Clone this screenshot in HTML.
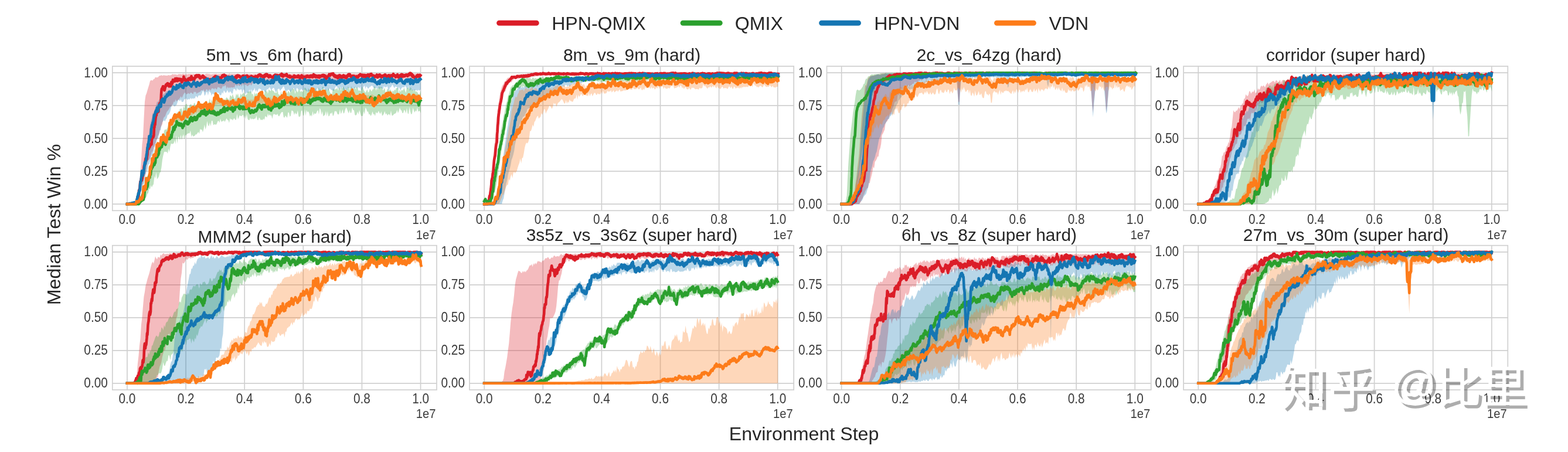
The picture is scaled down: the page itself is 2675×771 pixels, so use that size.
<!DOCTYPE html>
<html lang="en"><head><meta charset="utf-8"><title>Median Test Win % vs Environment Step</title>
<style>html,body{margin:0;padding:0;background:#fff;}body{width:2675px;height:771px;overflow:hidden;}svg{display:block;}text{font-family:"Liberation Sans","Noto Sans CJK SC",sans-serif;fill:#262626;}.tk text{font-size:20.8px;fill:#3a3a3a;}.tt{font-size:29.9px;}.lb{font-size:32.15px;}.lg{font-size:32.1px;}.ln{fill:none;stroke-linejoin:round;stroke-linecap:square;stroke-width:4.6;vector-effect:non-scaling-stroke;}.bd{stroke:none;fill-opacity:0.3;}</style></head><body>
<svg width="2675" height="771" viewBox="0 0 2675 771">
<rect width="2675" height="771" fill="#fff"/>
<g>
<path d="M216.95 113.00V359.30M317.07 113.00V359.30M417.19 113.00V359.30M517.31 113.00V359.30M617.43 113.00V359.30M717.55 113.00V359.30M191.80 348.10H745.00M191.80 292.13H745.00M191.80 236.15H745.00M191.80 180.17H745.00M191.80 124.20H745.00" stroke="#d0d0d0" stroke-width="1.7" fill="none"/>
<path class="bd" fill="#db1d28" transform="translate(216.95 348.10) scale(1.5 -0.1)" d="M1 2 l1 2 1 3 1 2 1 2 1 2 1 3 1 2 1 1 1 3 1 69 1 73 1 66 1 143 1 160 1 213 1 271 1 130 1 303 1 290 1 110 1 35 1 54 1 49 1 47 1 61 1 17 1-3 1-3 1 24 1 2 1 32 1-6 1 3 1 0 1 18 1 10 1 1 1 10 1-12 1 8 1 2 1-6 1 1 1-2 1 2 1 7 1-6 1 2 1 3 1 12 1 6 1-9 1 6 1-4 1 0 1-9 1 15 1 0 1 2 1-4 1-4 1 11 1 2 1-9 1-7 1 6 1-1 1 3 1 6 1-3 1 3 1-4 1-2 1 3 1 2 1-11 1 6 1 3 1 2 1-2 1 1 1-7 1 5 1-4 1 4 1-3 1-6 1 9 1 2 1 6 1-10 1 8 1-11 1 0 1-1 1 3 1 0 1 5 1 2 1 2 1-3 1-9 1 10 1-8 1 9 1 0 1-6 1 4 1 2 1 1 1-6 1-2 1-1 1 1 1 9 1 1 1-14 1 14 1-11 1 3 1 3 1-3 1 1 1 4 1-3 1 1 1-6 1-4 1 4 1 0 1 4 1 2 1 0 1-4 1 7 1-2 1-7 1 5 1-1 1-1 1-11 1 12 1 0 1 3 1-2 1-4 1 2 1 1 1 1 1 1 1 2 1 1 1-3 1-4 1 5 1 1 1 0 1-2 1 4 1-3 1-4 1 0 1-3 1 1 1-3 1 5 1 2 1 3 1 1 1-5 1-1 1 5 1 0 1-1 1 1 1 0 1 0 1 1 1-4 1 5 1-1 1-4 1 5 1-2 1-8 1 4 1 4 1-1 1 1 1-4 1-2 1 2 1 0 1-1 1 7 1-10 1 11 1 1 1-7 1 8 1-7 1 1 1 1 1-1 1 1 1-4 1 3 1-1 1 3 1-7 1 8 1 0 1 0 1-4 1 2 1-1 1-3 1 4 1-3 1 6 1-6 1 6 1-3 1-3 1 8 1-2 1-8 1 6 1 2 1-2 1 1 1-1 1 1 1-4 1 1 1 4 1-2 1-8 1 7 1 3 1-3 1 1 1-5 1 2 1 3 1-3 1-1 1-1 1 7 1 1 1-5 1 4 1-4 1-2 1 5 1-1 1 4 1-4 1-1 1 1 1 2 1-11 1 10 1 0 1 0 1-3 1 1 1 3 1-2 1-5 1 9 1-5 1 4 1 2 1-3 1 0 1 2 1-2 1 1 1 2 1-5 1 4 1-1 1-1 1 0 1 1 1-2 1 4 1-7 1 2 1-2 1 3 1 0 1 3 1-7 1 5 1-2 1 6 1-4 1-2 1 3 1 1 1-5 1 1 1-1 1 0 1 6 1-2 1-3 1 0 1 2 1 0 1-4 1 1 1 1 1-1 1 1 1-1 1 4 1 2 1-1 1 0 1-2 1-1 1-2 1 4 1 0 1 0 1-1 1 0 1 2 1 1 1-4 0-92 -1 10 -1-24 -1-5 -1 17 -1-6 -1-6 -1 0 -1 2 -1 8 -1-2 -1 19 -1-44 -1 13 -1 19 -1-15 -1-14 -1 7 -1 27 -1-1 -1-29 -1-2 -1 29 -1-14 -1 0 -1-20 -1 18 -1-20 -1 12 -1 2 -1-15 -1 33 -1-9 -1 8 -1-17 -1 6 -1-8 -1 3 -1 0 -1-10 -1-8 -1 32 -1-6 -1-10 -1-12 -1 0 -1 24 -1 16 -1-19 -1 10 -1-3 -1-20 -1 11 -1-22 -1 8 -1 24 -1-33 -1 18 -1 12 -1-7 -1-15 -1 1 -1 18 -1-5 -1-2 -1-18 -1-6 -1 10 -1 12 -1 20 -1-43 -1 25 -1-13 -1 27 -1-5 -1-1 -1 14 -1-43 -1 14 -1 11 -1-18 -1 27 -1 1 -1-24 -1 12 -1-18 -1-2 -1-5 -1 36 -1-17 -1-21 -1 11 -1 2 -1 19 -1-8 -1-10 -1-2 -1-14 -1-7 -1 15 -1 16 -1-20 -1 32 -1-17 -1 2 -1-15 -1-11 -1 12 -1 8 -1-4 -1-12 -1-6 -1 11 -1 9 -1 9 -1-31 -1 7 -1 8 -1-10 -1 5 -1-2 -1 38 -1 7 -1-23 -1-26 -1 34 -1 9 -1-13 -1-8 -1 27 -1-28 -1 1 -1-20 -1 9 -1-4 -1 3 -1 28 -1-7 -1-22 -1 22 -1 1 -1-5 -1-19 -1 33 -1-30 -1-20 -1 37 -1-33 -1-1 -1-6 -1 15 -1-3 -1 32 -1-29 -1-13 -1 24 -1-9 -1 29 -1-1 -1-46 -1 47 -1-30 -1-13 -1 34 -1-14 -1 3 -1-7 -1-12 -1 2 -1 5 -1-10 -1 10 -1-28 -1 21 -1 10 -1-39 -1-2 -1 41 -1-16 -1-30 -1 20 -1-16 -1 55 -1-21 -1-16 -1 1 -1-3 -1 34 -1 2 -1-30 -1-2 -1 1 -1-26 -1-25 -1 34 -1-18 -1-11 -1-12 -1 8 -1 21 -1-15 -1 33 -1-45 -1 48 -1-63 -1 47 -1-34 -1 7 -1 23 -1-37 -1 24 -1 8 -1-52 -1 12 -1-7 -1-3 -1 12 -1-23 -1 22 -1-23 -1 31 -1-44 -1 65 -1-3 -1-22 -1 19 -1-34 -1-20 -1 6 -1 17 -1 3 -1 5 -1-42 -1 5 -1 23 -1-26 -1 17 -1-1 -1 1 -1-40 -1 19 -1 3 -1-37 -1 37 -1 6 -1-42 -1-6 -1 45 -1-23 -1 6 -1-3 -1-27 -1 2 -1-16 -1 0 -1-22 -1 43 -1-14 -1 15 -1-46 -1 13 -1 13 -1 2 -1-29 -1 18 -1-6 -1-9 -1-4 -1 31 -1-9 -1-22 -1-39 -1-22 -1 30 -1-29 -1-23 -1-8 -1-19 -1-9 -1 32 -1-49 -1 14 -1-50 -1-10 -1-30 -1 2 -1-29 -1-27 -1-18 -1-18 -1-40 -1-39 -1-4 -1-37 -1-90 -1-27 -1-27 -1-72 -1-49 -1-20 -1-62 -1-15 -1-59 -1-52 -1-2 -1-77 -1-6 -1-49 -1-56 -1-31 -1-4 -1-46 -1-60 -1-122 -1-33 -1-28 -1-110 -1-25 -1-86 -1-21 -1-51 -1-93 -1-58 -1-19 -1 0 -1 0 -1 0 -1 0 -1 0 -1 0 -1 0 -1 0 -1 0 -1 0z"/>
<path class="bd" fill="#2ba02e" transform="translate(216.95 348.10) scale(1.5 -0.1)" d="M10 0 l1 20 1 21 1 10 1 15 1 32 1 9 1 44 1 34 1 56 1 59 1 41 1 27 1 53 1 58 1 67 1 84 1 35 1 51 1 85 1 12 1 116 1 13 1-14 1 107 1-46 1 38 1 3 1 62 1 69 1-30 1 13 1 101 1 31 1-8 1 8 1 33 1 59 1-19 1-16 1-9 1 31 1 84 1-38 1 92 1-29 1 75 1 40 1-57 1 52 1 51 1-2 1 14 1-85 1 125 1-46 1 62 1 7 1 13 1-98 1 29 1 44 1 12 1 1 1-72 1 34 1 60 1 2 1-74 1 42 1-9 1-34 1 60 1-4 1-16 1-19 1-1 1 55 1-4 1-13 1 60 1-33 1-25 1 36 1 58 1-100 1 84 1-50 1 4 1 4 1 73 1-36 1 47 1-6 1 3 1 10 1-89 1 56 1-48 1 23 1 25 1-58 1 52 1 22 1-12 1-15 1-28 1 93 1-12 1-21 1 57 1-52 1-37 1 19 1 75 1-36 1 38 1-65 1 2 1 62 1-32 1 27 1 4 1 21 1-76 1 36 1-4 1 52 1 2 1 2 1 2 1 2 1-56 1 17 1-61 1 90 1-52 1 33 1-19 1-33 1 44 1 16 1-35 1 24 1-46 1-8 1 37 1 73 1-37 1 24 1-56 1 79 1-16 1-15 1 23 1-10 1-8 1-9 1-33 1 18 1-14 1 68 1-94 1 4 1-32 1 91 1-63 1 16 1 40 1-26 1-44 1 87 1-59 1 44 1-5 1-39 1 92 1-69 1 74 1-17 1 6 1-95 1 86 1-33 1-23 1 54 1-1 1-48 1 25 1-21 1 8 1 30 1 42 1-14 1-19 1-57 1 77 1-26 1-27 1 18 1 27 1-13 1-17 1-19 1 57 1-30 1-20 1 13 1 53 1-46 1 17 1-53 1 89 1 0 1-50 1-19 1 25 1-2 1-14 1 39 1-49 1-35 1-12 1-13 1 104 1-20 1-6 1 10 1 1 1 30 1-59 1 59 1-5 1-50 1 36 1 12 1 26 1-34 1-52 1 72 1-79 1 92 1-20 1-42 1 41 1 20 1-50 1-52 1 78 1 23 1-57 1 40 1 5 1-58 1-1 1 3 1-12 1 59 1 11 1-49 1-26 1-23 1 30 1 30 1-56 1 10 1 54 1-20 1-28 1 36 1 0 1 55 1-9 1-71 1 57 1-41 1 55 1 2 1-15 1 17 1-24 1-45 1 23 1 25 1-109 1 45 1 50 1-25 1-10 1 17 1-7 1-50 1 46 1-26 1 39 1-15 1 41 1 0 1-1 1-95 1 75 1-50 1 39 1-11 1 11 1 39 1-52 1-41 1 92 1-15 1 31 1-59 1 52 1-13 1-44 1 21 1-40 1 46 1-48 1 5 1-11 1-24 1-25 1 28 1 49 0-390 -1 38 -1 3 -1-16 -1 76 -1-73 -1 21 -1-38 -1 37 -1 49 -1-103 -1-14 -1 53 -1 74 -1-123 -1 17 -1 90 -1-94 -1 46 -1 17 -1-56 -1-1 -1 43 -1 14 -1 35 -1-55 -1-37 -1 55 -1-45 -1-19 -1-3 -1-15 -1-16 -1 1 -1 87 -1-90 -1 29 -1-6 -1-21 -1 39 -1-21 -1 58 -1-41 -1-27 -1-11 -1 74 -1-45 -1 21 -1 34 -1-28 -1-16 -1 28 -1-73 -1 36 -1-7 -1 52 -1-56 -1-26 -1 35 -1-8 -1 54 -1-8 -1 51 -1 21 -1-114 -1 53 -1-78 -1-4 -1 2 -1 55 -1 47 -1-77 -1 52 -1-56 -1-14 -1 11 -1 78 -1 4 -1 45 -1-88 -1-11 -1 56 -1-60 -1 33 -1 45 -1 26 -1-38 -1-56 -1-12 -1 72 -1-49 -1-32 -1 83 -1-82 -1-10 -1 14 -1 44 -1 0 -1 2 -1-65 -1-22 -1 69 -1-29 -1 15 -1-51 -1-8 -1 91 -1-87 -1 89 -1-68 -1-10 -1-14 -1 89 -1-64 -1 93 -1 22 -1-107 -1 74 -1-19 -1-35 -1-14 -1 17 -1-40 -1 75 -1-95 -1 32 -1-31 -1 55 -1 36 -1-20 -1 42 -1-102 -1 117 -1-109 -1 0 -1 86 -1-6 -1-90 -1-16 -1 10 -1 102 -1-56 -1-12 -1 34 -1-46 -1 57 -1 19 -1 1 -1-88 -1-15 -1 66 -1 9 -1-96 -1 21 -1 18 -1-35 -1 3 -1 92 -1 0 -1-15 -1-26 -1-31 -1 3 -1 39 -1-19 -1 5 -1-1 -1 17 -1-22 -1-66 -1 60 -1-4 -1 20 -1-29 -1 44 -1-68 -1 13 -1 12 -1-67 -1 23 -1-26 -1 8 -1-8 -1 26 -1 21 -1-50 -1 9 -1 70 -1-48 -1-5 -1-5 -1-5 -1 16 -1-19 -1 31 -1-41 -1 1 -1 19 -1 84 -1-85 -1 64 -1-51 -1 57 -1-6 -1-17 -1 2 -1 17 -1-41 -1-29 -1 94 -1-101 -1-6 -1 32 -1-13 -1-28 -1 25 -1-10 -1 26 -1-82 -1 48 -1 3 -1 29 -1-34 -1-29 -1 31 -1-21 -1 6 -1-15 -1 56 -1-71 -1 34 -1-7 -1-43 -1-20 -1 9 -1-2 -1-12 -1 78 -1-4 -1-93 -1 67 -1-69 -1 22 -1 69 -1-94 -1-52 -1 85 -1-75 -1-55 -1 49 -1-7 -1 16 -1-84 -1 31 -1-16 -1-27 -1 5 -1-26 -1-6 -1-10 -1 38 -1-44 -1 113 -1-54 -1 9 -1-12 -1-5 -1-27 -1 13 -1-81 -1 94 -1-40 -1-61 -1 93 -1-95 -1 48 -1 8 -1-114 -1 140 -1-151 -1 72 -1-58 -1-8 -1-4 -1 12 -1-54 -1-97 -1 64 -1-89 -1 33 -1-5 -1 8 -1-11 -1-53 -1-76 -1-131 -1-80 -1-14 -1-63 -1-24 -1-21 -1 123 -1-109 -1 41 -1-139 -1-21 -1-34 -1 40 -1-71 -1 14 -1-79 -1-12 -1-50 -1-20 -1-31 -1-22 -1-10 -1-3 -1-19 -1-8 -1-8 -1-5 -1 0 -1 0 -1 0z"/>
<path class="bd" fill="#1576b3" transform="translate(216.95 348.10) scale(1.5 -0.1)" d="M0 1 l1 3 1 5 1 4 1 5 1 4 1 5 1 5 1 3 1 5 1 1 1 70 1 84 1 75 1 65 1 81 1 62 1 90 1 89 1 50 1 74 1 85 1 116 1 79 1 77 1 86 1 122 1 65 1 58 1 88 1-12 1 57 1 35 1 50 1 58 1-2 1 29 1 24 1-18 1 35 1 31 1 31 1 1 1 18 1 21 1 8 1 1 1 14 1 13 1-24 1 45 1 15 1 6 1 5 1 13 1 1 1 11 1 9 1 10 1 8 1 0 1 13 1 2 1-19 1 35 1-6 1-1 1 4 1-5 1 7 1 6 1-10 1 11 1-21 1 22 1 4 1-13 1 2 1 12 1 0 1 1 1-6 1-7 1 10 1 1 1 7 1-4 1 11 1-2 1-3 1 12 1 5 1 1 1-6 1 7 1 4 1-5 1 8 1 0 1-2 1 2 1 0 1 22 1 22 1-43 1-13 1 6 1-9 1 13 1-10 1 16 1-13 1 16 1 2 1 6 1-8 1 1 1 33 1-38 1 43 1-44 1 2 1 0 1-6 1-3 1-5 1 15 1-2 1-26 1 9 1 18 1 0 1 7 1-9 1 16 1-20 1-8 1 7 1 11 1-2 1-11 1 30 1-21 1 6 1-10 1 3 1 4 1 0 1-1 1-24 1 18 1 9 1 0 1 0 1-6 1 6 1-4 1-11 1-10 1 21 1 0 1 3 1 5 1-20 1 10 1 14 1-4 1-15 1 8 1 50 1-45 1 16 1-12 1-5 1 7 1-11 1-2 1 7 1-2 1-9 1 13 1-1 1-3 1-6 1-9 1-5 1 16 1 4 1 1 1-4 1-3 1-10 1 11 1-8 1 6 1-7 1 13 1-3 1 5 1-12 1 0 1 11 1 0 1 7 1-18 1 0 1 0 1 10 1-3 1-2 1-10 1 11 1-13 1 19 1 0 1-11 1 4 1-23 1 9 1 23 1-24 1 16 1-2 1-1 1 6 1-16 1 16 1-18 1 22 1-4 1 8 1-11 1 6 1 0 1-4 1 3 1 4 1-12 1 9 1-11 1-9 1-5 1 18 1-15 1 11 1-3 1 1 1 11 1 2 1-1 1-8 1 11 1-12 1 8 1-6 1 7 1-4 1 1 1 1 1 1 1-8 1-16 1 26 1-14 1 4 1 0 1 5 1-11 1 12 1 1 1 0 1-8 1 8 1 8 1-22 1 1 1 13 1-6 1 4 1 1 1 2 1-10 1 12 1-21 1-16 1 28 1-21 1 12 1 13 1 7 1-19 1 1 1 6 1 8 1 5 1-12 1 7 1 6 1-3 1-6 1 5 1-3 1 0 1-6 1 5 1-2 1-3 1-13 1 18 1-2 1-6 1 11 1-2 1-18 1-18 1 26 1 14 1-4 1-2 1 1 1 0 1 1 1-22 1 0 1 8 1 15 1-13 1 15 1-11 1 12 1-3 1 5 1-11 1 6 1-2 0-180 -1-9 -1-7 -1 15 -1-23 -1 17 -1-5 -1 3 -1-14 -1 19 -1-19 -1 30 -1-22 -1-1 -1 81 -1-64 -1 23 -1 27 -1 11 -1-30 -1 10 -1-4 -1-16 -1-33 -1 24 -1 37 -1-64 -1 60 -1 3 -1 4 -1-27 -1 19 -1 39 -1-13 -1-35 -1 6 -1-46 -1-13 -1 74 -1-13 -1 0 -1-5 -1 23 -1-56 -1 15 -1 3 -1 14 -1-34 -1 31 -1-29 -1 32 -1-17 -1 6 -1 1 -1 8 -1 28 -1 4 -1-14 -1-7 -1-20 -1-14 -1 24 -1 21 -1-47 -1 60 -1-22 -1-16 -1-39 -1-11 -1 68 -1-33 -1 26 -1-5 -1-26 -1 27 -1-11 -1 3 -1-43 -1 24 -1 1 -1 28 -1-30 -1 23 -1-14 -1-54 -1 51 -1-9 -1-41 -1 13 -1 70 -1-33 -1-23 -1 58 -1-59 -1 37 -1 7 -1 18 -1-7 -1-44 -1-27 -1 3 -1 13 -1 0 -1 18 -1 8 -1-36 -1 6 -1 21 -1-37 -1 11 -1 45 -1-13 -1-5 -1-20 -1-12 -1 9 -1 1 -1 28 -1 6 -1-39 -1-26 -1 33 -1-16 -1 24 -1 25 -1-5 -1-43 -1-1 -1-18 -1 11 -1 0 -1 19 -1 12 -1-3 -1-3 -1-3 -1 24 -1-29 -1 18 -1-7 -1 18 -1 16 -1-40 -1-25 -1 51 -1 8 -1-22 -1-27 -1-21 -1 22 -1 13 -1 13 -1-30 -1 14 -1-33 -1 67 -1 38 -1-19 -1-26 -1-11 -1-29 -1 42 -1-4 -1-7 -1-36 -1-16 -1 36 -1 39 -1-1 -1-15 -1-26 -1 27 -1 31 -1-22 -1-18 -1 3 -1-37 -1-20 -1 25 -1 18 -1-12 -1-2 -1 30 -1 1 -1 10 -1-23 -1-45 -1 46 -1-40 -1 75 -1-51 -1 10 -1-46 -1 67 -1-87 -1 79 -1-56 -1-5 -1 9 -1-33 -1 24 -1 52 -1 6 -1-68 -1 68 -1 3 -1-20 -1 21 -1-14 -1 36 -1-57 -1 30 -1 10 -1-4 -1-74 -1-2 -1 27 -1 16 -1-32 -1 17 -1 35 -1-35 -1-18 -1 24 -1 22 -1-62 -1 34 -1-52 -1-7 -1 14 -1 31 -1 2 -1-1 -1-36 -1 42 -1-37 -1 9 -1 9 -1-40 -1 54 -1 11 -1 20 -1-80 -1 63 -1-3 -1-47 -1-18 -1 75 -1 12 -1-44 -1-31 -1-8 -1 6 -1-7 -1-39 -1 25 -1 9 -1-49 -1 16 -1-21 -1 21 -1-25 -1 30 -1-35 -1 15 -1-15 -1 2 -1 22 -1-19 -1 2 -1-40 -1-6 -1 1 -1 46 -1-35 -1 23 -1-6 -1-46 -1-40 -1-4 -1-21 -1 21 -1 10 -1-5 -1-34 -1-70 -1-34 -1-24 -1-1 -1-59 -1-17 -1-39 -1 23 -1-14 -1-18 -1-51 -1-92 -1 7 -1-84 -1-59 -1 4 -1-96 -1 11 -1-71 -1-68 -1-77 -1 7 -1-36 -1-69 -1-46 -1-3 -1-95 -1-23 -1-54 -1-85 -1-79 -1-11 -1-88 -1-13 -1-68 -1-70 -1-34 -1-43 -1-13 -1 0 -1 0 -1 0 -1 0 -1 0 -1 0 -1 0 -1 0 -1 0 -1 0 -1 0z"/>
<path class="bd" fill="#fd7c1a" transform="translate(216.95 348.10) scale(1.5 -0.1)" d="M9 0 l1 9 1 36 1 2 1 16 1 34 1 20 1 8 1 40 1 50 1 67 1 40 1 24 1 76 1 33 1 61 1 39 1 64 1 43 1 55 1 40 1 69 1 41 1 37 1 59 1 22 1 52 1-4 1 12 1 17 1 38 1-3 1 87 1-50 1 6 1 6 1 26 1 70 1 58 1 110 1 25 1 10 1-9 1 27 1 4 1 58 1-15 1 3 1 1 1-16 1 12 1 6 1-12 1 25 1 6 1 6 1 33 1-10 1-1 1 11 1 7 1 3 1 29 1-19 1 0 1 9 1 55 1-45 1 9 1 25 1 20 1 2 1 43 1-18 1-40 1 3 1 7 1 5 1-1 1 25 1-2 1 4 1-5 1 11 1 0 1 10 1-1 1 1 1 9 1 6 1 86 1 9 1 57 1-51 1 25 1-85 1 22 1-10 1-7 1-13 1 0 1-3 1 2 1-8 1 4 1 3 1-9 1 13 1 12 1-9 1 8 1-4 1 9 1 3 1-8 1-4 1 5 1-22 1 15 1 13 1 0 1-11 1 3 1 43 1-26 1-5 1-1 1-16 1 26 1-10 1-6 1-1 1 14 1-19 1 19 1-9 1-15 1 34 1 7 1 14 1-17 1 78 1 5 1 19 1-22 1-37 1-16 1-17 1 1 1-17 1-8 1 27 1-16 1 3 1 26 1-39 1 10 1 21 1-1 1-30 1 19 1 4 1-8 1 15 1-1 1 7 1 4 1 22 1-8 1-5 1 33 1-47 1-10 1-11 1 25 1-8 1 8 1 2 1-6 1 11 1-18 1 21 1-19 1 5 1 13 1-26 1 26 1 5 1-18 1 4 1-11 1-5 1 15 1-15 1-2 1 12 1 12 1 34 1-32 1 30 1 71 1 33 1-17 1-17 1-97 1 50 1-18 1 19 1-25 1 43 1-34 1 17 1 5 1 22 1 9 1-2 1-42 1-41 1 2 1-8 1 6 1 9 1-7 1 9 1-21 1 10 1-11 1 14 1-13 1 36 1-51 1 23 1-8 1 1 1 6 1 6 1 0 1 61 1-35 1 53 1-64 1 9 1-15 1 14 1-24 1 57 1 7 1 42 1-53 1-47 1 5 1-3 1 2 1-5 1-9 1 16 1 4 1 4 1-3 1-15 1 13 1 7 1-3 1-3 1-12 1 20 1-14 1-20 1 22 1 11 1 2 1-16 1-4 1-12 1 1 1 12 1 2 1-3 1 9 1-1 1-12 1 16 1-6 1-4 1 3 1 22 1 12 1-27 1 35 1-29 1 10 1 3 1-15 1-24 1 25 1-13 1 7 1 9 1 1 1-8 1 8 1-11 1-25 1 22 1-3 1 5 1 1 1-17 1 7 1 7 1 4 1 13 1-12 1 2 1 3 1-4 1 4 1 8 1-2 1 0 1 0 1-1 1 2 1-6 1-6 1 21 0-89 -1-1 -1-1 -1 10 -1-10 -1-12 -1 8 -1-3 -1 0 -1-4 -1 11 -1-40 -1 35 -1 10 -1 1 -1-12 -1 1 -1 3 -1-4 -1 15 -1-11 -1 4 -1-1 -1-10 -1 12 -1 18 -1-25 -1 7 -1 6 -1-13 -1 9 -1 25 -1-29 -1 18 -1-13 -1 29 -1-44 -1 26 -1-26 -1 14 -1-18 -1 2 -1-4 -1 15 -1-10 -1-1 -1-8 -1-12 -1 20 -1-7 -1-11 -1-48 -1 8 -1 12 -1-46 -1 18 -1 67 -1-19 -1 16 -1-34 -1-1 -1 35 -1-35 -1 30 -1 6 -1 28 -1-23 -1 13 -1-18 -1 16 -1 2 -1-13 -1-2 -1-5 -1 25 -1-39 -1 24 -1-9 -1 26 -1-32 -1-13 -1 16 -1-11 -1 5 -1 41 -1-34 -1 9 -1-15 -1-9 -1 9 -1 13 -1-16 -1 18 -1-8 -1-7 -1-4 -1 33 -1-32 -1 20 -1-12 -1-13 -1 16 -1 27 -1-35 -1-5 -1 2 -1 9 -1-15 -1 0 -1 2 -1 11 -1-11 -1-8 -1-3 -1 28 -1-14 -1-6 -1 42 -1-26 -1 19 -1-5 -1-12 -1 14 -1-35 -1 32 -1-22 -1-13 -1 24 -1-35 -1 19 -1 6 -1-15 -1-13 -1 14 -1 5 -1-4 -1 8 -1-2 -1-6 -1-47 -1 47 -1 13 -1-2 -1 5 -1-13 -1 2 -1-2 -1 9 -1-11 -1 0 -1-3 -1 21 -1-19 -1-13 -1 22 -1 1 -1-26 -1 32 -1-15 -1 11 -1 10 -1-21 -1 5 -1-16 -1 13 -1-14 -1 1 -1-6 -1 13 -1-49 -1 13 -1-35 -1 57 -1-4 -1 11 -1-35 -1 22 -1 0 -1-3 -1 20 -1-32 -1 4 -1 10 -1-3 -1-6 -1-4 -1 8 -1-3 -1 9 -1-50 -1 35 -1-38 -1 3 -1 7 -1 14 -1-21 -1 27 -1-32 -1 3 -1 30 -1-4 -1-4 -1 4 -1 2 -1-5 -1 7 -1 0 -1-3 -1-3 -1-4 -1-1 -1 0 -1 3 -1 4 -1 11 -1-7 -1-17 -1-3 -1 13 -1-13 -1 3 -1 1 -1-8 -1 15 -1 0 -1-17 -1 3 -1 9 -1-1 -1 15 -1 3 -1-4 -1-4 -1-4 -1 1 -1-22 -1-11 -1-35 -1 18 -1-7 -1-13 -1 17 -1-11 -1-16 -1-1 -1 22 -1-4 -1-22 -1-12 -1 2 -1-25 -1-6 -1-1 -1-7 -1 23 -1-35 -1 5 -1 1 -1-30 -1 14 -1-29 -1 10 -1 5 -1-9 -1-13 -1-16 -1-6 -1 11 -1-12 -1 3 -1-28 -1-9 -1-7 -1-3 -1-15 -1-3 -1 14 -1-8 -1-45 -1 11 -1 8 -1 6 -1-44 -1-11 -1-9 -1-37 -1-52 -1-86 -1-28 -1-87 -1-19 -1-17 -1 2 -1-41 -1-22 -1 16 -1-41 -1-3 -1-21 -1 3 -1-22 -1-49 -1-29 -1-41 -1-43 -1-73 -1-5 -1-86 -1-32 -1-69 -1-53 -1-28 -1-52 -1-50 -1-33 -1-18 -1-65 -1-54 -1-25 -1-19 -1-19 -1-18 -1-18 -1-6 -1 0 -1 0z"/>
<path class="ln" stroke="#db1d28" transform="translate(216.95 348.10) scale(0.5 -0.1)" d="M0 0 l1 0 1 1 1 0 1 0 1-1 1 1 1 1 1 1 1 0 1 1 1-1 1 1 1 1 1-1 1 1 1 1 1 0 1 1 1 1 1 0 1 1 1 2 1-2 1 2 1-3 1 1 1-2 1 2 1 2 1-2 1 6 1 23 1 26 1 21 1 1 1-6 1 7 1 28 1 16 1 101 1-12 1 39 1 4 1 83 1 40 1 3 1 9 1 35 1 3 1-32 1 22 1 17 1 68 1-27 1 74 1 5 1 54 1 40 1-1 1 11 1 49 1 25 1 37 1-6 1-29 1 38 1-17 1 54 1 28 1 79 1 68 1 20 1-38 1-33 1 30 1-4 1 7 1 20 1 25 1-18 1 23 1-11 1 4 1 73 1 23 1 8 1 7 1 26 1-14 1 10 1 26 1 129 1 1 1 68 1-24 1 62 1 50 1 33 1 14 1 6 1 74 1-11 1 14 1-27 1 4 1 15 1-9 1 71 1 8 1 55 1 13 1-3 1-6 1-7 1 28 1 125 1 78 1 28 1 7 1-15 1 33 1 17 1-21 1 20 1-50 1 16 1-33 1 7 1 26 1 22 1 11 1 29 1-20 1 5 1 27 1-23 1 32 1 4 1-8 1 3 1-22 1-12 1-15 1 41 1-5 1-22 1 2 1 1 1-15 1 22 1 54 1-48 1 19 1 3 1 15 1 47 1-14 1-14 1 10 1 14 1-13 1-4 1-4 1 45 1-23 1 21 1-35 1 11 1 30 1-46 1 5 1-1 1 35 1-31 1 18 1-15 1 26 1 0 1-1 1-11 1-4 1 14 1-27 1 2 1 21 1-52 1 18 1 7 1-9 1 25 1 7 1-4 1 54 1-29 1-10 1-13 1-3 1 12 1-32 1 22 1-41 1 5 1 8 1 3 1 0 1 15 1-29 1 56 1-12 1 2 1 10 1 7 1-12 1 10 1-9 1-18 1 1 1 9 1 54 1-27 1-14 1-16 1 23 1-13 1 16 1-26 1 4 1-19 1 24 1 4 1 11 1 5 1 35 1 6 1-1 1 3 1-27 1 15 1 0 1 11 1-5 1-2 1 10 1-21 1-10 1 30 1-20 1-30 1-2 1 0 1 14 1-1 1 1 1 1 1 17 1 3 1-5 1 16 1-25 1 19 1-31 1 15 1-4 1-18 1 6 1-20 1 22 1-2 1-31 1 7 1-15 1-1 1 17 1-6 1-12 1-8 1 9 1 16 1-31 1 27 1-3 1 5 1 3 1-13 1-1 1-33 1 26 1-16 1 20 1-7 1 29 1-25 1 19 1 16 1 14 1-23 1 23 1 4 1 12 1-10 1 17 1-23 1 9 1 2 1 7 1-31 1-4 1 18 1-11 1-19 1 32 1-7 1-19 1 25 1 0 1-4 1-41 1 36 1-16 1 16 1 6 1 7 1-8 1 29 1 8 1-5 1 11 1-5 1-10 1 15 1 5 1-34 1 11 1-25 1 5 1 28 1-24 1-36 1 29 1-1 1 14 1-8 1-10 1-14 1-8 1 41 1-28 1 7 1-13 1 0 1 4 1-2 1 12 1-24 1 23 1 0 1-7 1 2 1 4 1 2 1 1 1 5 1-5 1 5 1-3 1 3 1-19 1 24 1-2 1-13 1 12 1 23 1-33 1 24 1 17 1 3 1-8 1-2 1 6 1-14 1 13 1-10 1 6 1-5 1-14 1 3 1-13 1 10 1-14 1 13 1-1 1-7 1 24 1 2 1-10 1 15 1-29 1 15 1-18 1-4 1 15 1 15 1-26 1 13 1 9 1-5 1 13 1-2 1 6 1-13 1 6 1-11 1-9 1-13 1 6 1-9 1 10 1 16 1 0 1-27 1 17 1-14 1 12 1 23 1-9 1-41 1 26 1-9 1 20 1-13 1 3 1 5 1-1 1 0 1 1 1 8 1-1 1 8 1-10 1 6 1-12 1-13 1 18 1-14 1 12 1 9 1 19 1 5 1-13 1 7 1-3 1 18 1-22 1 3 1 14 1-18 1-10 1 17 1-9 1-5 1-3 1 3 1-13 1 7 1 2 1 10 1-23 1 3 1 36 1-28 1 13 1 17 1 5 1 5 1 0 1-8 1-20 1 23 1-7 1-20 1-5 1 10 1-23 1 9 1 13 1-8 1 18 1-4 1-5 1-19 1 1 1 2 1-1 1-1 1-7 1 3 1-2 1-11 1 5 1 21 1 12 1 3 1-3 1 11 1-4 1 6 1-4 1 1 1-17 1 15 1 2 1-14 1-15 1 24 1-25 1 6 1 6 1 10 1-2 1 9 1 2 1-3 1-3 1 10 1-6 1 11 1 11 1-38 1 29 1-20 1 6 1-24 1 29 1-1 1-7 1 5 1-5 1 0 1-5 1 0 1 17 1-3 1 6 1 6 1-7 1-21 1-11 1 3 1 4 1-12 1-4 1 3 1-4 1 5 1 16 1-28 1 3 1-1 1 4 1-2 1 8 1-7 1 2 1 2 1-1 1-14 1 15 1-2 1-6 1 30 1-28 1-2 1 13 1-3 1 7 1-12 1 7 1-2 1 4 1 2 1-14 1 20 1-3 1 11 1-8 1-14 1 10 1-7 1-30 1 13 1-8 1 8 1 3 1 2 1 34 1-29 1 9 1-10 1 16 1-15 1-21 1 21 1-12 1 13 1 6 1 2 1-37 1 21 1 0 1 7 1 5 1 13 1-15 1 8 1 11 1 1 1-15 1-5 1-2 1 1 1 8 1-4 1-6 1 21 1-2 1-7 1 14 1-23 1 9 1 14 1-10 1-14 1-2 1 27 1 8 1 11 1-19 1-19 1 13 1 6 1 3 1-6 1-6 1-19 1 22 1 2 1-3 1-10 1 3 1-1 1-16 1 23 1 5 1-14 1-4 1-14 1 31 1 0 1-11 1 5 1 0 1-5 1 2 1 10 1 7 1-12 1 3 1 14 1-23 1 15 1 7 1 0 1-23 1-12 1-6 1-9 1 35 1-31 1-18 1 10 1 13 1 7 1-8 1 13 1 6 1-1 1 16 1 0 1 21 1-11 1 9 1-21 1 12 1 6 1 5 1 7 1-9 1-3 1 4 1 12 1-7 1 1 1 9 1-29 1-9 1 10 1-24 1 25 1-11 1-10 1-13 1 11 1-12 1 16 1 2 1-17 1-3 1-14 1 19 1-15 1 0 1 38 1 0 1-19 1 25 1-9 1 1 1-13 1-11 1-5 1-7 1 27 1-19 1 6 1 0 1-7 1 31 1 4 1-19 1-10 1-4 1 24 1-19 1-8 1 10 1-18 1-3 1 8 1-1 1 31 1-2 1 5 1-5 1 22 1-9 1-10 1 27 1-5 1 1 1 1 1-26 1 3 1-14 1 9 1-24 1 23 1-16 1 18 1 1 1 2 1-1 1-3 1-17 1 19 1-4 1-14 1 5 1-6 1-6 1 12 1-9 1 6 1 9 1-17 1-2 1-1 1 11 1-5 1 10 1 18 1-9 1 18 1-10 1 7 1 15 1-13 1 9 1-1 1-17 1-1 1-8 1 11 1 5 1 4 1-17 1-14 1 3 1 16 1-7 1 18 1 0 1-2 1-33 1 11 1 2 1 2 1-10 1 27 1-5 1-5 1 1 1 19 1-7 1 0 1-30 1 14 1 11 1-6 1 12 1 15 1-2 1-13 1 18 1-22 1-3 1-11 1 13 1-3 1-5 1-22 1 24 1-10 1-5 1 7 1-17 1 18 1-10 1 6 1 3 1-8 1 6 1 25 1-22 1-24 1 29 1-24 1 33 1-9 1 3 1 11 1-3 1 5 1-18 1-12 1 4 1-6 1-6 1-3 1 23 1-2 1-3 1-9 1 8 1 8 1 1 1-9 1 17 1-2 1 1 1 10 1-3 1-9 1-13 1 0 1-13 1 11 1-14 1 16 1 5 1-19 1 21 1 8 1-9 1 8 1-28 1 4 1-10 1 13 1 7 1 11 1-18 1 8 1 12 1-15 1-5 1 21 1-5 1 29 1-12 1-4 1-6 1-2 1 0 1-17 1 4 1-20 1 19 1 9 1-18 1 9 1 7 1 21 1-26 1-13 1 6 1-20 1 29 1-11 1 12 1-17 1 26 1-20 1 26 1-29 1-8 1 47 1-23 1-5 1 4 1 19 1-33 1 17 1-15 1 8 1 12 1-6 1-10 1 11 1 11 1 0 1-10 1 15 1-6 1-2 1-10 1 9 1-15 1 12 1 1 1 19 1-13 1-3 1 2 1 29 1 3 1-6 1-2 1 6 1-25 1 2 1-18 1 24 1-32 1-12 1 27 1-10 1-10 1-2 1-16 1-5 1 0 1-4 1-2 1 22 1-23 1 19 1-2 1 25 1 0 1-12 1 25 1-27 1 21 1-4 1-15 1-6 1 20 1 11 1-4 1-11 1 7"/>
<path class="ln" stroke="#2ba02e" transform="translate(216.95 348.10) scale(0.5 -0.1)" d="M0 0 l1 0 1 0 1 0 1 0 1 0 1 0 1 0 1 0 1 0 1 0 1 0 1 0 1 0 1 0 1 0 1 0 1 0 1 0 1 0 1 0 1 0 1 0 1 0 1 0 1 0 1 0 1 0 1 0 1 0 1 0 1 0 1 0 1 0 1 0 1 1 1 2 1 10 1-13 1 0 1 0 1 6 1 11 1 4 1 21 1 0 1 0 1 1 1 6 1 9 1-1 1 80 1 5 1 23 1-73 1-20 1 5 1 57 1-16 1 62 1 45 1 36 1-18 1 61 1-15 1-5 1-29 1 45 1-15 1 12 1 23 1 69 1-3 1 60 1 24 1-17 1 5 1-7 1 55 1-3 1-2 1 46 1 60 1 1 1-8 1 48 1-21 1 2 1 40 1 64 1-16 1-39 1-12 1 2 1 27 1 0 1 11 1 62 1 34 1 16 1 18 1-32 1-6 1 12 1 21 1 16 1-13 1 22 1 4 1 99 1-15 1-20 1 28 1 28 1-21 1 42 1 24 1-35 1-16 1 62 1-28 1 36 1-9 1-3 1 46 1 1 1 22 1 2 1-17 1-26 1-29 1-18 1 65 1 1 1 20 1 13 1 0 1 25 1 7 1-13 1 9 1-29 1 19 1-21 1 24 1-13 1-7 1 26 1-9 1 31 1 18 1-45 1 33 1 32 1 37 1 2 1-9 1 47 1 35 1-28 1-13 1-5 1 23 1 37 1 11 1-23 1 35 1-6 1 22 1 48 1-7 1-26 1-9 1 1 1 3 1 5 1-30 1-7 1 36 1-14 1-12 1 6 1-3 1-18 1 33 1-4 1-17 1-15 1 3 1-38 1 40 1-12 1 8 1-5 1 42 1-6 1 29 1-8 1-5 1 36 1-8 1-21 1 14 1-12 1 16 1-43 1 28 1-31 1 13 1-7 1 26 1 18 1-13 1-2 1 61 1-35 1 36 1-36 1 62 1-22 1-36 1 25 1-14 1-22 1 15 1 41 1-8 1 6 1-8 1-7 1 32 1-10 1-41 1 42 1-27 1-15 1 23 1-18 1 26 1-3 1 41 1-12 1 23 1-8 1-5 1 13 1 19 1-32 1 20 1-14 1 18 1 30 1-19 1 44 1-41 1 28 1-14 1 33 1-7 1-42 1 39 1 10 1-14 1 0 1 34 1-76 1 14 1-15 1 16 1-31 1 33 1 28 1-32 1 8 1-14 1 7 1 22 1 10 1 58 1-59 1-1 1 1 1-8 1 11 1-20 1-4 1 14 1-1 1-16 1 27 1-4 1 26 1-55 1 14 1-2 1 6 1 21 1-37 1-12 1 35 1-20 1-24 1 29 1-5 1-14 1-19 1 16 1 21 1-4 1 14 1-14 1 9 1-32 1 22 1 16 1-5 1-1 1-12 1 36 1 14 1 1 1-41 1 25 1 15 1-13 1 3 1 25 1-40 1 57 1-13 1-29 1 62 1-40 1-36 1 33 1-3 1 5 1 5 1-6 1 21 1-6 1 11 1-35 1 21 1 4 1 19 1 9 1-26 1 10 1 4 1-3 1-3 1-1 1-15 1 6 1 0 1-11 1 36 1-7 1 2 1-23 1-43 1 37 1-12 1 38 1 3 1-18 1-19 1 29 1 3 1 42 1-4 1-16 1 7 1 23 1 28 1-57 1 21 1-6 1 26 1 4 1-35 1-40 1 0 1 22 1-33 1 33 1 12 1-17 1 3 1-9 1 17 1-10 1 7 1-26 1-12 1 45 1-25 1 11 1-7 1 1 1-23 1 29 1-7 1 15 1-22 1-11 1 23 1-9 1-2 1 14 1-4 1-19 1 22 1 13 1-30 1-25 1-25 1-4 1-9 1-4 1-14 1 12 1 19 1-1 1 17 1-23 1 21 1-19 1-12 1-4 1 14 1-12 1 11 1-1 1 5 1 26 1-9 1-3 1 0 1-9 1 11 1 2 1 28 1-10 1 31 1 7 1-3 1 36 1-19 1 7 1 25 1-26 1 5 1-7 1-31 1 26 1 9 1-30 1-31 1 50 1-23 1 45 1-12 1 16 1-10 1-6 1-18 1 33 1-16 1-20 1 26 1-6 1-11 1 15 1 27 1-27 1-6 1-14 1 14 1 10 1 5 1-60 1-8 1 12 1-7 1 7 1 2 1 10 1-33 1 13 1-25 1 42 1-13 1 11 1 7 1-8 1 56 1-18 1 69 1-37 1-45 1 42 1 7 1 4 1-23 1 36 1-60 1 3 1 5 1 27 1-14 1-10 1-4 1 42 1-14 1-31 1 29 1 11 1-72 1 14 1 17 1 12 1-32 1 30 1-20 1 27 1-18 1 83 1-67 1 8 1 14 1 34 1-9 1-1 1-40 1 21 1 55 1-61 1 23 1 19 1 36 1-35 1 37 1-1 1-26 1 9 1 25 1-48 1 18 1 11 1-11 1 29 1-34 1-1 1-3 1-11 1 25 1-49 1-4 1 18 1 9 1 10 1 5 1-36 1-4 1-6 1-3 1 10 1-1 1 7 1-5 1-9 1-9 1 20 1 10 1 13 1-16 1 12 1-7 1 0 1-1 1 41 1-59 1 14 1 9 1-2 1 5 1 27 1-33 1 2 1 4 1 3 1-19 1 23 1-31 1-20 1 32 1 18 1 5 1-13 1 1 1 39 1-35 1 50 1-63 1 27 1-7 1 34 1-5 1-19 1 3 1-12 1 14 1-6 1 8 1-20 1-14 1 25 1 36 1-20 1-21 1-17 1 1 1 38 1-61 1 19 1 7 1 20 1-13 1 35 1-27 1 0 1 34 1-14 1 24 1-7 1-20 1 2 1 17 1 10 1-27 1 11 1-9 1 11 1 34 1-32 1 14 1 2 1-9 1-3 1-2 1-1 1 22 1-12 1-8 1 4 1 2 1 9 1-15 1 5 1-31 1 30 1-25 1 6 1-25 1 14 1 13 1-32 1 23 1-14 1 33 1 18 1-26 1 2 1 28 1-31 1 4 1-5 1-7 1-17 1-1 1 31 1 7 1-40 1 27 1-21 1 30 1-13 1-31 1 31 1-19 1-27 1 18 1-22 1-12 1 30 1-1 1-5 1 16 1-10 1 37 1-18 1 11 1 19 1 15 1 4 1-23 1 26 1 0 1 20 1-25 1-33 1 15 1-22 1 32 1-4 1 3 1-14 1 16 1-22 1 6 1-20 1 16 1-7 1 9 1-34 1 28 1-23 1 53 1 0 1-16 1 5 1-11 1-20 1-11 1 16 1-19 1-2 1 7 1 31 1 21 1 3 1-37 1 1 1 24 1 7 1-28 1-14 1-19 1 37 1 30 1-17 1-30 1 40 1 2 1 6 1-2 1-12 1-22 1-3 1 5 1 35 1-40 1 24 1-26 1 26 1-14 1 6 1-39 1-3 1 15 1 1 1 54 1-38 1 14 1-35 1 17 1 6 1-2 1-16 1 13 1-40 1 26 1-12 1-7 1 3 1-6 1 40 1-32 1 16 1-16 1 28 1-19 1-24 1 9 1-19 1 27 1 17 1-11 1-15 1 47 1-59 1 50 1-20 1 26 1 4 1 27 1-34 1 17 1 13 1 18 1-45 1-38 1 32 1-29 1 35 1-22 1-4 1 22 1-20 1-26 1 13 1 12 1 4 1 4 1-12 1 8 1 28 1-51 1 69 1 12 1-27 1-10 1-15 1 33 1-27 1 1 1-7 1-23 1 29 1 12 1-15 1-18 1 23 1-11 1 45 1-34 1 19 1-32 1 9 1 4 1 0 1 21 1-42 1 7 1 16 1 42 1 1 1 26 1-37 1-4 1-2 1 3 1-8 1-19 1 24 1-20 1-7 1-4 1 11 1 9 1-21 1 12 1-7 1-4 1 42 1-5 1-7 1-26 1 23 1-23 1-24 1-10 1 16 1-9 1-28 1 33 1 19 1-11 1-3 1-13 1 21 1 9 1 10 1 4 1-6 1 5 1-20 1 8 1 8 1-14 1-12 1 8 1 14 1 1 1-7 1-31 1 6 1 17 1-45 1 14 1 24 1-11 1-4 1 15 1-20 1-10 1 60 1-14 1-23 1 0 1 13 1-21 1-4 1 25 1-13 1 14 1-6 1 2 1 26 1-29 1 5 1 26 1-23 1-9 1 13 1 13 1-30 1 14 1 8 1-27 1 17 1-4 1 45 1-32 1 31 1-11 1 10 1-22 1 3 1-32 1 33 1-9 1-11 1-31 1 20 1 17 1 17 1-24 1 46 1 16 1 4 1-8 1-9 1 0 1-20 1 10 1-19 1-72 1 28 1 48 1-35 1 1 1 3 1 3 1 10 1 51 1-76 1 11 1 9 1 0 1 4 1 12 1-41 1 15 1-7 1 9 1 20 1-32 1 16 1-34 1 18 1-27 1-18 1-23 1 36 1 13 1 3 1 19 1 19 1-7"/>
<path class="ln" stroke="#1576b3" transform="translate(216.95 348.10) scale(0.5 -0.1)" d="M0 1 l1-1 1 0 1 3 1 3 1-4 1 0 1 4 1 3 1 4 1-1 1-1 1 0 1 1 1 2 1 3 1-1 1 2 1 4 1-1 1-1 1-2 1 6 1 0 1 5 1-3 1-6 1-6 1 12 1 5 1-20 1 16 1 23 1 33 1 1 1 44 1-13 1 42 1 27 1 9 1-18 1 59 1-15 1 12 1 87 1 44 1 28 1-3 1 56 1 58 1 64 1-52 1-28 1 1 1 65 1 20 1-45 1 67 1 5 1 68 1 44 1-27 1 6 1 40 1 1 1 58 1 55 1 27 1 42 1 53 1 11 1 48 1-44 1 69 1 34 1 74 1-63 1 47 1 22 1-14 1-3 1 47 1 84 1 22 1 27 1 26 1 6 1 25 1 16 1 9 1 33 1 38 1 40 1-2 1-10 1 33 1 20 1 19 1-15 1 34 1 10 1 13 1 23 1-59 1 21 1-25 1 48 1 19 1 35 1-37 1 15 1-8 1 45 1-32 1 51 1-55 1 61 1 41 1 9 1 13 1-37 1 19 1 31 1-13 1-16 1-3 1-34 1 21 1 9 1 27 1 41 1-16 1 16 1 9 1-10 1 11 1 29 1-25 1 25 1-15 1-1 1 13 1 38 1-12 1 22 1-13 1 6 1-39 1 32 1-19 1 31 1-13 1-3 1 16 1 9 1 24 1 21 1 24 1 11 1-16 1-9 1-3 1 6 1-3 1 7 1-26 1 14 1 4 1-15 1 68 1-45 1-5 1 25 1-1 1 13 1-30 1 23 1 1 1 21 1 10 1 5 1-18 1-4 1-15 1 4 1-2 1 10 1-11 1 1 1-24 1 10 1-8 1-7 1 36 1 0 1 36 1-11 1 23 1-21 1 1 1-20 1 21 1-26 1 42 1-12 1 3 1-11 1 29 1 0 1-3 1-2 1-1 1-11 1-19 1 5 1-13 1 5 1 4 1-16 1-16 1 34 1 0 1 2 1 15 1-15 1 26 1 4 1 20 1-31 1-7 1 7 1-1 1-21 1 5 1 17 1-31 1-25 1 34 1 27 1 10 1 5 1-42 1 12 1 10 1-25 1 21 1-34 1 18 1-3 1 16 1 3 1-18 1 36 1-2 1 7 1-20 1 7 1 13 1-3 1 12 1-1 1 5 1 6 1 15 1-20 1 11 1-27 1 8 1 9 1 6 1 11 1 24 1-24 1-32 1 32 1 27 1-19 1-7 1-40 1 10 1-36 1 36 1-9 1 11 1-5 1 11 1 21 1 13 1-35 1-11 1 17 1-1 1 48 1-29 1-26 1 11 1 4 1 1 1-4 1 34 1-17 1-5 1-9 1 23 1 16 1-6 1 14 1 18 1-41 1 45 1-28 1-10 1-12 1-19 1-27 1 18 1 18 1-29 1 31 1-19 1 4 1-23 1 19 1 16 1-14 1 7 1-9 1-24 1 37 1-34 1 38 1-7 1 16 1-19 1 40 1-21 1 14 1-5 1 20 1-13 1-3 1 16 1-7 1 27 1-54 1 19 1-10 1 7 1 4 1 18 1-9 1 24 1-8 1-20 1-16 1 16 1 1 1 32 1 5 1-26 1-43 1 52 1-37 1 7 1-19 1-23 1 36 1-29 1 13 1-11 1 8 1 4 1-40 1 26 1 2 1-26 1 18 1-6 1-5 1 7 1 19 1 3 1-16 1 19 1-32 1-4 1 5 1-14 1 31 1-6 1 1 1 39 1-7 1 4 1-12 1 36 1-70 1 56 1 1 1-35 1 19 1 5 1 17 1 22 1-73 1 11 1 16 1-5 1-31 1 12 1-13 1 4 1 29 1-5 1 9 1-23 1 36 1-23 1-10 1 22 1-31 1 25 1-6 1 41 1-31 1 5 1-7 1 10 1 9 1-1 1-9 1 8 1-25 1-4 1-32 1 23 1 32 1-30 1 17 1 17 1-20 1-13 1-20 1 14 1 33 1-31 1-5 1-27 1 32 1-25 1 8 1 34 1-32 1 45 1 7 1-23 1 22 1-9 1-6 1 7 1-16 1-14 1 20 1-17 1-31 1 58 1 2 1-21 1-31 1-14 1-19 1 26 1 9 1 1 1 2 1 5 1-12 1 15 1 13 1-39 1 5 1 19 1-6 1-11 1 3 1 7 1 3 1 1 1-7 1-15 1 10 1 14 1 1 1 29 1-32 1-14 1 15 1 16 1-37 1 23 1-9 1 15 1 30 1 2 1-2 1 16 1 26 1 19 1-52 1 9 1-20 1 8 1 30 1-4 1-26 1 5 1 9 1 35 1-35 1-25 1-33 1 46 1-52 1-3 1-12 1 13 1-21 1 35 1 9 1-13 1 38 1-33 1-31 1 17 1 16 1-2 1 7 1-40 1 29 1-16 1 19 1-17 1-6 1 56 1 5 1-24 1 12 1-2 1-3 1-3 1-15 1 4 1-14 1 5 1 2 1-16 1-24 1 20 1 10 1-4 1 15 1 4 1 18 1-11 1 24 1-12 1-17 1 23 1-30 1 0 1-12 1-18 1 8 1 11 1 14 1-9 1 11 1-17 1 4 1-3 1 26 1-24 1 11 1-17 1-10 1 29 1 5 1-12 1 26 1-7 1-27 1 26 1-3 1-23 1-4 1-19 1 23 1-29 1 6 1 0 1 30 1-14 1 20 1-13 1 36 1-11 1 24 1-46 1-10 1 16 1-6 1-13 1 15 1 19 1-9 1-15 1 21 1 10 1-48 1 46 1-21 1-10 1 15 1 18 1-4 1-32 1 26 1-53 1-3 1-1 1 11 1-9 1 4 1 15 1 14 1-1 1 3 1 23 1-29 1 25 1-29 1 3 1 0 1 8 1 8 1-23 1 46 1-36 1 11 1-1 1 17 1-44 1 31 1 0 1-6 1 12 1-26 1 20 1-19 1 13 1 5 1-5 1-8 1 42 1-52 1 23 1 11 1 6 1-1 1 13 1 5 1-20 1 15 1-44 1 20 1-13 1 3 1-53 1 35 1 1 1 28 1-18 1 12 1-14 1 23 1-5 1 3 1 4 1-16 1 2 1 56 1-66 1 19 1-3 1-19 1 29 1-8 1 11 1-31 1 29 1 12 1-27 1-10 1 10 1-10 1 7 1-16 1 23 1-3 1 6 1-12 1 3 1-3 1-23 1 17 1-30 1 18 1 22 1-26 1 4 1-1 1 39 1-39 1 31 1-28 1 35 1 18 1-10 1-10 1-12 1 21 1 3 1-9 1 16 1-26 1 9 1 3 1 1 1-8 1-2 1 16 1-37 1 14 1-8 1-29 1 40 1-32 1 10 1 7 1-12 1 40 1-18 1 14 1-15 1-10 1 50 1-23 1-5 1 31 1-21 1 17 1-3 1-14 1 7 1-6 1 24 1-3 1 3 1-25 1 15 1 18 1-13 1 33 1-27 1-10 1 2 1 18 1-13 1-6 1-9 1-30 1 27 1-37 1-6 1 46 1-19 1-22 1 18 1-5 1 17 1 13 1-26 1 22 1 1 1 4 1 1 1-40 1 12 1 26 1-7 1 27 1-37 1 24 1-19 1 13 1 5 1-15 1-26 1 16 1 0 1 28 1-29 1 1 1-9 1 32 1-2 1 11 1-2 1 9 1 4 1-28 1 30 1-35 1 10 1 1 1-18 1 23 1-2 1-5 1-1 1-4 1-9 1-4 1 35 1-10 1-12 1-15 1 11 1 43 1-45 1 27 1-43 1 21 1-2 1 5 1 5 1-40 1-5 1 6 1-4 1-4 1-11 1-2 1-14 1 29 1-3 1 0 1 18 1-23 1 25 1-7 1-34 1 11 1 51 1-10 1 11 1 9 1-23 1-5 1-14 1 16 1-13 1 4 1-9 1 6 1 22 1-23 1 61 1-8 1-2 1-35 1 7 1 33 1-47 1-8 1-16 1 25 1 5 1 27 1-10 1 3 1 22 1-11 1-16 1-33 1 17 1 2 1 3 1 8 1 5 1-5 1 11 1 21 1-18 1-39 1 31 1 2 1 5 1-29 1 22 1 0 1-8 1 2 1-12 1-11 1-4 1 12 1-9 1 5 1-10 1-17 1 22 1-11 1 15 1 4 1 4 1 12 1-11 1-3 1 6 1 0 1 3 1 26 1-14 1 8 1 7 1-15 1-16 1-13 1 5 1-17 1-12 1-2 1-2 1 9 1-4 1 15 1-26 1 41 1 14 1-7 1 6 1 1 1 13 1-10 1-19 1-6 1 23 1 15 1-30 1 2 1 3 1 18 1-16 1-10 1-6 1-35 1 79 1-10 1-36 1 17 1-26 1 6 1-11 1 41 1-62 1 1 1 35 1 0 1-7 1 4 1 18 1 9 1-7 1-2 1 31 1-46 1 19 1-25 1 19 1-4 1 10 1-11 1-10 1 30 1 12 1-21 1 18 1 1 1-4 1 17 1-7"/>
<path class="ln" stroke="#fd7c1a" transform="translate(216.95 348.10) scale(0.5 -0.1)" d="M0 0 l1 0 1 0 1 0 1 0 1 0 1 0 1 0 1 0 1 0 1 0 1 0 1 0 1 0 1 0 1 0 1 0 1 0 1 0 1 0 1 0 1 0 1 0 1 0 1 0 1 0 1 0 1 0 1 0 1 0 1 9 1 25 1 14 1-3 1-11 1-7 1 13 1-4 1-3 1 0 1 15 1 18 1-6 1 22 1-5 1 31 1-13 1-3 1 2 1-14 1 38 1 3 1-21 1 29 1 52 1 69 1 49 1-17 1 14 1 12 1-31 1-40 1 32 1 6 1 82 1 87 1-22 1-34 1 15 1-1 1 2 1 27 1-26 1 16 1 11 1 26 1 50 1-17 1 127 1 21 1-12 1-30 1 48 1 29 1 25 1 78 1-24 1-29 1 45 1-25 1 82 1 10 1-27 1 19 1 22 1-7 1 12 1-11 1-20 1 76 1-8 1 120 1-51 1 34 1 10 1 32 1-41 1 23 1-30 1 8 1 24 1-18 1 33 1-10 1 13 1 66 1 35 1-40 1 23 1-20 1-10 1 19 1-19 1 91 1-24 1-2 1-28 1-31 1 46 1-34 1-43 1 17 1-14 1-9 1-12 1 24 1 50 1 18 1 77 1-54 1 25 1-25 1 88 1 7 1 51 1 74 1-2 1 0 1-11 1 62 1-78 1 16 1-11 1 14 1 20 1 3 1 35 1 34 1-49 1 47 1 38 1-12 1 34 1 3 1-21 1 3 1-42 1 41 1 4 1 2 1 2 1-3 1 5 1 4 1-33 1 14 1 7 1-4 1 51 1-49 1-32 1 0 1 8 1-10 1 5 1-36 1-5 1 4 1 23 1 25 1 5 1-11 1-30 1 31 1 49 1 39 1-32 1-17 1 23 1 27 1-28 1-8 1-27 1-8 1 14 1 4 1-38 1 79 1-10 1 45 1-15 1 37 1-90 1 83 1 0 1-30 1 4 1 20 1-4 1-21 1 62 1-29 1-23 1 10 1 19 1 37 1-91 1 25 1-7 1 52 1 3 1-20 1-29 1 43 1 13 1-1 1-9 1 30 1-1 1 1 1 2 1 21 1-6 1 28 1 25 1-36 1-7 1-38 1 35 1-39 1 6 1 37 1-60 1 15 1 13 1-10 1 14 1 23 1-30 1-4 1-10 1 9 1 38 1 8 1-8 1 19 1-43 1 22 1 20 1 22 1-61 1 30 1-58 1-19 1-7 1 12 1 19 1 44 1-54 1 21 1 46 1-22 1 18 1 1 1 4 1-43 1-12 1-34 1 46 1-11 1-2 1-24 1 41 1 1 1 22 1 24 1 37 1 60 1-39 1 31 1 17 1-15 1 80 1-8 1-4 1-12 1-35 1-1 1-34 1 60 1-44 1-3 1-38 1-2 1 23 1 1 1-31 1-8 1 29 1 0 1 1 1-8 1 18 1-47 1 16 1-20 1 10 1-32 1-23 1 59 1-38 1 15 1 25 1-15 1-26 1 9 1 2 1 1 1 10 1-4 1 22 1-11 1-20 1 32 1-54 1-5 1-6 1 5 1 17 1-38 1 20 1 13 1-10 1 10 1 39 1-26 1 26 1-7 1 5 1-10 1 7 1 30 1-28 1-25 1-1 1-19 1 9 1 15 1-2 1-18 1 29 1 0 1-35 1 29 1-7 1-23 1 19 1 5 1-3 1 25 1 46 1-33 1-10 1 6 1 19 1 0 1 3 1-4 1-8 1-28 1 18 1 33 1-19 1-21 1 30 1-2 1 43 1-16 1-4 1-6 1 12 1 9 1-32 1-25 1-21 1-28 1-30 1-29 1 29 1-7 1 32 1-28 1 7 1 2 1 23 1-3 1-3 1-21 1 60 1-41 1 2 1 4 1-16 1-2 1 9 1-7 1-9 1 12 1 24 1-39 1 60 1 3 1-25 1-8 1-1 1-26 1 59 1 12 1 47 1 26 1-10 1-41 1 48 1-7 1 11 1-15 1-13 1-9 1 55 1-7 1 50 1-8 1-10 1 23 1 11 1-32 1 40 1 1 1-3 1-20 1 27 1-80 1 16 1-30 1 31 1-17 1-2 1-20 1-9 1-18 1-10 1 38 1-26 1 3 1-47 1 14 1 18 1-68 1 35 1-26 1 73 1-66 1 76 1-29 1-17 1 0 1 15 1-75 1-5 1-10 1 23 1-11 1 23 1 15 1 12 1-40 1 4 1 46 1 22 1 13 1-9 1-2 1 57 1-18 1-44 1 9 1-21 1-15 1 70 1-31 1 3 1-23 1-12 1 27 1 7 1-2 1 6 1-2 1-13 1 40 1-7 1-15 1 36 1 4 1-23 1 27 1-18 1 23 1 17 1-24 1-13 1 29 1 6 1 1 1-12 1 51 1 23 1-41 1-18 1 28 1-72 1-4 1 6 1-25 1-19 1 52 1-61 1-30 1 65 1 24 1-53 1 35 1-11 1 4 1-8 1-7 1 19 1-9 1 42 1-50 1-1 1 8 1 30 1-16 1-20 1-23 1-10 1 21 1 10 1 1 1-6 1 1 1 11 1 2 1-6 1-7 1 31 1-3 1-34 1 25 1-64 1 54 1-24 1-15 1 14 1-58 1 21 1 24 1 10 1 11 1 2 1 18 1 13 1 6 1-17 1-3 1 13 1-12 1-32 1-26 1 32 1-31 1 43 1 12 1-35 1-20 1 3 1 29 1 18 1-22 1 16 1-10 1 31 1 25 1-21 1-9 1 32 1-5 1 52 1 5 1-7 1-33 1 54 1-33 1 12 1-10 1 49 1 32 1-4 1-22 1 59 1-14 1-12 1 9 1 7 1 4 1-28 1-24 1 4 1-77 1 69 1-1 1-18 1-7 1 19 1-30 1 36 1-57 1 40 1 2 1-22 1-5 1-5 1 30 1 18 1-21 1 21 1-34 1 42 1-43 1 18 1-6 1-23 1 34 1-5 1 10 1 17 1-47 1 46 1 10 1-11 1-11 1 20 1 3 1-8 1-37 1 2 1-44 1-1 1-10 1-6 1 16 1-28 1 14 1-24 1-18 1-14 1 2 1 24 1-17 1 19 1 25 1 16 1-7 1 14 1-11 1 18 1-21 1-36 1-8 1 3 1 3 1 23 1-15 1-20 1 6 1 20 1 35 1-8 1-17 1-30 1-4 1 20 1 51 1 13 1-35 1-31 1-21 1-4 1 19 1 0 1-5 1 40 1-20 1 15 1-36 1 12 1-39 1 62 1-4 1-15 1 59 1-63 1 10 1 39 1-53 1 59 1-17 1 66 1-42 1-9 1 16 1-14 1 9 1 58 1-53 1 27 1-38 1 7 1-8 1 10 1 27 1-57 1 15 1-1 1-11 1 26 1-30 1 0 1-6 1 26 1 14 1 29 1-23 1 26 1 4 1 18 1-6 1 30 1-58 1 0 1 5 1-30 1 8 1-42 1-16 1 4 1 27 1-42 1-26 1 54 1-13 1 5 1-16 1 7 1 19 1-24 1 16 1 11 1-49 1 19 1 2 1-6 1-14 1 71 1-2 1-13 1-8 1-43 1 50 1-28 1 12 1-27 1 54 1-55 1 19 1 51 1-20 1-22 1-2 1-31 1 42 1-28 1 10 1-55 1 21 1-52 1 20 1 1 1 16 1 9 1-5 1-41 1 45 1-23 1-21 1 37 1-51 1 51 1-10 1-16 1 7 1-10 1 32 1 33 1-56 1 43 1-90 1 9 1-31 1 4 1-12 1-4 1 62 1-48 1 22 1 14 1-11 1-11 1 14 1 9 1 1 1 38 1 5 1-36 1 52 1 3 1 41 1 8 1-31 1-26 1-18 1 36 1 0 1 2 1-49 1 37 1 14 1 9 1-28 1 29 1-14 1 40 1 4 1 11 1-9 1-22 1-1 1 10 1-19 1 41 1-23 1 48 1-9 1 11 1 10 1-33 1 3 1-21 1 46 1-35 1 48 1-24 1-14 1 9 1 21 1-9 1-2 1 22 1-35 1 16 1-39 1-3 1 6 1 5 1-9 1-38 1 57 1-41 1 34 1-55 1-2 1 13 1 15 1 6 1-13 1 30 1-44 1 53 1-46 1 33 1 26 1 2 1-50 1 18 1 32 1-17 1 14 1-37 1 18 1-25 1-7 1-2 1-11 1 7 1 1 1 14 1 3 1 25 1-29 1-29 1 14 1 12 1-11 1 25 1-4 1-29 1 11 1-23 1 29 1-9 1-11 1-33 1 30 1 1 1-10 1 46 1-46 1 53 1 3 1 10 1 15 1 0 1-34 1-21 1-40 1 16 1-67 1 38 1-9 1 70 1-7 1-4 1 25 1-4 1 12 1 16 1-10 1 10 1-15 1-32 1 3 1 0 1 17 1-38 1-5 1-30 1 20 1 29 1 20 1-17 1-8 1-27 1 41 1 20 1 4 1-43 1-3 1 29 1-27 1 11 1-6"/>
<rect x="191.80" y="113.00" width="553.20" height="246.30" fill="none" stroke="#d0d0d0" stroke-width="1.7"/>
<g class="tk">
<text transform="translate(216.9 382.3) scale(1 1.12)" text-anchor="middle">0.0</text>
<text transform="translate(317.1 382.3) scale(1 1.12)" text-anchor="middle">0.2</text>
<text transform="translate(417.2 382.3) scale(1 1.12)" text-anchor="middle">0.4</text>
<text transform="translate(517.3 382.3) scale(1 1.12)" text-anchor="middle">0.6</text>
<text transform="translate(617.4 382.3) scale(1 1.12)" text-anchor="middle">0.8</text>
<text transform="translate(717.6 382.3) scale(1 1.12)" text-anchor="middle">1.0</text>
<text transform="translate(183.8 355.5) scale(1 1.12)" text-anchor="end">0.00</text>
<text transform="translate(183.8 299.5) scale(1 1.12)" text-anchor="end">0.25</text>
<text transform="translate(183.8 243.6) scale(1 1.12)" text-anchor="end">0.50</text>
<text transform="translate(183.8 187.6) scale(1 1.12)" text-anchor="end">0.75</text>
<text transform="translate(183.8 131.6) scale(1 1.12)" text-anchor="end">1.00</text>
<text transform="translate(743.5 407.5) scale(1 1.12)" text-anchor="end" style="font-size:20.2px">1e7</text>
</g>
<text class="tt" x="468.8" y="104.0" text-anchor="middle">5m_vs_6m (hard)</text>
</g>
<g>
<path d="M826.15 113.00V359.30M926.27 113.00V359.30M1026.39 113.00V359.30M1126.51 113.00V359.30M1226.63 113.00V359.30M1326.75 113.00V359.30M801.00 348.10H1354.20M801.00 292.13H1354.20M801.00 236.15H1354.20M801.00 180.17H1354.20M801.00 124.20H1354.20" stroke="#d0d0d0" stroke-width="1.7" fill="none"/>
<path class="bd" fill="#db1d28" transform="translate(826.15 348.10) scale(1.5 -0.1)" d="M3 0 l1 39 1 53 1 160 1 142 1 132 1 128 1 137 1 142 1 133 1 155 1 195 1 175 1 95 1 106 1 98 1 57 1 54 1 30 1 20 1 40 1 5 1 24 1 20 1 15 1 0 1 5 1 25 1-6 1 10 1-1 1 8 1-2 1 6 1 9 1-2 1 8 1-1 1 2 1 1 1 2 1 3 1-4 1-2 1 3 1 2 1 2 1 2 1-2 1 4 1-1 1 3 1-1 1 3 1 0 1 0 1 1 1 0 1 2 1 1 1 0 1 1 1 0 1 2 1 0 1-1 1 2 1 0 1 0 1-1 1 1 1 0 1-1 1 1 1 0 1-1 1 1 1 0 1 0 1 0 1 0 1-1 1 1 1-2 1 1 1 1 1-1 1 0 1 1 1 0 1-1 1 0 1 0 1 0 1-1 1 1 1 1 1-1 1 1 1 0 1 0 1 0 1 0 1 0 1 0 1-1 1 1 1-1 1 0 1 1 1 0 1 0 1 0 1 0 1-1 1 1 1-1 1 0 1 1 1-1 1 1 1 0 1 0 1-2 1 1 1-1 1 2 1 0 1-1 1 0 1 1 1-1 1 1 1 0 1-1 1 0 1 0 1 1 1 0 1 0 1-1 1 0 1 1 1 0 1 0 1-2 1 2 1-1 1 0 1 1 1-1 1 1 1 0 1-1 1 0 1 1 1 0 1 0 1 0 1 0 1 0 1-1 1 1 1 0 1-1 1 1 1-1 1 0 1 1 1-1 1 1 1-1 1 1 1 0 1 0 1 0 1-1 1 1 1 0 1 0 1-1 1 0 1 0 1 0 1 1 1 0 1 0 1 0 1-1 1 0 1 0 1 1 1-1 1 1 1 0 1 0 1-1 1 1 1 0 1 0 1 0 1 0 1-1 1 0 1-1 1 1 1 0 1 0 1 0 1 0 1 1 1-1 1 0 1 1 1 0 1-1 1 1 1-2 1 0 1 2 1-2 1 1 1 0 1 0 1 1 1-1 1 1 1-2 1 0 1 2 1-2 1 2 1-1 1 0 1-1 1 1 1 0 1 0 1 1 1-1 1 0 1 0 1 0 1 1 1-1 1 1 1-1 1 0 1 1 1 0 1-1 1-1 1 1 1 1 1-1 1 0 1 0 1-1 1 0 1 2 1 0 1 0 1 0 1 0 1 0 1 0 1 0 1 0 1 0 1-1 1 1 1 0 1 0 1 0 1 0 1 0 1-1 1 1 1 0 1-1 1 1 1 0 1 0 1 0 1 0 1-1 1 1 1-1 1 0 1 1 1 0 1 0 1 0 1-1 1 0 1 1 1-1 1 0 1-1 1 2 1 0 1 0 1 0 1 0 1-2 1 1 1 0 1 1 1 0 1 0 1 0 1 0 1 0 1 0 1 0 1 0 1 0 1 0 1-1 1-1 1 2 1 0 1 0 1 0 1-1 1 0 1-1 1 1 1 0 1-1 1-1 1 3 0-33 -1 0 -1 1 -1 2 -1 0 -1 0 -1 1 -1-1 -1 0 -1 3 -1-5 -1-2 -1 3 -1-4 -1 0 -1 6 -1-1 -1-4 -1 1 -1-4 -1 5 -1 0 -1-1 -1 3 -1 2 -1-2 -1-2 -1-1 -1 0 -1-1 -1 6 -1-4 -1-2 -1 2 -1-3 -1 0 -1 2 -1 1 -1 2 -1-4 -1 2 -1 4 -1-5 -1 1 -1-1 -1-2 -1 1 -1 4 -1-5 -1-2 -1 7 -1-4 -1-2 -1 0 -1 3 -1-3 -1 0 -1 2 -1 3 -1-3 -1-2 -1 3 -1 1 -1-2 -1 0 -1-2 -1-2 -1 5 -1-3 -1 0 -1-2 -1 3 -1-2 -1 0 -1 0 -1-1 -1 4 -1 0 -1-4 -1 3 -1 0 -1-2 -1 0 -1 0 -1-1 -1 0 -1 1 -1-2 -1 1 -1 1 -1 2 -1-2 -1-2 -1 2 -1-1 -1 4 -1 2 -1-5 -1 0 -1 1 -1-2 -1 0 -1 3 -1-1 -1 2 -1 2 -1-3 -1-3 -1 0 -1 0 -1 2 -1-1 -1-1 -1-1 -1 2 -1-1 -1-2 -1 7 -1-7 -1 5 -1-2 -1-2 -1 0 -1 4 -1-4 -1 3 -1-2 -1 1 -1-1 -1 1 -1 3 -1-1 -1-6 -1 3 -1-1 -1 1 -1-1 -1-1 -1-1 -1 1 -1-1 -1 0 -1 0 -1 6 -1-1 -1-4 -1 4 -1-1 -1 1 -1-3 -1 1 -1-1 -1 4 -1-6 -1 6 -1-4 -1 8 -1 1 -1-5 -1-1 -1-1 -1 1 -1-5 -1 0 -1 3 -1-3 -1 4 -1-3 -1-3 -1 0 -1 4 -1-3 -1 2 -1-2 -1-1 -1 3 -1-2 -1-1 -1 5 -1-4 -1 3 -1 4 -1-2 -1 0 -1 2 -1-2 -1-1 -1-1 -1-1 -1 6 -1-6 -1-2 -1-1 -1 6 -1 3 -1-4 -1 1 -1-3 -1-4 -1 0 -1 4 -1-3 -1 3 -1-3 -1-1 -1-1 -1 5 -1-1 -1-1 -1-1 -1 0 -1 3 -1-3 -1 3 -1 1 -1-1 -1-1 -1 1 -1 1 -1-3 -1 3 -1-1 -1 2 -1-1 -1-3 -1 2 -1-5 -1 2 -1 3 -1-4 -1 3 -1-3 -1-1 -1-1 -1 4 -1-2 -1 1 -1-2 -1 9 -1-3 -1-2 -1 1 -1 1 -1-2 -1 0 -1 0 -1 5 -1 1 -1-8 -1 3 -1-6 -1 4 -1-4 -1 6 -1-7 -1 1 -1 4 -1 7 -1-3 -1-4 -1 5 -1-8 -1 1 -1 0 -1-1 -1 1 -1-3 -1 6 -1-3 -1 0 -1-6 -1 1 -1-5 -1-10 -1 5 -1-1 -1-4 -1-2 -1 4 -1-1 -1 0 -1-17 -1 10 -1-4 -1-8 -1-6 -1 12 -1-8 -1-9 -1-5 -1-6 -1 17 -1-2 -1-5 -1-4 -1-10 -1 14 -1 2 -1-17 -1 15 -1-10 -1-17 -1-11 -1-29 -1-3 -1 9 -1-32 -1-22 -1-14 -1-45 -1-50 -1-8 -1-34 -1-88 -1-62 -1-83 -1-102 -1-180 -1-125 -1-173 -1-114 -1-145 -1-143 -1-115 -1-130 -1-123 -1-79 -1-80 -1-57 -1-80 -1 0 -1 0z"/>
<path class="bd" fill="#2ba02e" transform="translate(826.15 348.10) scale(1.5 -0.1)" d="M0 49 l1 24 1-16 1-2 1 3 1-1 1 9 1 26 1 81 1 60 1 107 1 103 1 93 1 102 1 93 1 102 1 126 1 104 1 79 1 113 1 77 1 64 1 113 1 49 1 83 1 74 1 46 1 85 1 24 1 58 1 60 1 13 1 22 1 5 1-1 1 30 1 18 1 10 1 20 1 8 1-12 1 17 1 15 1 1 1 10 1 10 1 4 1-19 1 21 1 0 1-10 1-10 1 20 1-29 1-3 1 34 1-6 1-23 1 20 1-13 1 4 1-4 1 1 1 8 1 14 1 2 1 3 1-11 1-2 1 0 1 13 1-5 1-3 1 5 1 2 1-5 1 1 1 1 1-3 1 2 1-4 1 11 1-5 1 7 1-1 1 0 1 1 1 0 1-3 1 9 1 2 1-5 1 1 1-3 1 7 1 0 1-4 1 0 1-10 1 10 1-9 1 15 1-12 1 13 1-6 1 6 1-3 1-15 1 18 1-4 1 1 1 2 1-10 1 10 1-8 1 3 1-6 1 6 1 4 1-3 1-5 1 13 1-6 1-2 1 4 1-4 1-1 1 7 1-3 1 5 1-9 1 5 1-6 1 7 1-5 1 3 1-2 1 8 1-1 1-1 1 0 1-1 1 5 1-3 1-3 1 3 1-8 1 2 1 2 1 5 1-7 1 3 1 4 1-4 1 6 1-4 1-7 1 5 1 0 1 3 1-4 1 7 1-11 1-6 1 0 1 16 1-2 1 0 1 3 1 0 1-7 1-6 1 7 1 1 1 4 1-3 1 4 1 1 1-7 1-2 1 4 1-1 1 5 1-9 1 7 1 0 1-2 1 3 1 0 1 4 1-4 1 2 1-3 1 6 1 0 1 0 1-4 1-2 1-3 1 8 1-5 1-3 1 6 1 0 1-5 1-6 1 7 1-1 1 0 1 0 1-9 1 8 1 0 1 5 1-9 1-6 1 15 1-2 1-1 1 1 1 6 1-12 1-4 1 8 1-4 1 5 1-12 1 7 1 1 1-1 1 6 1-1 1 7 1-1 1-4 1 0 1-7 1 8 1-9 1-6 1 16 1-3 1 3 1 0 1-5 1 7 1-4 1-1 1-5 1-8 1 12 1-1 1 7 1-5 1 0 1-3 1 7 1-7 1-1 1-2 1 4 1-1 1 7 1-3 1 0 1 0 1-10 1 13 1 0 1-10 1 0 1 1 1-2 1-1 1 12 1-2 1-2 1-1 1-1 1 3 1-5 1 6 1-7 1 7 1-4 1 8 1-4 1 1 1-1 1 6 1-9 1 0 1 5 1-10 1 1 1 5 1-5 1 10 1 3 1-8 1 6 1-11 1-3 1 4 1-9 1 12 1 7 1-7 1 4 1-3 1-9 1 12 1-8 1 7 1 0 1 3 1-16 1 9 1-10 1-5 1 3 1 4 1 5 1 6 1-2 1 4 1-12 1-1 1 5 1-4 1 10 1-1 1 2 1 4 1 0 0-66 -1-7 -1-4 -1-1 -1 5 -1-5 -1 0 -1 4 -1-3 -1 14 -1-9 -1-8 -1 1 -1 2 -1-1 -1 1 -1-2 -1-2 -1 2 -1 6 -1-10 -1 6 -1 5 -1 3 -1-2 -1-2 -1 1 -1-8 -1 8 -1 6 -1-18 -1 12 -1-14 -1 5 -1-2 -1 0 -1 0 -1 1 -1 9 -1 0 -1 2 -1 2 -1-3 -1 5 -1-3 -1 5 -1-13 -1 8 -1-4 -1-1 -1 8 -1 1 -1-17 -1-1 -1 7 -1 1 -1 6 -1-12 -1 21 -1-21 -1-2 -1 13 -1-16 -1 16 -1-16 -1 8 -1 0 -1 5 -1-8 -1 8 -1-13 -1 5 -1-8 -1 22 -1-16 -1 0 -1-7 -1 9 -1 23 -1-10 -1-14 -1 2 -1-11 -1 13 -1-5 -1 1 -1 8 -1 12 -1-2 -1-14 -1-10 -1 19 -1-8 -1-10 -1-2 -1 5 -1-7 -1 16 -1 0 -1 12 -1-30 -1 3 -1 7 -1 4 -1 1 -1-4 -1-2 -1-3 -1 0 -1 18 -1-10 -1-14 -1-1 -1 3 -1 1 -1 0 -1 16 -1-20 -1 2 -1 2 -1 10 -1 3 -1-4 -1-11 -1 0 -1 10 -1 4 -1-2 -1-10 -1 2 -1 21 -1 2 -1-11 -1 6 -1-6 -1-10 -1 4 -1-13 -1-3 -1 8 -1 0 -1-5 -1-3 -1 14 -1-18 -1 40 -1-3 -1-18 -1 6 -1-5 -1 6 -1-4 -1-1 -1-14 -1-12 -1 17 -1-16 -1 28 -1-16 -1-9 -1 5 -1 10 -1-1 -1-4 -1 3 -1-14 -1 6 -1 6 -1 12 -1-30 -1 13 -1-9 -1 2 -1-3 -1 22 -1-11 -1-3 -1 6 -1-17 -1 10 -1 8 -1-20 -1 29 -1-5 -1-19 -1-1 -1-2 -1 22 -1-4 -1-19 -1 10 -1 11 -1 4 -1-7 -1 0 -1-7 -1-8 -1 2 -1 8 -1-13 -1 5 -1-10 -1 12 -1 7 -1-7 -1 4 -1 6 -1 9 -1 0 -1-22 -1 10 -1-11 -1-3 -1 9 -1-7 -1 12 -1 18 -1-12 -1 4 -1-9 -1 8 -1 11 -1-12 -1-18 -1 8 -1 6 -1-10 -1 3 -1 10 -1-20 -1 12 -1-2 -1-10 -1 6 -1 2 -1 3 -1 2 -1-3 -1-24 -1 27 -1 10 -1-30 -1 16 -1 11 -1-41 -1 2 -1-8 -1 3 -1 16 -1-15 -1 16 -1-9 -1-2 -1-13 -1 3 -1 29 -1 0 -1-4 -1-3 -1-14 -1-12 -1 3 -1-2 -1-18 -1 29 -1-20 -1 8 -1 2 -1-17 -1 8 -1 17 -1-40 -1 35 -1-47 -1-3 -1 10 -1 4 -1-22 -1-13 -1-10 -1 11 -1 11 -1-6 -1-22 -1 15 -1 3 -1 0 -1 8 -1 0 -1 9 -1 11 -1-27 -1 22 -1-18 -1-27 -1 23 -1-7 -1-7 -1-9 -1-32 -1-44 -1-59 -1-8 -1-82 -1-62 -1-67 -1-28 -1-91 -1-58 -1-66 -1-98 -1-99 -1-44 -1-99 -1-89 -1-80 -1-121 -1-94 -1-95 -1-114 -1-82 -1-92 -1-48 -1-39 -1-80 -1-49 -1-44 -1 0 -1 0 -1 0 -1 0 -1 0 -1 0 -1 0 -1 0z"/>
<path class="bd" fill="#1576b3" transform="translate(826.15 348.10) scale(1.5 -0.1)" d="M10 0 l1 41 1 55 1 22 1 69 1 45 1 69 1 109 1 84 1 71 1 112 1 85 1 88 1 110 1 100 1 94 1 114 1 86 1 95 1 99 1 134 1 61 1 56 1 69 1 20 1 38 1 22 1-4 1 32 1 24 1-9 1 25 1-27 1-2 1 12 1-11 1 11 1 8 1 28 1-9 1 9 1 14 1-26 1-2 1 1 1 8 1 25 1-24 1 13 1 27 1-9 1-13 1 21 1-8 1 7 1 1 1 5 1 24 1-19 1-14 1 12 1 7 1 4 1 10 1 1 1-4 1 11 1-11 1 17 1-14 1 26 1-3 1-22 1 30 1-14 1-6 1 23 1-15 1-2 1 9 1 15 1 0 1-5 1 14 1-1 1 2 1-11 1 10 1 2 1 7 1-9 1 5 1-3 1 4 1 10 1 0 1 5 1 0 1-15 1 16 1-6 1 7 1 4 1-8 1 8 1 4 1 3 1 3 1-9 1 12 1-5 1 7 1 3 1 1 1-7 1 3 1 7 1 6 1 5 1 1 1 0 1 0 1-2 1 1 1 3 1-2 1-1 1 3 1 1 1 3 1 0 1-2 1-1 1-2 1 3 1-5 1 9 1-3 1 1 1-5 1 1 1 3 1-3 1 3 1 1 1 0 1 2 1-5 1 6 1-4 1-4 1 6 1 1 1-6 1 5 1-5 1 3 1-1 1 5 1-1 1-1 1 2 1 0 1-4 1 4 1-1 1 3 1-2 1-1 1 2 1-3 1 2 1 3 1 2 1-5 1 1 1 0 1 1 1 0 1-2 1 0 1-1 1 1 1-2 1 1 1-5 1 6 1 0 1 1 1-2 1 2 1-1 1-3 1 2 1-1 1 0 1 4 1-1 1-2 1 1 1-1 1 4 1 0 1-1 1 0 1 1 1-3 1 1 1 3 1-3 1-2 1 0 1-1 1 0 1 0 1 6 1-4 1 1 1 1 1-1 1 3 1-2 1-1 1 1 1-3 1 1 1 3 1-2 1 2 1-2 1 0 1-2 1 1 1 0 1-1 1-2 1 3 1 3 1 0 1 1 1-2 1 0 1 1 1 1 1-3 1 5 1-3 1 4 1-1 1-3 1 1 1-1 1 0 1 0 1-2 1 4 1 1 1-5 1 4 1 0 1-6 1 2 1 1 1 2 1-6 1 6 1-3 1 3 1 0 1 3 1 0 1-2 1 1 1-2 1 1 1-7 1 7 1 1 1-3 1 2 1 1 1 0 1-1 1-3 1 0 1 4 1 0 1-3 1-2 1 5 1-1 1-1 1 3 1 0 1-2 1 1 1 2 1-3 1 0 1 3 1-1 1-3 1 4 1 0 1-1 1-3 1 1 1 1 1 1 1 0 1-1 1 1 1 0 1 0 1-1 1 3 1-1 1-2 1 2 1 0 1-2 1 3 1-2 1 2 1 0 0-65 -1 11 -1 0 -1-4 -1-6 -1-8 -1 3 -1 16 -1-7 -1 3 -1-2 -1-8 -1 2 -1 8 -1 0 -1-15 -1 6 -1-5 -1 4 -1 3 -1-5 -1 18 -1-2 -1-8 -1-1 -1 4 -1-6 -1-1 -1 3 -1-6 -1-6 -1 19 -1-20 -1-1 -1 17 -1-10 -1 9 -1-12 -1 6 -1-17 -1 16 -1-3 -1-3 -1 15 -1-13 -1 7 -1-13 -1-1 -1-3 -1 5 -1 6 -1-6 -1 10 -1 2 -1 4 -1-16 -1 19 -1-12 -1 11 -1-1 -1-4 -1 4 -1 3 -1 2 -1-19 -1-2 -1 27 -1-10 -1 7 -1-17 -1 12 -1-7 -1-13 -1 6 -1-1 -1-6 -1-3 -1 9 -1-2 -1 12 -1-5 -1-12 -1 10 -1-8 -1-3 -1 15 -1-5 -1-13 -1 17 -1-15 -1 10 -1-19 -1 24 -1 2 -1 5 -1-10 -1 10 -1-23 -1 6 -1 8 -1-18 -1-4 -1-1 -1 14 -1-8 -1 0 -1 1 -1-5 -1 13 -1-7 -1 0 -1-5 -1 7 -1-3 -1-7 -1 20 -1-10 -1 16 -1-9 -1 11 -1-13 -1 9 -1-30 -1 19 -1-14 -1 4 -1 1 -1-8 -1 17 -1-15 -1 18 -1-13 -1-6 -1 20 -1-5 -1 7 -1-24 -1 22 -1-17 -1 5 -1-14 -1 6 -1 18 -1-16 -1-8 -1 19 -1 4 -1-23 -1 17 -1 2 -1-4 -1-12 -1-7 -1 29 -1 1 -1-14 -1 23 -1-15 -1-9 -1 25 -1-8 -1-8 -1-9 -1 10 -1 9 -1-27 -1 13 -1-13 -1-4 -1 4 -1 1 -1 10 -1 1 -1 8 -1-6 -1-10 -1 11 -1-4 -1-13 -1-2 -1 16 -1-18 -1 2 -1-5 -1 20 -1-13 -1-9 -1 16 -1-6 -1-7 -1-2 -1 7 -1-7 -1-1 -1 0 -1-1 -1 1 -1 10 -1 3 -1-4 -1 14 -1-18 -1-6 -1-1 -1-6 -1-7 -1-4 -1 12 -1 2 -1-19 -1-5 -1 1 -1-8 -1 18 -1-2 -1-6 -1 3 -1-19 -1 34 -1-16 -1 9 -1-24 -1-3 -1-8 -1-12 -1 7 -1-7 -1 7 -1 5 -1 0 -1-6 -1-22 -1 0 -1 13 -1-16 -1-6 -1-15 -1-19 -1 28 -1-25 -1 17 -1 19 -1-13 -1-29 -1 17 -1-5 -1-42 -1 7 -1 14 -1 14 -1-44 -1-6 -1-4 -1-6 -1-23 -1 20 -1-28 -1 4 -1-39 -1 5 -1-21 -1-6 -1 11 -1 12 -1-17 -1-35 -1-6 -1 1 -1-5 -1-8 -1-1 -1-42 -1-14 -1-12 -1-2 -1-1 -1-14 -1-31 -1 2 -1-1 -1-37 -1-8 -1-3 -1-13 -1-1 -1-7 -1-57 -1-16 -1-46 -1-10 -1-4 -1-43 -1-41 -1-25 -1-40 -1-63 -1-53 -1-91 -1-52 -1-67 -1-108 -1-64 -1-51 -1-38 -1-92 -1-58 -1-48 -1-58 -1-89 -1-57 -1-84 -1-82 -1-88 -1-37 -1-60 -1 0 -1 0 -1 0 -1 0 -1 0 -1 0 -1 0 -1 0 -1 0 -1 0z"/>
<path class="bd" fill="#fd7c1a" transform="translate(826.15 348.10) scale(1.5 -0.1)" d="M1 2 l1 2 1 3 1 2 1 2 1 2 1 2 1 2 1 2 1 3 1 28 1 61 1 38 1 45 1 59 1 107 1 51 1 93 1 103 1 67 1 81 1 27 1 85 1 89 1 67 1 91 1 88 1 99 1 58 1 83 1 142 1 58 1 51 1 66 1 55 1 21 1-20 1 61 1 19 1 53 1-13 1 15 1-5 1 15 1-39 1 37 1 18 1 6 1-38 1 43 1-41 1 20 1 7 1 17 1-4 1-51 1 35 1 1 1 10 1-23 1-24 1 15 1 47 1-14 1-64 1 33 1-13 1 31 1-23 1 8 1 37 1-39 1 18 1 23 1-32 1 22 1-37 1 41 1-1 1 5 1 35 1-20 1 26 1-2 1-29 1 19 1 0 1-24 1 7 1 26 1-12 1-17 1-10 1 17 1-4 1-1 1 40 1-16 1 6 1 11 1 8 1-1 1-5 1 0 1-2 1 1 1 12 1 0 1 2 1 6 1-17 1-19 1 23 1-17 1-56 1 58 1-44 1 11 1 38 1 10 1 15 1 5 1 5 1-4 1-12 1-9 1-1 1 17 1 9 1-18 1 19 1-1 1 1 1-3 1 3 1-11 1-3 1-6 1-14 1 44 1-9 1 12 1-10 1 11 1 2 1 8 1-3 1-12 1 4 1-5 1-1 1 9 1-9 1 19 1-4 1-1 1 9 1-20 1 15 1-10 1 4 1 17 1 12 1-36 1 26 1-9 1-14 1 11 1 1 1 13 1 5 1 1 1-31 1 34 1-23 1 14 1 9 1-8 1 4 1-6 1-5 1 4 1 1 1-2 1 8 1-16 1-34 1 35 1 14 1-3 1-3 1-2 1 5 1-11 1-3 1 15 1-25 1 15 1-18 1 20 1-29 1 22 1 5 1-13 1 21 1-19 1 25 1-3 1-20 1 18 1-14 1 6 1 2 1 10 1 2 1-2 1-8 1 15 1-20 1-14 1 25 1-2 1-1 1 4 1-6 1 3 1-12 1 24 1-2 1-10 1 10 1 6 1-6 1 1 1-1 1-2 1 2 1 0 1 6 1-5 1-29 1 11 1 10 1 23 1-8 1 0 1-3 1 0 1-1 1 2 1-9 1-1 1 5 1 7 1 3 1-10 1 4 1-6 1 2 1 3 1 1 1-6 1 12 1-4 1-3 1-4 1-7 1 14 1-5 1 5 1-6 1-3 1-8 1-4 1 15 1 8 1-4 1-16 1-3 1 22 1 2 1 7 1-10 1-19 1-10 1 27 1-16 1-6 1 31 1-3 1-4 1 3 1 1 1 3 1-12 1 12 1-10 1 8 1-1 1 6 1-30 1-2 1-23 1 51 1-4 1-3 1 6 1 3 1 0 1 5 1-4 1-3 1-9 1 7 1-6 1 10 1-11 1 20 1-6 1-2 1 2 1 2 1 3 1-10 1 7 1-6 1-12 1 14 1 11 1-9 1 6 1-1 1 0 1-2 0-148 -1 2 -1-6 -1-11 -1 6 -1-2 -1 30 -1-30 -1 17 -1 22 -1-18 -1-16 -1 10 -1-8 -1 9 -1 21 -1 9 -1-38 -1-7 -1 19 -1 9 -1-10 -1-24 -1 19 -1-12 -1 32 -1-8 -1 22 -1 23 -1-69 -1 52 -1-35 -1 0 -1 13 -1-27 -1 3 -1 3 -1-5 -1-1 -1 8 -1-17 -1 12 -1-29 -1 27 -1-29 -1 23 -1-4 -1-3 -1-14 -1 28 -1 8 -1-41 -1 9 -1 32 -1-32 -1 35 -1-8 -1-35 -1 2 -1 16 -1-6 -1 4 -1-12 -1 36 -1-12 -1-21 -1-10 -1 22 -1-8 -1 39 -1-42 -1 19 -1 35 -1-37 -1 28 -1-23 -1-10 -1 27 -1-26 -1 11 -1-31 -1 14 -1 24 -1 11 -1-5 -1 35 -1-64 -1-4 -1-7 -1 16 -1-33 -1 6 -1 3 -1 2 -1-9 -1 18 -1 12 -1-5 -1 8 -1-34 -1 1 -1 32 -1-29 -1-3 -1 10 -1 35 -1-18 -1-18 -1 27 -1-10 -1 35 -1 9 -1-41 -1 29 -1-15 -1-7 -1-11 -1 3 -1-15 -1 63 -1-26 -1 10 -1-10 -1-31 -1 3 -1 7 -1-21 -1 8 -1 2 -1 26 -1-37 -1 45 -1-1 -1-9 -1 2 -1-35 -1 59 -1-55 -1 20 -1-16 -1-22 -1 29 -1 4 -1-15 -1 33 -1-38 -1 24 -1-1 -1-8 -1 11 -1-16 -1 28 -1-55 -1 21 -1-23 -1 2 -1 44 -1-26 -1-5 -1 1 -1 25 -1-25 -1 2 -1-4 -1 5 -1 27 -1-43 -1 6 -1 2 -1 8 -1 1 -1-14 -1-9 -1 1 -1-7 -1 5 -1-3 -1-12 -1 0 -1-7 -1 39 -1-17 -1-27 -1 31 -1-18 -1-6 -1-16 -1 40 -1-23 -1-17 -1 41 -1-28 -1 10 -1-13 -1 23 -1-44 -1-6 -1-1 -1-1 -1 50 -1-58 -1 38 -1-41 -1 3 -1-4 -1 17 -1-32 -1 11 -1 29 -1-5 -1-28 -1-27 -1 53 -1-18 -1-37 -1 68 -1-69 -1 18 -1-5 -1 12 -1 4 -1 0 -1-26 -1 28 -1 13 -1-31 -1-20 -1 36 -1-82 -1 87 -1-64 -1-5 -1-7 -1-43 -1-7 -1 14 -1-2 -1 31 -1-63 -1 28 -1-41 -1 63 -1-55 -1-5 -1 32 -1 34 -1 11 -1-17 -1-21 -1-15 -1-8 -1-36 -1-31 -1 59 -1-21 -1 28 -1-67 -1-38 -1 26 -1 25 -1 8 -1-47 -1-29 -1-24 -1-40 -1 72 -1 8 -1-59 -1-41 -1 31 -1-65 -1-13 -1-20 -1 51 -1-15 -1-29 -1-43 -1-19 -1-85 -1 41 -1-70 -1-42 -1 3 -1-136 -1-56 -1-22 -1 15 -1-30 -1-58 -1-95 -1-73 -1-5 -1-94 -1 86 -1-76 -1-37 -1-47 -1-58 -1-11 -1-30 -1 33 -1-28 -1-83 -1 68 -1-42 -1-69 -1 29 -1-100 -1-2 -1-25 -1-44 -1-45 -1-56 -1 9 -1-54 -1-29 -1-44 -1-27 -1-11 -1 0 -1 0 -1 0 -1 0 -1 0 -1 0 -1 0 -1 0 -1 0 -1 0 -1 0 -1 0 -1 0 -1 0 -1 0z"/>
<path class="ln" stroke="#db1d28" transform="translate(826.15 348.10) scale(0.5 -0.1)" d="M0 0 l1 0 1 0 1 0 1 0 1 0 1 0 1 0 1 0 1 0 1 0 1 0 1 0 1 9 1 13 1-1 1 28 1 64 1 25 1 9 1 11 1 43 1 32 1 34 1 51 1 85 1 18 1 18 1 11 1 62 1 22 1 22 1 76 1 65 1 58 1 27 1 23 1 20 1 48 1 71 1 39 1 38 1 16 1 19 1 137 1 46 1 103 1 41 1 97 1 37 1 34 1 46 1 20 1 45 1 34 1 27 1 13 1 25 1 30 1 20 1 49 1 31 1 15 1 10 1 16 1 2 1 12 1 19 1 12 1 5 1 26 1-1 1 10 1 22 1 9 1 19 1-3 1-14 1 14 1 6 1 18 1 2 1 4 1 8 1-10 1 20 1-6 1 10 1-1 1 16 1 6 1-1 1 10 1 9 1 11 1-13 1 14 1-10 1 6 1 4 1 1 1 1 1 0 1-1 1-9 1 4 1-6 1-2 1 9 1 3 1-4 1 5 1 13 1 2 1-8 1 2 1 0 1 1 1-1 1-2 1 1 1 3 1-4 1 5 1-2 1 2 1-2 1 9 1-6 1 1 1-2 1-8 1 6 1 4 1 6 1-15 1 15 1 1 1-3 1 5 1 0 1-15 1 5 1 12 1-11 1-2 1 3 1 3 1-3 1 6 1 11 1-19 1 4 1 9 1-6 1 11 1 4 1-3 1 0 1 4 1 6 1-2 1 4 1-2 1-7 1 8 1 0 1 2 1-7 1 9 1 2 1 3 1 2 1-2 1 2 1-7 1-1 1 12 1-8 1 4 1-9 1 2 1 6 1-5 1 4 1-3 1 0 1 2 1-1 1 3 1 0 1 5 1-11 1 0 1 3 1-1 1 4 1 4 1-5 1 12 1 1 1-1 1-8 1 6 1-7 1-1 1-3 1 3 1 2 1-5 1-5 1 1 1 8 1-1 1-3 1 3 1-3 1 6 1 6 1 3 1-10 1 1 1 5 1-10 1 2 1 1 1-8 1 8 1 1 1-6 1 5 1 6 1-4 1 2 1-5 1 2 1-1 1-3 1 9 1-9 1 8 1-8 1 6 1-7 1 5 1-1 1-4 1 4 1 1 1-3 1-1 1 3 1 4 1 2 1 3 1-5 1-7 1 3 1-2 1 2 1-4 1 6 1-5 1-4 1 3 1 4 1-3 1-3 1 6 1 2 1-12 1 13 1-7 1 6 1-6 1 1 1-3 1 3 1 0 1 2 1 3 1-9 1 5 1 0 1 7 1-9 1 8 1-2 1-2 1 0 1-6 1 3 1 0 1-3 1-2 1 1 1-2 1 3 1 7 1-8 1-3 1 7 1-2 1 8 1-6 1 0 1-8 1 9 1-1 1-8 1 12 1-6 1-3 1 2 1-3 1 10 1-1 1-1 1-4 1 1 1-3 1-1 1 7 1-1 1 2 1-2 1 7 1-7 1 8 1 4 1-10 1 1 1 0 1 0 1 6 1-6 1-1 1 4 1-4 1-1 1-4 1 2 1 0 1-7 1 5 1 4 1-2 1 10 1-10 1-3 1 2 1 8 1-4 1-2 1-1 1-6 1-2 1 2 1 3 1 1 1 8 1-5 1 2 1-2 1 7 1 2 1-3 1-4 1-2 1 1 1-2 1-4 1 10 1-3 1 1 1-4 1-4 1 3 1 4 1-6 1 5 1-4 1 4 1-7 1 3 1 4 1 2 1 10 1-6 1 1 1-3 1 2 1 2 1-2 1 1 1-1 1-5 1-9 1 1 1-1 1 3 1-3 1-1 1 2 1 8 1 0 1 2 1 2 1 5 1-6 1-7 1 5 1-3 1 0 1 3 1 5 1-9 1-1 1 2 1 0 1 0 1 3 1-6 1 4 1 0 1 7 1-7 1-3 1 6 1-4 1-7 1 5 1 2 1 4 1 4 1-2 1 4 1-1 1-2 1 2 1-5 1-1 1 1 1-1 1 1 1 4 1-3 1 7 1-7 1-3 1 3 1 2 1 2 1-5 1 4 1-6 1 5 1-1 1-7 1 8 1 0 1 0 1 2 1-6 1-2 1 1 1 0 1 1 1-6 1 2 1-2 1 1 1 2 1-7 1 5 1 2 1-7 1 7 1 2 1 4 1 0 1 1 1 0 1-1 1 1 1-5 1 3 1-1 1 2 1 1 1-8 1 1 1-2 1 7 1 5 1-5 1-2 1 6 1-1 1 0 1 3 1-3 1 4 1 0 1-8 1-2 1 7 1-4 1 4 1-4 1-4 1 8 1-7 1-2 1 0 1 5 1-11 1 11 1-6 1-2 1-5 1 3 1 2 1-10 1 16 1-4 1 4 1 1 1 1 1 6 1 0 1-2 1-6 1-1 1 6 1-2 1-2 1 1 1-7 1 9 1 6 1-6 1-1 1-6 1 10 1-4 1-5 1 6 1-5 1 3 1-1 1 0 1 0 1 0 1-2 1-3 1 3 1 4 1-4 1 4 1-1 1 1 1 1 1-2 1-1 1-3 1-2 1 4 1-9 1 0 1 3 1-2 1 1 1 7 1-6 1 1 1 0 1-3 1-3 1 7 1-4 1-2 1 2 1 9 1 3 1-10 1 3 1 5 1 2 1-2 1-5 1 7 1-11 1-1 1-1 1 0 1 3 1-3 1 5 1 8 1-10 1 3 1 8 1 1 1-5 1 4 1-7 1 4 1-3 1 5 1-3 1-1 1 8 1-1 1-9 1 9 1 1 1-13 1 6 1 0 1-4 1-3 1 2 1-4 1 2 1 6 1-11 1 1 1 10 1-8 1 8 1-1 1 2 1 1 1 5 1-1 1-3 1 5 1-2 1 0 1 6 1 1 1-9 1 6 1-6 1 0 1 8 1-6 1-2 1 3 1-6 1 5 1-1 1 7 1-10 1 1 1-3 1-5 1 0 1 1 1-4 1 7 1-3 1-6 1 7 1-6 1 2 1 6 1-7 1 1 1 1 1-3 1 12 1-10 1 2 1 3 1-2 1 2 1 5 1-2 1 0 1 2 1 0 1 2 1-3 1 3 1-3 1 0 1-7 1 4 1 0 1-3 1-3 1 0 1-2 1-2 1 3 1-3 1 9 1-3 1 9 1-10 1 3 1 1 1 0 1-2 1 0 1-2 1 4 1 4 1 7 1-9 1 2 1 0 1 5 1-4 1 1 1-9 1 1 1-2 1 5 1-1 1-1 1-4 1 3 1 3 1 1 1-10 1 8 1-2 1 6 1-13 1 7 1-1 1 2 1-1 1 0 1 0 1-2 1 1 1 9 1-1 1-5 1 5 1 6 1-1 1 0 1-3 1-6 1 5 1 0 1-7 1 5 1-9 1 3 1 0 1-3 1-1 1 2 1-8 1 6 1 5 1-9 1 12 1-2 1 4 1-6 1 1 1 6 1 0 1-3 1-3 1 1 1-2 1 2 1-1 1 0 1 1 1-4 1 10 1-13 1 4 1-3 1-4 1 8 1-4 1 6 1-2 1 5 1 3 1 1 1-3 1 1 1-2 1 1 1 10 1-4 1-5 1 2 1 5 1-2 1 2 1-6 1 6 1 3 1-7 1 1 1 3 1 1 1-5 1-1 1-4 1 10 1-2 1-2 1-4 1 1 1 5 1-1 1-7 1 0 1-4 1 2 1 1 1 3 1-2 1-1 1-1 1 6 1 4 1 0 1-1 1 1 1-5 1 7 1-9 1-4 1-2 1 4 1-3 1 2 1-3 1 5 1 0 1-6 1-1 1 4 1 1 1 0 1-1 1 1 1 1 1 2 1 7 1-5 1 5 1-9 1 9 1-7 1 8 1-4 1 2 1 3 1-4 1-2 1-2 1-2 1-2 1 1 1-7 1-1 1 3 1 2 1 5 1-1 1 0 1 4 1 5 1-8 1 7 1-2 1-8 1 5 1 0 1 4 1 0 1-1 1-4 1 1 1-1 1-2 1 4 1 2 1-8 1 7 1 1 1-5 1-7 1 4 1-5 1 4 1-7 1-1 1 4 1 2 1 5 1-3 1 0 1-3 1 2 1 1 1 3 1 0 1 3 1 2 1-2 1 0 1 4 1-1 1-6 1-5 1-2 1-4 1 5 1 1 1 2 1 0 1-5 1 7 1 0 1 5 1 0 1-5 1-2 1 2 1 0 1 0 1 1 1 10 1-11 1 2 1 5 1 4 1-2 1-5 1 11 1-2 1-1 1-8 1 5 1-4 1-6 1 3 1 3 1 3 1-5 1 0 1 4 1-2 1-9 1 1 1 6 1-8 1 3 1 1 1-4 1-1 1 10 1-1 1-3 1 3 1-1 1 11 1-4 1 1 1 2 1 3 1 0 1 0 1-1 1-5 1 0 1-12 1-4 1 8 1-9 1 4 1 2 1-2 1 8 1-4 1 1 1-5 1 2 1-4 1 3 1-3 1-1 1 2 1-5 1 6 1 0 1 3 1-2"/>
<path class="ln" stroke="#2ba02e" transform="translate(826.15 348.10) scale(0.5 -0.1)" d="M0 49 l1 6 1 16 1 2 1 11 1-14 1-13 1-1 1 0 1-12 1-9 1 3 1-5 1-2 1 8 1-5 1 10 1 0 1 12 1-8 1-10 1 7 1 24 1 22 1 2 1 2 1 14 1 55 1 52 1-10 1 9 1 53 1 42 1 45 1 51 1-14 1 60 1 12 1 29 1 37 1 56 1 1 1 35 1-6 1 57 1-1 1 24 1 17 1 41 1 65 1 31 1 85 1-14 1 11 1 32 1 31 1 19 1 6 1 47 1 5 1 28 1 43 1 41 1 7 1 8 1 53 1 11 1 23 1 29 1 35 1 62 1 4 1 29 1 27 1 27 1 20 1 2 1-19 1 34 1 19 1 67 1-16 1 74 1 5 1 44 1 3 1 16 1 40 1 45 1-19 1 21 1 7 1-6 1 5 1 7 1 17 1 34 1 51 1 7 1 10 1-10 1 8 1-5 1-3 1 28 1 3 1 20 1 17 1 0 1 4 1 1 1 21 1-22 1-19 1 19 1 3 1 12 1 14 1 5 1 10 1-15 1-1 1 40 1-11 1-12 1 29 1 8 1 6 1-21 1 27 1 4 1-18 1-2 1-2 1-3 1 10 1 2 1-22 1-11 1-3 1 22 1-30 1 11 1-27 1-10 1-17 1 8 1-6 1-3 1 10 1 6 1-37 1 29 1-16 1 11 1 11 1-8 1-11 1 39 1-2 1 1 1-13 1-9 1-10 1 22 1 8 1-10 1-23 1-3 1 30 1-24 1 5 1 8 1 16 1-6 1 6 1 26 1-9 1 15 1 5 1 5 1-10 1-1 1-16 1-14 1 19 1 39 1-11 1-12 1 11 1 4 1 27 1-17 1-20 1-11 1 8 1 4 1-11 1-11 1 19 1 9 1-29 1 14 1 14 1 5 1-2 1 11 1-22 1 21 1-23 1 23 1 13 1 13 1-3 1-18 1 17 1 1 1-36 1 37 1-52 1 2 1 11 1 5 1 5 1 22 1 4 1-17 1 22 1 7 1-11 1 6 1-1 1-22 1 7 1-1 1 2 1-6 1 12 1 19 1 1 1-10 1-5 1 4 1 19 1 0 1 8 1-17 1 6 1 1 1 11 1-2 1-12 1 11 1-19 1 29 1-23 1 3 1 4 1-16 1 4 1 0 1 12 1-11 1 7 1-6 1 5 1-10 1-8 1 2 1-7 1 6 1 17 1-37 1 39 1 1 1-4 1 5 1-9 1-6 1 0 1 22 1-16 1 12 1-13 1 4 1-10 1-9 1 25 1-16 1-13 1-11 1 18 1-9 1 1 1-4 1-1 1-28 1 30 1-8 1-12 1-9 1 1 1 3 1 27 1-12 1 6 1-10 1 15 1 13 1-21 1 15 1 11 1-22 1-4 1 15 1-31 1 31 1-15 1 6 1 7 1 6 1-20 1 3 1 20 1 0 1 13 1-19 1 13 1-3 1-8 1-3 1 4 1-8 1-13 1 19 1-13 1-5 1 12 1 8 1 5 1-20 1 19 1-12 1 5 1 5 1-34 1 18 1 14 1-8 1 5 1 6 1-2 1 12 1 13 1-8 1 7 1-9 1-12 1-6 1 10 1-20 1 15 1 1 1 2 1-13 1-1 1 31 1-2 1 10 1-14 1-28 1 19 1-4 1-6 1-13 1 11 1-6 1-4 1 9 1 26 1-14 1 15 1-8 1-1 1-3 1 7 1-17 1 7 1 14 1-17 1-2 1 1 1 6 1-2 1 6 1 5 1-9 1 26 1-10 1 9 1 1 1 8 1-23 1 2 1-12 1-11 1-5 1 11 1-24 1 12 1 15 1-4 1-2 1 12 1-5 1 6 1 9 1 17 1-32 1-6 1 35 1-21 1 4 1-9 1-13 1 16 1-10 1 3 1-11 1 21 1-22 1 19 1 14 1-23 1 1 1 0 1 13 1-5 1-4 1 4 1-5 1 12 1-11 1 11 1-4 1-5 1-28 1 28 1-4 1 13 1-16 1 16 1-1 1 2 1-14 1-16 1 37 1-24 1 25 1 0 1-12 1 10 1-23 1 13 1-13 1 18 1-15 1 2 1 3 1 10 1 8 1-21 1 2 1 10 1-3 1 4 1 16 1-8 1-3 1-5 1 1 1-18 1-10 1 3 1 5 1-2 1-7 1 0 1-3 1-2 1 12 1-13 1 4 1-3 1 6 1 32 1-16 1-1 1 7 1 10 1-9 1 16 1-7 1-4 1-12 1 16 1 6 1-28 1 3 1 5 1-9 1 6 1 10 1-11 1-15 1 19 1 2 1-11 1 11 1-15 1 17 1-15 1-1 1 23 1-4 1-5 1 2 1 11 1-9 1-3 1-18 1 12 1 10 1-18 1 8 1 14 1-12 1-3 1 3 1 15 1-9 1-12 1 16 1-12 1-3 1-8 1 18 1 8 1-17 1-1 1 4 1 2 1 11 1-3 1-6 1-4 1 11 1-6 1 5 1 20 1-21 1 9 1 8 1 8 1 0 1-4 1 7 1 1 1-18 1 1 1 6 1-27 1-13 1 11 1-11 1 4 1-1 1 3 1-26 1 5 1 23 1-8 1-16 1 9 1 1 1-5 1 21 1-9 1 3 1 9 1-6 1 0 1 8 1 2 1 0 1 0 1-7 1-14 1 15 1-4 1 3 1 14 1-17 1 16 1 11 1-2 1-11 1 2 1 6 1-9 1 2 1-9 1 5 1-4 1 18 1-17 1 7 1-5 1 18 1-3 1 5 1-7 1-21 1 9 1 4 1-22 1-10 1 1 1 11 1 6 1-5 1 6 1-10 1 10 1 5 1 1 1 0 1-1 1 9 1-15 1 9 1-5 1 0 1-21 1 10 1-8 1 18 1-20 1 2 1-6 1 23 1 23 1 1 1-5 1-4 1 0 1-1 1-2 1-22 1 8 1-13 1 9 1-15 1 19 1-7 1-11 1 10 1-7 1 17 1-1 1 10 1 6 1-19 1 13 1 9 1 11 1-3 1-14 1-22 1 13 1-1 1-12 1-5 1 7 1-2 1 11 1 5 1-1 1 8 1-12 1 11 1-12 1-20 1 8 1 1 1-13 1 7 1-7 1 16 1 6 1 1 1-2 1 19 1 0 1-10 1 17 1-6 1-10 1-5 1-19 1 14 1 4 1-29 1 22 1-5 1-5 1 16 1-23 1 11 1-4 1 43 1-25 1 16 1 8 1 8 1-1 1-3 1-6 1 11 1-14 1-14 1-17 1 5 1 9 1 6 1-26 1 14 1 14 1-1 1 1 1 0 1-7 1-2 1-9 1 10 1-8 1-7 1-7 1 5 1-4 1-4 1 3 1 5 1 2 1 10 1 8 1 15 1-4 1 2 1-16 1 0 1 2 1 9 1-13 1-4 1-5 1 8 1-12 1 22 1-13 1-5 1 9 1 9 1-14 1 9 1-1 1-18 1 9 1 13 1-17 1 26 1-17 1 13 1-6 1-2 1-7 1 3 1-12 1 2 1 2 1 1 1 0 1-3 1-3 1-24 1 12 1-9 1 8 1-2 1 14 1-6 1 17 1 3 1-13 1 9 1 3 1-3 1-10 1 2 1-27 1 3 1 19 1 3 1 1 1-15 1-1 1 24 1-8 1-12 1 12 1 1 1 0 1-4 1 8 1-3 1-2 1-4 1 8 1 17 1-20 1-1 1-3 1 4 1-8 1 13 1 4 1 16 1-8 1-2 1-1 1-9 1 5 1 4 1-20 1-5 1 27 1-2 1-22 1 19 1 4 1-5 1 4 1-5 1-1 1 12 1 0 1 1 1-11 1-9 1 4 1 18 1-12 1-5 1 1 1-1 1 15 1-7 1 3 1-37 1 15 1 15 1-9 1 12 1-9 1 0 1-4 1-6 1 15 1-4 1 5 1-11 1 8 1 7 1-6 1 20 1-14 1 12 1-8 1-24 1 14 1 4 1-3 1-7 1-1 1 10 1 0 1 8 1-11 1 3 1 4 1-15 1 26 1-7 1-10 1 10 1-17 1 2 1 7 1 0 1 7 1-19 1 10 1-18 1 15 1-3 1 14 1 0 1 17 1-32 1 19 1-12 1 3 1 23 1 6 1-7 1-3 1-8 1-13 1 6 1-10 1 0 1-13 1 25 1 12 1-25 1 15 1 0 1-1 1-1 1-13 1 9 1-15 1 6 1-4 1 3 1-9 1 11 1-6 1-7 1 14 1-7 1 5 1 1 1 6 1-25 1 15 1 7 1-28 1 0 1 3 1-6 1 29 1-15 1 6 1-9 1 19 1-4 1 20 1-6 1 8 1-9 1-3 1 6 1 3 1 6 1-9 1-18 1 0 1-18 1 14 1 9 1-11 1-2 1-21 1 19 1 0 1 15 1-28 1 2 1 8 1 16 1 4 1 0 1-12 1 12 1 3 1 0 1-11 1 9 1 0 1 10 1 7 1 6 1-3"/>
<path class="ln" stroke="#1576b3" transform="translate(826.15 348.10) scale(0.5 -0.1)" d="M0 0 l1 0 1 0 1 0 1 0 1 0 1 0 1 0 1 0 1 0 1 0 1 0 1 0 1 0 1 0 1 0 1 0 1 0 1 0 1 0 1 0 1 0 1 0 1 0 1 0 1 0 1 0 1 0 1 0 1 0 1 0 1 0 1 0 1 0 1 7 1 0 1 14 1 5 1 14 1 19 1 0 1 24 1 0 1 3 1 5 1 20 1-21 1 29 1 10 1 7 1 19 1 5 1 42 1 11 1-23 1 12 1 49 1 85 1 31 1 16 1-12 1 77 1 31 1-34 1 5 1 35 1 56 1-7 1 36 1 4 1 105 1-30 1 15 1-14 1 51 1-6 1 23 1 24 1 57 1-12 1 5 1 16 1 34 1 37 1 7 1 51 1 16 1 79 1-10 1-6 1 21 1 28 1 45 1 7 1 47 1-39 1 32 1-9 1 23 1 4 1 75 1 31 1 36 1 11 1 47 1 53 1-3 1 9 1 61 1 0 1 7 1 28 1-5 1 19 1-16 1 16 1 15 1 6 1 51 1-25 1 39 1-3 1 51 1 11 1 54 1-34 1 1 1 16 1 0 1-7 1 9 1-11 1 4 1 1 1 9 1-27 1 35 1 3 1 34 1 26 1-14 1 27 1-3 1 9 1 22 1 22 1-30 1 7 1 3 1-11 1 24 1 5 1 29 1-21 1-1 1 15 1 11 1 5 1-15 1-8 1-2 1 11 1 7 1-28 1 13 1 35 1 3 1 8 1-5 1-6 1-15 1 12 1-9 1 12 1-16 1-9 1 6 1-8 1 22 1-2 1-18 1 8 1-26 1 12 1 13 1 12 1-11 1-8 1 26 1 11 1 34 1-26 1 9 1-7 1 33 1 8 1-9 1-1 1 19 1 1 1 14 1 3 1 0 1-11 1-25 1 23 1 20 1 1 1-2 1 7 1 3 1 8 1 24 1-2 1-7 1 3 1 9 1-11 1-1 1 1 1-32 1 41 1-27 1-3 1 18 1 7 1 5 1-6 1-4 1 14 1 0 1-3 1 7 1-18 1 1 1 9 1 0 1-17 1 23 1 20 1-1 1 19 1-17 1-5 1 11 1-24 1 6 1 8 1 12 1-2 1-2 1-9 1-11 1 13 1-19 1 24 1-32 1 31 1 5 1-15 1 11 1-15 1-2 1 13 1 6 1 0 1-1 1 19 1 17 1-4 1 15 1-8 1-3 1 6 1-10 1-1 1-13 1 3 1 11 1 1 1 18 1-34 1 33 1-20 1 10 1 5 1-15 1-8 1 6 1-4 1 5 1 13 1 2 1-13 1 17 1 2 1 8 1 6 1-6 1-2 1-3 1-13 1 14 1-4 1-28 1 7 1 4 1-4 1 29 1-6 1-4 1-2 1-4 1 14 1 19 1-4 1-11 1 6 1-15 1 9 1 15 1-3 1-12 1 11 1-23 1-3 1 3 1 18 1-14 1 17 1-22 1 20 1-8 1 0 1 5 1 0 1 10 1-19 1-4 1-27 1 18 1-5 1 17 1 9 1 0 1-6 1 20 1-19 1 7 1 3 1-2 1-10 1 2 1-1 1-4 1 0 1-15 1 0 1 19 1-9 1 22 1-25 1 21 1 8 1-11 1-6 1 12 1-18 1 22 1 8 1-26 1 5 1 9 1 18 1-29 1 3 1 3 1 10 1 2 1-7 1 36 1-10 1 4 1-12 1 9 1-9 1 16 1 10 1-14 1 10 1-1 1 0 1 0 1 1 1-10 1-1 1-7 1-2 1 1 1-7 1 11 1-12 1 17 1-25 1 24 1-6 1-8 1-3 1 5 1-16 1 8 1 19 1 4 1-5 1 3 1 6 1 8 1-4 1 1 1 3 1-7 1 11 1-10 1 5 1-7 1-3 1-7 1-7 1 15 1-9 1 18 1-15 1 2 1-9 1-6 1 3 1 13 1-4 1-7 1 20 1 11 1-13 1 10 1-8 1 8 1-8 1 4 1-16 1-13 1 7 1-5 1 13 1 4 1 0 1 4 1-18 1 7 1-18 1 8 1 19 1 0 1 6 1 1 1-2 1 8 1-20 1 20 1-24 1 9 1-20 1 12 1 10 1-4 1-6 1 12 1-6 1 4 1-9 1 0 1-3 1 5 1 4 1 0 1 2 1 7 1-2 1-2 1-9 1 3 1-1 1 20 1-12 1-5 1 17 1-17 1 3 1-11 1 2 1 13 1 8 1-18 1 3 1 4 1 3 1 3 1-11 1 8 1-1 1 4 1-1 1 11 1-8 1 9 1-15 1 0 1-14 1 4 1 14 1-1 1-9 1 16 1 8 1-8 1 3 1 1 1 2 1 0 1-10 1-10 1 2 1 11 1-8 1 6 1 11 1-7 1-12 1 8 1-8 1-3 1 7 1-6 1 20 1-19 1 9 1-7 1 12 1 18 1-10 1 4 1 8 1-23 1 7 1 9 1-11 1-14 1 11 1-2 1-4 1-7 1 1 1-5 1 10 1-4 1 4 1-6 1-17 1 3 1-4 1 18 1-3 1 13 1 3 1-8 1 7 1-8 1 18 1-17 1-4 1 2 1-9 1 5 1-5 1 16 1-2 1-6 1-5 1 17 1-13 1 10 1-12 1-3 1 14 1 2 1 0 1-9 1 2 1 11 1-10 1 9 1-9 1-4 1-3 1-3 1 9 1-11 1-6 1 12 1-12 1 16 1 1 1-7 1 0 1 9 1-13 1 1 1-2 1 2 1 16 1-10 1-8 1-9 1 5 1-1 1 3 1 17 1-2 1-10 1 7 1 3 1 8 1-10 1 3 1 2 1-2 1-8 1 5 1 10 1 14 1-20 1 11 1 3 1-9 1 10 1-12 1 7 1-16 1-4 1 2 1 2 1-1 1 0 1 5 1-3 1 0 1-6 1 3 1 10 1 2 1 2 1-4 1-13 1 6 1 8 1-6 1-2 1 4 1-13 1 12 1-14 1-4 1 14 1-5 1-16 1 0 1 4 1 0 1 19 1 3 1-17 1 20 1-6 1-18 1 13 1 8 1-15 1-6 1 16 1-14 1-4 1 9 1 10 1-12 1 0 1 6 1 11 1-5 1-5 1-13 1 4 1-1 1 10 1-22 1 11 1 12 1 12 1 3 1-7 1 12 1-17 1-13 1 9 1-4 1 18 1 3 1-2 1 14 1 7 1-16 1 0 1-1 1-10 1-16 1 5 1 7 1 9 1-5 1 1 1-1 1 1 1-2 1 2 1 11 1-25 1-1 1-9 1 0 1 12 1-3 1 9 1 8 1-20 1 5 1-3 1 11 1 14 1-6 1 5 1-7 1-15 1 22 1-26 1 3 1 14 1-1 1-22 1 17 1 2 1-14 1-1 1 11 1 11 1-13 1-1 1-3 1 6 1 6 1-7 1-14 1 7 1-15 1 18 1-14 1 2 1 8 1-8 1 4 1 7 1-3 1-7 1 10 1 0 1 15 1 6 1-6 1-5 1-5 1 11 1-11 1-4 1 4 1-4 1-7 1 13 1 11 1-6 1-21 1 19 1 2 1 1 1 21 1 2 1-24 1 10 1 3 1 6 1-8 1-1 1-18 1 9 1-17 1 15 1-13 1 5 1 19 1-6 1-10 1 12 1-8 1 4 1 8 1-16 1-12 1 5 1 4 1 1 1 9 1-10 1-14 1 11 1 6 1-6 1 18 1-15 1 13 1-7 1 4 1-11 1 4 1 0 1 0 1 8 1-5 1 11 1-5 1-2 1-9 1 19 1-12 1-2 1 2 1-13 1-4 1 9 1-7 1-9 1 8 1-9 1-8 1 35 1-5 1-4 1-5 1 13 1-4 1 4 1 0 1-3 1 23 1-3 1-4 1 15 1-9 1 3 1 2 1 4 1-9 1-7 1-1 1 4 1-6 1 5 1-16 1 6 1 9 1 14 1 2 1-13 1-10 1 8 1-3 1-7 1-11 1 2 1 1 1 6 1 8 1-4 1 1 1 3 1-5 1 0 1 4 1-3 1-1 1-11 1 12 1-2 1 9 1-9 1 8 1 7 1-22 1 13 1 8 1-25 1-1 1 19 1-28 1 9 1 8 1 20 1-16 1-2 1 2 1 9 1-3 1-12 1 10 1-10 1-2 1 15 1-18 1 10 1-16 1 10 1 0 1 11 1-7 1 3 1 3 1-2 1-12 1 10 1-6 1 6 1 5 1 3 1-13 1-5 1 2 1 4 1-3 1-4 1-3 1 19 1-17 1 8 1-1 1-9 1 8 1 8 1-12 1 4 1-6 1-1 1 4 1-15 1 14 1-2 1 2 1 10 1-1 1-2 1-12 1 21 1-5 1 10 1-3 1-3 1-6 1 3 1 9 1-8 1-6 1 2 1 15 1-6 1 0 1-14 1 29 1-21 1 0 1 6 1 5 1 9 1-21 1 11 1-7 1 0 1-4 1 4 1-1 1 1 1-11"/>
<path class="ln" stroke="#fd7c1a" transform="translate(826.15 348.10) scale(0.5 -0.1)" d="M0 0 l1 0 1 1 1 0 1 0 1 1 1 1 1-1 1 0 1 0 1 2 1 1 1-1 1 0 1 1 1 1 1-1 1 3 1 1 1-1 1 0 1 2 1-1 1 0 1 0 1 0 1-2 1 3 1 0 1 0 1 12 1-4 1-18 1 0 1 24 1 10 1 47 1 0 1 26 1 12 1-10 1 3 1 5 1-12 1-22 1 46 1-3 1 28 1 82 1 27 1 10 1 26 1-12 1 84 1 99 1 2 1-53 1-48 1 22 1 39 1 63 1 14 1 1 1 10 1 52 1 28 1 36 1 155 1 7 1-15 1-73 1 17 1 11 1 42 1 43 1-25 1 4 1 30 1 22 1 24 1-13 1-65 1 62 1-8 1 71 1 9 1-16 1 41 1 32 1 72 1-12 1-8 1-25 1 33 1 38 1-6 1 0 1 41 1-7 1 31 1-6 1-12 1 7 1-34 1 24 1 7 1 58 1-43 1 36 1-44 1 91 1 5 1 28 1-37 1-35 1 19 1 41 1-43 1 66 1-37 1-20 1 22 1 21 1 38 1 11 1-12 1 8 1-23 1 54 1 37 1 24 1-13 1 13 1-6 1 3 1 33 1 6 1 6 1-55 1 42 1 27 1-29 1 26 1-10 1 12 1 21 1 49 1-59 1 39 1-14 1 48 1-9 1-18 1 47 1-9 1 29 1 18 1 7 1 8 1-3 1 45 1-56 1 54 1 3 1 22 1-22 1 16 1-7 1 28 1 12 1 14 1-33 1 16 1-7 1 11 1-20 1 1 1-24 1 38 1-33 1 8 1 3 1 48 1 4 1-3 1-5 1 27 1 23 1 12 1 17 1-21 1 3 1-24 1 37 1-11 1 5 1 10 1-26 1 23 1-6 1 14 1 17 1-12 1-1 1-15 1 44 1-26 1-21 1-2 1 12 1 21 1-5 1 23 1 7 1 18 1 4 1-29 1 22 1-7 1-10 1 4 1 5 1-30 1 52 1-7 1 13 1-15 1 56 1-24 1 2 1-4 1-1 1-22 1 20 1 3 1-13 1-20 1 55 1-6 1-7 1 8 1 19 1-14 1-33 1 36 1-38 1 43 1-41 1 15 1-34 1 1 1 34 1 2 1 37 1-15 1 26 1 21 1-22 1 17 1 3 1 20 1-32 1 3 1 6 1-48 1 24 1-9 1-24 1 20 1-43 1 27 1 31 1-25 1 2 1-18 1 11 1-26 1 37 1-9 1-7 1-6 1-31 1 68 1-13 1-1 1-44 1 14 1 20 1-19 1 29 1-20 1 37 1-5 1 0 1 9 1-45 1 21 1-15 1-26 1 50 1 8 1-31 1 37 1-5 1 31 1 15 1-23 1 3 1 3 1 15 1-10 1 26 1-17 1-5 1 5 1 52 1 7 1 15 1-35 1 34 1 12 1-14 1-27 1-27 1-12 1-11 1 21 1-26 1-27 1 31 1-30 1 38 1-8 1 5 1-42 1 1 1 4 1-1 1 7 1-42 1-4 1-1 1 2 1-21 1 19 1 15 1 20 1 7 1 8 1-39 1 16 1 2 1 0 1 8 1 10 1 52 1-38 1 34 1 18 1 19 1-22 1 1 1 0 1 28 1-18 1 4 1-7 1-8 1 47 1-30 1-13 1 41 1 0 1-13 1 6 1-10 1-16 1-42 1 1 1 35 1-29 1 1 1 8 1-11 1 29 1-14 1-9 1 33 1-15 1-19 1 7 1 13 1-3 1 7 1-11 1 11 1-28 1 22 1 19 1-29 1 23 1 12 1-4 1 12 1-20 1 8 1-40 1 47 1-10 1-20 1 10 1-2 1-13 1-30 1 41 1-2 1-3 1-28 1 32 1-13 1 20 1-15 1 75 1-35 1 6 1 13 1-1 1-1 1-15 1 1 1-29 1-9 1-6 1 44 1-13 1 33 1-8 1 14 1 12 1 44 1-21 1-32 1-3 1-29 1 11 1 4 1 26 1-70 1 6 1 10 1 1 1 11 1-22 1 14 1 2 1-2 1 21 1-46 1-1 1 6 1 48 1-18 1 9 1-2 1 7 1 19 1 1 1-28 1-20 1 22 1-6 1 3 1-29 1 7 1-5 1 25 1-54 1 52 1 4 1-29 1 2 1 20 1-33 1 27 1-19 1-14 1 8 1-7 1-36 1 4 1 45 1-38 1 54 1 0 1-24 1 25 1 17 1-31 1 3 1-29 1 34 1-25 1-8 1 36 1 33 1-3 1 40 1-43 1-26 1 36 1 38 1-19 1-18 1 0 1 7 1-42 1 28 1-27 1 18 1-46 1 13 1 27 1-8 1 12 1 0 1-13 1 26 1-8 1 1 1 29 1-5 1-30 1 8 1-11 1 32 1-3 1 5 1 0 1-9 1 12 1 18 1-23 1 23 1-15 1 27 1 27 1-45 1-25 1 5 1 3 1-34 1 4 1-21 1 23 1-24 1 2 1-6 1-21 1 6 1 56 1-46 1 8 1 26 1-1 1 8 1 17 1 2 1 37 1-35 1-2 1 24 1-6 1 38 1-34 1-2 1-14 1 11 1-15 1-10 1-19 1 29 1 8 1-15 1-42 1 25 1-22 1-10 1 14 1 4 1 27 1-34 1 14 1 11 1 18 1 8 1-38 1-10 1-11 1 25 1 25 1 13 1-49 1 2 1-4 1-8 1 56 1-13 1 4 1-12 1 23 1-16 1 26 1-39 1 27 1-27 1 6 1-18 1 25 1-25 1 14 1 16 1-18 1 33 1-9 1-22 1 10 1 0 1-20 1 16 1 30 1-52 1 24 1 3 1-27 1 6 1 9 1 13 1-27 1-4 1 31 1 6 1 11 1-6 1 24 1 5 1 2 1 6 1-26 1-2 1-12 1-2 1-12 1-32 1 5 1 29 1-20 1-5 1 12 1-12 1 3 1 13 1 30 1-27 1 6 1 15 1 5 1 3 1 7 1-21 1 3 1 6 1-8 1-5 1 23 1 4 1-24 1 16 1-22 1-5 1 20 1-14 1-19 1 26 1-22 1 5 1-16 1 27 1 17 1-45 1 3 1-28 1 33 1 4 1 45 1-25 1-59 1 63 1-8 1 24 1 13 1-28 1 34 1 2 1 3 1-27 1 18 1-1 1-41 1 35 1-44 1 24 1 11 1-23 1 35 1-3 1 17 1 15 1-10 1 7 1-10 1-6 1-8 1-7 1-35 1 15 1-26 1 9 1 28 1-9 1 8 1 11 1 0 1 33 1-10 1-39 1-8 1 43 1 34 1-28 1-22 1 0 1-11 1 34 1-28 1 24 1-9 1-22 1 24 1-7 1-30 1 29 1-21 1-8 1-22 1 39 1-38 1 14 1 4 1-1 1 14 1 23 1-40 1 31 1-51 1 41 1-22 1-3 1-7 1 33 1-11 1 3 1 7 1-19 1 9 1 17 1-4 1 30 1-27 1 4 1-9 1 4 1-33 1 5 1 3 1-6 1-22 1 50 1-29 1 46 1-42 1 31 1 25 1-26 1 3 1 14 1 0 1 9 1-10 1-9 1-26 1 30 1-40 1 36 1-2 1 6 1-38 1 35 1-9 1 1 1 19 1-40 1 22 1 13 1-24 1-44 1 29 1 12 1 2 1-22 1-3 1 4 1 0 1 4 1 44 1-20 1-10 1 24 1 1 1-29 1-13 1 14 1 20 1-32 1 33 1-18 1 8 1-26 1-10 1 60 1-8 1 6 1-2 1-15 1 27 1 0 1-28 1 37 1 13 1-41 1 14 1-41 1 60 1-56 1 52 1-57 1-15 1 47 1 3 1-20 1-46 1 48 1-23 1-17 1-20 1 3 1-9 1 4 1 50 1 14 1-5 1 17 1-13 1-12 1 22 1-47 1 4 1 29 1 21 1 12 1-6 1-3 1-30 1 27 1-10 1-23 1-2 1 29 1-39 1 11 1-12 1 31 1-7 1-23 1 8 1 0 1 27 1-9 1-19 1 23 1-29 1-3 1 11 1-4 1-27 1 22 1-2 1-29 1 8 1 38 1-58 1 18 1 55 1 25 1-57 1 44 1-2 1-13 1-2 1 15 1 4 1 25 1-16 1 10 1-25 1 23 1-13 1-7 1-2 1-21 1 11 1-34 1 9 1 6 1 52 1-42 1-15 1 33 1-20 1 15 1-2 1-6 1 15 1-22 1 20 1-18 1-5 1-7 1 19 1-7 1 23 1-17 1-37 1 43 1 3 1 38 1-3 1 2 1-9 1-21 1 5 1 11 1-54 1 1 1-14 1 30 1-31 1 34 1-44 1-6 1 47 1 0 1 30 1-9 1 3 1-17 1 20 1-10 1-39 1 16 1 17 1-17 1-11 1 5 1-4 1 46 1-42 1 11 1-8 1 8 1 26 1-10 1 19 1-2 1-7 1-5 1-5 1-3 1 39 1-9 1-24 1-22 1 8 1 32 1-29"/>
<rect x="801.00" y="113.00" width="553.20" height="246.30" fill="none" stroke="#d0d0d0" stroke-width="1.7"/>
<g class="tk">
<text transform="translate(826.1 382.3) scale(1 1.12)" text-anchor="middle">0.0</text>
<text transform="translate(926.3 382.3) scale(1 1.12)" text-anchor="middle">0.2</text>
<text transform="translate(1026.4 382.3) scale(1 1.12)" text-anchor="middle">0.4</text>
<text transform="translate(1126.5 382.3) scale(1 1.12)" text-anchor="middle">0.6</text>
<text transform="translate(1226.6 382.3) scale(1 1.12)" text-anchor="middle">0.8</text>
<text transform="translate(1326.8 382.3) scale(1 1.12)" text-anchor="middle">1.0</text>
<text transform="translate(793.0 355.5) scale(1 1.12)" text-anchor="end">0.00</text>
<text transform="translate(793.0 299.5) scale(1 1.12)" text-anchor="end">0.25</text>
<text transform="translate(793.0 243.6) scale(1 1.12)" text-anchor="end">0.50</text>
<text transform="translate(793.0 187.6) scale(1 1.12)" text-anchor="end">0.75</text>
<text transform="translate(793.0 131.6) scale(1 1.12)" text-anchor="end">1.00</text>
<text transform="translate(1352.7 407.5) scale(1 1.12)" text-anchor="end" style="font-size:20.2px">1e7</text>
</g>
<text class="tt" x="1078.0" y="104.0" text-anchor="middle">8m_vs_9m (hard)</text>
</g>
<g>
<path d="M1435.65 113.00V359.30M1535.77 113.00V359.30M1635.89 113.00V359.30M1736.01 113.00V359.30M1836.13 113.00V359.30M1936.25 113.00V359.30M1410.50 348.10H1963.70M1410.50 292.13H1963.70M1410.50 236.15H1963.70M1410.50 180.17H1963.70M1410.50 124.20H1963.70" stroke="#d0d0d0" stroke-width="1.7" fill="none"/>
<path class="bd" fill="#db1d28" transform="translate(1435.65 348.10) scale(1.5 -0.1)" d="M10 0 l1 39 1 44 1 29 1 62 1 35 1 161 1 103 1 140 1 111 1 133 1 227 1 218 1 201 1 146 1 115 1 148 1 116 1-8 1 53 1 71 1 12 1 19 1 12 1-2 1 6 1-1 1 2 1 18 1-17 1 20 1-5 1 12 1-11 1-1 1 13 1 10 1-7 1 2 1 2 1 5 1-12 1 6 1-5 1 9 1-5 1 2 1 4 1 0 1-1 1 2 1 0 1-3 1 1 1 2 1 0 1-3 1 2 1 0 1-2 1 2 1 1 1 0 1 0 1-1 1 0 1 1 1 0 1 0 1 0 1 0 1 0 1-1 1 0 1 1 1 0 1 0 1 0 1 5 1-1 1-1 1 3 1-6 1 0 1 0 1 4 1-4 1 1 1-1 1 0 1 0 1 0 1 0 1 0 1 0 1 0 1 1 1 1 1 2 1-3 1-1 1 1 1 0 1 0 1 0 1 0 1-1 1 1 1-1 1 1 1 0 1 5 1-5 1 1 1-1 1 0 1 0 1 0 1 4 1-4 1 0 1 0 1-1 1 1 1 4 1-4 1 0 1 1 1-1 1 0 1-1 1 3 1-2 1 1 1-1 1 3 1 2 1-5 1 0 1 1 1 0 1-1 1 1 1-1 1 1 1 0 1-1 1 4 1-4 1 1 1 0 1 0 1-1 1 1 1 0 1 0 1 0 1 0 1 0 1 0 1 0 1 0 1 0 1 0 1 0 1 0 1 0 1 4 1-3 1-1 1 0 1 4 1-4 1 0 1 1 1-1 1 0 1 1 1-1 1 1 1 0 1 1 1 2 1-3 1 0 1 1 1-1 1 0 1-1 1 1 1 0 1 0 1 0 1 0 1 0 1 1 1 2 1 0 1 0 1-3 1 0 1 0 1 0 1 0 1-1 1 1 1 0 1 3 1-3 1 0 1 2 1-2 1 0 1 1 1 0 1-1 1 0 1 0 1-1 1 0 1 1 1 0 1 0 1 0 1 1 1 0 1 0 1 0 1-1 1 1 1 0 1-1 1 0 1 1 1 0 1-1 1 1 1 2 1-3 1 0 1 0 1 1 1 0 1 0 1 0 1 2 1-2 1 0 1 0 1 0 1 0 1 1 1-1 1 0 1 0 1 0 1 0 1 0 1 0 1 1 1 0 1-1 1 1 1-1 1 1 1-1 1 1 1 0 1 0 1-2 1 0 1 0 1 2 1 0 1 0 1-1 1 0 1 1 1 0 1 0 1 0 1 0 1 1 1-1 1 0 1 0 1 0 1 1 1 0 1-1 1 0 1 0 1 0 1 1 1 0 1 0 1 0 1 0 1 0 1 0 1-1 1 0 1 1 1-1 1 0 1 1 1 0 1-2 1 1 1 0 1 0 1 1 1-1 1 1 1-1 1 0 1 0 1 1 1 0 1-1 1 1 1 0 1 0 1 0 1 0 0-30 -1-1 -1 2 -1-1 -1-5 -1 1 -1 3 -1 3 -1 0 -1-3 -1 1 -1 5 -1-5 -1-1 -1-4 -1 3 -1-3 -1 4 -1 0 -1 4 -1-4 -1 6 -1-5 -1 0 -1 2 -1-7 -1 2 -1-3 -1 7 -1-14 -1-121 -1-240 -1-162 -1-92 -1 258 -1 185 -1 151 -1 31 -1 4 -1-6 -1 2 -1 0 -1 4 -1 2 -1-7 -1-116 -1-189 -1-135 -1-205 -1 151 -1 206 -1 251 -1 44 -1-5 -1-2 -1 0 -1 1 -1 3 -1-2 -1-3 -1 4 -1 1 -1 1 -1 0 -1 0 -1-6 -1-2 -1 5 -1-6 -1 3 -1-3 -1-1 -1 3 -1 2 -1 1 -1-1 -1 0 -1-3 -1 8 -1-4 -1 2 -1-7 -1 2 -1 1 -1 0 -1 1 -1-2 -1-6 -1 8 -1-4 -1 5 -1-3 -1 1 -1-4 -1 3 -1-3 -1-2 -1 0 -1 2 -1-2 -1-2 -1 4 -1 0 -1 4 -1-3 -1-1 -1 3 -1 1 -1-5 -1 2 -1-5 -1 1 -1 7 -1-2 -1 4 -1-8 -1 1 -1-6 -1 10 -1-10 -1 1 -1 5 -1-2 -1 1 -1 2 -1-1 -1-8 -1 2 -1-2 -1 2 -1-3 -1 1 -1 12 -1-10 -1 0 -1 8 -1-2 -1-5 -1-2 -1 2 -1 10 -1-7 -1-9 -1 5 -1 8 -1-2 -1 0 -1-4 -1 1 -1-8 -1 5 -1-5 -1 2 -1 14 -1 2 -1-12 -1-3 -1 6 -1-4 -1 5 -1-8 -1 9 -1-10 -1 7 -1-3 -1-5 -1 2 -1 3 -1 7 -1 1 -1-7 -1 3 -1-4 -1 6 -1-3 -1 2 -1-5 -1 7 -1-13 -1 12 -1-6 -1 8 -1 3 -1-16 -1 15 -1-13 -1 2 -1 2 -1-12 -1 2 -1-1 -1 9 -1 0 -1-4 -1-8 -1 0 -1 6 -1 7 -1-32 -1-185 -1-231 -1-7 -1 179 -1 260 -1 21 -1-10 -1 11 -1-8 -1-6 -1 5 -1-6 -1-7 -1 6 -1 6 -1-24 -1 21 -1-16 -1-3 -1 1 -1-4 -1 11 -1-19 -1 1 -1 6 -1-1 -1 14 -1 8 -1-36 -1 12 -1 8 -1-13 -1-3 -1 23 -1-30 -1 25 -1-13 -1-13 -1-19 -1-4 -1 33 -1-10 -1-4 -1-19 -1-21 -1 35 -1-32 -1 6 -1-18 -1-16 -1 7 -1-1 -1 6 -1-35 -1 1 -1-14 -1-10 -1-12 -1-9 -1 29 -1-35 -1 11 -1 22 -1-47 -1 15 -1 10 -1-81 -1 41 -1-15 -1-45 -1-61 -1 25 -1-116 -1-13 -1 3 -1-28 -1-63 -1-26 -1-49 -1-63 -1 14 -1-57 -1-32 -1-33 -1-7 -1-33 -1-106 -1-35 -1-33 -1-22 -1-152 -1-74 -1-35 -1-105 -1 0 -1-43 -1-27 -1-21 -1-113 -1 30 -1-98 -1-62 -1-58 -1-66 -1 8 -1-87 -1-5 -1-25 -1-23 -1-47 -1-24 -1-50 -1-19 -1-41 -1-25 -1-16 -1 0 -1 0 -1 0 -1 0 -1 0 -1 0 -1 0 -1 0 -1 0 -1 0z"/>
<path class="bd" fill="#2ba02e" transform="translate(1435.65 348.10) scale(1.5 -0.1)" d="M4 0 l1 67 1 79 1 324 1 267 1 204 1 222 1 132 1 115 1 143 1 87 1 95 1 117 1 85 1 17 1-8 1-11 1 11 1 10 1 26 1 19 1 46 1 6 1 58 1 32 1-9 1 39 1 8 1 0 1 21 1 9 1 2 1-5 1 6 1 0 1 4 1-1 1 5 1-5 1 3 1 10 1 1 1-6 1 8 1 1 1-3 1 7 1 1 1-3 1 0 1 1 1-1 1 3 1 0 1 0 1-3 1 1 1 2 1-1 1 0 1 1 1 0 1-4 1 1 1 2 1 1 1-6 1 2 1-1 1 1 1 2 1-2 1 3 1-1 1 2 1-2 1-1 1 2 1 1 1 0 1-3 1 3 1 0 1-1 1 1 1-3 1 3 1 0 1 0 1 0 1-2 1 0 1 0 1 2 1-3 1 1 1 1 1 0 1 0 1-1 1 2 1 0 1 0 1 0 1-1 1 1 1-1 1 0 1 1 1-1 1 1 1-1 1 1 1 0 1 0 1 0 1 0 1 0 1 0 1 0 1-1 1 1 1 0 1 0 1-1 1 1 1 0 1 0 1-1 1 0 1 1 1 0 1-1 1 1 1 0 1 0 1 0 1 0 1 0 1 0 1 0 1 0 1 0 1-1 1 0 1 1 1 0 1-1 1 1 1-1 1 1 1-1 1 1 1 0 1 0 1 0 1 0 1 0 1-1 1 1 1 0 1 0 1 0 1 0 1 0 1 0 1 0 1 0 1 0 1 0 1 0 1 0 1 0 1 0 1 0 1 0 1 0 1 0 1 0 1 0 1 0 1 0 1 0 1 0 1 0 1 0 1 0 1 0 1 0 1 0 1 0 1 0 1 0 1 0 1 0 1 0 1 0 1 0 1 0 1 0 1 0 1 0 1 0 1 0 1 0 1 0 1 0 1 0 1 0 1 0 1 0 1 0 1 0 1 0 1 0 1 0 1 0 1 0 1 0 1 0 1 0 1 0 1 0 1-1 1 0 1 1 1 0 1 0 1 0 1-1 1 0 1 1 1 0 1 0 1 0 1 0 1 0 1 0 1 0 1 0 1 0 1 0 1 0 1 0 1 0 1 0 1 0 1 0 1 0 1 0 1 0 1 0 1 0 1 0 1-1 1 1 1-1 1 1 1 0 1 0 1 0 1 0 1 0 1 0 1 0 1 0 1 0 1 0 1 0 1 0 1 0 1 0 1 0 1 0 1 0 1 0 1 0 1-1 1 1 1 0 1 0 1 0 1 0 1 0 1 0 1 0 1 0 1 0 1 0 1-1 1 1 1-1 1 1 1 0 1 0 1 0 1 0 1 0 1 0 1 0 1 0 1 0 1 0 1 0 1 0 1 0 1 0 1 0 1 0 1 0 1 0 1 0 1 0 1 0 1 0 1 0 1 0 1 0 1 0 1 0 1 0 1 0 1 0 1 0 1 0 1 0 1 0 1 0 1 0 1 0 1 0 1 0 0-20 -1 0 -1-2 -1 2 -1 0 -1-2 -1 0 -1-2 -1 1 -1 1 -1 1 -1-3 -1 4 -1-5 -1 4 -1-1 -1 0 -1 0 -1-1 -1-2 -1 4 -1 2 -1-4 -1 1 -1-2 -1-1 -1 1 -1-1 -1-1 -1 4 -1-5 -1 2 -1 1 -1 0 -1 2 -1-1 -1-1 -1-3 -1 0 -1 1 -1-1 -1 3 -1-3 -1 2 -1 0 -1-1 -1 0 -1-1 -1 2 -1-3 -1 1 -1 2 -1-4 -1 2 -1 2 -1 0 -1-3 -1-1 -1 3 -1 1 -1-1 -1 0 -1 0 -1 4 -1 0 -1-4 -1-4 -1 1 -1 4 -1 0 -1-2 -1-3 -1 3 -1 3 -1-3 -1 0 -1-2 -1 2 -1 0 -1 1 -1-4 -1 0 -1 3 -1 2 -1-4 -1 2 -1-6 -1 3 -1 2 -1-3 -1 3 -1 0 -1 1 -1-3 -1-2 -1 2 -1 2 -1-5 -1 0 -1 4 -1 2 -1-2 -1-3 -1 4 -1-2 -1-1 -1-1 -1 0 -1 2 -1 0 -1 0 -1 2 -1-6 -1 3 -1-2 -1 1 -1 1 -1-1 -1 2 -1-5 -1-1 -1 3 -1 1 -1 1 -1 4 -1-6 -1-1 -1 0 -1 4 -1-1 -1-1 -1 2 -1-2 -1 2 -1 1 -1 4 -1-7 -1-4 -1 5 -1-2 -1 1 -1-2 -1 4 -1 2 -1 3 -1 0 -1-11 -1-1 -1 5 -1 1 -1 3 -1 1 -1-8 -1 8 -1-11 -1 4 -1-5 -1 3 -1-3 -1-1 -1 1 -1 5 -1-4 -1 3 -1-5 -1 4 -1-3 -1 2 -1 0 -1 1 -1-2 -1-2 -1 5 -1 1 -1 1 -1 1 -1-10 -1 7 -1-2 -1-4 -1 5 -1-4 -1 4 -1-5 -1 3 -1 0 -1 0 -1-1 -1-3 -1 1 -1 3 -1-5 -1 1 -1 1 -1 3 -1 4 -1-2 -1-3 -1-2 -1 10 -1-8 -1 2 -1-4 -1 5 -1-4 -1-1 -1 8 -1-3 -1 0 -1-6 -1 0 -1 6 -1-7 -1 5 -1-3 -1 4 -1-3 -1-2 -1 2 -1-1 -1-4 -1 4 -1 0 -1-3 -1-1 -1 1 -1-1 -1 2 -1-3 -1-1 -1 3 -1 4 -1 0 -1 3 -1-5 -1 0 -1-4 -1 3 -1-8 -1 0 -1-1 -1-3 -1 8 -1-14 -1 7 -1-6 -1 0 -1 2 -1 4 -1-11 -1 0 -1 1 -1 2 -1-16 -1 12 -1-9 -1-5 -1 6 -1-2 -1-13 -1-3 -1 2 -1 11 -1-19 -1 9 -1 5 -1-1 -1-9 -1-8 -1 1 -1-9 -1 9 -1-15 -1 9 -1-11 -1-3 -1-6 -1-1 -1 7 -1 1 -1-26 -1 0 -1 6 -1 5 -1 0 -1-26 -1 10 -1 1 -1-28 -1-4 -1-4 -1-17 -1 0 -1-5 -1 9 -1-25 -1-15 -1-44 -1-27 -1-41 -1-39 -1-8 -1-88 -1-60 -1-105 -1-80 -1-96 -1-83 -1-84 -1-85 -1-112 -1-100 -1-101 -1-90 -1-76 -1-94 -1-129 -1-74 -1-131 -1-60 -1-16 -1-49 -1-56 -1-54 -1-18 -1 0 -1 0 -1 0 -1 0 -1 0 -1 0 -1 0z"/>
<path class="bd" fill="#1576b3" transform="translate(1435.65 348.10) scale(1.5 -0.1)" d="M10 0 l1 34 1 38 1 35 1 40 1 12 1 101 1 92 1 122 1 90 1 100 1 174 1 232 1 182 1 172 1 171 1 167 1 137 1 86 1 36 1 79 1 37 1 20 1 16 1 10 1 4 1 1 1 1 1 7 1 6 1 9 1 0 1 3 1-10 1 3 1-2 1 12 1-2 1 0 1 5 1 8 1-3 1 1 1 2 1-1 1-1 1 2 1-8 1 1 1 2 1 5 1-6 1 6 1-2 1 5 1 0 1-10 1-1 1 8 1-9 1 3 1-1 1 3 1-3 1 4 1 1 1-8 1 9 1-5 1 2 1 2 1-1 1 3 1-6 1 6 1-5 1-4 1 5 1-3 1-3 1 2 1 0 1 2 1 8 1-3 1 4 1-5 1 4 1 0 1-3 1 3 1-1 1 2 1-5 1 3 1 0 1-1 1 0 1-2 1 2 1 3 1 0 1-2 1 1 1-3 1 2 1 0 1-1 1 2 1-1 1-1 1 3 1 0 1 0 1-4 1 4 1 0 1-1 1-1 1 2 1-1 1 1 1-2 1 2 1-4 1 2 1-1 1 2 1 0 1 1 1-3 1-1 1 2 1 1 1-1 1-2 1 0 1 4 1 0 1-2 1 1 1-2 1-2 1 3 1-3 1 4 1-1 1-2 1 2 1-1 1 1 1 1 1 0 1-1 1 2 1-2 1-3 1 1 1 2 1 1 1 1 1-2 1 0 1 2 1 0 1-1 1-1 1 1 1-1 1-1 1 1 1-2 1 4 1 0 1-2 1 2 1-3 1 3 1 0 1-2 1 2 1-1 1 2 1-1 1-1 1 1 1-3 1 2 1 1 1-2 1 0 1 0 1 2 1-3 1 2 1 1 1-2 1 1 1-3 1 3 1-1 1 0 1 1 1 0 1 0 1 1 1 1 1-1 1 1 1-1 1 0 1-2 1 3 1-1 1 0 1 0 1 0 1-1 1 1 1-1 1 0 1 0 1 1 1 2 1-1 1-2 1 0 1 0 1 1 1-1 1 2 1-2 1 1 1 1 1-1 1 1 1-2 1 2 1 0 1 0 1 1 1 0 1-1 1 1 1 0 1-1 1 0 1 0 1 1 1-2 1 2 1-1 1-3 1 2 1 1 1 1 1-2 1 0 1-1 1 1 1 1 1-2 1 2 1 1 1-2 1 2 1-1 1-1 1 2 1-1 1-1 1 0 1 2 1 0 1-1 1-1 1 0 1 2 1-2 1-1 1 2 1 1 1-3 1 0 1 2 1-1 1 1 1 0 1 3 1-2 1 1 1-1 1 2 1-3 1 0 1 1 1-1 1 1 1 1 1 1 1-1 1 0 1 0 1-1 1 0 1 2 1-2 1 0 1 0 1 1 1-2 1 2 1-1 1 2 1-3 1 0 1 1 1 0 1-3 1 3 1 1 1-3 1 1 1 2 1-2 0-43 -1-2 -1 1 -1-8 -1 9 -1-9 -1 8 -1-6 -1 7 -1-9 -1 2 -1 4 -1-11 -1 6 -1 1 -1-2 -1-6 -1 4 -1 4 -1-7 -1 1 -1 10 -1 0 -1-8 -1-2 -1-1 -1 4 -1-10 -1 5 -1-14 -1-190 -1-179 -1-205 -1-41 -1 191 -1 177 -1 192 -1 74 -1-10 -1-1 -1 0 -1 4 -1-4 -1 8 -1 3 -1-142 -1-196 -1-154 -1-205 -1 197 -1 219 -1 166 -1 116 -1-7 -1 8 -1-6 -1-2 -1 5 -1-1 -1 4 -1 8 -1-1 -1-9 -1-1 -1 3 -1-3 -1 0 -1-6 -1 0 -1 0 -1 19 -1-1 -1-19 -1 4 -1 8 -1-5 -1 1 -1 7 -1-7 -1 0 -1 18 -1-26 -1 15 -1-7 -1 9 -1-6 -1 8 -1-17 -1 2 -1 6 -1-14 -1 3 -1 7 -1-20 -1 14 -1-6 -1 0 -1 2 -1-77 -1-95 -1 50 -1 95 -1 24 -1 10 -1 4 -1-6 -1-5 -1-4 -1 0 -1 11 -1 7 -1-14 -1 6 -1 8 -1-17 -1 2 -1 6 -1 4 -1-1 -1-8 -1 3 -1 5 -1-3 -1 1 -1-7 -1 16 -1-14 -1 3 -1 4 -1-14 -1 3 -1 1 -1 2 -1-3 -1 2 -1-3 -1 2 -1-1 -1-7 -1 7 -1-5 -1 22 -1-13 -1-52 -1-111 -1-21 -1 167 -1 7 -1-1 -1 2 -1 5 -1-7 -1 2 -1-3 -1 0 -1 1 -1-2 -1 4 -1-5 -1 16 -1-9 -1 1 -1 1 -1 10 -1-11 -1 9 -1-8 -1 9 -1-3 -1-7 -1-6 -1 0 -1 22 -1-19 -1-2 -1 8 -1-4 -1 3 -1-3 -1 19 -1-24 -1 0 -1-3 -1 2 -1 8 -1-24 -1 5 -1 14 -1-21 -1 21 -1-24 -1 16 -1-19 -1 2 -1-10 -1 24 -1-14 -1 5 -1-13 -1-210 -1-229 -1 13 -1 195 -1 205 -1 29 -1-9 -1 25 -1-12 -1 3 -1-1 -1-19 -1-3 -1 13 -1-30 -1 18 -1 6 -1 7 -1 0 -1 4 -1 2 -1-13 -1 5 -1-42 -1 19 -1-21 -1 37 -1-11 -1-16 -1 0 -1-5 -1 17 -1 8 -1-12 -1 7 -1 10 -1-31 -1-35 -1 34 -1-1 -1-13 -1-27 -1-8 -1 7 -1-16 -1 23 -1-40 -1-13 -1 32 -1-1 -1-28 -1 16 -1-13 -1-17 -1-22 -1-7 -1 17 -1-24 -1 9 -1 20 -1-32 -1-37 -1 22 -1-48 -1 2 -1-35 -1 13 -1-43 -1-6 -1-32 -1-10 -1-52 -1-18 -1-27 -1-48 -1-19 -1-39 -1-42 -1 5 -1-29 -1-6 -1-48 -1 4 -1-15 -1-38 -1-24 -1-19 -1-44 -1-14 -1-65 -1-40 -1-54 -1-7 -1-72 -1-79 -1-84 -1-33 -1-66 -1-42 -1-25 -1-69 -1-56 -1-49 -1-126 -1-99 -1-60 -1-44 -1-53 -1-17 -1-18 -1-18 -1-40 -1-26 -1-10 -1-23 -1-23 -1 0 -1 0 -1 0 -1 0 -1 0 -1 0 -1 0 -1 0 -1 0 -1 0z"/>
<path class="bd" fill="#fd7c1a" transform="translate(1435.65 348.10) scale(1.5 -0.1)" d="M8 0 l1 23 1 37 1 31 1 23 1 31 1 59 1 27 1 101 1 44 1 64 1 69 1 44 1 37 1 123 1 33 1 69 1 59 1 165 1 124 1 75 1 101 1 14 1 98 1 86 1 4 1 45 1 54 1-15 1 11 1 76 1-28 1 10 1 65 1-23 1 48 1-34 1 12 1 41 1 3 1 24 1 25 1 26 1-15 1-38 1-5 1-8 1 99 1-6 1 35 1-6 1-13 1 18 1 8 1 1 1 20 1-1 1 8 1 7 1 13 1-8 1-10 1 40 1-15 1 7 1 7 1 9 1 9 1-37 1 5 1 41 1-70 1 82 1-62 1 8 1 60 1 4 1-2 1 4 1 4 1 2 1 6 1-17 1 6 1 25 1-30 1 32 1-20 1 43 1-16 1-8 1 3 1 4 1-12 1 29 1 12 1 3 1-7 1 5 1-14 1 20 1-8 1 0 1-17 1 15 1-1 1 0 1 12 1-1 1 12 1-4 1-4 1-3 1 4 1 1 1 3 1-17 1 19 1-4 1 9 1-2 1-10 1 8 1 4 1 3 1 0 1 1 1-4 1-6 1 45 1-31 1-15 1 5 1 9 1-2 1 3 1-16 1 6 1 3 1-4 1-26 1 21 1-12 1 27 1 0 1-13 1 21 1-7 1 6 1 13 1-19 1-8 1 5 1-19 1 8 1 15 1 2 1-15 1 12 1 6 1-5 1 10 1-46 1-10 1-25 1 57 1-2 1-4 1 6 1 12 1-6 1-11 1-25 1 31 1 0 1 4 1 7 1 1 1-17 1 8 1-9 1-17 1 7 1 17 1-6 1 6 1-5 1-5 1 2 1 1 1-2 1 5 1-4 1-19 1 26 1-41 1 16 1 32 1-27 1-10 1 20 1 2 1 11 1 1 1 1 1-1 1-9 1 12 1 0 1-12 1 13 1-2 1 4 1-1 1-30 1 30 1 2 1-7 1 4 1-4 1 5 1 3 1-4 1 20 1-21 1 5 1-7 1 8 1 14 1-21 1 2 1-25 1 24 1-13 1 13 1 2 1-4 1-10 1 19 1-3 1-4 1-6 1 10 1-4 1-9 1 4 1 6 1 0 1-8 1 13 1-24 1-10 1 45 1-34 1 24 1-4 1-1 1-56 1 2 1 22 1 7 1 18 1 9 1-13 1-10 1 15 1-2 1-12 1 21 1-4 1 3 1 26 1-28 1-7 1 9 1-10 1-2 1 7 1 4 1-2 1-1 1 1 1-14 1 13 1-9 1 10 1 0 1 9 1-16 1 0 1 10 1-1 1-13 1 11 1-9 1 12 1 11 1-11 1-10 1 4 1 3 1-14 1 10 1 27 1-31 1 3 1 3 1 5 1-12 1-24 1 37 1 0 1-11 1 6 1 0 1-8 1 8 1-19 1 20 1-19 1 6 1 15 1-7 1 20 1-8 1-4 1-1 0-171 -1 36 -1-26 -1-24 -1-28 -1 53 -1-18 -1 33 -1-19 -1 27 -1-13 -1-24 -1-67 -1 2 -1 51 -1-23 -1 1 -1-25 -1 76 -1-6 -1-15 -1 52 -1-63 -1 98 -1-97 -1 17 -1-37 -1 42 -1-6 -1 27 -1-84 -1 74 -1-8 -1 9 -1-25 -1-55 -1 31 -1 52 -1-46 -1 48 -1-15 -1 30 -1-68 -1-21 -1 37 -1-50 -1 21 -1 20 -1 53 -1-71 -1-13 -1-5 -1 73 -1 7 -1-15 -1 51 -1-47 -1 35 -1-92 -1-25 -1 73 -1-6 -1 18 -1-36 -1-15 -1-20 -1 42 -1-27 -1-12 -1-8 -1-1 -1 26 -1-10 -1-24 -1 32 -1-19 -1 39 -1-62 -1-5 -1-2 -1 23 -1 30 -1-36 -1 75 -1-66 -1 17 -1 11 -1 45 -1-55 -1 51 -1-29 -1-20 -1 72 -1-38 -1 68 -1-54 -1 21 -1-55 -1 53 -1-38 -1-19 -1 21 -1-2 -1-13 -1-37 -1 35 -1-9 -1 14 -1-46 -1 31 -1 35 -1-98 -1 81 -1-29 -1-21 -1 60 -1-52 -1-14 -1 12 -1 40 -1-16 -1-41 -1 12 -1 69 -1-52 -1 30 -1-55 -1 34 -1-29 -1 20 -1-37 -1 45 -1 15 -1-60 -1 43 -1 24 -1-73 -1 43 -1-57 -1 67 -1-32 -1-34 -1 17 -1 12 -1 18 -1 6 -1-6 -1 20 -1-22 -1 8 -1-34 -1 2 -1 29 -1-65 -1 86 -1-34 -1-53 -1 45 -1-3 -1 4 -1 22 -1-13 -1-32 -1-154 -1-3 -1 137 -1 22 -1-40 -1 30 -1-4 -1 58 -1-20 -1-98 -1-7 -1 22 -1 64 -1-26 -1-3 -1 67 -1-49 -1-26 -1 1 -1 80 -1-104 -1 47 -1 27 -1-60 -1 10 -1 96 -1-72 -1 73 -1-8 -1-23 -1-10 -1 46 -1 41 -1-62 -1 40 -1-74 -1 52 -1 6 -1 29 -1-23 -1-33 -1 14 -1-11 -1 52 -1-76 -1-25 -1 38 -1-3 -1-48 -1 76 -1 4 -1-47 -1 7 -1 43 -1-40 -1-27 -1 15 -1-1 -1 50 -1-24 -1-60 -1 23 -1 81 -1-23 -1-68 -1-18 -1 12 -1 28 -1-23 -1-18 -1 46 -1-37 -1 1 -1 28 -1 32 -1-54 -1 40 -1-35 -1-21 -1 22 -1 18 -1-12 -1 1 -1-13 -1-39 -1-17 -1 22 -1 28 -1-76 -1-16 -1 4 -1-20 -1 17 -1-17 -1-2 -1-51 -1 8 -1-58 -1 6 -1-35 -1 90 -1-39 -1-33 -1-46 -1 0 -1-51 -1-7 -1 43 -1 60 -1-46 -1 32 -1-118 -1 27 -1-45 -1 79 -1-21 -1 4 -1-80 -1 48 -1-31 -1-4 -1-12 -1-42 -1-9 -1-23 -1-58 -1 14 -1 11 -1-41 -1-49 -1 36 -1 50 -1-89 -1 36 -1-46 -1-59 -1 18 -1-112 -1 1 -1-59 -1-110 -1-4 -1-123 -1-45 -1-182 -1-53 -1 1 -1-112 -1-79 -1-35 -1-89 -1-3 -1-63 -1-34 -1 12 -1-39 -1-54 -1-27 -1-24 -1 0 -1 0 -1 0 -1 0 -1 0z"/>
<path class="ln" stroke="#db1d28" transform="translate(1435.65 348.10) scale(0.5 -0.1)" d="M0 0 l1 0 1 0 1 0 1 0 1 0 1 0 1 0 1 0 1 0 1 0 1 0 1 0 1 0 1 0 1 0 1 0 1 0 1 0 1 0 1 0 1 0 1 0 1 0 1 0 1 0 1 0 1 0 1 0 1 0 1 0 1 0 1 0 1 0 1 0 1 0 1 0 1 8 1 9 1 2 1 3 1 0 1 4 1 7 1 2 1 4 1 12 1 2 1-7 1 24 1 14 1 30 1 8 1 16 1 10 1-6 1 14 1 9 1 9 1 12 1-11 1 36 1 8 1-10 1 10 1 5 1 48 1 22 1 12 1-1 1 35 1 14 1 16 1 10 1 4 1 7 1 24 1 22 1 40 1 48 1 54 1 38 1 4 1 3 1-50 1 191 1 67 1 113 1 40 1 148 1 17 1 36 1 57 1 37 1 52 1 19 1 66 1 51 1 36 1 21 1-27 1 39 1 14 1 22 1 31 1 23 1 20 1 11 1 5 1 46 1 52 1 10 1 19 1 10 1 32 1 38 1 46 1-8 1-1 1-2 1 14 1 23 1 19 1 11 1 24 1 2 1 1 1 17 1 23 1 14 1 3 1 0 1-3 1 10 1 13 1 0 1 4 1 7 1 15 1 5 1-15 1 25 1-7 1 5 1 6 1 0 1-1 1 9 1 0 1 1 1-3 1 13 1-10 1 14 1 13 1-9 1 6 1 6 1 5 1 5 1 10 1-5 1 8 1 5 1 6 1-8 1 6 1-5 1-4 1 7 1-3 1 0 1-3 1 3 1 1 1 1 1-4 1 6 1 5 1 8 1 1 1-3 1 2 1 6 1-4 1 1 1-3 1 5 1-3 1 11 1-2 1-5 1 3 1 0 1-2 1-1 1 6 1 0 1-7 1 5 1 2 1-2 1-9 1 3 1-1 1-7 1 9 1-2 1-3 1 7 1-1 1 11 1-6 1 13 1-4 1-7 1 6 1-5 1 1 1 6 1-5 1 1 1 0 1-4 1 1 1 2 1-1 1-1 1 7 1-2 1-2 1-3 1 8 1-3 1 1 1 1 1 2 1 1 1-2 1-3 1 4 1-3 1-6 1 3 1-6 1 4 1-1 1 4 1-4 1 0 1 4 1 0 1 8 1-4 1 3 1-7 1 4 1-1 1 6 1-2 1 2 1-1 1 5 1-6 1 9 1-7 1 3 1 3 1 1 1 1 1-3 1 3 1-1 1 1 1-5 1-1 1-2 1-1 1-1 1-6 1 7 1-1 1-3 1 7 1-5 1 9 1-6 1 3 1-3 1 0 1 4 1-5 1-5 1-6 1 8 1-5 1-5 1 3 1-1 1 12 1-1 1-10 1 6 1 0 1-2 1 3 1-1 1 1 1-1 1-1 1 5 1-7 1 9 1 3 1-5 1-6 1 5 1-1 1 4 1 5 1-2 1 0 1 4 1-3 1 1 1 0 1 2 1-6 1 4 1-10 1-2 1 5 1 4 1-1 1 2 1-3 1 2 1-7 1 7 1 0 1-5 1 5 1-13 1 9 1 4 1-3 1-3 1-7 1 5 1 2 1-8 1-1 1 3 1-4 1 7 1-2 1 0 1 5 1-2 1 5 1 2 1 1 1-2 1 7 1-4 1-4 1 3 1 5 1-7 1 3 1-2 1-6 1 4 1-1 1-6 1-2 1 3 1-5 1 1 1 1 1 1 1 4 1 3 1 4 1 4 1-8 1 4 1-5 1 7 1-3 1-5 1 0 1 1 1 2 1-3 1 6 1-7 1 7 1 2 1-5 1 2 1-5 1 10 1-3 1 0 1-5 1 3 1-8 1 7 1 2 1-4 1 5 1-5 1-3 1-3 1 1 1 8 1-7 1 1 1 4 1-7 1 13 1-12 1 11 1-1 1-5 1 0 1-3 1 2 1-5 1-1 1-7 1 11 1 0 1-3 1 13 1 0 1 2 1 0 1 0 1 0 1-9 1 5 1-11 1 4 1 3 1-1 1 5 1-13 1 5 1 5 1-2 1 3 1-3 1 1 1 2 1 2 1-1 1 5 1-10 1 7 1-6 1-3 1 11 1-3 1-4 1-6 1 8 1-7 1 8 1 4 1 0 1-5 1-1 1-4 1 0 1-1 1 7 1-2 1-1 1 4 1 2 1 2 1-9 1 2 1 0 1-8 1 8 1-1 1-2 1-1 1 1 1 6 1-4 1 5 1-3 1 5 1-5 1 2 1 1 1-1 1-2 1 6 1-3 1-1 1 2 1-4 1-3 1-2 1-1 1-3 1 7 1-4 1 6 1-6 1 3 1 5 1 2 1-4 1 0 1-3 1 4 1 0 1-2 1 1 1 1 1-4 1-3 1 8 1-1 1 3 1 2 1-4 1 1 1 0 1-2 1 1 1 0 1-4 1 6 1-4 1 0 1-2 1 8 1-1 1-4 1-3 1 3 1-3 1-3 1-1 1-3 1-5 1 3 1 2 1-1 1 2 1-2 1 5 1 5 1-3 1-9 1 0 1 1 1 7 1-2 1 5 1 4 1-4 1 4 1-3 1 2 1 2 1 0 1 2 1-2 1 2 1-4 1 0 1 1 1-2 1-8 1 5 1 5 1-6 1 7 1-4 1-1 1-5 1 1 1 0 1 1 1 1 1 5 1-6 1 1 1 4 1-2 1 3 1-3 1-2 1 6 1-4 1-1 1 2 1 5 1-5 1 6 1-6 1 0 1-1 1 1 1-1 1-1 1 2 1 4 1 2 1-5 1 5 1 0 1 0 1 0 1 0 1 0 1 0 1 0 1-1 1-4 1 0 1-2 1 4 1-2 1-7 1-2 1 0 1 2 1-3 1 4 1-1 1 1 1-4 1 8 1-4 1-4 1-1 1 3 1 8 1 0 1-3 1-3 1 7 1 4 1-1 1 0 1-2 1 3 1-5 1-2 1-2 1 1 1 7 1-7 1-1 1-1 1 0 1 6 1-2 1 0 1-3 1-9 1 5 1-7 1 2 1-2 1 3 1-3 1 9 1-5 1 0 1 1 1 3 1-4 1-3 1 3 1 0 1 3 1-7 1 6 1 3 1 1 1-4 1 2 1-3 1 6 1-6 1 7 1-1 1-1 1-2 1 4 1 6 1-7 1 1 1-2 1 0 1 1 1 8 1-8 1 0 1 3 1-3 1-3 1 7 1-8 1-8 1 8 1-1 1 0 1 0 1 4 1 0 1-3 1 4 1-2 1 3 1 4 1-4 1 1 1 0 1-7 1 1 1-5 1-1 1 3 1 6 1-6 1 8 1-1 1 0 1 4 1 1 1 4 1-2 1-10 1 1 1-6 1 9 1-8 1 8 1-1 1-6 1 5 1 1 1 3 1-1 1-1 1-1 1 1 1 1 1 3 1-6 1 10 1-5 1-1 1 1 1 5 1-5 1 1 1-2 1-3 1-13 1 1 1 4 1 2 1-2 1 2 1 6 1-2 1 4 1-7 1-3 1 7 1-4 1-3 1-1 1 8 1-7 1 8 1 5 1-2 1 3 1-4 1 1 1-6 1-4 1 2 1 5 1-3 1 2 1 1 1-13 1 10 1-4 1 5 1-3 1 2 1 10 1-4 1-2 1 2 1 3 1 0 1-6 1 4 1-6 1 4 1-2 1-4 1 2 1-1 1 2 1 1 1 4 1-3 1 6 1-2 1-6 1 5 1-5 1-4 1 3 1-2 1 4 1 1 1-7 1 3 1-4 1 2 1-5 1-7 1 5 1 5 1-3 1 2 1 3 1 7 1 1 1 1 1 2 1-2 1-1 1 0 1 2 1-3 1-7 1-1 1 6 1 3 1-4 1 2 1 3 1-2 1 5 1-4 1 1 1-7 1-5 1 5 1 0 1 7 1 2 1-3 1 4 1-1 1-3 1 6 1 0 1-9 1-3 1 8 1-6 1 3 1-3 1 5 1-6 1 4 1 4 1 0 1 2 1 1 1 0 1 0 1 0 1 0 1 0 1-1 1-5 1 0 1 0 1-4 1 5 1 3 1-4 1-6 1 11 1-3 1 3 1 1 1-2 1 2 1-6 1 6 1 0 1 0 1 0 1 0 1-6 1 6 1 0 1 0 1-6 1 6 1 0 1 0 1 0 1-3 1 3 1 0 1 0 1-1 1 0 1 1 1-3 1-1 1 0 1-3 1 7 1-1 1-5 1 2 1-1 1-4 1 0 1-7 1 4 1 3 1-4 1 3 1-3 1 0 1 10 1-11 1 6 1 4 1-5 1 7 1-1 1-4 1 0 1 5 1-4 1 3 1-7 1 5 1 4 1-10 1-3 1 11 1-2 1 5 1-11 1 1 1 3 1 2 1-1 1-7 1 5 1 1 1-2 1 6 1 2 1-4 1-9 1 1 1 7 1-8 1 6 1-7 1 1 1 11 1-6 1 5 1 1 1 0 1 3 1-1 1-3 1 1 1 1 1 0 1 0 1 0 1-3 1 4"/>
<path class="ln" stroke="#2ba02e" transform="translate(1435.65 348.10) scale(0.5 -0.1)" d="M0 0 l1 0 1 0 1 0 1 0 1 0 1 0 1 0 1 0 1 0 1 0 1 0 1 0 1 0 1 0 1 0 1 0 1 0 1 0 1 9 1 3 1 5 1 9 1 5 1 0 1 3 1 35 1 10 1 34 1 3 1 21 1-9 1 50 1 69 1 151 1 74 1 153 1 71 1 107 1 56 1 74 1 42 1 68 1 70 1 34 1-5 1 29 1 97 1 74 1 102 1 56 1 67 1 29 1 14 1 32 1 15 1 7 1 4 1 35 1-1 1 16 1-3 1-5 1 8 1 7 1 6 1 10 1 8 1 8 1 7 1-2 1 3 1 6 1 1 1 5 1-3 1 13 1-3 1 20 1-3 1-1 1 3 1-5 1 32 1 4 1 13 1 13 1-6 1 13 1 14 1 20 1 5 1 16 1 5 1 4 1 15 1 21 1 7 1 7 1 19 1 0 1 4 1 4 1 19 1-4 1 14 1-12 1 34 1-18 1 20 1-12 1 12 1 5 1 13 1-2 1-4 1 4 1 13 1-3 1 13 1-6 1-13 1-5 1 21 1 8 1-3 1 7 1-13 1 9 1-1 1-2 1 0 1-2 1 7 1 2 1 6 1 1 1 3 1 0 1-3 1 6 1-1 1 17 1-19 1 14 1-1 1 3 1 0 1 0 1 0 1 2 1 6 1-8 1 1 1-5 1 6 1-5 1 3 1-2 1-1 1 10 1-2 1 0 1 4 1 3 1 2 1 1 1 5 1 0 1 5 1-3 1-1 1 2 1 9 1-5 1 6 1 0 1 4 1-4 1-7 1-4 1-8 1 2 1 6 1 1 1 3 1 2 1 0 1 4 1 7 1 6 1-14 1-2 1 1 1 3 1 2 1 6 1-3 1 3 1-4 1 7 1-9 1-1 1 8 1 6 1-8 1 6 1 4 1-3 1 6 1-6 1 10 1 8 1-6 1 4 1 3 1-8 1 3 1-3 1-2 1-10 1 5 1 2 1-8 1 0 1 13 1-4 1 2 1 2 1 6 1-3 1-4 1 2 1-4 1 2 1 6 1-3 1-1 1 9 1-4 1-2 1-1 1 3 1 3 1 4 1-1 1 0 1 9 1-9 1 1 1-5 1 3 1 1 1-5 1 8 1-5 1 5 1-6 1-8 1 14 1-7 1-2 1 8 1-8 1 7 1-1 1-5 1-3 1 6 1 0 1-5 1 2 1 9 1-3 1 8 1 0 1 5 1 1 1 2 1-2 1 2 1-7 1-1 1 0 1 0 1-3 1 2 1-1 1 6 1-11 1 7 1-2 1-2 1-1 1 0 1 3 1-3 1 5 1-4 1 3 1 2 1 6 1-4 1 3 1-3 1 4 1 1 1 1 1-9 1 5 1 5 1 3 1-1 1 0 1-1 1 4 1-3 1 4 1-4 1-2 1 3 1-2 1-5 1 3 1-3 1-3 1 2 1 3 1-6 1-4 1-3 1 9 1-1 1-3 1 3 1-2 1 8 1 7 1-7 1-3 1 5 1-2 1 0 1 0 1-2 1 0 1 4 1-6 1-3 1 2 1-2 1-6 1 0 1 5 1-2 1 6 1 1 1-6 1 9 1 0 1 0 1-1 1 3 1-4 1-8 1 6 1 4 1-6 1 9 1-5 1 1 1 4 1-1 1 2 1-3 1 4 1-7 1-1 1 2 1-4 1 3 1-3 1 5 1 1 1 2 1 2 1-1 1 3 1-2 1 2 1 2 1-1 1-3 1 7 1-5 1 0 1-4 1 0 1 1 1-4 1 1 1-4 1 1 1 1 1 2 1 1 1 1 1 4 1 1 1-6 1 0 1 5 1-5 1 2 1 4 1-4 1 0 1 6 1-1 1-4 1 3 1 3 1-5 1 7 1 3 1-1 1-3 1 2 1-1 1-6 1 1 1-1 1-1 1 1 1 0 1-2 1-4 1 7 1-1 1-4 1 4 1-2 1 3 1 1 1-4 1 3 1 1 1-2 1 4 1-2 1-6 1 4 1-2 1 0 1 2 1-1 1 1 1 2 1 0 1-10 1 5 1 3 1 1 1-8 1 4 1-1 1-1 1 7 1 2 1-1 1 6 1 0 1 0 1-5 1 5 1 0 1 0 1-1 1 1 1 0 1-2 1-1 1-3 1 1 1-3 1 1 1-9 1 7 1-2 1-4 1 4 1-2 1 1 1 1 1 7 1-5 1-2 1 9 1-2 1 2 1-7 1 5 1-6 1 4 1-1 1 1 1 5 1-6 1-1 1 1 1 0 1 2 1 0 1 0 1 1 1 1 1-8 1 2 1 2 1 6 1-8 1 3 1 3 1-1 1 2 1-2 1 0 1 3 1 1 1-3 1 0 1 3 1 0 1 0 1-1 1 0 1 1 1 0 1 0 1 0 1 0 1 0 1-1 1 1 1 0 1 0 1 0 1 0 1 0 1 0 1 0 1 0 1-2 1-4 1 4 1-3 1-5 1 9 1-5 1 3 1 2 1-3 1 4 1-1 1 0 1-1 1 1 1-1 1 1 1 0 1 1 1 0 1 0 1-1 1-5 1 4 1-3 1-4 1 4 1-2 1 2 1 2 1-1 1 3 1 1 1-6 1-1 1 3 1-1 1-5 1 4 1-3 1-1 1 10 1-2 1 2 1-2 1 1 1-3 1 0 1 4 1-10 1 6 1 3 1-2 1 2 1 1 1 0 1 0 1 0 1-2 1 0 1-4 1 0 1-4 1 5 1 0 1-3 1 2 1-1 1 1 1 2 1 3 1-1 1-3 1 2 1 0 1-2 1-2 1 0 1 2 1 2 1 3 1 0 1-2 1 2 1-4 1 0 1 1 1-6 1 2 1-1 1-1 1 6 1-3 1 2 1-5 1 4 1 0 1 5 1-1 1-5 1 1 1-2 1 1 1-8 1 5 1-2 1 6 1-5 1 4 1 1 1-1 1 4 1 2 1-1 1-4 1-4 1 6 1 1 1-1 1-2 1 2 1-1 1-1 1 1 1 2 1-4 1 3 1-5 1 3 1-7 1 0 1 6 1-1 1-2 1 0 1-5 1 1 1-2 1 4 1 0 1-1 1 3 1-3 1 8 1-9 1 1 1 6 1-7 1 4 1 0 1-3 1 2 1-5 1 7 1 0 1 2 1 1 1-4 1 5 1-1 1 5 1-5 1 2 1-4 1-1 1 4 1 2 1-1 1-1 1-1 1 3 1-6 1 4 1 0 1 4 1-1 1 1 1-3 1-2 1-2 1 3 1-1 1-4 1 0 1 1 1 3 1 5 1-8 1 6 1-1 1-5 1 8 1-1 1-3 1 2 1 2 1-1 1 1 1-4 1 2 1 2 1-7 1 6 1 0 1-2 1 3 1-1 1 1 1 0 1-1 1 1 1-3 1-2 1 4 1-8 1 0 1 4 1 1 1 1 1-2 1-3 1-1 1 0 1 2 1-1 1 1 1-1 1-3 1 1 1 2 1 5 1-2 1 5 1-3 1 3 1-7 1 4 1 0 1-2 1-5 1 2 1-2 1 2 1-3 1 0 1 2 1 8 1-3 1 1 1 0 1 2 1 1 1 0 1 0 1 0 1 0 1 0 1 0 1-2 1 0 1-1 1 3 1 0 1-1 1-1 1-4 1 6 1-4 1 4 1 0 1-1 1-1 1 1 1-1 1 2 1 0 1-2 1 2 1 0 1 0 1 0 1-2 1-1 1 2 1-9 1 3 1 4 1-4 1 1 1 1 1-3 1-1 1 7 1 2 1-1 1 1 1 0 1 0 1 0 1 0 1 0 1-1 1-2 1 3 1-2 1-3 1 1 1 0 1 0 1-1 1 3 1 0 1 1 1 1 1-3 1 3 1-4 1 3 1-2 1 0 1-2 1 3 1-4 1 3 1-5 1 6 1-6 1 0 1 0 1 1 1-2 1-1 1-1 1 3 1-2 1 9 1-2 1-3 1 1 1 1 1-2 1 6 1 0 1-1 1-1 1 2 1-2 1 1 1-1 1 2 1-3 1 2 1-1 1-2 1 2 1 2 1-4 1 4 1 0 1-1 1 1 1-3 1-1 1 4 1 0 1-4 1 2 1 2 1 0 1 0 1-4 1 1 1-2 1 5 1-4 1-3 1 2 1-5 1 1 1 2 1-1 1 3 1-3 1 7 1 0 1 1 1 0 1 0 1 0 1 0 1 0 1 0 1 0 1-4 1-1 1 0 1-2 1 2 1 3 1-6 1-1 1 6 1-2 1-1 1 6 1-10 1 3 1 6 1-1 1-1 1 3 1 0 1 0 1 0 1 0 1 0 1 0 1-2 1 2 1 0 1 0 1 0 1 0 1-5 1 5 1-3 1-2 1 5 1-3 1 2 1 0 1 1 1-4 1 4 1-5 1 1 1 1 1 3 1-4 1 1 1-2 1-2 1 5 1-1 1-1 1 4 1-3 1 1 1 0 1 2 1-1 1-2 1 3 1-5"/>
<path class="ln" stroke="#1576b3" transform="translate(1435.65 348.10) scale(0.5 -0.1)" d="M0 0 l1 0 1 0 1 0 1 0 1 0 1 0 1 0 1 0 1 0 1 0 1 0 1 0 1 0 1 0 1 0 1 0 1 0 1 0 1 0 1 0 1 0 1 0 1 0 1 0 1 0 1 0 1 0 1 0 1 0 1 0 1 5 1 9 1 1 1 6 1-1 1 9 1 3 1 2 1 2 1 5 1 6 1 8 1 25 1 7 1 12 1 8 1 17 1 6 1 20 1 9 1 8 1 13 1 5 1 21 1 2 1-6 1 22 1 23 1 9 1-15 1 16 1 35 1 52 1 27 1 31 1 18 1-4 1 26 1-2 1 38 1 49 1 148 1 23 1 51 1-12 1 77 1 46 1 71 1 88 1 64 1 22 1 73 1 79 1 31 1 44 1 14 1 123 1 26 1 63 1-28 1 25 1 52 1 39 1 36 1 17 1 22 1 48 1 27 1 61 1 37 1 28 1-1 1 26 1 2 1 44 1-15 1 8 1-5 1 34 1 10 1 17 1 7 1-20 1 7 1 1 1-1 1 0 1 15 1 6 1-2 1-2 1 17 1 2 1 5 1 0 1-11 1-3 1 3 1 9 1-6 1 14 1-9 1 4 1-1 1 5 1-10 1-6 1-14 1 4 1-10 1 6 1-8 1 6 1 0 1 3 1 8 1-7 1-17 1-4 1 2 1-4 1 11 1-13 1 3 1 10 1-13 1-4 1 9 1 10 1 17 1-9 1 4 1 0 1 7 1 16 1 16 1-2 1-4 1 16 1 15 1 3 1-7 1 10 1-8 1 5 1-4 1 12 1-8 1 0 1-8 1 4 1 6 1 4 1 3 1 8 1-15 1 10 1 5 1-5 1-3 1 2 1-3 1 3 1-1 1 0 1 6 1-13 1 6 1-1 1-3 1-2 1-1 1 6 1-5 1 15 1 1 1-3 1 11 1 12 1-3 1-3 1 3 1 1 1 12 1 1 1 2 1-3 1 2 1 4 1-8 1-1 1-4 1 3 1-12 1-3 1 12 1-10 1 5 1-2 1-7 1 4 1-8 1 5 1 4 1-12 1 20 1-6 1 4 1 7 1 7 1-5 1 1 1 1 1 0 1-4 1-12 1 9 1 2 1-9 1-3 1 9 1 11 1-19 1 8 1 7 1-3 1-8 1 9 1 7 1-2 1 13 1-11 1 3 1-8 1 4 1-13 1 3 1 4 1-6 1 2 1-9 1 5 1 4 1 2 1 5 1-9 1-7 1 13 1 6 1-6 1 2 1 6 1-1 1-2 1 1 1-9 1 8 1 4 1-3 1 1 1-6 1 6 1 0 1 13 1 0 1-7 1 12 1 2 1-10 1 3 1 4 1-4 1-4 1-11 1 6 1 0 1 4 1 1 1-13 1 12 1-9 1 6 1-4 1 6 1 2 1-9 1 5 1 0 1 0 1 7 1-4 1 5 1-10 1 0 1-3 1 7 1 12 1 6 1-10 1 2 1 1 1-3 1 0 1 2 1 2 1-3 1 1 1 1 1-7 1 1 1 2 1 4 1-3 1 11 1-13 1-3 1 7 1-8 1 10 1-3 1 6 1-5 1-5 1 5 1-19 1 9 1 16 1 2 1-9 1-2 1-2 1 8 1-1 1-4 1-14 1 14 1 0 1-9 1 11 1-10 1 2 1 0 1-4 1 5 1 9 1 0 1-3 1 2 1 0 1-7 1 5 1-3 1 0 1 5 1-10 1 5 1 0 1 4 1 2 1-4 1 5 1 0 1 3 1 1 1-3 1-6 1 3 1 1 1 4 1-9 1 1 1 2 1-3 1 9 1-10 1 17 1-2 1-1 1-3 1 2 1-10 1 6 1 2 1 9 1-13 1 1 1 0 1-6 1 5 1 4 1-7 1 0 1 8 1-3 1 10 1-6 1 4 1-5 1-4 1-1 1 0 1 1 1 3 1-6 1 6 1 8 1-4 1-7 1 0 1-5 1 5 1-2 1 7 1-3 1-2 1 0 1 3 1-4 1 5 1-2 1-2 1-2 1 4 1-4 1 2 1 4 1-4 1 1 1 5 1-4 1 2 1 1 1-2 1-1 1 12 1-9 1 9 1-5 1-4 1-1 1 0 1 4 1-15 1-2 1-1 1 8 1-1 1 4 1-3 1 10 1-7 1 14 1-3 1 6 1-10 1 1 1 2 1-7 1 7 1-11 1 6 1-1 1 3 1 2 1-3 1 12 1-3 1-10 1-2 1-1 1 5 1 0 1-4 1-3 1 5 1-2 1 15 1-10 1 1 1 1 1-6 1 4 1 6 1-5 1-2 1 2 1 0 1-4 1 12 1 1 1-9 1 1 1 6 1-6 1 7 1 5 1-2 1-1 1-7 1 0 1 7 1-8 1-4 1 2 1 2 1 2 1-4 1-2 1 8 1-3 1-7 1 2 1-3 1 10 1-11 1 10 1-7 1 3 1 7 1-9 1 15 1-10 1 2 1-1 1 6 1-10 1-5 1 2 1 7 1 1 1-10 1 4 1 3 1-8 1 6 1-6 1 0 1-3 1 0 1-1 1 3 1 15 1-5 1-5 1 5 1 0 1-3 1 4 1 3 1-4 1 12 1-8 1-9 1 10 1-9 1 4 1-7 1 0 1 0 1-1 1-1 1-3 1 16 1-4 1 4 1 2 1-12 1 9 1 2 1-3 1 0 1 2 1-4 1-1 1 4 1-11 1 5 1-4 1 0 1 5 1 1 1 2 1-1 1 2 1-1 1-4 1-1 1 1 1 2 1 1 1 0 1-4 1-3 1 2 1 5 1-9 1 12 1-8 1 3 1 2 1 5 1-3 1 5 1 4 1-5 1-5 1 2 1-7 1-4 1-3 1 5 1-1 1-3 1 1 1 4 1-2 1-3 1 13 1-4 1 3 1-2 1-1 1-3 1 6 1 1 1 1 1-4 1-4 1 5 1-1 1-5 1-3 1 10 1-6 1 3 1-1 1-3 1-4 1 8 1 7 1 1 1-1 1-5 1-4 1 0 1 5 1-8 1 9 1-4 1 0 1-2 1-5 1 3 1 6 1 1 1-3 1-7 1-3 1 5 1 0 1-2 1 5 1-3 1 6 1 7 1-9 1 2 1-6 1-2 1-2 1-1 1 3 1-5 1 7 1 1 1-5 1 0 1 6 1-1 1-6 1 8 1-1 1 0 1 5 1 2 1 5 1-9 1 1 1-2 1 5 1-9 1 4 1 0 1 3 1-9 1 8 1-7 1 8 1 4 1-4 1-1 1-2 1 8 1-5 1-11 1 3 1-2 1 6 1-1 1 0 1 0 1-1 1-1 1 11 1-4 1-3 1 1 1 3 1-6 1 3 1 3 1 0 1-4 1-1 1 3 1 5 1 4 1-7 1 0 1 8 1 8 1-4 1-1 1-4 1-1 1 3 1-13 1 10 1-1 1-6 1 4 1 1 1 5 1 1 1 5 1-9 1-7 1 3 1 5 1 0 1-9 1-3 1 3 1-6 1 1 1-3 1 3 1-3 1 7 1-5 1 1 1 10 1-7 1-3 1-5 1 3 1-3 1-2 1-3 1 2 1 3 1-2 1 14 1-6 1 1 1 2 1 2 1-7 1 2 1 1 1 1 1 1 1 4 1-2 1-1 1 5 1-2 1 6 1 0 1 6 1-11 1 3 1-5 1-2 1-3 1 2 1 2 1-1 1-6 1 1 1-2 1-2 1-2 1-4 1 4 1-1 1 10 1-6 1-5 1 7 1-1 1 7 1-8 1 1 1 3 1 4 1 1 1 1 1 1 1-2 1 3 1-9 1 6 1-3 1 4 1-3 1 1 1-5 1 1 1 0 1-11 1 8 1 3 1-5 1 4 1-2 1 6 1 0 1-11 1 5 1 0 1-6 1 6 1 3 1-2 1 4 1 4 1-3 1-3 1 7 1-1 1-3 1-4 1 6 1-2 1 1 1-2 1-6 1 3 1-1 1 6 1-5 1-5 1 2 1 4 1-7 1 2 1-9 1 7 1 1 1-7 1 7 1 0 1 6 1-5 1-3 1 5 1 7 1 1 1 4 1-8 1 2 1-4 1 0 1 2 1-4 1 9 1-3 1-2 1 4 1 2 1 7 1-8 1 8 1-6 1 0 1-14 1 9 1-3 1 8 1-1 1 2 1-10 1 9 1-1 1 5 1-9 1 2 1-1 1-5 1-1 1 3 1-11 1 17 1-1 1 4 1-8 1 8 1-5 1 1 1-14 1 7 1 5 1 0 1-5 1 1 1-8 1 8 1-4 1 1 1 0 1 0 1-1 1 6 1-3 1 6 1-2 1-2 1-3 1 1 1 3 1-11 1 15 1 1 1-6 1 0 1-3 1 5 1 4 1-4 1 2 1-12 1 10 1-1 1 6 1-3 1-5 1 1 1 9 1-6 1-4 1 10 1-8 1 3 1-1 1-7 1 1 1-1 1-2 1 14 1-15 1 2 1 5"/>
<path class="ln" stroke="#fd7c1a" transform="translate(1435.65 348.10) scale(0.5 -0.1)" d="M0 0 l1 0 1 0 1 0 1 0 1 0 1 0 1 0 1 0 1 0 1 0 1 0 1 0 1 0 1 0 1 0 1 0 1 0 1 0 1 0 1 0 1 0 1 0 1 0 1 0 1 0 1 3 1 6 1-2 1 8 1-7 1 6 1 21 1 24 1 1 1-2 1 31 1-7 1 29 1-43 1 11 1 21 1 47 1-29 1-5 1 47 1 30 1-4 1-4 1-4 1 31 1 12 1 13 1 0 1 26 1-3 1 1 1-4 1 63 1-29 1 40 1-25 1 13 1 21 1 24 1 24 1 20 1 12 1-63 1 41 1 60 1 35 1-3 1 40 1 47 1 79 1-45 1 6 1-28 1 40 1 81 1 184 1 106 1-32 1 77 1 47 1 0 1 13 1-73 1 94 1 9 1 22 1 34 1 45 1 18 1 26 1-98 1 115 1-55 1 69 1 48 1 53 1-11 1-36 1 46 1 16 1 9 1-40 1 59 1 57 1 20 1 18 1-42 1 41 1 23 1 99 1-39 1-41 1 18 1-18 1 21 1-14 1-35 1-7 1 27 1-25 1-23 1 48 1-12 1-31 1 33 1 31 1 15 1 0 1 26 1 35 1 37 1-23 1 30 1 15 1 7 1 3 1 7 1-7 1 34 1-8 1 31 1-35 1 15 1 28 1-36 1-3 1-4 1-20 1-41 1 34 1-34 1-8 1 32 1-55 1 21 1-56 1-2 1 10 1-3 1 44 1-6 1 5 1 31 1 56 1-23 1 27 1 51 1 48 1-34 1-27 1 102 1-32 1 51 1-60 1 14 1-22 1 47 1 18 1-54 1 39 1 5 1 10 1 3 1-4 1-35 1-1 1 43 1-7 1-21 1 26 1-20 1 12 1 7 1-24 1-9 1 10 1-13 1 20 1-9 1-23 1 19 1 13 1-32 1-10 1 15 1 7 1-18 1 26 1 16 1 17 1 42 1-41 1 56 1-26 1-36 1 5 1 11 1-8 1-32 1 18 1-42 1 23 1 10 1-22 1-25 1 7 1-24 1 6 1-40 1 23 1-22 1 10 1-28 1-22 1 30 1 72 1-46 1 0 1 3 1-9 1 38 1 47 1 29 1 1 1 38 1 19 1 10 1 2 1-15 1 16 1 5 1-4 1 26 1-6 1-37 1 57 1-8 1-2 1 7 1-28 1 20 1 1 1 3 1-27 1 14 1-37 1 11 1 14 1 19 1 8 1-22 1 13 1-36 1 4 1-1 1-24 1 44 1-29 1 22 1-13 1 7 1 8 1-2 1-18 1-11 1 16 1 12 1 7 1 12 1-40 1-1 1 19 1 55 1-13 1-24 1-36 1 26 1-13 1 7 1 41 1 7 1-19 1 2 1-10 1 15 1 13 1-20 1-13 1 32 1-12 1 9 1 42 1-32 1 2 1-19 1 0 1 19 1-22 1 19 1 6 1-7 1 11 1-22 1-20 1 12 1-13 1 34 1-17 1-2 1 17 1 25 1-11 1 31 1-26 1-34 1 23 1-18 1 7 1 9 1 27 1-9 1-12 1 44 1-17 1 14 1 19 1-1 1-43 1 40 1-20 1-10 1-19 1 4 1-7 1 4 1-17 1 19 1 13 1-18 1-8 1 20 1-21 1-11 1 65 1-23 1-17 1-37 1 19 1 22 1 4 1 6 1-11 1 9 1-10 1 14 1-18 1 20 1-1 1 7 1-34 1 26 1 6 1-14 1-5 1-6 1 12 1 30 1 12 1-10 1 6 1 2 1-31 1 16 1-7 1 1 1 14 1-14 1-25 1 24 1 5 1 33 1 1 1-31 1 23 1 6 1 29 1-9 1-26 1 4 1 5 1-10 1-60 1 14 1 5 1-16 1-1 1 20 1 14 1-19 1 11 1-12 1-5 1-10 1-19 1 12 1 19 1-7 1-20 1-9 1 39 1 9 1-20 1 4 1-16 1 33 1-1 1-18 1-19 1-11 1-24 1 5 1-3 1 1 1-19 1 33 1-15 1-13 1 66 1-5 1 5 1-17 1-1 1 2 1 11 1 2 1-19 1-11 1 34 1-13 1 8 1 21 1 6 1 40 1 14 1 1 1-2 1-9 1-43 1-4 1 16 1-8 1-35 1 15 1-27 1 33 1-62 1 29 1 5 1 3 1 16 1-2 1 11 1-8 1 11 1-1 1-15 1-34 1 37 1-14 1 17 1 22 1-4 1-29 1 17 1-40 1 5 1-11 1-27 1 27 1-2 1-42 1 5 1 1 1-9 1-4 1 8 1-35 1-2 1 6 1 3 1-14 1 13 1 22 1 30 1-19 1-13 1 8 1 4 1 15 1-30 1-30 1 30 1 30 1 6 1 29 1-4 1 42 1-12 1-27 1 12 1 34 1-22 1-14 1-5 1-13 1 1 1 26 1-6 1-2 1 41 1-47 1 34 1-49 1 3 1 11 1-16 1 48 1 16 1-28 1 2 1 7 1 21 1-44 1-6 1 31 1-6 1-4 1-14 1-7 1-20 1 2 1 33 1-10 1 10 1 0 1 7 1-5 1 12 1 0 1 19 1-8 1-28 1 5 1 21 1-1 1-19 1 23 1-42 1 36 1-2 1-42 1 34 1-17 1 16 1 12 1 2 1-17 1 1 1-1 1-9 1 8 1-6 1 19 1-12 1 12 1-29 1 54 1-51 1 29 1-9 1-11 1-17 1-5 1-16 1-14 1 32 1-23 1 15 1-20 1 36 1-19 1 24 1-28 1 1 1-14 1 9 1 4 1 10 1 19 1 1 1-9 1-12 1-5 1 21 1 18 1 5 1 10 1-8 1-24 1 9 1-9 1 26 1-26 1 35 1-16 1-7 1-18 1 26 1 3 1 34 1-18 1-1 1-9 1 6 1 21 1-35 1 50 1-39 1-3 1 14 1-3 1 10 1 3 1 17 1-26 1-13 1 31 1-22 1 31 1-51 1-33 1 49 1 13 1-18 1 28 1-34 1 8 1 10 1 22 1-53 1 22 1-6 1 31 1 9 1-15 1-17 1 33 1 32 1-34 1-16 1 27 1-8 1 12 1-35 1 17 1-1 1-2 1 25 1-45 1 34 1-24 1 12 1 10 1-3 1-30 1 33 1-23 1 21 1 13 1-13 1-6 1-13 1 33 1-17 1-8 1-1 1 12 1-28 1 19 1-70 1 33 1-38 1 45 1-17 1 38 1-32 1-3 1 8 1-1 1 10 1 0 1 9 1 8 1 14 1-4 1-16 1-21 1 3 1-36 1 0 1-22 1 9 1 7 1-1 1-19 1 33 1 25 1 1 1 11 1 13 1-37 1 14 1 22 1-32 1-3 1-10 1 13 1 29 1-21 1-9 1-3 1 7 1 34 1-29 1 4 1-21 1-8 1 37 1-23 1 12 1 18 1-10 1-23 1-1 1-7 1-31 1 17 1 3 1-9 1 1 1-11 1-26 1 25 1-22 1-9 1-22 1 0 1 22 1-28 1 36 1 2 1 5 1 12 1-2 1-15 1-10 1 43 1 0 1-20 1-28 1-8 1 10 1 7 1-8 1 0 1-31 1 28 1 13 1 21 1 7 1-9 1 29 1-2 1 29 1-14 1-22 1 2 1 35 1-11 1-8 1 2 1-19 1 39 1 2 1 25 1-47 1 42 1-32 1 41 1-37 1 5 1 0 1-14 1 4 1 22 1 3 1 51 1 8 1-32 1 22 1-23 1 28 1 0 1-21 1-22 1 6 1-9 1-25 1 12 1-27 1-1 1 16 1 1 1-4 1 4 1-13 1 17 1 30 1-10 1-67 1 36 1 11 1 38 1-44 1 28 1 5 1-13 1-10 1 19 1 1 1-19 1-5 1-35 1 9 1 21 1 21 1-39 1-13 1 16 1 6 1-14 1 23 1 17 1 4 1 18 1 2 1-4 1 30 1-26 1 10 1-21 1-16 1 5 1 2 1-30 1 2 1 31 1-11 1 4 1 3 1-8 1-8 1-4 1 23 1-14 1-22 1-5 1 27 1-13 1 11 1-15 1-13 1 28 1 38 1-25 1 32 1 4 1-18 1-6 1 2 1-20 1 4 1-29 1 1 1 41 1-21 1-14 1-6 1 42 1-7 1-11 1-9 1 29 1-8 1-1 1-8 1 24 1 24 1-31 1 9 1-45 1-18 1 46 1 2 1-14 1 15 1-6 1-6 1-3 1 25 1-36 1-9 1-1 1 6 1-11 1-27 1 44 1-8 1 19 1-6 1-11 1 13 1 3 1 13 1-13 1-3 1 19 1-5 1-25 1-11 1 36 1 13 1-27 1 0 1-21 1 7 1-16 1 32 1-26 1 2 1-6 1 3 1 42 1-38 1 21 1-18 1 11 1 8 1-6 1-8 1 6 1-1 1 25 1-9 1-5 1-12 1-27 1 81 1 4 1-15 1-50 1 45 1-14 1 16 1-6 1-16 1-20 1 11"/>
<rect x="1410.50" y="113.00" width="553.20" height="246.30" fill="none" stroke="#d0d0d0" stroke-width="1.7"/>
<g class="tk">
<text transform="translate(1435.6 382.3) scale(1 1.12)" text-anchor="middle">0.0</text>
<text transform="translate(1535.8 382.3) scale(1 1.12)" text-anchor="middle">0.2</text>
<text transform="translate(1635.9 382.3) scale(1 1.12)" text-anchor="middle">0.4</text>
<text transform="translate(1736.0 382.3) scale(1 1.12)" text-anchor="middle">0.6</text>
<text transform="translate(1836.1 382.3) scale(1 1.12)" text-anchor="middle">0.8</text>
<text transform="translate(1936.3 382.3) scale(1 1.12)" text-anchor="middle">1.0</text>
<text transform="translate(1402.5 355.5) scale(1 1.12)" text-anchor="end">0.00</text>
<text transform="translate(1402.5 299.5) scale(1 1.12)" text-anchor="end">0.25</text>
<text transform="translate(1402.5 243.6) scale(1 1.12)" text-anchor="end">0.50</text>
<text transform="translate(1402.5 187.6) scale(1 1.12)" text-anchor="end">0.75</text>
<text transform="translate(1402.5 131.6) scale(1 1.12)" text-anchor="end">1.00</text>
<text transform="translate(1962.2 407.5) scale(1 1.12)" text-anchor="end" style="font-size:20.2px">1e7</text>
</g>
<text class="tt" x="1687.5" y="104.0" text-anchor="middle">2c_vs_64zg (hard)</text>
</g>
<g>
<path d="M2044.25 113.00V359.30M2144.37 113.00V359.30M2244.49 113.00V359.30M2344.61 113.00V359.30M2444.73 113.00V359.30M2544.85 113.00V359.30M2019.10 348.10H2572.30M2019.10 292.13H2572.30M2019.10 236.15H2572.30M2019.10 180.17H2572.30M2019.10 124.20H2572.30" stroke="#d0d0d0" stroke-width="1.7" fill="none"/>
<path class="bd" fill="#db1d28" transform="translate(2044.25 348.10) scale(1.5 -0.1)" d="M0 0 l1 3 1 4 1 3 1 3 1 4 1 3 1 4 1 7 1 7 1 7 1 22 1 25 1 19 1 33 1-10 1 74 1 9 1 68 1 24 1 34 1 62 1 21 1 70 1 112 1 10 1 69 1 132 1 9 1 56 1-3 1 37 1 64 1 9 1 47 1 21 1 77 1 131 1 41 1 145 1 147 1-29 1-4 1 30 1-7 1 30 1 36 1-41 1 62 1 7 1 29 1 7 1 78 1 1 1 75 1-22 1-12 1 20 1 69 1-8 1-41 1 28 1 10 1-5 1 46 1-71 1 14 1 30 1 43 1-25 1 11 1 45 1 15 1-20 1 25 1-14 1-22 1 46 1 18 1 23 1-44 1 27 1 8 1 10 1 13 1 9 1-3 1-26 1 30 1 16 1-26 1-18 1 25 1 22 1-52 1 33 1 18 1-7 1-1 1-6 1 6 1-2 1-3 1-8 1 5 1 22 1 33 1-24 1 22 1 1 1 4 1 3 1 7 1 1 1-30 1 21 1 20 1 3 1-5 1-5 1 2 1-10 1 23 1-17 1 25 1-2 1-5 1-12 1 17 1 7 1-7 1-1 1 0 1-1 1 3 1-3 1 5 1 0 1 9 1-7 1-1 1 3 1 3 1-3 1-5 1-5 1-3 1 4 1 12 1-12 1 14 1-4 1-5 1-8 1 12 1 12 1-11 1 3 1 5 1-3 1-4 1-9 1 12 1-9 1 3 1 19 1-12 1 9 1-2 1-11 1 14 1-1 1-1 1-1 1 2 1-1 1 0 1 0 1-5 1-3 1 11 1-6 1 3 1-1 1-1 1-9 1 9 1 0 1-4 1 0 1 6 1-1 1-5 1 2 1 3 1-4 1 5 1-2 1-8 1-3 1 10 1-2 1-3 1 3 1 4 1-1 1 1 1 1 1-1 1 3 1 1 1-9 1 7 1 0 1 1 1 0 1 1 1 0 1-6 1 6 1-3 1 2 1 0 1 0 1 2 1-2 1 0 1 3 1-1 1-1 1 1 1 1 1-6 1 3 1 1 1 4 1-7 1 2 1-1 1 2 1 0 1-4 1-5 1 2 1 7 1 11 1-10 1 2 1 8 1-9 1-1 1 0 1 3 1 13 1-20 1 4 1 1 1-1 1-3 1 0 1 3 1 1 1 10 1-11 1 0 1-1 1 0 1-2 1 4 1 0 1-2 1-1 1 4 1-1 1 0 1 0 1-3 1 3 1 1 1 0 1-1 1 0 1 16 1-1 1-2 1-13 1 1 1 1 1 0 1-1 1 1 1 2 1-7 1-1 1 6 1 3 1-3 1 3 1 0 1-4 1 2 1-4 1 5 1 0 1 0 1-11 1 9 1 3 1-4 1 0 1 2 1-2 1 2 1-7 1 13 1-3 1-7 1 12 1-8 1 1 1-1 1 2 1-6 1 4 1-2 1 2 1-1 1 1 1-2 1 4 1-6 1 6 1-1 1-1 1 13 0-61 -1-23 -1-3 -1 6 -1-8 -1-3 -1 3 -1 4 -1 4 -1 1 -1-11 -1-1 -1 8 -1-4 -1-11 -1 13 -1-3 -1-1 -1 13 -1-2 -1-23 -1 14 -1 6 -1-10 -1 11 -1-12 -1 4 -1-4 -1-3 -1 0 -1 15 -1-9 -1 3 -1 9 -1-8 -1-9 -1 3 -1-1 -1 3 -1-3 -1 11 -1-11 -1 5 -1 18 -1 0 -1 6 -1 3 -1-8 -1-23 -1 3 -1 40 -1 0 -1 6 -1-36 -1 18 -1-7 -1-15 -1-4 -1 5 -1 11 -1 15 -1-21 -1-8 -1-1 -1-4 -1 18 -1-22 -1 8 -1-10 -1 8 -1-14 -1 20 -1-3 -1 11 -1-28 -1 1 -1 15 -1 2 -1 1 -1 2 -1-17 -1-4 -1 15 -1 4 -1 3 -1-8 -1 3 -1-23 -1 13 -1 22 -1-26 -1 7 -1-10 -1 18 -1 4 -1-20 -1 0 -1 7 -1-9 -1 35 -1-25 -1-3 -1-3 -1 16 -1 2 -1 10 -1-24 -1 2 -1-3 -1-1 -1-5 -1 4 -1 5 -1 3 -1-22 -1-1 -1 11 -1 12 -1-19 -1-5 -1 14 -1-11 -1 7 -1-5 -1 8 -1-11 -1-2 -1 29 -1-29 -1 22 -1-14 -1-5 -1-1 -1 10 -1-20 -1 2 -1 2 -1-8 -1 15 -1-6 -1-3 -1 3 -1-1 -1 6 -1-5 -1 6 -1-12 -1 12 -1-1 -1-5 -1-12 -1 8 -1 36 -1-36 -1-3 -1-3 -1-32 -1 21 -1 9 -1-8 -1 8 -1-12 -1 2 -1 14 -1-15 -1 4 -1-5 -1 1 -1 5 -1-4 -1 2 -1-6 -1 27 -1-25 -1 19 -1-10 -1 9 -1-13 -1-11 -1 3 -1 2 -1 0 -1-10 -1 20 -1-16 -1-7 -1 3 -1-12 -1 11 -1 9 -1 7 -1 2 -1 2 -1-11 -1-10 -1-8 -1 23 -1-12 -1-14 -1 17 -1-11 -1 0 -1-11 -1 10 -1 12 -1-37 -1 36 -1-32 -1 9 -1 15 -1 0 -1-31 -1-4 -1-6 -1 23 -1-40 -1 6 -1-11 -1 26 -1 2 -1-46 -1 4 -1-4 -1-20 -1 32 -1-2 -1-26 -1 1 -1 47 -1-64 -1 3 -1-21 -1 18 -1-32 -1 24 -1-37 -1 8 -1-7 -1-9 -1-28 -1 8 -1-4 -1 7 -1-43 -1 19 -1-39 -1 42 -1-40 -1-17 -1 5 -1-11 -1-3 -1 19 -1-59 -1-27 -1 58 -1-41 -1-35 -1 56 -1-18 -1-24 -1-13 -1-9 -1 25 -1-13 -1-37 -1-6 -1 2 -1-77 -1-31 -1-32 -1 10 -1-14 -1 15 -1-25 -1-108 -1 43 -1-27 -1 14 -1-60 -1-60 -1-16 -1 18 -1-96 -1 25 -1-67 -1-22 -1 8 -1-64 -1 18 -1-114 -1-2 -1-24 -1-42 -1-25 -1-14 -1-36 -1-83 -1-34 -1-91 -1-61 -1-86 -1-4 -1-57 -1-97 -1-5 -1-85 -1-2 -1-63 -1-13 -1 31 -1-39 -1-42 -1 0 -1-30 -1-7 -1 10 -1-49 -1 1 -1-29 -1-8 -1-9 -1-12 -1-11 -1-11 -1 0 -1 0 -1 0 -1 0 -1 0 -1 0 -1 0 -1 0 -1 0 -1 0z"/>
<path class="bd" fill="#2ba02e" transform="translate(2044.25 348.10) scale(1.5 -0.1)" d="M30 0 l1 9 1 10 1 11 1 11 1 2 1 15 1 21 1-11 1 32 1-12 1 9 1 80 1 82 1 4 1 78 1 76 1 10 1 60 1 87 1 39 1 10 1 68 1 56 1 56 1 43 1 52 1 108 1 64 1 34 1 61 1 82 1-28 1 61 1 91 1 23 1 144 1 27 1 104 1 74 1 24 1 18 1 19 1 11 1 98 1 8 1 8 1 37 1 29 1-37 1 52 1 8 1 8 1-52 1 60 1-73 1 75 1 11 1 13 1-11 1-17 1 50 1 10 1-83 1 44 1-33 1 31 1 70 1-5 1-39 1 27 1 18 1 7 1-30 1-3 1 7 1-1 1-50 1 58 1 3 1-31 1 45 1-42 1 79 1-14 1-8 1 8 1-9 1-3 1 63 1 2 1 2 1-68 1 47 1 17 1-24 1 20 1-9 1-19 1-11 1-8 1 10 1 23 1 1 1-33 1 21 1 17 1 11 1 1 1-4 1-22 1 6 1 14 1-15 1 29 1-31 1 2 1 1 1 21 1-38 1 20 1 9 1-15 1 18 1-3 1-6 1-11 1-3 1 15 1-23 1-5 1 19 1-30 1 32 1 6 1 8 1-2 1 4 1-11 1 9 1-19 1 19 1-6 1-5 1-10 1 8 1-23 1-12 1 24 1 13 1 10 1-2 1-6 1-16 1 20 1-11 1 8 1-10 1-19 1 8 1 28 1-11 1-4 1 8 1 2 1-28 1 18 1-7 1 8 1 3 1 1 1 9 1 2 1-2 1-2 1-17 1-1 1 4 1 10 1-7 1-4 1 22 1 0 1-11 1 6 1 1 1-2 1-1 1-26 1 26 1-12 1-15 1 30 1 11 1-12 1-25 1 5 1 28 1-18 1 2 1 12 1-14 1 11 1 0 1 0 1-5 1-7 1-12 1 6 1 6 1 19 1-5 1 3 1-10 1 14 1-2 1 3 1-11 1-21 1 33 1-23 1 13 1-6 1-9 1 15 1 0 1 1 1-17 1 17 1-11 1 1 1 5 1 1 1-39 1 0 1 35 1 1 1-22 1 19 1-7 1 4 1-20 1 21 1 0 1 9 1-30 1 30 1 8 1-14 1 6 1 0 1 1 1 11 1-5 1-5 1-7 1-12 1 3 1 11 1 4 1-6 1 15 1-23 1 10 1-16 1 23 1 6 1-16 1 14 1-15 1 4 1 4 1 1 1-10 1 1 1 23 1-28 1-1 1 20 1-9 1 8 1 5 1-15 1 6 1 8 1-10 1-18 1 31 1-9 1-2 1 14 1-1 1-8 1 5 1 2 1 0 1-13 1-32 1 24 1-1 1 19 1-17 1 14 1 9 1 1 0-293 -1 48 -1 39 -1-35 -1-28 -1 24 -1-66 -1 47 -1 32 -1-40 -1 2 -1 66 -1-63 -1 16 -1-2 -1-57 -1 12 -1-42 -1 30 -1 19 -1-2 -1 8 -1 46 -1-111 -1-218 -1-236 -1-248 -1-5 -1 342 -1 139 -1 303 -1-32 -1 20 -1-192 -1-20 -1-137 -1-54 -1 109 -1 195 -1 26 -1 87 -1-17 -1-20 -1-40 -1 50 -1-66 -1 66 -1-42 -1 51 -1-67 -1-1 -1 75 -1 5 -1 8 -1-17 -1-20 -1 50 -1-90 -1 11 -1 42 -1 53 -1-22 -1 3 -1-53 -1 94 -1-116 -1-7 -1 68 -1-16 -1-68 -1 28 -1 26 -1-2 -1 18 -1 31 -1-85 -1 6 -1 17 -1 10 -1-52 -1-7 -1 34 -1 29 -1-34 -1 93 -1-75 -1-19 -1 1 -1-21 -1 146 -1-137 -1 16 -1 22 -1-16 -1 20 -1 40 -1-47 -1 9 -1 71 -1-61 -1-5 -1 13 -1-27 -1 27 -1-32 -1 10 -1-29 -1 34 -1 25 -1-70 -1-9 -1 66 -1-47 -1-14 -1 61 -1-49 -1-3 -1-6 -1 31 -1 40 -1-58 -1 87 -1-60 -1-5 -1 9 -1 18 -1 7 -1-14 -1 63 -1-68 -1 4 -1 99 -1-33 -1-92 -1 64 -1 34 -1-80 -1-16 -1-10 -1 10 -1 94 -1-15 -1-46 -1-102 -1 48 -1 71 -1-4 -1-43 -1-31 -1 68 -1 31 -1-18 -1-104 -1-12 -1 6 -1 41 -1-19 -1 0 -1-25 -1 78 -1-23 -1 14 -1-84 -1 24 -1-19 -1 29 -1-59 -1-3 -1-2 -1 1 -1 86 -1-22 -1 13 -1-37 -1-12 -1-38 -1 25 -1-32 -1-2 -1 94 -1 2 -1 0 -1-9 -1-64 -1 81 -1-25 -1 54 -1-10 -1-8 -1-43 -1-6 -1 42 -1-45 -1-9 -1-55 -1-40 -1 16 -1-77 -1 41 -1-85 -1 10 -1-33 -1 71 -1-112 -1-33 -1-79 -1 10 -1 46 -1-67 -1-72 -1 8 -1-49 -1-168 -1 105 -1-36 -1-40 -1-49 -1-85 -1-117 -1 58 -1-170 -1 34 -1-38 -1-4 -1-134 -1-47 -1 10 -1-107 -1 48 -1-25 -1-11 -1 24 -1-45 -1-100 -1-23 -1 100 -1-105 -1-1 -1 5 -1 55 -1-121 -1-7 -1-20 -1-78 -1-57 -1 110 -1-82 -1-35 -1-33 -1 117 -1-62 -1-118 -1 36 -1-8 -1-48 -1-8 -1-17 -1-1 -1-14 -1-4 -1-2 -1-3 -1 0 -1 0 -1 0 -1 0 -1 0 -1 0 -1 0 -1 0 -1 0 -1 0 -1 0 -1 0 -1 0 -1 0 -1 0 -1 0 -1 0 -1 0 -1 0 -1 0 -1 0 -1 0 -1 0 -1 0 -1 0 -1 0 -1 0 -1 0 -1 0 -1 0 -1 0 -1 0 -1 0 -1 0 -1 0 -1 0 -1 0 -1 0 -1 0 -1 0 -1 0 -1 0 -1 0z"/>
<path class="bd" fill="#1576b3" transform="translate(2044.25 348.10) scale(1.5 -0.1)" d="M1 2 l1 1 1 2 1 2 1 1 1 2 1 1 1 2 1 2 1 2 1 1 1 2 1 2 1 15 1 15 1 34 1 3 1 20 1 37 1 17 1 50 1 48 1 3 1 31 1 80 1 5 1 63 1 43 1 54 1 74 1-12 1 82 1 42 1 64 1 79 1 56 1 16 1 40 1 82 1 22 1 29 1 58 1 50 1 33 1 48 1 19 1 19 1 43 1-18 1 99 1-12 1 51 1 44 1-1 1 51 1-27 1 28 1 67 1 17 1-2 1 42 1-22 1 35 1 31 1 33 1-2 1 9 1 6 1-12 1-7 1 41 1-5 1-21 1-11 1 34 1-10 1 54 1 9 1-24 1 52 1-27 1 12 1 15 1 34 1-25 1 30 1-14 1 32 1-6 1 6 1-8 1-3 1 56 1-8 1 11 1 13 1 17 1 14 1-24 1 20 1-3 1 3 1-8 1 14 1 30 1-14 1 6 1 35 1 10 1-18 1-31 1 22 1 29 1 0 1-17 1 8 1 14 1-26 1 25 1 53 1-31 1-6 1 10 1-15 1 14 1-5 1 20 1-17 1 15 1-14 1 15 1 8 1 13 1-22 1 1 1 5 1-1 1-3 1 6 1-1 1-2 1-1 1 5 1 4 1-21 1 17 1 1 1-1 1-3 1 6 1-16 1 12 1 3 1 1 1-5 1-8 1 2 1-7 1-9 1 31 1-13 1-4 1-10 1 23 1-22 1 10 1 4 1 7 1 1 1-4 1-3 1-2 1 9 1-15 1-8 1 20 1-18 1 3 1 17 1 0 1-4 1-14 1 12 1 10 1-3 1-1 1 1 1-2 1 3 1-3 1 16 1 19 1-20 1 39 1-49 1-12 1 1 1 6 1 1 1-1 1-2 1-1 1 7 1-9 1-18 1 22 1-14 1 1 1 6 1-4 1 15 1-5 1 7 1 2 1 0 1-9 1 5 1 1 1 11 1-7 1-3 1 3 1 11 1 30 1-44 1 3 1-8 1 6 1 25 1-24 1-11 1-7 1 8 1 3 1 9 1-1 1-3 1-6 1 4 1 4 1-5 1 5 1-5 1 3 1 13 1-8 1 2 1-4 1 3 1-9 1 7 1 0 1 2 1-3 1-3 1 4 1-4 1 4 1 3 1 0 1 1 1 0 1-10 1 8 1 4 1 5 1 2 1-14 1 39 1-34 1-1 1 1 1 1 1-4 1 2 1-1 1 2 1 1 1 4 1-5 1 0 1 12 1-17 1-2 1-1 1 5 1 11 1-19 1 12 1-6 1 25 1-20 1 1 1-6 1 5 1-16 1 17 1-13 1 13 1 4 1-6 1 5 1-5 1 1 1 8 1-1 1-2 1 8 1-7 1-2 1 0 1 20 1-21 1-4 1 3 1 0 1 25 1-11 1-13 1-1 1-3 1 11 1-5 1-7 1 10 1-3 1-5 1-4 1 5 1 23 1 5 1-15 1-8 1 22 0-69 -1-10 -1-18 -1 37 -1-37 -1-3 -1-17 -1 8 -1 7 -1 12 -1 4 -1-12 -1-17 -1 13 -1 2 -1 3 -1-23 -1-16 -1 24 -1-2 -1-4 -1 5 -1 7 -1 1 -1 3 -1 3 -1-8 -1-14 -1 9 -1 10 -1-13 -1 12 -1 0 -1-5 -1-2 -1-11 -1 2 -1 0 -1 1 -1 10 -1-21 -1 26 -1-28 -1 26 -1-15 -1 12 -1 4 -1-22 -1 14 -1 2 -1-3 -1 0 -1 23 -1-18 -1-6 -1-6 -1 12 -1-3 -1 9 -1 9 -1-7 -1 15 -1-38 -1 15 -1-10 -1-180 -1-230 -1-265 -1 279 -1 267 -1 137 -1-10 -1 9 -1-4 -1 4 -1 11 -1-16 -1-13 -1 22 -1-8 -1-10 -1 18 -1-18 -1 1 -1-2 -1 12 -1-10 -1 3 -1 10 -1-14 -1 7 -1-3 -1 1 -1-12 -1 9 -1 1 -1 12 -1-9 -1 0 -1 2 -1-4 -1 4 -1-11 -1-5 -1 7 -1-18 -1 36 -1 2 -1-28 -1 23 -1-24 -1-1 -1 27 -1-15 -1 13 -1-34 -1 22 -1 22 -1-24 -1 12 -1-11 -1 11 -1-20 -1-4 -1 0 -1 6 -1 3 -1 2 -1-6 -1-1 -1 8 -1 7 -1-16 -1-6 -1 26 -1-19 -1 16 -1-5 -1-8 -1-18 -1 2 -1 9 -1-17 -1 13 -1-6 -1-1 -1 2 -1 9 -1-1 -1 7 -1 0 -1-15 -1 11 -1-9 -1-6 -1 16 -1-6 -1-4 -1 6 -1 4 -1 8 -1-4 -1-2 -1 13 -1-20 -1-3 -1-2 -1 11 -1-11 -1-1 -1-21 -1 16 -1-7 -1 17 -1 1 -1-5 -1 18 -1 2 -1-9 -1-6 -1 20 -1 1 -1-24 -1-2 -1 6 -1-10 -1 26 -1-21 -1 17 -1-21 -1 6 -1 12 -1-2 -1-17 -1 3 -1 28 -1-16 -1-2 -1-6 -1 22 -1-11 -1 54 -1-24 -1-34 -1-2 -1 12 -1-34 -1 29 -1-20 -1-3 -1-24 -1-7 -1-11 -1 36 -1-19 -1-10 -1-31 -1 5 -1 39 -1-38 -1 34 -1-88 -1-1 -1-1 -1 65 -1-7 -1-27 -1-69 -1-7 -1-36 -1 30 -1 16 -1-26 -1-55 -1 4 -1 15 -1-43 -1 15 -1-50 -1 35 -1-87 -1 27 -1-46 -1-8 -1-7 -1-8 -1-4 -1-43 -1-22 -1-6 -1 11 -1-30 -1-49 -1-1 -1 62 -1-63 -1-7 -1-28 -1-5 -1-42 -1-56 -1-35 -1-46 -1 16 -1-10 -1-87 -1 6 -1-34 -1 39 -1-117 -1 2 -1-66 -1-37 -1-51 -1-17 -1-52 -1-15 -1-92 -1-10 -1-29 -1 37 -1-24 -1 35 -1-92 -1 15 -1-60 -1-19 -1-43 -1-107 -1 13 -1-12 -1-8 -1-66 -1-24 -1-79 -1-114 -1 12 -1-92 -1-45 -1 32 -1-27 -1-62 -1 5 -1-12 -1-9 -1-4 -1-12 -1-6 -1-3 -1 0 -1 0 -1 0 -1 0 -1 0 -1 0 -1 0 -1 0 -1 0 -1 0 -1 0 -1 0 -1 0 -1 0 -1 0 -1 0 -1 0 -1 0 -1 0 -1 0 -1 0 -1 0 -1 0 -1 0 -1 0z"/>
<path class="bd" fill="#fd7c1a" transform="translate(2044.25 348.10) scale(1.5 -0.1)" d="M40 0 l1 10 1 10 1 9 1 11 1 5 1 11 1 18 1 25 1 8 1 30 1 37 1 21 1 6 1 29 1 77 1 40 1 28 1 36 1 47 1 81 1 18 1 57 1 78 1 66 1 7 1 38 1-21 1 24 1 46 1 48 1-1 1 36 1-1 1 13 1 63 1 1 1 55 1 72 1 84 1 28 1 34 1 44 1 87 1 3 1 61 1 23 1 38 1 44 1 42 1 51 1-16 1 6 1 43 1-26 1 48 1 29 1-26 1 17 1 8 1 55 1-17 1-3 1 23 1 56 1 8 1 11 1 52 1-23 1 4 1 12 1-16 1 6 1 15 1 20 1-10 1-5 1 9 1-15 1 27 1-10 1 31 1-1 1-11 1-14 1-10 1 29 1-12 1 60 1-5 1-10 1 12 1 26 1-19 1-2 1-16 1 3 1-21 1 18 1 14 1-26 1 16 1 29 1-7 1 8 1 6 1-1 1-11 1 4 1 11 1-29 1 33 1-6 1 13 1 1 1 33 1-12 1-15 1-25 1 10 1 4 1-2 1 12 1-25 1 32 1-14 1 17 1-13 1 51 1 2 1-33 1-1 1 3 1-8 1-4 1 16 1-11 1-31 1 38 1-1 1-12 1 11 1-4 1 8 1 1 1-1 1-11 1-25 1 37 1-15 1 10 1 9 1-1 1 5 1-46 1-1 1 48 1-16 1 9 1-5 1-12 1 16 1 3 1 5 1 5 1 9 1-24 1-3 1 8 1 11 1-14 1-14 1 4 1-18 1 23 1 7 1 1 1-31 1 17 1-11 1 9 1-5 1 13 1-10 1 19 1-4 1 6 1 4 1-16 1-8 1-1 1 2 1-24 1 47 1-4 1 3 1 3 1-9 1 2 1-1 1-2 1 27 1-16 1-5 1 3 1 7 1-8 1-5 1 0 1-16 1 8 1 8 1 10 1 3 1-8 1 15 1-3 1 33 1-36 1-3 1-4 1-10 1-2 1 0 1 13 1 8 1-6 1 4 1-2 1-6 1 2 1 51 1-45 1 1 1-29 1 17 1 19 1-56 1 47 1-17 1 21 1 0 1-6 1-24 1 4 1 24 1 0 1 1 1-5 1 5 1-28 1 26 1 12 1 39 1-81 1 33 1-2 1 6 1-4 1 9 1 10 1-13 1-17 1 16 1 5 1-14 1 4 1-1 1 13 1-4 1 5 1 0 1 0 1 29 1-24 1-12 1 7 1-8 1-4 1 21 1-15 1 10 1-24 1 15 1-1 1 7 1 20 1-51 1-12 1-1 1 45 1 24 1-30 1 16 1-19 0-96 -1-2 -1 5 -1 45 -1-34 -1-21 -1-2 -1 8 -1-24 -1 17 -1 17 -1-13 -1 6 -1-11 -1 3 -1 1 -1 4 -1-2 -1-9 -1 21 -1-14 -1-5 -1-1 -1-8 -1 17 -1-13 -1-6 -1 6 -1 8 -1-8 -1-1 -1 23 -1-8 -1-8 -1 42 -1-47 -1 31 -1 4 -1-36 -1 2 -1 7 -1 36 -1 1 -1-38 -1 0 -1 2 -1-8 -1 6 -1-3 -1 8 -1-11 -1 1 -1-3 -1 8 -1-20 -1 6 -1 26 -1-30 -1 5 -1-1 -1-3 -1 13 -1-29 -1 25 -1-21 -1 30 -1 11 -1-7 -1-7 -1 0 -1-15 -1 16 -1-23 -1 7 -1-1 -1 11 -1-7 -1-18 -1 4 -1 28 -1-22 -1-13 -1 32 -1-30 -1 3 -1 22 -1 3 -1-6 -1-1 -1-11 -1 37 -1-35 -1 30 -1-19 -1 26 -1-19 -1-20 -1 8 -1-6 -1-21 -1 13 -1 6 -1-11 -1-1 -1 15 -1-4 -1-6 -1 0 -1-6 -1 9 -1 16 -1-15 -1 6 -1-8 -1-11 -1 13 -1 4 -1-7 -1 10 -1-16 -1 1 -1 22 -1 4 -1-20 -1 21 -1 31 -1-38 -1-24 -1 15 -1 27 -1-22 -1 10 -1 15 -1-13 -1-18 -1-13 -1 39 -1-37 -1 2 -1-15 -1 1 -1 14 -1-8 -1 0 -1-3 -1-1 -1-1 -1-21 -1 22 -1 2 -1-7 -1 0 -1 27 -1 13 -1-27 -1 24 -1-22 -1-10 -1-20 -1 20 -1-9 -1-9 -1-4 -1 3 -1-3 -1 29 -1 12 -1-19 -1-1 -1 29 -1-12 -1-23 -1 9 -1-12 -1-18 -1 9 -1-3 -1 16 -1 49 -1-81 -1-17 -1 37 -1-25 -1-1 -1-7 -1-15 -1-10 -1 22 -1-6 -1-19 -1-14 -1 6 -1-33 -1 21 -1-4 -1 15 -1-27 -1 7 -1 3 -1-1 -1-16 -1 49 -1-25 -1-22 -1 20 -1-18 -1-12 -1-20 -1-2 -1 20 -1-9 -1-8 -1-19 -1 55 -1-45 -1-12 -1 10 -1-25 -1-15 -1-23 -1 32 -1 22 -1-88 -1 8 -1 18 -1-58 -1 1 -1-91 -1-27 -1-40 -1-18 -1-52 -1-28 -1-45 -1-56 -1-74 -1 1 -1-94 -1-37 -1-71 -1-18 -1-77 -1-43 -1-41 -1-38 -1-19 -1-17 -1-80 -1-29 -1-27 -1 0 -1-32 -1-11 -1-56 -1 25 -1-38 -1-9 -1-103 -1-8 -1 4 -1-55 -1-23 -1-80 -1 4 -1-54 -1-49 -1-2 -1-41 -1-48 -1-7 -1-20 -1-9 -1-32 -1-5 -1-22 -1 0 -1 0 -1 0 -1 0 -1 0 -1 0 -1 0 -1 0 -1 0 -1 0 -1 0 -1 0 -1 0 -1 0 -1 0 -1 0 -1 0 -1 0 -1 0 -1 0z"/>
<path class="ln" stroke="#db1d28" transform="translate(2044.25 348.10) scale(0.5 -0.1)" d="M0 0 l1 0 1 0 1 0 1 0 1 0 1 0 1 0 1 0 1 0 1 0 1 0 1 0 1 0 1 0 1 2 1 2 1 1 1 6 1 6 1-7 1 1 1-1 1 5 1 6 1 3 1 11 1 0 1 7 1 0 1-19 1 23 1-5 1-19 1 23 1-36 1 29 1 4 1 19 1 4 1-14 1 27 1-7 1 14 1-18 1-6 1-19 1 78 1 38 1-15 1-4 1 30 1-18 1 52 1 18 1-23 1 33 1-43 1 48 1-46 1 59 1-54 1 15 1-8 1 50 1-24 1-26 1 35 1 19 1 39 1 85 1-10 1 37 1 14 1 16 1 35 1 27 1-47 1-8 1 20 1-1 1 19 1-48 1 69 1 36 1 19 1-1 1 33 1-30 1 37 1 23 1 31 1 80 1-19 1 25 1 2 1 91 1-27 1 31 1 47 1-66 1 25 1 33 1 37 1 37 1-20 1-25 1 39 1 11 1 3 1-29 1 53 1-1 1 49 1-25 1 57 1 6 1-7 1 29 1 39 1-18 1 42 1 53 1 52 1 19 1-47 1 12 1 11 1-37 1 26 1-37 1-7 1-31 1 128 1 12 1 20 1 7 1 40 1 0 1-69 1 8 1-48 1 21 1-10 1 170 1 9 1 84 1-37 1 72 1 5 1-32 1-7 1 20 1 19 1-40 1 47 1 4 1 79 1-13 1-43 1 42 1 19 1-4 1 37 1 42 1-15 1 10 1 18 1-28 1-22 1-9 1 29 1-37 1 30 1 13 1-46 1-6 1 4 1 14 1-28 1-3 1 36 1-26 1-2 1-10 1 19 1 12 1-29 1-17 1 53 1 21 1-6 1-40 1 52 1 22 1-14 1 48 1-7 1 18 1-3 1 30 1 6 1-38 1-21 1 40 1 5 1 13 1 11 1 32 1-73 1 59 1-20 1 44 1-21 1-30 1-18 1-33 1 31 1-17 1-15 1 27 1 61 1-9 1 27 1 8 1-63 1 13 1 21 1-7 1-61 1 41 1-23 1 13 1 9 1 19 1-17 1 60 1 32 1-21 1 53 1-36 1-6 1 23 1 3 1 0 1-26 1 9 1-36 1-12 1-4 1-30 1 24 1-34 1-3 1 24 1 7 1-57 1 26 1 24 1 8 1 17 1-2 1 27 1-37 1 114 1-11 1-4 1-20 1 61 1-2 1 25 1-13 1-21 1-21 1 6 1-11 1-18 1 11 1 32 1-33 1 52 1-7 1-3 1 15 1-30 1 14 1-21 1 21 1-22 1-30 1 19 1 14 1-21 1-1 1 37 1-27 1-44 1 82 1-17 1-32 1 102 1-20 1-14 1 40 1 16 1-49 1 33 1 26 1-71 1 30 1-10 1 1 1 4 1 26 1-5 1-24 1 62 1 12 1 31 1 12 1-39 1-32 1 50 1-51 1 49 1-20 1-39 1 16 1-51 1 33 1 39 1 7 1 4 1 15 1-63 1 21 1-45 1 37 1-28 1-50 1 3 1 24 1-16 1 42 1-3 1 5 1 46 1-30 1-13 1 18 1-6 1-17 1-42 1 71 1-28 1-14 1 8 1 6 1 26 1-33 1 43 1 22 1-27 1-54 1-12 1 8 1 20 1-13 1 19 1-5 1-23 1 54 1 42 1-13 1-17 1 30 1-54 1-3 1 32 1-11 1 8 1 3 1 3 1 31 1 9 1-15 1 34 1-17 1 39 1-44 1-18 1-1 1-6 1 1 1-40 1 31 1 9 1-52 1 33 1 25 1-56 1 47 1-24 1 44 1-42 1 13 1-16 1-3 1-11 1 5 1 37 1 13 1-21 1 18 1 22 1-47 1 61 1-15 1-6 1-14 1 28 1-23 1-21 1 22 1-7 1 26 1 21 1-8 1-42 1 9 1 16 1-32 1 33 1-32 1-29 1 13 1 15 1 31 1-18 1 28 1-2 1-22 1 20 1-23 1 6 1-12 1 27 1-38 1-1 1 70 1-55 1 51 1-9 1-26 1 11 1-6 1-54 1-8 1 21 1-14 1-18 1 14 1 33 1-40 1 23 1 7 1-2 1 29 1-10 1-23 1 21 1-8 1-14 1 13 1 39 1-4 1-3 1-10 1-1 1-7 1 26 1-40 1-9 1 2 1 53 1-1 1 0 1-9 1-26 1-17 1 12 1-35 1 6 1-29 1 16 1 18 1 45 1-26 1 33 1-23 1-6 1 7 1 20 1-2 1 12 1-37 1 4 1 4 1 42 1-34 1 3 1 21 1-4 1 11 1-11 1 18 1-37 1-38 1 43 1 23 1-23 1 45 1-47 1-21 1 46 1-27 1 14 1 0 1-7 1-35 1 0 1-29 1-6 1 24 1-39 1 75 1-56 1 26 1-18 1 32 1 12 1 45 1-8 1-7 1-27 1 6 1 25 1 8 1 13 1-40 1 23 1-20 1-34 1 14 1 14 1-13 1-1 1 14 1-9 1-1 1 11 1-5 1-15 1-17 1 3 1 57 1-35 1 14 1-3 1-5 1-6 1-24 1 9 1 19 1 33 1-19 1-24 1-3 1 29 1 9 1-12 1 20 1-5 1-4 1-8 1 14 1-20 1-33 1 22 1-29 1 23 1-36 1 19 1-4 1 13 1 23 1-17 1-16 1 22 1 4 1-12 1 22 1-10 1 2 1-12 1 30 1-11 1 2 1-11 1-9 1 18 1 11 1-2 1-23 1 6 1 22 1-16 1 23 1-6 1 12 1-4 1 7 1 25 1 11 1-34 1 2 1-23 1-13 1-21 1-21 1 61 1-42 1 5 1-8 1 26 1-8 1 21 1-38 1-4 1 11 1 10 1 4 1 33 1-24 1 8 1 11 1-23 1 28 1-39 1 19 1 15 1-2 1-18 1 18 1-15 1-1 1 8 1 1 1 22 1-7 1 2 1-36 1 40 1-1 1 13 1-24 1 14 1-2 1-7 1 10 1-55 1-7 1 8 1-18 1 1 1 28 1 7 1 1 1 16 1 1 1-10 1 0 1 6 1-15 1 20 1-22 1 26 1 24 1-25 1 0 1 6 1 2 1-5 1-13 1 18 1-20 1-12 1 35 1-13 1 13 1 12 1 3 1-6 1 18 1-6 1 3 1-16 1-9 1-10 1 1 1 39 1-30 1 5 1 5 1-21 1 0 1 27 1-2 1-1 1-2 1-3 1 20 1-48 1 16 1-33 1 27 1-21 1-22 1 12 1 14 1-6 1 12 1 10 1 1 1 10 1 32 1-7 1-1 1-2 1-12 1 29 1-15 1 7 1-42 1 43 1-13 1-11 1 15 1-20 1 36 1-22 1 0 1-23 1 21 1 24 1 0 1-14 1-1 1-6 1 20 1-25 1-22 1-3 1 4 1-7 1 7 1-9 1 8 1 21 1-7 1 9 1-22 1 34 1-27 1 2 1-31 1 6 1 11 1-18 1 8 1-4 1 24 1-9 1 33 1 9 1 1 1 2 1-16 1 1 1-4 1-29 1-15 1 33 1-23 1-5 1 18 1-12 1-13 1 34 1 0 1 0 1-5 1 27 1-27 1 20 1-29 1 30 1-7 1-32 1-5 1 3 1-3 1 15 1-20 1 27 1 27 1-13 1-1 1 4 1-5 1 19 1 10 1-27 1 0 1-3 1 8 1-16 1-10 1 8 1 17 1-11 1 7 1 5 1-6 1 12 1 18 1-15 1-16 1 8 1 11 1-17 1 29 1-3 1-22 1 25 1-11 1 11 1-35 1 33 1 1 1 0 1-1 1-1 1-1 1-15 1-9 1-12 1 6 1-5 1 3 1-15 1 23 1-35 1 46 1-3 1 19 1-21 1-5 1 1 1 9 1 1 1 1 1-3 1 6 1 6 1-20 1-20 1 4 1-22 1-2 1 12 1-22 1 9 1 5 1-16 1 7 1-8 1 30 1-24 1-8 1 16 1 3 1 3 1-28 1 9 1-9 1 14 1 3 1 10 1 2 1 20 1-19 1-2 1 13 1 4 1-27 1 8 1 6 1-20 1 38 1-8 1 8 1-10 1-34 1 30 1-45 1 58 1-32 1 7 1 21 1-14 1-3 1 0 1 21 1 8 1 1 1-27 1-29 1 28 1 38 1-5 1 2 1-3 1-28 1 18 1 12 1-18 1-10 1-30 1 21 1 28 1-1 1 26 1-8 1-14 1 19 1-8 1 7 1-29 1 23 1-30 1 42 1-11 1-17 1 11 1 14 1 0 1-10 1-5 1-27 1 21 1-14 1 6 1-23 1 8 1 0 1-6 1-27 1-6 1 19 1 10 1 6 1-5 1-13 1 18 1 18 1-4 1-24 1 21 1 2 1-22 1 16 1 26 1-64 1 44 1-25 1-27 1 37 1 7 1-3 1-14 1 24 1-1 1 4 1-3 1 3 1 23 1-38 1 30 1-1 1 13 1 14"/>
<path class="ln" stroke="#2ba02e" transform="translate(2044.25 348.10) scale(0.5 -0.1)" d="M0 0 l1 0 1 0 1 0 1 0 1 0 1 0 1 0 1 0 1 0 1 0 1 0 1 0 1 0 1 0 1 0 1 0 1 0 1 0 1 0 1 0 1 0 1 0 1 0 1 0 1 0 1 0 1 0 1 0 1 0 1 0 1 0 1 0 1 0 1 0 1 0 1 0 1 0 1 0 1 0 1 0 1 0 1 0 1 0 1 0 1 0 1 0 1 0 1 0 1 0 1 0 1 0 1 0 1 0 1 0 1 0 1 0 1 0 1 0 1 0 1 0 1 0 1 0 1 0 1 0 1 0 1 0 1 0 1 0 1 0 1 0 1 0 1 0 1 0 1 0 1 0 1 0 1 0 1 0 1 0 1 0 1 0 1 0 1 0 1 0 1 0 1 0 1 0 1 0 1 0 1 0 1 0 1 0 1 0 1 0 1 0 1 0 1 0 1 0 1 0 1 0 1 0 1 0 1 0 1 0 1 0 1 0 1 0 1 0 1 0 1 0 1 0 1 0 1 0 1 0 1 0 1 0 1 0 1 0 1 0 1 0 1 0 1 0 1 0 1 0 1 0 1 0 1 0 1 0 1 0 1 0 1 0 1 0 1 0 1 0 1 0 1 0 1 0 1 0 1 0 1 0 1 0 1 0 1 0 1 0 1 4 1 8 1 5 1 3 1-4 1 4 1 1 1-5 1 2 1-5 1 15 1 0 1-2 1 19 1-10 1 3 1 7 1 21 1 7 1 0 1-10 1-18 1 4 1 3 1 14 1 22 1-23 1 34 1-20 1 12 1-22 1-15 1-13 1 5 1-1 1-12 1-4 1 24 1-41 1 32 1 14 1-18 1 18 1-15 1 6 1 30 1 59 1 14 1 61 1-37 1 29 1-13 1 39 1-19 1-48 1 4 1 33 1 5 1-22 1 23 1-38 1 16 1 6 1 13 1 55 1 5 1 121 1-72 1 82 1-34 1 59 1-64 1 25 1-46 1 25 1 35 1 19 1 168 1-58 1 27 1 50 1-101 1 10 1 15 1-80 1 36 1-95 1-27 1-45 1 11 1 7 1-6 1 60 1 106 1-49 1-21 1 51 1 18 1 66 1 21 1-119 1 96 1 137 1 100 1 52 1 13 1-31 1-6 1 74 1-24 1 58 1 22 1 16 1-2 1-22 1 60 1 92 1 158 1 2 1 83 1-37 1-67 1-5 1 79 1 10 1 27 1 1 1 126 1 53 1-28 1 89 1 5 1-35 1 22 1 7 1 36 1 18 1 26 1-25 1 60 1-18 1 20 1 35 1-76 1 36 1 17 1 73 1 0 1-11 1 9 1 18 1-13 1 1 1-50 1 23 1-25 1-38 1-2 1-38 1-53 1 56 1-50 1 93 1 83 1 51 1 15 1-92 1 47 1-9 1 31 1 36 1-11 1-63 1 61 1-46 1-53 1 66 1-25 1 12 1 67 1-56 1-10 1 22 1 76 1-6 1-47 1 25 1-33 1 46 1-1 1-11 1 11 1 10 1 50 1-17 1-51 1 34 1-3 1 51 1-14 1 43 1-13 1 22 1-11 1-29 1-5 1 15 1-37 1-42 1 63 1 4 1-26 1 16 1-49 1 48 1 19 1 6 1 18 1-61 1 19 1 20 1-33 1 39 1-21 1-17 1-37 1 25 1-39 1 10 1 18 1-10 1 0 1-20 1 58 1 22 1 6 1-30 1 17 1 41 1-10 1 4 1 10 1-52 1-15 1 0 1 8 1 1 1 9 1-26 1-16 1-19 1-52 1 42 1-20 1-1 1 22 1 0 1-2 1 30 1-13 1 59 1-3 1 1 1-22 1 25 1 36 1 14 1 7 1-22 1 11 1 44 1 44 1 16 1-39 1-35 1-10 1 29 1-36 1-14 1 48 1-20 1-33 1 31 1-2 1-27 1 42 1-29 1-7 1 63 1-68 1 86 1-4 1-43 1-13 1 28 1 5 1 21 1-6 1 3 1-16 1 4 1 47 1-79 1 52 1-42 1-42 1 6 1 29 1-41 1 30 1-13 1 54 1 5 1-4 1 21 1 11 1-3 1-14 1-14 1-9 1 33 1 25 1 1 1-47 1 49 1-30 1-18 1 44 1-18 1-13 1-16 1 15 1-27 1-35 1 28 1 6 1 4 1-9 1-33 1 6 1 37 1-28 1-24 1 32 1 9 1 3 1 27 1-4 1-15 1 38 1-21 1 61 1-54 1 50 1-22 1 12 1-10 1 2 1-24 1 27 1 14 1-7 1 1 1-33 1 9 1-19 1-16 1-12 1 49 1-19 1 41 1-22 1-5 1-49 1 14 1-5 1 6 1-29 1 67 1-88 1 14 1 27 1-3 1 3 1 30 1-43 1 13 1-3 1 7 1-5 1 7 1 16 1-5 1 36 1-17 1 7 1 4 1-3 1 28 1-2 1-2 1-33 1-2 1-50 1 27 1 40 1-28 1 39 1-79 1 58 1-31 1 23 1-1 1 25 1-19 1-63 1 26 1 23 1 9 1-23 1 35 1-48 1 15 1 2 1-32 1 12 1-44 1 27 1 46 1-40 1 8 1 37 1 12 1-36 1 46 1-45 1-13 1 52 1-39 1-17 1-13 1 28 1-5 1 34 1 24 1-53 1 22 1 1 1-16 1 41 1-18 1 15 1 3 1 2 1 20 1 3 1-14 1-17 1 29 1 13 1-53 1 45 1 13 1 19 1-19 1-29 1-9 1 52 1-6 1-53 1-62 1 14 1-17 1 13 1 57 1-55 1-27 1 26 1 2 1-5 1 53 1-45 1-10 1 36 1 32 1-7 1 6 1-12 1 11 1-13 1 22 1-2 1-14 1-4 1 12 1-56 1 52 1 38 1-33 1 9 1-47 1-2 1 13 1 17 1-31 1-39 1 12 1-4 1 17 1 16 1 39 1-40 1 26 1 12 1-33 1 27 1-36 1-15 1 9 1-25 1 19 1 43 1-10 1 50 1-19 1 7 1-51 1 2 1-1 1-30 1-21 1 41 1-15 1 12 1 38 1-27 1 22 1 4 1-2 1-16 1-4 1 39 1-17 1 5 1 0 1-63 1 7 1-18 1 48 1 12 1-15 1 11 1 6 1-55 1 27 1-29 1 10 1-6 1-49 1 3 1 49 1 30 1-59 1 23 1-7 1 11 1 33 1-34 1 15 1 23 1 4 1 0 1-10 1 38 1 14 1-56 1-10 1-21 1 43 1-32 1 26 1 9 1-45 1 26 1 39 1-51 1 22 1 21 1-43 1 35 1 19 1-19 1 6 1-8 1-10 1 31 1 0 1-7 1-29 1-51 1 40 1 13 1-18 1 18 1 6 1-6 1 10 1-4 1-5 1-5 1-3 1 12 1-9 1 9 1 7 1-1 1 22 1 19 1-24 1-14 1 11 1-27 1 17 1 3 1-49 1 46 1 14 1-13 1-4 1 1 1 35 1-6 1 28 1-25 1-2 1 21 1 9 1-44 1-10 1 31 1-60 1-14 1 9 1-15 1-14 1 3 1 14 1-23 1 7 1 46 1 14 1 16 1-65 1 55 1 40 1-59 1-9 1-18 1 46 1 22 1 18 1-69 1 57 1 12 1 27 1-36 1-41 1 19 1-25 1 19 1-55 1 8 1 14 1-1 1-25 1 29 1 10 1 4 1-29 1 6 1 3 1 7 1-18 1 36 1-43 1 7 1 30 1 33 1-53 1 6 1-15 1 40 1 36 1-51 1 0 1-26 1 56 1 21 1-78 1 46 1 17 1-8 1 12 1-16 1 10 1-6 1-19 1 4 1-43 1-7 1 38 1-39 1 16 1-6 1 58 1-53 1 26 1 43 1 22 1-20 1 25 1 1 1-11 1-3 1-47 1 16 1-17 1-24 1-52 1 15 1 20 1 2 1-41 1 44 1 7 1-25 1 28 1-20 1 23 1-29 1 33 1-9 1-12 1 18 1 5 1 47 1-5 1 17 1-15 1 32 1-38 1-18 1 12 1 0 1 67 1-69 1 62 1-36 1 16 1-27 1 4 1-28 1 5 1 15 1-15 1-50 1-9 1 12 1 22 1 1 1 29 1-26 1-21 1-20 1 12 1-14 1 39 1 16 1 10 1 18 1 0 1-10 1-3 1 17 1-48 1 10 1 19 1 36 1-19 1 1 1 0 1-29 1-14 1 33 1-17 1-6 1-21 1 3 1 7 1-26 1 48 1-85 1 26 1-17 1 16 1 33 1 1 1 16 1 24 1-45 1 19 1 41 1 3 1-27 1-1 1 3 1 27 1 0 1 15 1 17 1 12 1-5 1 26 1-38 1-22 1-53 1 55 1-59 1 33 1-37 1 7 1-32 1-18 1 47 1-46 1-21 1-8 1 25 1 19 1 37 1-27 1 33 1-34 1 5 1 0 1 23 1-26 1 19 1-29 1 42 1-8 1-6 1 28 1-15 1 17 1-34 1 41"/>
<path class="ln" stroke="#1576b3" transform="translate(2044.25 348.10) scale(0.5 -0.1)" d="M0 0 l1 0 1 0 1 0 1 0 1 0 1 0 1 0 1 0 1 0 1 0 1 0 1 0 1 0 1 0 1 0 1 0 1 0 1 0 1 0 1 0 1 0 1 0 1 0 1 0 1 0 1 0 1 0 1 0 1 0 1 0 1 0 1 0 1 0 1 0 1 0 1 0 1 0 1 0 1 0 1 4 1 2 1-4 1 7 1 8 1 0 1 8 1 1 1-7 1-10 1 17 1 7 1-8 1 10 1-7 1-6 1-12 1 44 1 7 1-13 1 15 1 33 1-76 1 71 1-30 1 32 1 0 1-21 1 9 1 8 1-50 1 44 1-6 1 0 1-16 1 46 1-21 1 72 1-10 1-55 1 26 1 59 1 3 1 16 1-44 1 20 1-22 1 30 1-31 1-22 1 6 1-37 1-14 1 16 1-22 1 8 1 48 1 150 1-61 1 61 1 3 1 115 1-10 1 19 1-25 1 31 1-5 1 104 1 21 1-18 1 48 1 29 1-29 1-55 1 97 1-7 1 78 1-27 1 58 1-53 1 38 1-38 1-16 1-8 1 29 1 16 1 61 1 42 1 46 1-31 1 60 1 25 1 18 1-8 1 9 1 13 1-14 1-73 1 28 1 38 1 29 1-18 1 45 1-49 1 30 1 11 1 31 1 18 1 32 1 22 1-45 1 73 1 11 1-7 1-1 1-46 1-50 1 18 1 12 1 5 1 17 1 71 1 24 1 46 1-53 1 32 1 95 1 21 1 72 1-71 1 3 1 24 1 43 1 19 1 25 1-89 1-8 1-14 1 23 1 22 1 25 1-5 1 6 1 3 1-16 1 11 1 11 1 28 1 2 1 18 1 48 1 5 1-12 1-19 1 55 1 74 1-62 1 46 1-26 1-10 1 1 1 10 1 36 1-33 1-4 1 47 1 6 1 4 1-75 1 71 1 9 1-34 1 35 1-51 1 52 1-39 1 50 1 23 1 32 1-47 1-26 1 42 1-30 1 37 1-38 1 45 1-7 1 1 1 55 1 4 1 115 1-10 1-8 1-16 1 0 1 21 1 9 1-22 1 11 1 25 1 27 1-51 1-2 1 72 1-52 1 13 1 17 1 58 1-60 1 30 1-8 1 16 1 3 1-54 1 48 1-78 1 44 1 3 1 4 1-29 1 29 1-26 1-15 1-1 1-8 1-80 1 95 1-9 1 13 1-29 1 33 1 8 1 48 1-68 1 20 1 26 1 16 1 6 1 50 1-79 1 76 1 52 1-18 1-50 1 66 1-28 1 14 1 3 1-3 1-47 1 33 1-50 1 31 1 1 1 4 1-43 1 66 1-17 1 21 1-5 1 29 1-10 1 30 1 16 1-25 1 18 1 41 1 30 1-65 1 23 1-32 1-48 1 40 1-72 1 36 1-6 1 16 1 4 1-6 1 31 1 44 1 18 1 28 1 28 1 19 1 0 1-6 1 16 1-48 1 16 1 13 1-60 1 2 1-8 1-19 1 7 1 41 1-5 1 46 1 17 1-50 1 57 1-12 1-30 1 12 1-9 1 58 1-70 1 20 1-9 1-3 1 16 1-43 1-4 1 3 1 24 1 9 1-5 1 48 1-11 1 56 1-27 1-3 1-28 1 30 1-19 1-59 1 47 1-28 1 13 1-43 1 29 1 20 1 11 1-22 1 43 1 8 1-47 1 16 1 15 1-8 1 39 1-62 1 37 1-15 1-5 1 11 1-4 1 2 1-3 1-5 1 5 1-9 1 33 1 6 1 2 1 14 1-35 1 13 1 35 1-42 1 15 1-10 1-14 1 0 1-3 1-4 1-17 1 37 1-8 1-25 1-1 1-6 1 13 1 32 1-15 1 26 1 4 1-23 1 39 1-45 1-26 1 41 1-1 1-21 1-31 1 30 1 19 1-28 1 14 1 0 1-41 1-1 1 41 1-38 1 12 1-3 1 29 1-9 1 32 1-8 1-7 1 2 1-13 1 32 1-21 1 4 1-2 1-42 1-27 1 19 1-7 1 11 1-21 1 41 1 4 1-3 1 17 1 0 1 3 1 19 1-22 1 39 1-71 1-14 1-6 1 1 1 18 1 29 1 22 1-34 1 5 1-41 1 8 1 25 1-32 1-17 1 8 1 18 1-28 1 35 1 3 1-10 1 10 1 15 1 6 1-68 1 77 1-11 1-59 1-38 1 39 1-17 1 40 1-8 1 2 1 0 1 40 1-49 1 31 1 5 1 44 1-32 1-38 1 57 1-4 1-18 1 49 1-35 1 3 1 6 1-3 1 13 1-19 1 15 1-38 1-13 1 49 1-33 1-17 1 2 1-3 1 27 1 10 1-24 1-4 1 39 1-50 1 11 1 57 1-62 1 14 1-46 1 47 1-13 1-3 1 35 1-24 1 32 1-29 1 38 1-61 1 33 1 7 1-50 1 8 1 15 1-15 1 30 1 26 1 29 1-29 1-7 1-20 1 15 1-11 1 7 1-4 1-19 1 15 1 42 1-4 1 18 1 2 1-42 1-20 1 64 1-29 1-41 1 30 1 4 1 3 1 4 1 40 1-6 1-45 1 70 1-12 1 23 1-31 1 23 1 0 1 16 1-21 1-54 1 21 1-23 1 3 1-39 1 19 1-30 1 30 1 2 1 3 1 5 1-38 1 8 1 21 1 7 1-5 1 5 1-1 1-9 1 11 1 3 1 19 1-34 1 24 1-21 1 1 1-37 1 17 1 17 1-14 1 20 1-52 1-6 1 28 1 9 1-15 1 29 1-25 1 15 1-19 1 15 1 2 1 4 1-9 1 9 1-14 1 4 1 0 1-3 1 13 1-2 1 5 1-16 1 1 1 27 1 14 1-23 1 4 1-2 1 13 1 36 1-35 1 29 1-9 1-49 1 32 1 25 1-20 1-10 1 6 1 3 1 8 1 36 1-7 1-23 1 25 1-18 1 3 1-28 1 0 1-11 1 23 1 13 1-10 1 9 1 21 1 35 1-36 1 31 1-23 1-9 1-39 1 9 1 19 1-18 1 4 1 5 1-17 1-8 1 5 1 15 1 3 1 51 1-15 1-36 1 2 1 1 1-29 1 26 1-26 1-40 1-17 1 17 1 3 1 9 1 13 1 1 1 12 1 0 1-17 1 6 1 24 1-19 1-4 1 23 1-1 1-14 1-10 1-14 1 11 1 20 1-28 1 64 1-35 1 4 1-22 1 28 1 16 1-37 1-3 1 7 1-18 1 14 1 45 1-47 1-8 1 4 1 28 1-31 1-10 1-15 1-9 1 14 1 34 1 2 1-33 1-11 1 13 1 15 1 36 1-67 1 3 1 11 1 43 1-39 1 15 1 2 1 18 1 8 1 5 1 57 1-63 1 21 1-3 1-8 1 14 1-7 1 2 1-7 1-1 1 20 1-35 1 53 1-7 1-41 1-13 1-33 1 30 1 6 1-3 1 20 1 13 1-28 1 16 1 7 1-31 1 19 1 12 1-29 1-5 1 22 1-23 1-1 1 9 1 5 1-16 1 0 1 48 1-35 1 35 1 46 1-39 1-124 1-286 1-26 1 47 1-11 1 21 1-27 1-33 1 4 1 324 1 57 1 86 1-2 1-61 1-2 1-10 1-14 1 24 1-19 1 7 1 3 1 21 1-15 1 33 1-21 1 8 1-2 1-5 1 20 1-16 1 6 1-7 1-6 1 6 1-18 1 32 1-7 1-10 1-12 1-9 1-10 1-4 1-25 1 5 1 18 1-10 1 29 1-9 1 36 1 1 1 23 1-11 1-27 1-6 1 20 1-20 1-8 1 9 1-31 1 20 1 21 1-24 1 21 1 26 1-20 1 26 1-39 1 2 1-15 1 28 1-32 1 46 1-38 1 5 1 6 1-33 1 80 1 2 1-51 1 34 1-18 1-11 1 13 1 6 1-36 1 28 1-17 1 3 1-37 1 38 1-13 1-9 1-13 1-19 1 18 1-17 1-9 1-10 1 14 1-1 1 0 1 13 1-43 1 26 1 24 1 6 1 6 1-2 1 13 1 13 1 31 1-22 1-27 1-3 1-4 1 60 1-46 1-7 1-22 1 21 1-5 1 4 1-12 1 61 1-46 1 22 1 22 1 17 1 0 1 18 1-29 1-24 1 1 1 42 1-29 1-15 1-10 1 3 1 10 1 13 1 31 1-47 1 15 1-15 1-7 1 14 1-7 1-34 1 5 1 27 1-12 1 12 1-1 1 10 1 24 1 19 1-4 1-32 1 25 1-28 1-33 1 12 1-29 1-24 1 39 1 23 1-15 1-9 1 19 1-11 1-11 1 27 1-8 1 7 1-23 1 29 1-13 1 23 1-39 1 20 1-4 1 0 1 3 1-16 1 5 1 10 1-16 1 11 1-38 1 43 1 32 1-32 1 17 1-33 1 70 1 3 1 5 1-3 1-39 1 6 1 18 1 15 1-26 1-1 1-13 1 39"/>
<path class="ln" stroke="#fd7c1a" transform="translate(2044.25 348.10) scale(0.5 -0.1)" d="M0 0 l1 0 1 0 1 0 1 0 1 0 1 0 1 0 1 0 1 0 1 0 1 0 1 0 1 0 1 0 1 0 1 0 1 0 1 0 1 0 1 0 1 0 1 0 1 0 1 0 1 0 1 0 1 0 1 0 1 0 1 0 1 0 1 0 1 0 1 0 1 0 1 0 1 0 1 0 1 0 1 0 1 0 1 0 1 0 1 0 1 0 1 0 1 0 1 0 1 0 1 0 1 0 1 0 1 0 1 0 1 0 1 0 1 0 1 0 1 0 1 0 1 0 1 0 1 0 1 0 1 0 1 0 1 0 1 0 1 0 1 0 1 0 1 0 1 0 1 0 1 0 1 0 1 0 1 0 1 0 1 0 1 0 1 0 1 0 1 0 1 0 1 0 1 0 1 0 1 0 1 0 1 0 1 0 1 0 1 0 1 0 1 0 1 0 1 0 1 0 1 0 1 0 1 0 1 0 1 0 1 0 1 0 1 0 1 0 1 0 1 0 1 0 1 0 1 0 1 0 1 0 1 0 1 0 1 0 1 0 1 0 1 0 1 0 1 0 1 0 1 0 1 0 1 0 1 0 1 0 1 0 1 0 1 0 1 0 1 0 1 0 1 0 1 0 1 0 1 13 1-1 1-3 1-2 1 25 1 31 1-1 1-22 1-15 1 12 1 34 1 4 1-5 1 15 1 33 1-34 1 13 1 31 1-75 1 34 1 20 1 25 1-11 1 27 1-25 1 35 1-33 1 20 1 21 1-21 1 18 1 72 1 91 1 1 1-20 1-52 1 1 1-54 1 99 1 11 1 51 1-71 1 43 1 3 1 28 1-3 1-18 1-42 1 9 1 19 1 22 1 82 1-16 1-81 1-7 1 17 1-30 1 4 1 74 1-84 1 10 1-74 1 22 1 10 1 5 1 21 1-9 1 13 1 57 1-3 1 92 1 39 1 34 1-28 1 76 1 82 1-47 1-15 1-16 1 171 1 20 1 45 1-42 1-21 1-30 1-45 1 147 1-21 1-5 1-55 1 30 1 100 1-44 1-39 1 90 1 25 1 8 1-31 1 19 1-4 1 1 1 44 1 29 1-21 1-1 1 5 1-12 1-18 1 59 1 22 1-2 1-47 1 74 1-29 1 12 1-17 1-5 1 18 1 25 1 36 1-49 1-40 1 29 1 51 1-9 1 14 1 43 1 12 1 21 1-18 1 62 1 8 1 45 1 38 1-32 1 6 1 10 1 26 1-42 1 59 1 64 1-3 1 32 1 6 1 6 1 4 1 12 1 58 1 71 1 3 1 12 1-30 1 20 1-6 1-35 1-13 1-29 1 70 1 13 1 58 1 26 1 14 1 3 1-6 1 7 1-12 1-8 1 21 1 28 1 15 1 28 1-91 1 61 1-4 1 58 1 19 1 48 1 28 1-25 1 52 1-4 1 10 1 58 1-53 1 10 1-2 1 26 1 6 1-25 1 5 1-51 1-5 1 14 1 5 1 8 1 2 1-11 1-47 1 61 1 30 1-16 1-8 1-24 1 66 1-50 1 49 1-11 1-17 1-1 1 14 1 0 1 16 1-9 1-45 1 5 1 6 1 15 1-33 1 34 1-19 1 19 1 14 1-4 1 7 1 34 1-76 1 52 1-5 1-39 1 24 1-48 1-12 1 27 1 9 1 0 1 41 1-33 1-23 1-9 1-29 1 28 1-14 1 17 1 51 1 3 1-30 1-8 1 5 1 46 1 30 1 8 1-2 1-23 1 45 1 31 1-17 1 32 1 13 1-36 1 20 1-7 1 24 1-57 1-32 1 14 1-42 1 42 1-78 1-9 1 52 1 4 1-26 1-19 1 76 1-14 1-25 1 18 1-22 1 31 1-1 1-14 1-43 1-4 1-12 1 10 1-53 1 10 1-1 1 53 1 49 1-13 1 28 1 7 1 32 1-57 1 38 1 21 1 29 1-47 1 48 1-45 1 24 1-4 1 19 1 28 1-48 1 14 1-42 1 19 1-52 1 9 1 21 1-26 1-48 1 47 1-53 1 81 1 30 1-35 1 81 1-18 1 22 1-10 1 7 1-15 1 15 1 36 1-8 1-37 1 33 1-17 1-37 1-26 1 31 1-54 1 18 1 17 1-25 1-1 1-29 1 4 1-5 1 28 1-28 1 39 1 2 1 17 1 1 1-12 1-13 1 23 1 17 1-31 1 53 1-40 1-7 1 37 1-5 1 67 1-49 1-1 1 12 1-33 1 28 1 25 1 26 1-53 1 24 1 31 1-54 1 36 1-27 1-33 1-8 1 17 1 11 1 1 1 16 1-43 1 29 1-3 1-27 1 18 1-34 1 5 1 13 1-39 1 42 1 3 1 31 1-5 1-38 1-35 1 43 1-7 1 48 1-19 1-35 1 58 1-71 1 46 1-17 1-3 1 42 1-2 1 18 1-14 1-18 1 10 1 40 1-24 1-39 1 5 1 27 1-48 1-12 1-22 1 34 1-8 1-30 1-1 1-11 1-35 1 82 1-26 1 0 1 24 1-29 1 51 1-36 1 30 1-17 1 32 1 16 1-10 1-21 1 0 1-8 1 32 1-24 1-5 1-39 1-41 1 9 1-10 1-1 1 10 1 38 1-62 1 69 1 4 1 12 1 22 1-8 1 12 1 34 1-11 1-10 1-25 1 5 1 27 1-36 1 33 1-4 1 18 1-35 1 17 1 26 1-20 1-44 1 69 1-12 1 8 1 9 1-1 1-70 1 80 1-49 1 13 1-26 1-4 1 19 1 3 1 17 1-12 1 7 1-7 1 45 1-14 1-56 1-3 1 38 1-14 1 24 1-48 1 40 1-16 1-8 1 0 1 50 1-84 1 41 1-81 1 44 1-31 1 20 1-19 1 14 1-2 1 68 1-32 1 41 1-65 1-31 1 46 1-11 1 3 1-17 1-3 1-9 1 34 1 0 1-3 1-23 1 30 1 18 1-18 1-1 1 56 1-46 1-17 1 44 1-18 1 22 1-56 1 8 1-4 1-13 1-28 1 17 1-37 1 60 1 11 1 32 1-32 1-6 1 67 1-36 1-42 1 12 1 20 1-25 1 76 1-63 1-6 1 10 1 0 1-32 1 27 1 25 1 6 1-17 1 12 1-3 1-20 1 43 1-23 1-8 1 37 1 8 1-47 1 12 1 0 1-16 1 5 1-13 1-35 1 49 1 24 1-24 1 9 1 14 1 1 1 9 1 30 1-39 1-9 1 22 1 7 1-19 1-8 1 59 1-67 1 17 1-38 1 37 1-30 1-2 1-13 1 8 1 4 1-17 1-10 1 2 1 40 1-28 1 5 1 23 1-33 1 42 1-20 1-40 1 29 1-5 1 36 1 18 1-38 1 37 1-4 1-18 1 28 1-12 1 2 1-35 1 9 1-13 1 69 1-1 1-39 1 37 1-35 1 5 1 63 1-23 1-65 1-8 1 13 1 37 1-2 1-32 1 19 1-47 1-26 1 17 1 1 1 15 1 8 1 5 1 3 1-12 1 22 1-14 1 0 1-6 1-3 1 55 1 9 1-8 1-18 1 5 1 16 1 16 1-17 1-1 1-31 1 10 1-6 1-20 1 3 1-16 1 45 1-17 1 52 1 10 1 20 1-111 1 17 1 43 1-44 1-28 1 17 1-40 1-8 1 15 1-7 1-10 1 26 1-46 1 1 1 40 1-50 1 33 1-4 1 15 1-2 1 51 1-7 1 10 1 6 1 4 1 5 1 13 1-2 1-27 1 45 1-46 1-6 1 4 1 7 1-43 1 26 1-3 1 8 1-34 1 52 1 9 1-6 1-4 1-20 1-10 1 3 1 38 1-35 1 5 1 2 1-16 1 23 1 5 1 14 1-43 1 46 1-39 1 2 1-30 1 80 1-39 1 53 1 9 1-1 1-11 1 51 1-73 1 26 1-81 1 40 1-49 1 34 1 0 1-15 1-1 1 4 1 10 1 49 1-45 1-3 1 27 1 6 1-16 1-23 1 15 1 16 1 50 1-82 1 18 1 8 1 17 1-6 1-28 1 16 1-33 1 47 1 20 1-31 1-45 1 18 1-17 1-4 1 50 1-22 1-3 1 8 1 27 1-32 1 29 1 6 1-5 1-26 1-26 1 76 1-38 1-37 1 59 1 18 1-15 1 27 1 15 1-24 1 9 1-6 1 14 1 21 1-49 1 1 1 24 1-30 1 6 1-20 1 4 1-5 1-20 1-62 1 56 1-20 1-10 1-30 1 55 1-7 1 12 1-13 1 18 1-20 1 3 1 65 1-43 1-21 1 12 1 16 1-27 1-22 1 11 1-10 1 48 1-6 1-3 1 4 1 26 1 13 1-9 1 31 1 14 1-43 1-17 1-39 1 13 1-31 1-2 1-66 1 66 1 8 1 25 1 23 1 18 1-18 1 69 1-1 1-9 1-26 1-46 1 10 1 12 1-40 1-6 1 12"/>
<rect x="2019.10" y="113.00" width="553.20" height="246.30" fill="none" stroke="#d0d0d0" stroke-width="1.7"/>
<g class="tk">
<text transform="translate(2044.2 382.3) scale(1 1.12)" text-anchor="middle">0.0</text>
<text transform="translate(2144.4 382.3) scale(1 1.12)" text-anchor="middle">0.2</text>
<text transform="translate(2244.5 382.3) scale(1 1.12)" text-anchor="middle">0.4</text>
<text transform="translate(2344.6 382.3) scale(1 1.12)" text-anchor="middle">0.6</text>
<text transform="translate(2444.7 382.3) scale(1 1.12)" text-anchor="middle">0.8</text>
<text transform="translate(2544.9 382.3) scale(1 1.12)" text-anchor="middle">1.0</text>
<text transform="translate(2011.1 355.5) scale(1 1.12)" text-anchor="end">0.00</text>
<text transform="translate(2011.1 299.5) scale(1 1.12)" text-anchor="end">0.25</text>
<text transform="translate(2011.1 243.6) scale(1 1.12)" text-anchor="end">0.50</text>
<text transform="translate(2011.1 187.6) scale(1 1.12)" text-anchor="end">0.75</text>
<text transform="translate(2011.1 131.6) scale(1 1.12)" text-anchor="end">1.00</text>
<text transform="translate(2570.8 407.5) scale(1 1.12)" text-anchor="end" style="font-size:20.2px">1e7</text>
</g>
<text class="tt" x="2296.1" y="104.0" text-anchor="middle">corridor (super hard)</text>
</g>
<g>
<path d="M216.95 418.70V665.00M317.07 418.70V665.00M417.19 418.70V665.00M517.31 418.70V665.00M617.43 418.70V665.00M717.55 418.70V665.00M191.80 653.80H745.00M191.80 597.83H745.00M191.80 541.85H745.00M191.80 485.87H745.00M191.80 429.90H745.00" stroke="#d0d0d0" stroke-width="1.7" fill="none"/>
<path class="bd" fill="#db1d28" transform="translate(216.95 653.80) scale(1.5 -0.1)" d="M6 0 l1 5 1 13 1 13 1 33 1 94 1 185 1 125 1 175 1 112 1 245 1 124 1 186 1 169 1 79 1 111 1 45 1 61 1 49 1 47 1 56 1 65 1 53 1 31 1-35 1 54 1 70 1-32 1-20 1 43 1-5 1-11 1 59 1-22 1 27 1 14 1-3 1-20 1 15 1-7 1 10 1-12 1 19 1-4 1 2 1-10 1 8 1 4 1 1 1 5 1-3 1 4 1 1 1 0 1 0 1 0 1 1 1 0 1 1 1 0 1 0 1 2 1-1 1 0 1 0 1-2 1 2 1 2 1-3 1 2 1 0 1 0 1-3 1 3 1 0 1-1 1 0 1 6 1-5 1 0 1 0 1-1 1 3 1-3 1-1 1 1 1 1 1 3 1 4 1 0 1-6 1 5 1-5 1 0 1 0 1 1 1 1 1-2 1-3 1 3 1 0 1 1 1 0 1-2 1 1 1 2 1-3 1 0 1 1 1 0 1 6 1-5 1 0 1 0 1 0 1-1 1 1 1 5 1 0 1 0 1-6 1 0 1 1 1 0 1 0 1 0 1 3 1 2 1 0 1 0 1-1 1 0 1-2 1-1 1-1 1 5 1 0 1-2 1 2 1 0 1-3 1 3 1-5 1 2 1-2 1 0 1-3 1 2 1 1 1 0 1 1 1 0 1 4 1-5 1 0 1 5 1-4 1 4 1-4 1 4 1-4 1-2 1 2 1 3 1-3 1 0 1 0 1 0 1 0 1-1 1 1 1-1 1 0 1 1 1 0 1 0 1-1 1 1 1 0 1 0 1 0 1-2 1 2 1 0 1 0 1 4 1 0 1-4 1 0 1 4 1 0 1 0 1 0 1 0 1-3 1-1 1 4 1-3 1 0 1 0 1 3 1 0 1 0 1-3 1-1 1 0 1 1 1 0 1 0 1 3 1 0 1-3 1 0 1 0 1-1 1 1 1-1 1 4 1 0 1 0 1-2 1-1 1-2 1 2 1 2 1-2 1 0 1 0 1 0 1 0 1 0 1-1 1 1 1 0 1-1 1 1 1 3 1 0 1 0 1-2 1 2 1-4 1 1 1 0 1 1 1 0 1 2 1-2 1 0 1-1 1 0 1 3 1-2 1 2 1 0 1-2 1-1 1 1 1 0 1 2 1 0 1-1 1-1 1 2 1 0 1-1 1 1 1 0 1 0 1 0 1-2 1 1 1 1 1 0 1 0 1 0 1 0 1-1 1-1 1 0 1 0 1 2 1-1 1-2 1 1 1 2 1-2 1 1 1 1 1-1 1 1 1 0 1-2 1 0 1 1 1 0 1 1 1 0 1 0 1-1 1 0 1 1 1 0 1 0 1 0 1-1 1 0 1 1 1 0 1 0 1 0 1 0 1-1 1 0 1 1 1 0 1-1 1-1 1 1 1 0 1 1 1 0 1 0 1 0 1 0 1 0 1-1 1 0 1-1 0-24 -1 3 -1 0 -1 1 -1 0 -1 2 -1-1 -1-1 -1 1 -1-2 -1 0 -1 0 -1 2 -1 0 -1 2 -1-3 -1 0 -1 0 -1 0 -1 0 -1 2 -1-1 -1 1 -1-4 -1 3 -1-2 -1 1 -1-3 -1 2 -1 0 -1-2 -1 4 -1-4 -1 1 -1 0 -1 0 -1 0 -1-1 -1 2 -1 2 -1-2 -1-1 -1 0 -1 2 -1-1 -1-2 -1 4 -1 0 -1-3 -1 2 -1 2 -1-5 -1 2 -1 3 -1-3 -1 1 -1-1 -1-3 -1 4 -1-2 -1 1 -1-4 -1 4 -1-1 -1-3 -1 1 -1 0 -1 3 -1-3 -1 3 -1-2 -1-1 -1 1 -1 1 -1 2 -1 0 -1-3 -1 2 -1-1 -1-1 -1-2 -1 1 -1 0 -1-1 -1 0 -1 1 -1 0 -1 0 -1 1 -1-3 -1 2 -1-3 -1 1 -1 2 -1-1 -1-1 -1 1 -1 0 -1 0 -1 2 -1-2 -1-1 -1-1 -1 0 -1 1 -1 4 -1-4 -1 1 -1 0 -1-2 -1 2 -1-1 -1 1 -1-3 -1 3 -1 1 -1-1 -1-2 -1 2 -1-3 -1 6 -1-3 -1 3 -1-3 -1-1 -1 0 -1 1 -1-1 -1-1 -1-1 -1 7 -1-5 -1 2 -1-1 -1-1 -1 1 -1-1 -1 0 -1-3 -1 4 -1-4 -1 2 -1 2 -1-2 -1-3 -1 1 -1 1 -1 0 -1 0 -1 1 -1 1 -1-4 -1 1 -1 2 -1 1 -1 0 -1-1 -1-2 -1 1 -1 0 -1 1 -1 1 -1 3 -1-4 -1 0 -1 2 -1-4 -1 1 -1 2 -1-1 -1-2 -1 1 -1 0 -1-4 -1 5 -1-2 -1-3 -1 7 -1 0 -1 0 -1-5 -1-1 -1 1 -1 2 -1 0 -1-3 -1 2 -1-1 -1-2 -1 4 -1 2 -1-1 -1 2 -1-4 -1 4 -1-4 -1 5 -1-5 -1 1 -1-3 -1-2 -1 6 -1-8 -1 1 -1-1 -1 0 -1 4 -1-1 -1-2 -1 6 -1-1 -1-11 -1 10 -1-12 -1 6 -1-6 -1 5 -1-7 -1 9 -1-9 -1-1 -1 5 -1 2 -1-4 -1 1 -1-4 -1-4 -1 9 -1-12 -1 5 -1-5 -1 4 -1-4 -1 6 -1-2 -1 5 -1-5 -1 8 -1-7 -1 9 -1-5 -1 2 -1-17 -1 8 -1-7 -1-2 -1 0 -1-3 -1 1 -1-2 -1 11 -1 13 -1-13 -1-17 -1 0 -1 12 -1-12 -1 7 -1-25 -1-11 -1-1 -1-3 -1-6 -1 10 -1 1 -1-26 -1-6 -1 16 -1-40 -1-29 -1-15 -1 17 -1-176 -1-96 -1-195 -1-235 -1-59 -1-157 -1-19 -1-118 -1-65 -1-20 -1-35 -1-33 -1-50 -1-42 -1 89 -1-5 -1-20 -1-115 -1-49 -1-98 -1 3 -1-53 -1-55 -1-89 -1-49 -1-30 -1-73 -1-105 -1-2 -1-59 -1-36 -1-11 -1 0 -1 0 -1 0 -1 0 -1 0 -1 0 -1 0 -1 0 -1 0 -1 0 -1 0 -1 0 -1 0 -1 0 -1 0 -1 0 -1 0 -1 0 -1 0 -1 0 -1 0 -1 0 -1 0 -1 0 -1 0z"/>
<path class="bd" fill="#2ba02e" transform="translate(216.95 653.80) scale(1.5 -0.1)" d="M9 0 l1 6 1 35 1 23 1 26 1 34 1 34 1 71 1 50 1 48 1 80 1 5 1 28 1 10 1-4 1 85 1-40 1 70 1-17 1 93 1 14 1 49 1 37 1 47 1 28 1-4 1-22 1 28 1 70 1-22 1 91 1-10 1-39 1 91 1-41 1 71 1 24 1 5 1 49 1 13 1 37 1-29 1-7 1 36 1 48 1 22 1-2 1 46 1 1 1 24 1 85 1 21 1-25 1 87 1 31 1 32 1 8 1-11 1-1 1-13 1 40 1-34 1 76 1 18 1-12 1 25 1 41 1 1 1-8 1 16 1 18 1 6 1-28 1-51 1 97 1-27 1-9 1 54 1-6 1 14 1-24 1-29 1 6 1 6 1 36 1 64 1-8 1-49 1 8 1 45 1-8 1 9 1 35 1 42 1 32 1-2 1 46 1-34 1 29 1-51 1 7 1 75 1 1 1-13 1 18 1 42 1-13 1 22 1-42 1 18 1-6 1 46 1-1 1-20 1 40 1-26 1 34 1-43 1 37 1 44 1-35 1-7 1-26 1 52 1 30 1-61 1 11 1-26 1-17 1 59 1 5 1 30 1-8 1 18 1-25 1-4 1 20 1 5 1-11 1-58 1 15 1 58 1-61 1 9 1-14 1 61 1-29 1 6 1 17 1 17 1-21 1-3 1-5 1 26 1 3 1-25 1 17 1-16 1 14 1-46 1 24 1 21 1-1 1 12 1-35 1 29 1-33 1 21 1 29 1 3 1-8 1 9 1 5 1 3 1-10 1-4 1 4 1 19 1 2 1-19 1 1 1-8 1 15 1 0 1-37 1 31 1 2 1 0 1 2 1 9 1-12 1 22 1-1 1-8 1-8 1-2 1 13 1-6 1 4 1-12 1 9 1-5 1-2 1-3 1 2 1 8 1-11 1-13 1 17 1-9 1 23 1-6 1 3 1 2 1 1 1-6 1-18 1 11 1 15 1-9 1 11 1-2 1-12 1 6 1 12 1-23 1 14 1-7 1 6 1-11 1 11 1 1 1-12 1 4 1 3 1 14 1-6 1-11 1 7 1-6 1-3 1 4 1 6 1 3 1-4 1 5 1 1 1-4 1 3 1-3 1 5 1 5 1-8 1 4 1-3 1-3 1 2 1-5 1 10 1-4 1-3 1 1 1-5 1 6 1-3 1 8 1 11 1 6 1-31 1 13 1-5 1 34 1-29 1-15 1-1 1 19 1-13 1 14 1-10 1 4 1-1 1 6 1-14 1 1 1 4 1 10 1 2 1 1 1-7 1-8 1 10 1 3 1 3 1-3 1-2 1 1 1 2 1-1 1 28 1-27 1 0 1-2 1 0 1 2 1 3 1 0 1-2 1 1 1 25 1-24 1 0 1-2 1-7 1 1 1-1 1 8 1 16 1-17 1 2 1 1 1-6 1 2 1 20 1-9 1-8 1 1 0-62 -1 4 -1 6 -1 9 -1-5 -1-13 -1 4 -1-7 -1 11 -1-4 -1 2 -1-3 -1 6 -1-1 -1 1 -1-2 -1 9 -1-11 -1 10 -1 1 -1-11 -1 0 -1-2 -1-5 -1 1 -1 5 -1 18 -1-4 -1-6 -1 7 -1-5 -1-15 -1-3 -1 4 -1 1 -1 12 -1-16 -1 2 -1 21 -1 0 -1-14 -1-9 -1-6 -1 0 -1 12 -1-12 -1-4 -1 4 -1-5 -1 4 -1-1 -1-5 -1 6 -1 1 -1 19 -1-16 -1-5 -1-4 -1-8 -1 33 -1-31 -1 9 -1 2 -1 2 -1-6 -1 0 -1 6 -1 10 -1-16 -1 1 -1 0 -1-7 -1 16 -1-13 -1 10 -1-15 -1 15 -1-5 -1-9 -1 21 -1-9 -1-12 -1-5 -1 1 -1 11 -1-11 -1-5 -1 12 -1-13 -1 0 -1-19 -1 4 -1-2 -1-2 -1 9 -1-16 -1 6 -1-6 -1 28 -1-4 -1-6 -1 27 -1-38 -1-5 -1-8 -1-6 -1 9 -1 12 -1-8 -1 0 -1-3 -1 0 -1-17 -1-2 -1-5 -1-1 -1-2 -1 0 -1 2 -1 5 -1 3 -1 12 -1-2 -1-23 -1 0 -1 3 -1 6 -1-4 -1 1 -1-12 -1-16 -1 3 -1-13 -1-5 -1 42 -1-21 -1 15 -1-25 -1 10 -1-26 -1 34 -1-26 -1-23 -1 13 -1 20 -1-29 -1-16 -1 28 -1-43 -1-8 -1-19 -1 43 -1 2 -1-22 -1 1 -1-37 -1 31 -1 10 -1-27 -1 24 -1-14 -1 19 -1 14 -1-64 -1-10 -1 36 -1-48 -1 29 -1-39 -1 46 -1-11 -1 47 -1-70 -1-9 -1 56 -1-29 -1 6 -1 13 -1 23 -1-55 -1-15 -1-53 -1 43 -1-44 -1 18 -1-12 -1 11 -1-37 -1 56 -1 29 -1-72 -1 43 -1-27 -1-29 -1 17 -1-42 -1 20 -1 8 -1-33 -1-38 -1-15 -1 22 -1 23 -1-90 -1 0 -1 20 -1 2 -1-113 -1 69 -1-122 -1 9 -1-34 -1-58 -1 81 -1-23 -1-25 -1-62 -1-39 -1 50 -1-57 -1 26 -1-77 -1-9 -1-25 -1-65 -1 61 -1 22 -1-93 -1-19 -1-34 -1 62 -1-85 -1-1 -1-10 -1 26 -1-29 -1-16 -1-9 -1 62 -1 1 -1-81 -1 24 -1-37 -1-5 -1-49 -1 88 -1-40 -1-36 -1-37 -1-29 -1 12 -1-36 -1-12 -1-64 -1-60 -1 32 -1-91 -1 34 -1-79 -1 28 -1 34 -1-87 -1 82 -1 9 -1-17 -1-12 -1 6 -1-98 -1 92 -1-74 -1-13 -1-114 -1 39 -1-41 -1 79 -1-99 -1-21 -1 40 -1-50 -1 29 -1-50 -1 94 -1-44 -1-15 -1-16 -1-89 -1 82 -1 7 -1-103 -1 8 -1-41 -1-48 -1 4 -1 59 -1-104 -1-64 -1-23 -1 2 -1 4 -1-33 -1-1 -1-42 -1-33 -1-32 -1-34 -1 0 -1 0 -1 0 -1 0 -1 0 -1 0 -1 0 -1 0 -1 0 -1 0 -1 0 -1 0 -1 0 -1 0 -1 0 -1 0 -1 0 -1 0 -1 0 -1 0 -1 0z"/>
<path class="bd" fill="#1576b3" transform="translate(216.95 653.80) scale(1.5 -0.1)" d="M24 3 l1 6 1 13 1-4 1 7 1 4 1 9 1-5 1 10 1 4 1 13 1-14 1 4 1 4 1 4 1 2 1 6 1 40 1-6 1 7 1 12 1 15 1 26 1 15 1 42 1 89 1 63 1 10 1 113 1 89 1 191 1 65 1 44 1 119 1-45 1 103 1 10 1 77 1-10 1 35 1 45 1 83 1 77 1 165 1 89 1 79 1 72 1 82 1 3 1 94 1-5 1 54 1-3 1 65 1-47 1 55 1 45 1 4 1 32 1-31 1 57 1-9 1-29 1 6 1 17 1-42 1 8 1 3 1 18 1-28 1-5 1 39 1 22 1-51 1 36 1-36 1-5 1 22 1 22 1-21 1-24 1 12 1 15 1 28 1-5 1-13 1-10 1-5 1 1 1 5 1 12 1-16 1 38 1-38 1 41 1-7 1 12 1-11 1-3 1 16 1 4 1 1 1 9 1-9 1 14 1 6 1-6 1 4 1 2 1 0 1 1 1 0 1 1 1 1 1 0 1 0 1 0 1 0 1 1 1-2 1 1 1 0 1-1 1 1 1-5 1 4 1 1 1 0 1 0 1 0 1 0 1-4 1 2 1-2 1 1 1 2 1 0 1 0 1-2 1 0 1 1 1 0 1 2 1-2 1 0 1 0 1 2 1 1 1 0 1 0 1 0 1-2 1 0 1-1 1 1 1 0 1-1 1 2 1-1 1 1 1 2 1-4 1 3 1-1 1 0 1 2 1-3 1 1 1 1 1 0 1-3 1 1 1 2 1 0 1-1 1 1 1-2 1 2 1 0 1-1 1 0 1 1 1 9 1-8 1-2 1 1 1 1 1 0 1 0 1-1 1 1 1 0 1 0 1 0 1 0 1-1 1 2 1-2 1 0 1 2 1-2 1 1 1-3 1 1 1 2 1 0 1-3 1-1 1 2 1 0 1-2 1 0 1 3 1-2 1 3 1 0 1-2 1 3 1-1 1 0 1 7 1-7 1 0 1-1 1 1 1 0 1 0 1 0 1 0 1 0 1 0 1 0 1 1 1-2 1 2 1 0 1 0 1-2 1 2 1-1 1 2 1-2 1-1 1 1 1 1 1-2 1 1 1-2 1 1 1 1 1 2 1-1 1 0 1 0 1 0 1 0 1-2 1-3 1 4 1 1 1 0 1-4 1 1 1 2 1 1 1 0 1 0 1-1 1 0 1 1 1 0 1 0 1-1 1 1 1-1 1 1 1 0 1-2 1 2 1-1 1 1 1 4 1-4 1 1 1-1 1 0 1 0 1 1 1 0 1 0 1 0 1-1 1 1 1 0 1 1 1-1 1 1 1-1 1-3 1 2 1 2 1-2 1 1 1-1 1 1 1 0 1 0 1 0 1 1 1 3 1-4 0-35 -1 0 -1-2 -1 8 -1 2 -1-4 -1-6 -1 4 -1 0 -1-2 -1-2 -1 1 -1-1 -1 5 -1-2 -1-2 -1 0 -1 3 -1 3 -1-8 -1 4 -1-2 -1-3 -1 3 -1 0 -1 0 -1-1 -1 2 -1-1 -1 6 -1-4 -1-1 -1-1 -1-1 -1 6 -1-9 -1 4 -1 0 -1-3 -1 2 -1 1 -1-1 -1 1 -1-2 -1 4 -1 0 -1-2 -1-2 -1 0 -1 1 -1 0 -1-1 -1 4 -1-4 -1 0 -1-3 -1 3 -1 6 -1-3 -1-2 -1-1 -1 1 -1 0 -1 1 -1-2 -1 2 -1 1 -1-2 -1-1 -1 0 -1 1 -1 3 -1-4 -1 2 -1-3 -1 5 -1-3 -1-1 -1 2 -1-2 -1 1 -1 0 -1 1 -1 3 -1-5 -1-2 -1 0 -1 1 -1 6 -1-2 -1 4 -1-7 -1 2 -1-1 -1 2 -1 5 -1-8 -1 0 -1 0 -1 2 -1-1 -1 3 -1-3 -1-2 -1 2 -1 5 -1-3 -1-18 -1 16 -1 2 -1 2 -1-8 -1 3 -1-1 -1 3 -1 1 -1-2 -1 1 -1 2 -1 1 -1-4 -1-1 -1 1 -1 0 -1 0 -1 6 -1-7 -1 2 -1 7 -1-4 -1-4 -1-2 -1 0 -1-1 -1 3 -1 0 -1-2 -1-1 -1 3 -1-1 -1 2 -1 0 -1-1 -1 3 -1-6 -1 5 -1-3 -1 1 -1-1 -1 0 -1 2 -1-2 -1 3 -1-2 -1-1 -1 1 -1 0 -1-1 -1 2 -1-1 -1 1 -1 2 -1-5 -1 3 -1-2 -1 1 -1-2 -1 1 -1 4 -1-4 -1-1 -1-1 -1 2 -1-3 -1 0 -1-2 -1 0 -1-1 -1 0 -1 0 -1 6 -1-5 -1 3 -1 1 -1-7 -1 1 -1-5 -1 4 -1-2 -1-7 -1 3 -1-2 -1 1 -1-7 -1 0 -1 0 -1 6 -1 0 -1-1 -1-1 -1-3 -1-6 -1-15 -1-9 -1-1 -1-15 -1-4 -1-16 -1 4 -1-22 -1-11 -1-12 -1-9 -1-4 -1-2 -1-39 -1-21 -1-32 -1-1 -1-24 -1-67 -1-94 -1-69 -1-317 -1-255 -1-291 -1-82 -1-186 -1 32 -1-128 -1-30 -1-17 -1 10 -1-6 -1-122 -1 4 -1 74 -1-96 -1-24 -1-4 -1-77 -1-18 -1 51 -1-78 -1 108 -1-23 -1 18 -1-99 -1-41 -1 25 -1-48 -1 54 -1-31 -1-28 -1 24 -1 5 -1-43 -1 31 -1-13 -1 1 -1-34 -1 5 -1 5 -1-32 -1 23 -1-26 -1 14 -1-9 -1 1 -1-2 -1 12 -1-10 -1 5 -1-17 -1 1 -1 2 -1 0 -1-5 -1-10 -1 2 -1-4 -1-1 -1-1 -1 0 -1-3 -1 0 -1 0 -1 0 -1 0 -1 0 -1 0 -1 0 -1 0 -1 0 -1 0 -1 0 -1 0 -1 0 -1 0 -1 0 -1 0 -1 0 -1 0 -1 0 -1 0 -1 0 -1 0 -1 0 -1 0 -1 0 -1 0z"/>
<path class="bd" fill="#fd7c1a" transform="translate(216.95 653.80) scale(1.5 -0.1)" d="M34 2 l1 2 1 3 1 3 1 2 1 3 1 3 1 2 1 2 1 3 1 3 1 2 1 3 1 3 1 2 1 3 1 3 1 2 1 4 1 2 1 4 1 4 1-1 1 3 1 3 1-1 1 4 1-1 1 3 1 11 1 4 1 2 1 0 1-9 1 14 1 4 1-7 1 10 1 0 1 3 1 13 1 13 1-17 1 4 1-30 1 10 1-9 1 40 1-10 1 17 1-36 1 16 1 20 1 24 1-7 1-2 1 13 1-1 1 28 1 39 1 11 1-16 1 57 1 25 1 19 1 12 1 41 1 4 1-10 1 20 1-4 1 26 1 11 1 55 1 10 1 0 1 5 1 54 1 13 1-3 1 76 1-40 1 29 1 63 1 25 1 39 1-32 1 54 1-16 1 13 1 12 1-25 1 62 1-19 1-26 1 21 1-2 1-27 1 18 1 26 1 69 1-8 1-14 1 86 1 37 1 11 1 66 1 9 1 47 1 67 1-2 1 29 1 37 1 57 1 14 1 27 1-7 1 59 1-40 1 38 1-76 1-1 1-13 1 23 1 40 1-12 1 34 1 61 1 24 1-23 1 72 1-13 1 70 1 5 1 37 1-9 1 34 1 49 1 10 1-21 1 36 1-12 1 40 1 32 1 8 1 20 1 1 1 1 1 10 1-7 1 10 1-2 1 38 1 5 1-41 1 11 1 16 1 23 1-7 1 49 1-51 1 58 1-58 1 31 1 25 1-26 1 62 1-15 1 32 1-11 1 10 1-29 1 20 1-46 1 28 1-9 1 49 1-6 1-16 1-32 1 79 1-21 1-6 1-25 1 67 1-45 1 3 1 19 1-32 1 11 1 28 1 1 1-17 1 53 1-50 1 19 1 14 1 34 1-60 1 39 1 1 1-37 1 54 1-42 1 26 1 3 1 4 1 15 1-9 1 2 1-2 1 32 1-17 1 24 1-9 1-37 1 23 1-5 1-5 1 19 1-2 1-11 1 18 1-6 1-28 1 16 1-34 1 28 1-8 1-55 1 17 1 48 1-26 1 11 1-6 1 28 1-21 1 42 1-3 1 1 1 0 1 0 1-1 1 23 1 39 1-21 1-25 1-1 1-4 1 16 1 9 1 2 1-16 1-14 1 25 1 24 1-26 1 3 1-5 1-1 1 11 1-22 1-8 1 27 1 31 1-32 1-16 1 8 1 5 1 8 1-2 1 18 1 13 1-26 1 6 1-6 1-23 1 23 1-3 1-9 1-8 1 3 1 3 1 0 1 21 1-16 1 0 1 8 1-4 1 9 1 0 1 59 1-60 1 26 1-16 1-9 1-2 1 4 1-11 1 13 1-4 0-111 -1 32 -1 12 -1-10 -1 9 -1 7 -1-29 -1 6 -1 28 -1 4 -1-29 -1-6 -1 6 -1 15 -1-21 -1 11 -1-21 -1-11 -1 24 -1-7 -1 2 -1-7 -1 14 -1 13 -1-21 -1-1 -1 11 -1-6 -1 31 -1-20 -1-27 -1 1 -1 8 -1 6 -1-13 -1-6 -1-6 -1 16 -1-4 -1-32 -1 43 -1-7 -1-2 -1 10 -1 11 -1-15 -1 8 -1-16 -1 11 -1-15 -1-45 -1 43 -1-1 -1-5 -1 11 -1 26 -1-25 -1 0 -1-28 -1-7 -1-32 -1 16 -1-35 -1-11 -1-7 -1-14 -1-33 -1-24 -1-36 -1-21 -1 18 -1-3 -1-9 -1 10 -1 17 -1 4 -1 12 -1 67 -1-38 -1 27 -1 42 -1 9 -1-59 -1 64 -1 10 -1-95 -1-31 -1-3 -1 11 -1-22 -1 29 -1-4 -1 22 -1-73 -1-5 -1 23 -1-40 -1 22 -1-4 -1-32 -1-1 -1 8 -1-3 -1 4 -1 22 -1-60 -1-17 -1-22 -1-12 -1 11 -1-80 -1 4 -1-71 -1 14 -1-40 -1-70 -1-3 -1-70 -1 27 -1 53 -1 23 -1-97 -1 18 -1-86 -1-50 -1-7 -1 11 -1-45 -1-1 -1 10 -1-73 -1 35 -1-33 -1-3 -1-33 -1 77 -1-63 -1-23 -1-41 -1 17 -1-28 -1 31 -1 0 -1-28 -1-48 -1 17 -1-60 -1 57 -1-34 -1-38 -1-1 -1-21 -1-6 -1-65 -1 7 -1-107 -1 76 -1-20 -1 10 -1-25 -1-12 -1 30 -1 29 -1-22 -1-70 -1 20 -1-72 -1-7 -1-8 -1 3 -1 23 -1-93 -1 52 -1-53 -1-20 -1 10 -1 78 -1-18 -1 37 -1-51 -1 43 -1-80 -1 6 -1 9 -1 28 -1 18 -1-35 -1-20 -1-34 -1 8 -1-11 -1-25 -1 15 -1-69 -1 33 -1-69 -1-26 -1 80 -1-55 -1 40 -1 37 -1-24 -1-7 -1-44 -1 10 -1 15 -1-25 -1-30 -1 16 -1-52 -1-3 -1-41 -1 84 -1-55 -1 26 -1-81 -1 13 -1 23 -1-31 -1-5 -1 12 -1-15 -1-2 -1 13 -1-30 -1-4 -1 6 -1-22 -1-11 -1 20 -1-33 -1 2 -1-17 -1-14 -1-3 -1-2 -1-12 -1-29 -1-28 -1-40 -1 6 -1-21 -1-17 -1-28 -1-6 -1-7 -1-19 -1 3 -1-2 -1-5 -1-10 -1 5 -1-2 -1-4 -1-12 -1 10 -1-27 -1 21 -1 1 -1-5 -1-4 -1-5 -1-3 -1-4 -1-3 -1-2 -1-3 -1-3 -1-1 -1 0 -1 0 -1 0 -1 0 -1 0 -1 0 -1 0 -1 0 -1 0 -1 0 -1 0 -1 0 -1 0 -1 0 -1 0 -1 0 -1 0 -1 0 -1 0 -1 0 -1 0 -1 0 -1 0 -1 0 -1 0 -1 0 -1 0 -1 0 -1 0 -1 0 -1 0 -1 0z"/>
<path class="ln" stroke="#db1d28" transform="translate(216.95 653.80) scale(0.5 -0.1)" d="M0 0 l1 0 1 0 1 0 1 0 1 0 1 0 1 0 1 0 1 0 1 0 1 0 1 0 1 0 1 0 1 0 1 0 1 0 1 0 1 0 1 1 1 4 1 0 1 2 1 3 1 6 1 4 1 10 1 9 1 16 1 9 1 23 1-13 1 5 1 11 1 14 1 22 1-12 1-2 1-1 1 62 1-5 1 29 1-5 1 60 1-1 1 20 1-40 1 12 1 27 1 12 1 6 1 42 1 53 1 17 1-45 1 32 1 53 1 126 1 77 1 34 1-27 1-54 1 49 1 2 1 17 1 59 1 48 1 83 1-28 1 75 1 93 1 36 1 25 1 53 1 57 1 36 1 20 1-54 1 26 1 29 1 146 1-8 1 44 1 35 1-32 1 71 1 57 1 29 1 37 1-56 1 20 1-21 1 31 1 62 1 78 1-44 1 56 1-13 1 3 1 90 1 35 1 37 1 42 1 21 1 9 1-43 1 34 1-25 1 50 1 6 1 20 1 10 1-3 1 16 1 0 1 22 1 25 1 25 1-7 1-3 1 26 1-6 1 9 1-12 1-6 1 13 1 3 1 4 1 4 1 14 1-19 1 12 1 0 1 25 1-22 1 0 1 19 1 3 1-2 1-10 1-21 1 21 1-11 1 18 1-6 1 37 1 0 1 1 1-11 1 13 1-38 1-6 1-7 1 9 1-2 1 13 1 26 1-9 1 46 1-12 1 2 1-7 1-23 1-17 1 2 1 5 1 8 1 5 1 0 1-10 1 17 1 0 1 6 1-5 1 17 1-5 1-14 1 0 1 18 1 4 1-22 1 31 1-14 1 20 1-7 1 22 1-6 1 8 1-15 1-6 1-11 1 2 1-18 1-2 1 6 1 3 1 0 1 5 1 20 1 4 1-13 1-8 1 6 1 15 1-5 1 6 1-11 1-18 1 21 1-2 1-13 1 1 1 2 1-1 1-6 1-5 1 14 1-18 1 7 1 19 1-11 1-3 1 14 1-5 1 5 1-14 1 7 1 4 1-1 1-5 1 13 1-25 1 5 1 2 1 17 1-6 1 5 1-9 1 4 1-4 1 18 1-12 1 14 1 12 1-6 1-12 1 19 1 1 1 2 1 2 1-7 1-17 1 6 1-15 1 21 1-11 1-11 1 11 1-11 1 3 1 0 1 13 1-12 1 1 1 8 1 7 1-15 1 9 1-3 1-16 1 13 1 8 1-11 1-17 1 16 1 7 1 13 1 7 1-1 1-4 1 8 1 0 1 0 1 0 1 0 1 0 1 0 1-7 1-2 1-1 1 9 1-18 1 3 1-5 1-3 1 8 1 0 1-13 1 12 1 9 1-5 1-9 1 8 1 10 1-11 1 11 1-2 1 1 1-11 1 16 1-12 1-29 1 22 1-7 1 0 1-1 1 8 1 9 1 1 1 4 1 0 1-9 1-9 1 11 1 0 1-2 1-11 1 7 1 9 1-2 1-7 1 6 1 8 1-7 1-7 1-1 1 3 1-4 1 3 1-5 1 3 1 1 1 6 1 6 1-4 1 10 1-7 1 7 1-3 1-5 1-1 1-2 1 8 1-3 1-1 1 5 1-10 1 12 1-19 1 5 1 2 1-10 1 2 1 9 1 11 1-5 1 5 1 0 1 0 1 0 1 0 1 0 1-5 1 5 1 0 1-1 1-5 1-2 1 6 1-22 1 8 1 12 1 4 1-17 1-6 1 7 1-4 1 13 1-19 1 12 1-1 1-7 1 14 1 5 1 3 1-2 1 1 1 1 1 0 1 0 1 0 1 0 1 0 1 0 1 0 1 0 1 0 1-1 1-4 1-6 1 10 1 1 1 0 1-3 1 3 1-10 1 6 1 4 1 0 1-5 1 3 1 2 1 0 1-8 1 0 1 8 1-13 1 7 1 4 1 2 1-6 1 6 1 0 1-3 1 3 1-1 1 1 1-3 1-6 1 6 1 3 1-13 1-5 1 8 1 10 1-8 1 5 1 3 1-3 1-16 1 12 1 7 1-10 1-13 1 4 1-12 1 4 1-2 1-4 1 15 1-16 1 11 1 3 1 11 1-3 1 9 1 3 1-5 1 0 1-10 1 1 1 7 1 7 1 0 1-1 1-13 1 2 1 12 1 0 1-9 1 1 1-1 1 9 1-3 1 3 1-13 1 13 1 0 1 0 1-10 1 9 1-8 1 9 1-12 1 12 1 0 1 0 1-4 1-13 1-3 1 0 1 13 1 6 1-3 1-16 1 10 1 9 1-19 1-4 1 6 1-6 1 1 1 6 1 5 1 12 1-7 1 2 1-4 1 4 1-4 1-6 1-6 1-3 1-5 1 8 1 1 1 10 1-9 1-2 1 13 1-8 1 14 1-7 1-2 1 6 1-2 1 1 1-2 1-6 1 2 1 5 1-21 1 11 1-10 1 7 1-7 1 4 1 23 1-9 1 6 1-15 1 10 1-7 1-7 1 12 1-29 1 32 1-16 1 11 1 10 1-22 1 24 1-9 1 2 1-15 1 10 1 8 1-9 1 6 1 1 1 6 1 0 1 0 1 0 1-1 1 1 1-12 1-1 1 2 1 8 1-4 1-11 1 3 1 14 1 1 1 0 1 0 1 0 1 0 1 0 1 0 1 0 1 0 1 0 1 0 1 0 1 0 1-8 1-5 1-4 1-5 1 7 1-1 1 13 1-3 1 6 1 0 1-1 1-4 1 3 1 2 1-3 1 1 1 2 1-13 1 13 1-9 1 9 1 0 1 0 1 0 1 0 1 0 1 0 1 0 1-3 1-4 1-5 1-5 1 5 1-2 1-2 1 1 1 4 1-2 1 7 1-11 1 14 1-10 1 13 1-4 1 1 1 3 1-4 1 4 1 0 1 0 1 0 1 0 1 0 1-8 1-2 1 8 1-16 1-4 1 6 1 11 1-4 1-4 1-2 1-3 1 6 1 7 1-17 1 16 1-12 1 17 1-11 1 12 1-1 1 1 1 0 1-6 1 5 1 1 1 0 1 0 1-2 1-10 1-11 1 9 1-3 1-8 1 2 1 18 1-15 1 17 1-12 1 2 1 12 1-10 1 3 1-2 1-9 1 6 1-3 1-3 1 6 1 2 1-6 1 5 1-3 1 11 1-1 1-4 1 3 1-15 1 6 1-1 1-3 1-3 1-2 1 13 1-5 1 1 1 2 1-9 1 3 1 11 1-11 1 3 1 4 1-8 1 10 1 10 1 0 1 0 1 0 1 0 1 0 1 0 1 0 1 0 1-5 1-7 1-9 1 9 1 12 1-8 1-11 1-1 1 2 1 1 1 1 1-15 1 8 1 11 1-21 1 16 1 2 1 0 1 12 1-3 1-4 1 9 1 1 1-12 1-2 1 6 1-3 1-11 1 5 1-2 1 5 1 2 1 7 1 5 1-11 1 11 1 0 1 0 1-7 1 2 1-5 1 9 1 0 1 1 1-1 1 1 1 0 1-7 1-6 1-1 1 7 1 7 1-15 1 4 1-4 1 8 1-15 1 17 1 0 1-9 1 4 1 10 1 0 1 0 1 0 1-11 1 6 1 4 1 0 1 1 1-5 1 5 1 0 1 0 1 0 1 0 1 0 1 0 1 0 1-3 1 3 1-3 1 3 1 0 1 0 1 0 1 0 1 0 1 0 1 0 1 0 1 0 1 0 1-2 1-2 1-1 1 5 1-1 1 1 1 0 1 0 1 0 1-1 1 1 1 0 1-2 1 2 1-2 1 2 1 0 1 0 1-8 1 8 1-9 1 9 1-2 1-10 1 6 1 0 1 4 1-9 1 3 1-1 1 5 1-14 1 18 1-10 1 10 1 0 1-5 1-2 1-6 1 12 1-24 1 15 1-12 1 12 1-7 1 1 1 16 1-8 1-2 1-9 1 14 1 0 1-11 1 8 1 7 1 1 1 0 1-13 1 9 1-2 1 6 1 0 1 0 1 0 1 0 1 0 1 0 1-14 1 14 1-8 1-4 1 3 1-12 1 10 1-14 1 15 1 6 1 4 1 0 1 0 1 0 1 0 1 0 1-7 1 1 1 6 1-7 1 0 1-4 1 11 1 0 1-10 1 7 1-1 1 4 1 0 1 0 1 0 1 0 1 0 1 0 1 0 1 0 1 0 1 0 1 0 1-6 1 6 1 0 1-3 1 1 1-14 1 16 1 0 1 0 1 0 1-7 1 7 1-4 1 4 1 0 1 0 1 0 1-17 1 1 1 1 1-2 1 0 1-10 1 11 1-1 1 17 1-13 1 8 1 0 1 5 1-2 1-4 1 5 1-6 1 5 1-6 1-13 1 2 1 11 1-14 1 6 1-1 1-5 1 17 1-2 1 6 1-7 1-3 1 11 1 0 1 0 1-6 1 5 1-15 1 16 1-22 1 22 1-3 1 1 1-6 1-9 1 12 1-8 1 3 1-8 1 0 1-2 1 4 1-1 1-9 1-5"/>
<path class="ln" stroke="#2ba02e" transform="translate(216.95 653.80) scale(0.5 -0.1)" d="M0 0 l1 0 1 0 1 0 1 0 1 0 1 0 1 0 1 0 1 0 1 0 1 0 1 0 1 0 1 0 1 0 1 0 1 0 1 0 1 0 1 0 1 0 1 0 1 0 1 0 1 0 1 0 1 0 1 0 1 0 1 6 1 10 1-3 1-7 1-1 1-4 1 14 1 22 1-3 1 0 1-30 1 69 1-24 1 53 1-5 1-50 1 7 1-16 1 88 1 58 1 25 1-60 1 50 1-17 1 16 1 10 1-13 1 20 1 12 1-16 1 24 1 27 1-19 1-5 1-29 1-6 1-21 1 32 1-12 1 33 1 71 1 11 1-18 1-20 1-24 1 2 1 28 1 38 1-50 1 47 1-15 1 52 1-20 1-32 1 21 1-16 1 45 1-32 1 34 1 52 1-24 1 45 1 25 1-33 1-5 1 29 1 60 1-24 1-47 1 41 1-25 1 8 1-5 1 29 1-27 1 38 1 24 1 22 1-57 1 51 1 48 1 6 1-51 1 44 1 9 1-1 1 46 1-93 1 15 1 18 1 70 1 62 1 5 1-40 1-33 1 30 1 38 1-24 1 86 1-69 1 11 1-19 1 43 1-29 1 24 1-6 1-24 1-30 1 79 1 48 1-16 1-2 1-8 1 6 1 12 1 2 1-30 1 0 1-8 1 26 1-47 1 46 1 4 1 19 1 59 1-83 1 61 1 25 1-28 1 48 1 6 1 10 1 40 1-19 1-24 1 13 1-6 1-12 1 60 1-30 1 29 1 12 1 39 1 5 1-22 1 17 1-56 1 32 1 40 1-80 1-5 1-25 1-35 1 50 1-52 1-35 1 153 1-11 1 31 1 26 1 12 1 29 1 11 1 45 1 2 1 8 1-44 1 58 1 32 1-77 1 9 1-63 1 69 1 10 1-32 1-35 1-17 1 78 1 51 1 101 1 22 1-11 1-65 1 19 1 40 1-27 1-20 1 23 1 23 1 71 1-20 1 9 1-16 1-2 1 5 1 9 1-3 1 28 1-9 1-4 1 9 1-3 1 16 1 53 1-39 1-5 1-20 1 17 1 46 1-48 1 66 1 29 1-47 1-8 1 26 1 23 1-27 1 9 1-5 1-27 1 10 1 15 1-22 1-31 1 20 1 2 1-51 1 32 1 4 1-72 1 73 1 5 1 43 1-81 1 66 1-26 1 46 1 67 1 27 1-32 1 40 1-24 1 8 1-5 1 27 1 5 1 17 1-2 1-55 1 61 1-49 1-18 1-10 1-29 1 70 1-24 1-10 1-13 1-14 1 3 1 6 1 36 1-12 1 61 1-41 1 36 1 7 1 72 1-3 1-44 1-8 1-15 1-36 1 28 1 13 1 17 1-37 1 107 1-44 1 38 1-19 1-3 1 2 1 35 1 57 1-107 1 103 1-19 1 38 1 15 1 41 1-69 1 39 1-15 1 4 1 28 1-44 1 0 1-35 1-31 1-11 1 16 1 26 1-27 1 11 1-18 1 51 1 38 1-16 1-21 1-60 1-18 1-21 1-12 1-25 1 23 1-15 1 5 1 32 1 8 1 55 1 72 1-50 1 8 1 23 1 78 1 7 1 75 1 19 1-28 1 18 1 29 1-72 1-2 1 48 1-28 1-48 1 27 1 25 1-14 1-35 1 19 1 14 1-59 1 25 1 20 1 0 1 50 1-57 1-32 1 64 1-14 1 7 1 20 1-11 1-16 1 20 1-33 1 20 1-50 1 62 1-31 1 12 1-13 1 56 1-1 1 22 1-41 1 4 1 55 1-17 1 11 1-38 1-17 1 11 1 6 1-40 1 20 1-29 1 35 1 4 1-6 1-36 1 74 1 54 1-65 1 29 1-16 1-8 1 24 1-15 1 22 1-8 1 4 1 9 1 36 1-12 1 9 1-39 1 26 1-15 1 100 1-33 1 7 1-30 1 24 1-23 1 3 1-75 1-12 1 41 1-45 1 37 1-36 1 11 1-43 1 38 1 9 1-51 1 67 1-17 1-48 1 12 1 70 1 13 1-6 1-18 1 45 1-40 1-5 1-8 1 18 1-5 1 38 1-12 1-3 1-18 1 29 1 12 1-71 1 59 1-2 1-16 1 11 1 20 1-5 1 32 1 14 1 1 1 0 1 0 1-23 1-43 1 36 1-35 1 38 1 48 1-4 1 22 1-26 1-23 1 85 1-104 1 23 1-12 1-12 1 27 1-14 1-3 1-1 1-39 1 25 1 22 1-11 1-48 1 32 1 14 1 3 1 24 1 26 1-19 1-12 1-10 1 40 1-42 1-9 1-1 1 3 1 30 1-29 1 6 1 6 1 3 1-56 1-7 1-5 1 21 1 5 1 38 1 33 1-5 1 31 1-13 1-50 1-6 1 13 1 0 1 58 1-67 1 19 1 27 1 32 1 27 1-56 1 2 1 29 1-28 1-11 1-10 1 40 1-48 1 20 1 12 1-71 1 40 1-25 1-37 1-4 1 48 1 9 1-4 1-17 1 13 1-1 1 38 1-7 1 13 1-44 1 17 1 15 1 2 1-3 1-31 1-4 1-48 1 60 1-10 1-25 1 29 1-38 1 27 1-25 1 63 1-47 1 57 1-21 1 56 1-50 1-26 1-3 1 60 1-25 1 10 1-33 1 7 1-7 1 6 1-2 1 0 1-39 1 47 1 14 1-32 1 23 1 12 1-39 1 24 1 24 1-35 1 2 1 37 1-11 1 4 1-4 1-11 1 14 1 13 1 13 1 5 1 21 1-15 1 12 1 18 1-17 1-20 1 22 1-34 1 25 1-41 1 9 1 28 1 7 1-20 1 13 1-42 1-20 1 19 1 3 1 13 1 6 1-2 1-17 1 9 1-11 1-1 1-6 1 10 1-70 1 29 1 22 1-52 1 35 1-18 1-9 1 20 1 18 1 11 1 8 1-4 1-22 1 55 1-27 1 24 1 13 1-36 1 39 1-14 1 30 1-10 1-19 1 38 1-43 1-26 1 16 1 9 1-24 1 22 1 32 1-64 1 14 1 8 1-1 1 14 1 29 1-10 1 10 1-5 1-13 1-27 1 23 1 19 1 0 1-28 1 14 1 16 1-29 1 27 1 21 1 26 1-15 1-20 1 11 1-56 1 30 1-33 1 21 1-5 1 60 1-41 1-17 1 55 1-25 1-14 1-30 1-8 1 6 1 32 1 13 1-34 1-26 1 52 1-13 1-2 1-6 1 27 1-58 1 37 1 19 1-13 1-9 1-35 1 22 1 60 1-21 1-18 1-10 1 2 1-2 1-9 1 31 1 7 1-15 1 15 1-30 1 15 1-21 1 3 1-13 1 27 1-33 1 32 1-21 1 35 1-42 1-1 1 3 1 7 1 9 1 26 1-33 1 7 1 19 1 21 1 9 1-14 1-10 1-25 1 18 1-4 1 12 1 5 1-30 1-28 1 13 1 22 1-1 1-4 1-1 1 22 1-8 1 36 1-49 1 36 1-30 1-1 1 26 1-9 1-1 1-8 1 17 1-5 1-26 1 2 1 35 1-39 1 27 1 0 1-7 1-11 1 7 1 27 1-6 1-49 1 44 1-28 1-24 1 28 1 15 1-15 1 24 1-19 1-3 1-12 1 19 1-7 1-9 1 15 1 0 1-33 1 12 1 18 1-27 1 54 1 1 1 7 1 12 1-1 1 35 1-28 1-56 1 1 1-7 1 11 1 12 1-9 1-6 1-11 1 17 1 66 1-72 1 65 1-44 1-13 1 14 1-30 1 23 1-33 1-8 1 8 1-13 1 44 1-36 1 13 1-26 1-25 1 40 1 4 1 19 1 11 1-4 1-21 1-7 1 38 1-7 1-7 1 21 1-46 1-1 1-3 1-2 1 34 1-28 1-12 1 17 1 0 1 8 1-17 1 44 1-2 1-10 1 37 1 23 1-32 1-2 1 30 1-22 1 3 1 25 1-27 1 0 1-21 1-4 1-22 1 7 1-16 1-1 1 8 1 28 1-40 1 66 1-44 1 23 1-4 1 21 1-23 1-33 1 25 1 25 1-7 1-6 1 6 1-34 1 23 1 2 1-9 1 24 1-2 1-1 1-2 1 2 1 8 1 27 1-61 1 28 1 0 1-36 1 51 1-24 1 4 1-7 1-27 1 6 1 0 1-10 1 11 1-26 1 35 1 25 1-22 1 11 1 2 1 11 1-7 1-30 1 16 1 15 1 16 1-16 1 9 1-8 1 23 1 11 1-19 1-26 1 7 1-3 1 24 1-19 1 3 1-19 1 0 1-22 1-21 1 27 1-26 1 21 1 7 1-17 1 31 1-16 1 38 1-7 1-19 1 36 1 16 1-5 1-14 1-17 1-20 1 38 1 18 1-25 1-4 1 9 1-15 1 3 1-12 1 1 1 34 1-2 1-27 1 22 1-7 1 20 1-5 1-28 1 24 1 12 1-2 1-55 1 49 1-26 1 13 1-10"/>
<path class="ln" stroke="#1576b3" transform="translate(216.95 653.80) scale(0.5 -0.1)" d="M0 0 l1 0 1 0 1 0 1 0 1 0 1 0 1 0 1 0 1 0 1 0 1 0 1 0 1 0 1 0 1 0 1 0 1 0 1 0 1 0 1 0 1 0 1 0 1 0 1 0 1 0 1 0 1 0 1 0 1 0 1 0 1 0 1 0 1 0 1 0 1 0 1 0 1 0 1 0 1 0 1 0 1 0 1 0 1 0 1 0 1 0 1 0 1 0 1 0 1 0 1 0 1 0 1 0 1 0 1 0 1 0 1 0 1 0 1 0 1 0 1 0 1 0 1 0 1 0 1 0 1 0 1 0 1 0 1 0 1 0 1 1 1 1 1-2 1 3 1 2 1 4 1 3 1 6 1 4 1-3 1 5 1-6 1 9 1-3 1 1 1 0 1-5 1 9 1 2 1-2 1 9 1 1 1 5 1-11 1 12 1-2 1 0 1 6 1-17 1 15 1 7 1-1 1 7 1 5 1-27 1 4 1-4 1 20 1-13 1-14 1 14 1-1 1-4 1 4 1-8 1 6 1 17 1-16 1 24 1-17 1 11 1-7 1 7 1 45 1-22 1 24 1-13 1-5 1-13 1 3 1 12 1-22 1 8 1-14 1 22 1-9 1 8 1 36 1-27 1-6 1 28 1 20 1-50 1 15 1 10 1 29 1-17 1 14 1 18 1 15 1 22 1 38 1-19 1 9 1 14 1-29 1 34 1 41 1 11 1 2 1-9 1 21 1-20 1 29 1 8 1 1 1 29 1 31 1 9 1 1 1 12 1 71 1 18 1 4 1-39 1 41 1 9 1 54 1 41 1-10 1 15 1-7 1 29 1-10 1-14 1-7 1 31 1 31 1 33 1-16 1 59 1-57 1 35 1 31 1 48 1-7 1 8 1 14 1 36 1-12 1 44 1 6 1-46 1 15 1 34 1-3 1 66 1-13 1-2 1-27 1 48 1 17 1 12 1-2 1-7 1-1 1 39 1-10 1 40 1 25 1-40 1-6 1-15 1-8 1 3 1 6 1-33 1 8 1 16 1 15 1 10 1 17 1-43 1 32 1 26 1 16 1-6 1 23 1-32 1 1 1 45 1-31 1-4 1 6 1 26 1-29 1 23 1-4 1 17 1 7 1-3 1 21 1-34 1 7 1 23 1 6 1 2 1-5 1 27 1-8 1-5 1 45 1-18 1 37 1-46 1-19 1-23 1 18 1 28 1-32 1 5 1-6 1-10 1 22 1 8 1-33 1 17 1 9 1 8 1-18 1-27 1 50 1-38 1 34 1-30 1 25 1-14 1 13 1-4 1 9 1-34 1-9 1 17 1 24 1 22 1-11 1-3 1 37 1 4 1-9 1 28 1 7 1 5 1 2 1 2 1-7 1-9 1 18 1 1 1 16 1 6 1 1 1 9 1-30 1 32 1 28 1 21 1 21 1-25 1 16 1 25 1 22 1-49 1 50 1 7 1 129 1 87 1 23 1 58 1 20 1 61 1 37 1 9 1 32 1 17 1-5 1 19 1 41 1 67 1-9 1-11 1-2 1 6 1 20 1 21 1 12 1-2 1-14 1 8 1 13 1-17 1 0 1 9 1 14 1-20 1-15 1 30 1-9 1 25 1 8 1 55 1-41 1 40 1-22 1 9 1-5 1-18 1 7 1 33 1-15 1 26 1 22 1-21 1 17 1-5 1 32 1-14 1-13 1-9 1 22 1-24 1 18 1-8 1-6 1 8 1 22 1 7 1-35 1 40 1-8 1 21 1-7 1-5 1 7 1 0 1 13 1 3 1-23 1 5 1 14 1 4 1-5 1 7 1 1 1-3 1 1 1-29 1 27 1 12 1 1 1-19 1 17 1 1 1-10 1 6 1-2 1-3 1 7 1 10 1 1 1-1 1-10 1 7 1 8 1-13 1-14 1-6 1-8 1 6 1-8 1-3 1 11 1 6 1 15 1 6 1-9 1 8 1 10 1-11 1-10 1 11 1-1 1-19 1 8 1-8 1 4 1 10 1 13 1-14 1 8 1 13 1-22 1 7 1 14 1-12 1-1 1 11 1-11 1 9 1-1 1 0 1-12 1 16 1-12 1-6 1-3 1 1 1-1 1-12 1 5 1-8 1-1 1-5 1 10 1 8 1-15 1 0 1 3 1 4 1 2 1 15 1-6 1-21 1 30 1-6 1-4 1 2 1 5 1-19 1 2 1 4 1 2 1-1 1 8 1 12 1-13 1 8 1-12 1 16 1-6 1-2 1 4 1-4 1 10 1-14 1 33 1-19 1-15 1 14 1 8 1-9 1 0 1-3 1 3 1-4 1 4 1-4 1-17 1 21 1-7 1-1 1 8 1 7 1-7 1-12 1 5 1-14 1 4 1 5 1 5 1 1 1-12 1 4 1-6 1 0 1-8 1 5 1 11 1-13 1 20 1-12 1 10 1 0 1-3 1 11 1-24 1 16 1-5 1-15 1 12 1-5 1 5 1 1 1-3 1-11 1 10 1 10 1-5 1-10 1 2 1 5 1 6 1 2 1-8 1 6 1-3 1 5 1-2 1 0 1-6 1-10 1 7 1-1 1 13 1-2 1-10 1 13 1-6 1-4 1 13 1-8 1-10 1 11 1-19 1 38 1-20 1 9 1 2 1-20 1 16 1 7 1 4 1-15 1 15 1-12 1-7 1-6 1 11 1 6 1 2 1-9 1-3 1 16 1 1 1 5 1-14 1-8 1 8 1-4 1 1 1-2 1 3 1-5 1 8 1-2 1 6 1-3 1 22 1-1 1-32 1 17 1-7 1-2 1-3 1-8 1-1 1 3 1 20 1-21 1 0 1 10 1-18 1 30 1-9 1-9 1-1 1-3 1 22 1-7 1 3 1 8 1-2 1-2 1-2 1-11 1 13 1 4 1-9 1-9 1-16 1 25 1-8 1-12 1 1 1 3 1-9 1 9 1 6 1-15 1 12 1-7 1-5 1-1 1-2 1 1 1-17 1 17 1 3 1-10 1 4 1-13 1 27 1 4 1-21 1 7 1 13 1-14 1-1 1 4 1-8 1 4 1-14 1 9 1 13 1 5 1-20 1 13 1 12 1-7 1 6 1-10 1 10 1 6 1-23 1 13 1 0 1-6 1 5 1-9 1 13 1 6 1 10 1-25 1-5 1 13 1-6 1-2 1-5 1-1 1 2 1 8 1-2 1 14 1-7 1 1 1 2 1 17 1-3 1-7 1-6 1-6 1 12 1 4 1-18 1 0 1 8 1 13 1-13 1 20 1-18 1-2 1 4 1 20 1-14 1-10 1-1 1 1 1 1 1 14 1-11 1 2 1-5 1 9 1-4 1 6 1-2 1 11 1-7 1-4 1 1 1-1 1 2 1-6 1 1 1 3 1-12 1 6 1 3 1-1 1-17 1 9 1 12 1-12 1-1 1-7 1 7 1 4 1 4 1-2 1-9 1 16 1-21 1 5 1 3 1 8 1-6 1 14 1-11 1 6 1 7 1-10 1 7 1-9 1-3 1 18 1-36 1 3 1 21 1 13 1-14 1 7 1-10 1-10 1 23 1-7 1-10 1-9 1 27 1-21 1 29 1 0 1-29 1 14 1-7 1 8 1-5 1-18 1 6 1-11 1 5 1-4 1-4 1 10 1 0 1 6 1-13 1 4 1-1 1-3 1 7 1-10 1-1 1 9 1-17 1 17 1 2 1 1 1 17 1 4 1-7 1-1 1 7 1-4 1 4 1 0 1-34 1 0 1 2 1-2 1-5 1 14 1-9 1-4 1 9 1 0 1-5 1 27 1-21 1 8 1 15 1 6 1-12 1 3 1 15 1-12 1-18 1 28 1-19 1-13 1-2 1 20 1 1 1-7 1 24 1-13 1 17 1-13 1 5 1-14 1-3 1 12 1-8 1-11 1 1 1 11 1-9 1-4 1 11 1-11 1-2 1 12 1-6 1-4 1 5 1 1 1 1 1-2 1 3 1-6 1 12 1 2 1-10 1 12 1-9 1 9 1 13 1-9 1-1 1-1 1 5 1-1 1 1 1-9 1-13 1 3 1 7 1-8 1 9 1-19 1 14 1 11 1 13 1-11 1-11 1 9 1 12 1 1 1-11 1-19 1 4 1-1 1 13 1-18 1-1 1 11 1 0 1-7 1-4 1 5 1 4 1-3 1 12 1-9 1 3 1-7 1-3 1 20 1 1 1-14 1 5 1-10 1 17 1-10 1 9 1-16 1 6 1-4 1-3 1 18 1 2 1-21 1 18 1 7 1-18 1 1 1 15 1-11 1 11 1-27 1-2 1 12 1 3 1-18 1 17 1-5 1-4 1-6 1 11 1 6 1-6 1 4 1 19 1-14 1-7 1 2 1 3 1 2 1-12 1 9 1 2 1-5 1 6 1-3 1 3 1-9 1 5 1 9 1 5 1-9 1 20 1-7 1-8 1 8 1-2 1-12 1-6 1-13 1 5 1-2 1 34 1-5 1-15 1 11 1-4"/>
<path class="ln" stroke="#fd7c1a" transform="translate(216.95 653.80) scale(0.5 -0.1)" d="M0 0 l1 0 1 0 1 0 1 0 1 0 1 0 1 0 1 0 1 0 1 0 1 0 1 0 1 0 1 0 1 0 1 0 1 0 1 0 1 0 1 0 1 0 1 0 1 0 1 0 1 0 1 0 1 0 1 0 1 0 1 0 1 0 1 0 1 0 1 0 1 0 1 0 1 0 1 0 1 0 1 0 1 0 1 0 1 0 1 0 1 0 1 0 1 0 1 0 1 0 1 0 1 0 1 0 1 0 1 0 1 0 1 0 1 0 1 0 1 0 1 0 1 0 1 0 1 0 1 0 1 0 1 0 1 0 1 0 1 0 1 0 1 0 1 0 1 0 1 0 1 0 1 0 1 0 1 0 1 0 1 0 1 0 1 0 1 0 1 0 1 0 1 0 1 0 1 0 1 0 1 0 1 0 1 0 1 0 1 0 1 0 1 0 1 0 1 0 1 0 1 0 1 1 1 0 1 0 1 0 1 1 1-1 1 0 1 0 1 3 1-1 1-1 1-1 1 4 1-2 1 1 1 1 1 1 1 0 1 1 1 1 1-1 1 0 1-1 1 1 1-3 1 0 1 3 1 2 1 0 1 4 1-3 1 0 1 2 1 3 1-6 1 2 1 3 1 4 1-1 1 4 1 0 1 4 1-5 1 6 1 2 1 4 1-7 1 1 1-7 1 1 1-3 1 0 1 8 1-2 1-3 1 8 1 4 1 5 1-2 1-1 1-9 1 9 1 0 1 3 1-14 1 13 1-12 1 20 1-2 1 5 1 0 1-24 1 25 1 7 1-14 1 6 1-4 1-10 1-12 1 39 1-12 1-34 1 23 1 3 1 11 1-16 1-2 1 6 1 11 1-24 1 17 1-2 1-4 1 16 1 12 1-14 1-4 1 5 1-14 1 4 1-10 1 1 1 1 1 7 1-19 1-4 1-1 1 4 1 7 1-15 1 24 1-18 1 0 1-2 1 20 1 6 1 21 1-22 1 13 1 35 1 1 1 24 1-7 1 23 1-3 1-18 1-9 1 3 1-16 1 6 1-42 1-8 1-5 1-28 1-5 1 49 1 15 1-7 1-10 1-25 1 34 1 4 1-12 1 5 1-13 1 8 1-13 1 6 1 12 1 14 1-34 1 2 1 8 1 12 1 20 1 3 1-20 1 0 1 20 1 2 1-11 1-26 1 32 1-26 1 27 1 15 1 14 1-7 1-4 1 23 1-31 1 38 1-35 1 26 1 14 1 2 1 13 1 39 1 17 1-29 1-3 1 11 1-64 1-22 1 48 1 18 1 52 1 26 1 11 1-6 1 11 1-30 1 6 1 36 1 37 1 14 1-21 1-4 1-44 1 6 1 34 1-4 1 65 1-45 1 9 1-26 1 24 1 3 1-1 1 52 1-61 1-2 1 42 1-12 1 18 1 0 1-44 1 20 1-15 1 40 1-19 1 40 1 6 1-3 1-25 1 34 1-53 1 56 1-4 1 22 1-70 1 39 1 34 1-9 1-14 1-12 1-13 1 37 1-34 1-7 1 35 1 39 1-87 1 29 1 14 1-18 1 59 1-41 1 74 1-30 1 65 1 7 1 5 1 46 1-4 1 19 1-35 1 29 1 27 1 46 1-6 1-6 1-46 1-7 1 54 1 37 1-26 1 16 1 21 1-26 1 21 1 7 1-41 1-6 1 21 1-17 1-29 1-43 1 30 1-45 1 15 1-13 1 4 1 22 1 45 1 2 1 17 1-24 1 14 1 45 1-92 1 61 1-18 1-4 1 5 1-12 1-11 1 26 1 35 1 66 1-32 1 24 1 26 1-43 1 74 1-82 1 20 1 8 1-6 1-7 1 44 1-9 1 44 1-50 1 10 1 31 1-21 1 42 1-30 1 25 1 18 1-36 1 2 1 29 1 4 1 42 1 62 1-10 1-33 1 37 1-39 1 44 1-41 1 12 1-17 1 39 1-15 1-13 1-11 1 6 1-4 1-9 1-23 1 107 1-46 1 96 1-98 1 42 1 53 1 22 1-1 1 26 1 11 1-54 1 11 1 16 1 29 1-20 1 17 1-40 1 42 1-91 1 49 1-43 1-36 1-30 1 35 1-8 1 15 1-57 1 2 1-75 1 102 1-53 1-10 1-53 1 96 1 26 1-44 1 69 1-12 1 41 1-25 1 85 1 45 1-23 1-32 1 0 1-44 1 41 1-3 1 8 1-3 1 20 1 109 1-20 1-42 1-2 1 28 1-22 1 28 1 24 1-12 1-5 1-7 1-9 1 11 1 31 1-7 1 30 1 32 1 50 1 33 1-47 1-27 1 21 1 3 1-35 1 8 1-28 1 34 1-8 1 48 1 44 1-81 1 14 1 26 1 16 1 17 1-38 1 97 1-32 1-23 1-50 1-27 1 47 1-26 1 20 1-32 1 68 1-24 1 0 1 65 1-17 1-11 1 43 1 1 1-21 1-5 1 20 1-38 1 63 1-67 1 12 1 7 1 56 1-11 1-8 1 30 1-48 1 96 1-54 1 26 1-60 1 31 1-23 1-29 1 52 1 35 1-26 1 33 1 5 1 9 1 17 1-14 1-5 1-31 1-6 1 16 1-34 1-20 1 4 1 23 1-11 1 16 1 3 1 54 1-1 1-3 1-41 1 79 1-9 1 38 1-36 1 31 1-1 1-18 1 1 1-1 1 23 1 48 1-13 1-14 1-43 1 18 1-1 1 25 1 16 1 1 1 10 1 1 1 25 1-44 1 35 1-57 1-10 1-1 1 23 1-64 1 23 1-25 1-54 1 104 1 37 1 25 1 24 1-54 1 8 1-40 1 65 1-58 1 48 1 50 1-3 1 122 1-73 1 10 1-27 1 46 1-43 1 42 1-6 1 84 1-85 1 23 1 18 1-28 1-68 1 16 1 94 1 38 1-64 1-110 1 10 1 7 1-19 1-5 1-24 1 48 1 11 1 4 1 48 1-14 1-16 1 45 1 23 1-30 1 37 1 12 1 78 1-64 1 21 1 29 1-9 1-44 1-22 1-23 1 28 1 3 1 16 1 11 1-11 1-17 1 97 1 59 1 14 1-14 1-7 1-25 1-14 1 31 1 6 1 9 1 18 1-55 1-4 1 5 1-29 1-48 1-3 1 49 1 61 1-20 1-11 1 12 1-19 1 36 1-62 1 3 1-75 1 83 1 43 1 7 1 22 1-61 1 33 1-6 1-37 1-14 1 5 1 91 1-58 1-19 1 70 1-34 1 117 1-50 1 13 1-7 1 53 1-9 1-25 1 3 1-24 1 5 1-17 1-28 1 43 1-11 1-9 1-30 1 17 1-41 1 72 1-42 1 5 1 27 1 47 1-42 1 93 1-70 1 6 1 40 1-36 1 23 1-11 1 30 1 35 1 6 1-32 1 35 1-7 1-70 1-25 1-23 1 5 1-20 1 59 1 24 1 10 1 13 1 19 1-39 1-34 1 26 1-48 1 8 1 1 1-25 1 4 1-4 1 27 1 50 1-75 1 12 1-52 1 6 1-41 1 8 1-40 1 28 1 10 1 20 1 13 1-32 1-46 1-19 1 7 1 38 1 3 1 52 1 12 1 56 1-47 1 24 1-20 1 0 1 23 1 20 1-31 1 12 1 30 1 3 1 13 1-4 1 19 1-6 1 0 1 8 1-18 1 7 1-53 1 63 1 62 1-36 1 8 1-52 1 18 1 21 1 61 1-2 1-12 1-37 1 88 1 8 1-45 1 16 1 9 1-14 1-32 1-45 1 40 1-8 1 28 1-65 1 15 1-18 1-12 1 2 1 4 1-40 1-7 1 46 1 44 1-44 1 34 1 8 1 2 1 7 1 18 1-60 1 36 1-26 1 32 1 50 1-39 1 51 1-20 1 9 1-50 1-26 1 18 1 30 1-27 1-3 1-10 1-38 1-7 1 24 1 36 1-72 1 69 1 30 1-46 1-59 1 21 1 48 1-37 1 30 1-7 1 48 1 23 1-17 1 43 1-27 1-22 1 3 1-3 1-18 1-19 1-18 1 28 1-2 1-19 1-7 1-1 1 73 1 30 1-47 1 31 1-33 1 18 1-37 1 64 1-5 1-43 1 40 1 16 1-4 1-21 1-37 1 10 1 4 1 28 1-51 1-56 1 15 1 21 1 13 1-33 1 45 1 12 1 9 1 20 1-27 1-24 1 24 1-54 1-12 1 28 1-15 1-6 1 17 1 13 1 1 1-43 1 68 1-20 1-48 1 35 1-42 1-7 1 27 1-9 1 5 1 12 1 41 1 2 1 19 1-32 1-13 1-18 1 66 1-65 1 60 1-3 1-32 1 14 1 12 1 19 1-29 1 35 1-9 1 33 1 39 1-23 1-49 1-3 1 51 1-9 1-1 1-15 1 10 1-11 1 52 1-47 1-15 1-17 1-1 1-3 1-7 1-3 1 23 1-17 1-3 1-4 1-11 1 22 1-1 1-45 1 21 1-64 1-16"/>
<rect x="191.80" y="418.70" width="553.20" height="246.30" fill="none" stroke="#d0d0d0" stroke-width="1.7"/>
<g class="tk">
<text transform="translate(216.9 688.0) scale(1 1.12)" text-anchor="middle">0.0</text>
<text transform="translate(317.1 688.0) scale(1 1.12)" text-anchor="middle">0.2</text>
<text transform="translate(417.2 688.0) scale(1 1.12)" text-anchor="middle">0.4</text>
<text transform="translate(517.3 688.0) scale(1 1.12)" text-anchor="middle">0.6</text>
<text transform="translate(617.4 688.0) scale(1 1.12)" text-anchor="middle">0.8</text>
<text transform="translate(717.6 688.0) scale(1 1.12)" text-anchor="middle">1.0</text>
<text transform="translate(183.8 661.2) scale(1 1.12)" text-anchor="end">0.00</text>
<text transform="translate(183.8 605.2) scale(1 1.12)" text-anchor="end">0.25</text>
<text transform="translate(183.8 549.2) scale(1 1.12)" text-anchor="end">0.50</text>
<text transform="translate(183.8 493.3) scale(1 1.12)" text-anchor="end">0.75</text>
<text transform="translate(183.8 437.3) scale(1 1.12)" text-anchor="end">1.00</text>
<text transform="translate(743.5 713.2) scale(1 1.12)" text-anchor="end" style="font-size:20.2px">1e7</text>
</g>
<text class="tt" x="468.8" y="413.9" text-anchor="middle">MMM2 (super hard)</text>
</g>
<g>
<path d="M826.15 418.70V665.00M926.27 418.70V665.00M1026.39 418.70V665.00M1126.51 418.70V665.00M1226.63 418.70V665.00M1326.75 418.70V665.00M801.00 653.80H1354.20M801.00 597.83H1354.20M801.00 541.85H1354.20M801.00 485.87H1354.20M801.00 429.90H1354.20" stroke="#d0d0d0" stroke-width="1.7" fill="none"/>
<path class="bd" fill="#db1d28" transform="translate(826.15 653.80) scale(1.5 -0.1)" d="M18 0 l1 11 1 16 1 15 1 38 1 123 1 65 1 84 1 89 1 123 1 109 1 173 1 192 1 147 1 108 1 87 1 135 1 164 1 93 1 51 1 57 1 40 1-7 1-11 1-22 1 5 1 32 1-27 1 27 1-23 1 27 1 9 1 24 1 37 1 25 1-8 1 28 1-51 1 64 1-28 1 37 1-29 1 31 1 27 1-8 1-2 1-6 1-12 1 37 1-8 1 10 1 26 1 13 1-8 1 22 1-4 1-27 1-2 1 25 1 3 1-6 1 34 1 6 1-21 1 5 1 3 1 1 1-7 1 23 1 16 1 4 1-20 1 7 1 14 1-3 1 4 1 3 1 2 1 4 1-9 1 5 1-7 1 3 1-7 1 6 1 5 1 1 1-11 1 4 1 4 1 0 1 2 1-3 1 6 1-4 1-4 1-4 1 14 1-5 1 0 1 8 1 1 1-3 1 0 1 1 1-1 1 1 1-1 1 1 1 0 1 2 1 1 1-1 1-3 1 4 1-3 1 1 1-3 1-8 1 7 1 4 1 2 1 0 1-3 1 0 1 2 1 1 1-8 1 3 1 3 1 4 1-7 1 3 1 0 1-3 1 5 1-8 1 7 1 4 1 0 1-4 1 1 1 4 1 0 1-2 1 2 1 0 1 1 1-3 1-6 1 5 1 0 1 4 1-1 1-1 1-13 1 5 1 3 1 2 1 0 1-2 1 4 1-3 1 2 1-2 1 4 1-3 1 4 1-4 1 3 1 0 1-2 1-1 1 5 1-4 1 0 1 4 1-3 1 1 1-3 1-4 1 0 1 2 1 3 1-3 1-8 1 6 1 3 1 1 1-1 1-5 1 4 1-2 1 5 1 3 1-3 1 1 1 3 1-3 1 0 1 0 1 0 1-2 1-4 1 4 1-1 1 0 1 0 1 1 1 3 1 0 1 0 1-1 1-1 1 2 1-1 1-3 1 1 1 2 1 1 1 0 1 1 1 0 1-3 1 0 1 3 1 1 1 0 1 0 1-1 1 0 1-4 1 6 1-3 1-1 1 1 1-1 1 1 1 0 1 1 1 0 1 1 1 0 1-1 1-1 1 1 1 0 1 0 1-1 1 3 1-2 1-1 1 12 1-10 1-2 1 4 1 2 1-4 1 1 1-2 1-3 1 3 1 0 1-4 1-1 1 4 1-1 1 3 1 13 1-13 1-1 1 1 1 0 1 0 1-1 1 2 1-2 1 1 1-1 1 1 1 1 1 0 1 11 1-6 1-5 1 9 1-11 1 1 1-2 1 3 1-2 1 1 1-2 1 3 1 1 1-2 1 0 1-5 1 5 1-1 1-4 1 6 1-2 1-4 1 6 1-1 1-1 1 3 1 0 1-1 1-1 1 1 1 3 1-5 1 4 1-2 1 1 0-63 -1-2 -1 5 -1-12 -1 3 -1 11 -1 1 -1-2 -1-8 -1-3 -1-2 -1-5 -1 7 -1-1 -1 1 -1 3 -1 0 -1-8 -1 1 -1-1 -1-4 -1 9 -1 13 -1-13 -1 12 -1 3 -1-9 -1 7 -1-4 -1-2 -1 8 -1 23 -1-10 -1-7 -1 10 -1-19 -1-12 -1 0 -1-13 -1 24 -1-17 -1 6 -1 2 -1-9 -1 1 -1 13 -1-3 -1-1 -1-8 -1-2 -1-1 -1 0 -1 20 -1-6 -1-2 -1-5 -1 7 -1-8 -1 20 -1-7 -1-21 -1-4 -1 4 -1-2 -1 5 -1 9 -1 12 -1-26 -1 20 -1-11 -1-6 -1 7 -1 12 -1-10 -1 5 -1 14 -1-9 -1-4 -1-14 -1 16 -1-15 -1 5 -1 5 -1-6 -1 2 -1 4 -1-6 -1-5 -1-2 -1 6 -1 4 -1 8 -1-5 -1-1 -1-10 -1 8 -1-2 -1-9 -1 3 -1-3 -1-5 -1 7 -1 12 -1-11 -1 19 -1-3 -1-4 -1-23 -1 1 -1 3 -1 16 -1-16 -1-13 -1 7 -1 3 -1-9 -1-3 -1 21 -1-7 -1 18 -1-12 -1-13 -1 6 -1 4 -1 0 -1 13 -1-14 -1 21 -1-26 -1-10 -1 11 -1-1 -1-15 -1 33 -1 0 -1-21 -1 7 -1 12 -1-23 -1 2 -1-10 -1 9 -1 5 -1-15 -1 21 -1 3 -1 7 -1-16 -1 3 -1-16 -1-5 -1-3 -1 5 -1 17 -1 5 -1 2 -1-29 -1 4 -1 7 -1 9 -1-20 -1 10 -1-4 -1 2 -1-1 -1 10 -1 13 -1-27 -1 6 -1 0 -1 20 -1-11 -1-3 -1-1 -1 13 -1-10 -1 3 -1 13 -1-3 -1-7 -1-8 -1 8 -1-10 -1 13 -1-9 -1-3 -1 4 -1-9 -1 11 -1 10 -1-18 -1 4 -1 13 -1-19 -1 0 -1 33 -1-21 -1 1 -1-2 -1 18 -1 6 -1-13 -1-7 -1 4 -1 7 -1-15 -1-24 -1 36 -1-30 -1 18 -1 5 -1-4 -1-34 -1 32 -1-1 -1-13 -1 9 -1-3 -1 1 -1-19 -1-7 -1 23 -1-2 -1-23 -1 1 -1 0 -1 21 -1 2 -1 3 -1-1 -1 2 -1-34 -1 30 -1-5 -1-16 -1 12 -1-6 -1-27 -1-5 -1 28 -1 5 -1-47 -1 8 -1-36 -1-2 -1-69 -1-91 -1-52 -1-62 -1-9 -1-92 -1-187 -1-158 -1-91 -1-43 -1-30 -1-36 -1 0 -1-8 -1 10 -1-135 -1-72 -1-106 -1-65 -1-171 -1-53 -1-193 -1-76 -1-78 -1-45 -1-74 -1-49 -1 0 -1 0 -1 0 -1 0 -1 0 -1 0 -1 0 -1 0 -1 0 -1 0 -1 0 -1 0 -1 0 -1 0 -1 0 -1 0 -1 0 -1 0 -1 0 -1 0 -1 0 -1 0 -1 0 -1 0 -1 0 -1 0 -1 0 -1 0 -1 0 -1 0 -1 0 -1 0 -1 0 -1 0 -1 0 -1 0 -1 0 -1 0 -1 0 -1 0 -1 0 -1 0 -1 0 -1 0 -1 0z"/>
<path class="bd" fill="#2ba02e" transform="translate(826.15 653.80) scale(1.5 -0.1)" d="M53 0 l1 4 1 6 1 8 1 4 1 7 1 9 1 5 1 5 1 5 1 11 1 5 1 8 1 12 1 2 1 15 1 5 1 13 1 11 1-4 1 6 1 28 1-1 1 22 1 6 1 5 1 2 1 0 1 29 1-10 1-1 1 26 1-11 1 19 1 4 1 32 1-12 1 34 1-10 1 13 1 18 1 7 1 0 1 14 1 11 1 11 1 2 1 16 1 20 1 25 1 10 1-23 1 41 1 22 1-11 1 53 1-13 1 36 1 2 1 17 1 7 1 1 1 39 1 21 1 24 1 29 1-1 1 32 1-2 1 4 1 2 1 36 1-8 1 19 1-8 1 16 1-2 1 6 1 19 1 12 1-20 1-15 1 44 1-9 1 25 1-3 1 37 1 22 1 35 1-8 1-14 1 33 1 17 1-16 1-1 1 54 1 10 1-25 1 2 1 16 1 27 1 38 1 14 1 38 1 7 1 9 1-2 1 18 1 36 1 15 1-8 1 12 1 35 1-4 1 6 1 9 1 38 1-5 1 50 1 28 1 13 1 32 1 24 1 35 1 14 1-7 1 23 1 12 1 7 1-34 1 46 1-15 1 8 1 14 1-17 1 24 1 32 1-28 1 5 1-9 1 29 1-7 1 30 1-12 1 27 1-2 1-13 1 13 1-24 1 31 1-37 1 36 1-8 1-3 1-13 1 17 1-6 1 44 1-60 1 34 1 5 1-41 1 18 1 15 1-19 1-33 1-4 1 43 1-4 1 36 1-11 1-22 1 13 1-16 1 52 1-29 1 48 1-35 1 22 1 19 1-23 1 12 1-3 1 1 1 22 1-8 1 6 1 23 1-10 1-13 1 5 1-3 1-5 1 30 1 0 1-36 1-3 1-30 1 59 1-18 1 11 1-38 1 17 1 24 1-9 1-12 1-3 1 17 1-28 1-6 1 40 1 1 1-30 1 11 1-29 1 18 1 15 1 21 1-16 1-13 1 5 1 3 1-5 1 26 1-10 1 4 1 11 1 4 1-2 1-28 1 27 1-17 1 31 1-12 1-9 1-2 1 11 1-5 1-14 1 43 1-7 1 10 1 1 1-1 1-4 1-26 1 18 1-3 1 29 1-48 1 43 1-17 1 3 1 9 1-13 1 15 1-12 1 10 1 5 1 31 1-23 1 27 1-11 1 13 1-12 1-14 1 47 1 4 1-1 1-4 1-18 1-5 1-6 1 5 1 28 1 5 1 13 1-25 1 37 1-25 1 16 1 21 0-189 -1 17 -1-62 -1 55 -1-34 -1 29 -1-44 -1 69 -1-59 -1-9 -1 15 -1-20 -1 43 -1-21 -1 16 -1-24 -1-3 -1-12 -1-6 -1 16 -1-7 -1-4 -1-7 -1-16 -1 7 -1-16 -1-2 -1 16 -1-20 -1 24 -1-29 -1 17 -1-9 -1 4 -1-5 -1-12 -1 0 -1-1 -1 8 -1-14 -1 6 -1-22 -1 28 -1-16 -1 0 -1-18 -1 11 -1-29 -1 45 -1-53 -1 14 -1 6 -1-6 -1 0 -1 42 -1-24 -1 20 -1-58 -1 39 -1 6 -1 14 -1-39 -1-12 -1-31 -1 15 -1-13 -1-4 -1-8 -1-3 -1 4 -1-1 -1-4 -1 8 -1-2 -1 27 -1 36 -1-32 -1 17 -1-6 -1-1 -1-22 -1 34 -1-1 -1-2 -1-16 -1-16 -1 18 -1-11 -1 8 -1 7 -1 2 -1 1 -1-10 -1 37 -1-38 -1-17 -1 19 -1-14 -1 13 -1 6 -1-8 -1-8 -1-1 -1-33 -1 9 -1-26 -1 21 -1-30 -1 14 -1-22 -1 20 -1 11 -1-12 -1-36 -1 20 -1-58 -1 15 -1 18 -1-16 -1 11 -1 15 -1-9 -1 5 -1 28 -1-34 -1-14 -1 3 -1-15 -1 32 -1-20 -1 25 -1-14 -1-5 -1-12 -1-28 -1 19 -1 15 -1 19 -1 5 -1 31 -1-17 -1 13 -1-29 -1-28 -1-13 -1 9 -1-10 -1-19 -1 8 -1-6 -1-4 -1-3 -1-4 -1 4 -1 8 -1 13 -1-31 -1-9 -1-16 -1 22 -1-72 -1-39 -1-1 -1-52 -1-36 -1-33 -1-1 -1-23 -1-16 -1 16 -1-16 -1-20 -1 4 -1 8 -1-5 -1-29 -1-36 -1 22 -1-43 -1-31 -1 15 -1-32 -1-31 -1-23 -1-16 -1 2 -1-37 -1-2 -1-14 -1-21 -1 29 -1-11 -1-57 -1 2 -1-36 -1 3 -1-9 -1-20 -1 9 -1-7 -1-12 -1-5 -1 22 -1-22 -1-15 -1-21 -1-25 -1 2 -1 46 -1-56 -1 16 -1-4 -1-13 -1-20 -1-33 -1 4 -1-4 -1-56 -1-1 -1-54 -1-120 -1 65 -1 30 -1 8 -1-12 -1-16 -1-20 -1-17 -1 4 -1-36 -1-20 -1-29 -1 34 -1-9 -1-32 -1-26 -1 7 -1-13 -1 6 -1-26 -1-20 -1 3 -1 3 -1-14 -1 4 -1-3 -1-33 -1-14 -1-3 -1-3 -1 0 -1-9 -1-8 -1-12 -1-8 -1 2 -1 12 -1-20 -1-13 -1-1 -1-4 -1-9 -1-8 -1-3 -1-8 -1-3 -1-6 -1-6 -1-4 -1-6 -1-5 -1-3 -1 0 -1 0 -1 0 -1 0 -1 0 -1 0 -1 0 -1 0 -1 0 -1 0z"/>
<path class="bd" fill="#1576b3" transform="translate(826.15 653.80) scale(1.5 -0.1)" d="M46 0 l1 4 1 13 1 13 1 14 1 8 1 22 1 6 1 22 1 11 1 14 1-3 1 39 1 9 1 32 1 22 1 10 1 20 1-4 1 93 1 13 1 17 1 62 1 89 1 61 1 40 1 64 1 55 1-12 1 42 1 21 1-17 1 27 1 52 1-2 1 48 1 24 1 74 1 60 1 47 1 62 1 17 1 76 1 33 1 41 1-14 1 49 1 41 1 45 1 39 1-9 1 51 1 47 1-27 1 54 1 14 1-32 1 44 1 43 1-2 1 26 1-14 1 31 1 15 1-12 1-85 1 22 1-3 1-19 1-42 1 10 1 74 1 32 1-7 1 89 1-27 1 75 1 34 1-9 1 13 1 4 1-14 1 24 1 10 1-6 1-25 1 53 1-6 1 17 1 3 1 11 1 2 1 16 1-16 1 18 1-16 1 23 1 12 1-33 1 56 1-27 1 44 1-18 1-13 1 8 1 45 1-3 1 3 1 0 1-20 1 15 1 2 1-12 1 16 1-3 1-28 1 35 1-12 1 1 1-37 1 34 1 23 1-6 1 20 1-23 1-4 1 21 1-6 1 34 1 1 1-10 1-34 1 29 1 18 1-12 1 3 1-8 1-3 1 2 1 7 1-4 1 1 1-28 1 8 1 9 1 2 1 24 1-5 1-13 1 12 1 6 1-4 1 11 1-9 1-1 1 6 1-25 1 22 1 3 1-36 1 25 1-22 1 26 1 8 1 6 1 10 1-2 1 14 1-19 1-5 1 0 1 10 1 3 1 0 1 0 1 3 1-36 1 11 1 2 1 17 1-3 1-7 1-35 1 14 1 27 1-6 1-6 1 8 1-8 1 7 1 8 1-1 1 8 1-14 1-3 1 14 1 3 1-12 1-7 1-11 1-51 1 56 1 9 1 10 1 12 1-40 1 5 1 11 1-9 1 24 1-19 1 12 1-20 1 27 1 6 1 2 1-6 1-5 1-7 1 8 1 7 1-18 1-5 1 20 1-33 1 27 1 2 1-5 1-6 1 1 1 4 1 3 1 23 1-26 1 21 1-2 1 1 1-14 1 17 1-3 1 6 1-9 1-6 1 5 1 15 1-8 1 4 1-1 1 11 1 0 1-35 1 5 1 36 1-15 1 6 1 10 1-13 1 10 1-7 1 3 1 7 1 13 1-3 1-18 1 5 1 4 1-35 1 13 1-27 1 31 1 9 1-2 1 16 1-8 1-3 1-2 1 0 1 7 1 12 1 14 1-22 1 30 1-12 1-18 1 0 1 0 1-8 1-14 1 20 0-146 -1 7 -1 22 -1-7 -1-15 -1-12 -1 51 -1-32 -1 26 -1-19 -1 29 -1 2 -1 3 -1-41 -1 17 -1 17 -1-46 -1 9 -1-3 -1 3 -1-28 -1 11 -1 4 -1-1 -1 6 -1 14 -1 31 -1 6 -1-27 -1 10 -1-54 -1 11 -1 42 -1-41 -1 20 -1-32 -1 6 -1-1 -1 6 -1 41 -1-21 -1-37 -1 16 -1 14 -1-7 -1-27 -1-4 -1-2 -1 42 -1 6 -1-14 -1-19 -1 1 -1-16 -1-7 -1 3 -1 23 -1 9 -1-34 -1 29 -1 2 -1-4 -1-9 -1-4 -1 9 -1-25 -1 19 -1-16 -1 27 -1-30 -1 19 -1 7 -1-12 -1-8 -1 6 -1 24 -1-23 -1-15 -1 8 -1 0 -1 13 -1-27 -1 8 -1-6 -1 19 -1-29 -1 21 -1-33 -1 2 -1 6 -1-1 -1 61 -1-86 -1 52 -1-28 -1-33 -1 47 -1-24 -1 23 -1-54 -1 0 -1-13 -1 34 -1 28 -1-55 -1 12 -1-3 -1-12 -1-6 -1-1 -1 0 -1-3 -1 3 -1 20 -1-12 -1-16 -1 0 -1-3 -1 19 -1-4 -1-13 -1 47 -1 11 -1-69 -1 34 -1-8 -1 9 -1-27 -1 40 -1 10 -1-43 -1 4 -1 24 -1 25 -1 9 -1 27 -1-52 -1-4 -1-13 -1 12 -1 24 -1-76 -1 55 -1-47 -1 21 -1-4 -1-12 -1-9 -1 78 -1-65 -1 26 -1-26 -1-18 -1 13 -1 10 -1-2 -1 2 -1-10 -1 6 -1 17 -1-26 -1 4 -1-6 -1-7 -1 2 -1 0 -1 3 -1-15 -1 27 -1-3 -1 18 -1-18 -1-29 -1-5 -1 45 -1-4 -1-8 -1 3 -1-62 -1 47 -1-18 -1 7 -1-21 -1 12 -1 10 -1-4 -1-39 -1 10 -1-9 -1 8 -1-16 -1-10 -1 6 -1-5 -1-30 -1 8 -1-19 -1 56 -1-64 -1 41 -1-1 -1-50 -1-3 -1-8 -1-8 -1 9 -1 1 -1 5 -1-2 -1 1 -1 1 -1-34 -1-30 -1-47 -1 0 -1-73 -1-22 -1-80 -1-29 -1-21 -1-9 -1 71 -1-7 -1 58 -1 22 -1-12 -1 9 -1 23 -1-67 -1 15 -1-49 -1-12 -1-33 -1 31 -1-42 -1 13 -1-25 -1-20 -1-30 -1-25 -1-71 -1-56 -1-35 -1-29 -1-8 -1-80 -1 11 -1-74 -1-57 -1-39 -1-74 -1 19 -1-113 -1-55 -1-41 -1 24 -1-52 -1-28 -1-16 -1-52 -1-10 -1-8 -1-15 -1 4 -1-137 -1 34 -1-134 -1-26 -1-27 -1-33 -1-6 -1-5 -1-8 -1-31 -1 4 -1-20 -1-17 -1-13 -1-17 -1-11 -1-13 -1-9 -1 0 -1 0 -1 0 -1 0 -1 0 -1 0 -1 0z"/>
<path class="bd" fill="#fd7c1a" transform="translate(826.15 653.80) scale(1.5 -0.1)" d="M89 2 l1 1 1 0 1 0 1-1 1 0 1 1 1 0 1 0 1 2 1 4 1 5 1 4 1 4 1 5 1 3 1 3 1 6 1 4 1 2 1-1 1 5 1 7 1-5 1 1 1 3 1 13 1 3 1-8 1 8 1 12 1-1 1-13 1 30 1-30 1 4 1 7 1 24 1 24 1-3 1-16 1 18 1-21 1 27 1-29 1 30 1-32 1 47 1 23 1-10 1-32 1-13 1 49 1 29 1-84 1 18 1 44 1 8 1 48 1-42 1 50 1-59 1 121 1-59 1-2 1-54 1 63 1-15 1 48 1 6 1 3 1 45 1 61 1 5 1-29 1-64 1-33 1 84 1 25 1-8 1-104 1 12 1-51 1 63 1-14 1 78 1 19 1 104 1 20 1 52 1-36 1-1 1 41 1-38 1 45 1-13 1 91 1-8 1-35 1-40 1 79 1-64 1-64 1 51 1 38 1-101 1-30 1 78 1-29 1-69 1 91 1-66 1 28 1 151 1-23 1 17 1 62 1 13 1-122 1-24 1 24 1 60 1-40 1-67 1 150 1 36 1 8 1 25 1 61 1-46 1 53 1-77 1-47 1 38 1-70 1 28 1-6 1 191 1-32 1 9 1 112 1-117 1-14 1-72 1-82 1 27 1 69 1 73 1 78 1-23 1 66 1-26 1-17 1 162 1-14 1-90 1 87 1 9 1-124 1 26 1 33 1-65 1 56 1-110 1-64 1-16 1 115 1-36 1 75 1-15 1 107 1 17 1-100 1-17 1 10 1 116 1 21 1-2 1-120 1 56 1-107 1 77 1-165 1 116 1-23 1-5 1-14 1-18 1-91 1 46 1 12 1-47 1-5 1 45 1 109 1-34 1 53 1 16 1 18 1-66 1 56 1 104 1-48 1 111 1-33 1 26 1 3 1-142 1 52 1 77 1-19 1-11 1-36 1 81 1-78 1 122 1 8 1-114 1 10 1 126 1-78 1 98 1-144 1 85 1-61 1 33 1-14 1 126 1-119 1 178 1-24 1-57 1 10 1 31 1 63 1-57 1 3 1-36 1 4 1-39 1 121 1-9 1-18 1 64 1-81 1 105 0-1461 -1 0 -1 0 -1 0 -1 0 -1 0 -1 0 -1 0 -1 0 -1 0 -1 0 -1 0 -1 0 -1 0 -1 0 -1 0 -1 0 -1 0 -1 0 -1 0 -1 0 -1 0 -1 0 -1 0 -1 0 -1 0 -1 0 -1 0 -1 0 -1 0 -1 0 -1 0 -1 0 -1 0 -1 0 -1 0 -1 0 -1 0 -1 0 -1 0 -1 0 -1 0 -1 0 -1 0 -1 0 -1 0 -1 0 -1 0 -1 0 -1 0 -1 0 -1 0 -1 0 -1 0 -1 0 -1 0 -1 0 -1 0 -1 0 -1 0 -1 0 -1 0 -1 0 -1 0 -1 0 -1 0 -1 0 -1 0 -1 0 -1 0 -1 0 -1 0 -1 0 -1 0 -1 0 -1 0 -1 0 -1 0 -1 0 -1 0 -1 0 -1 0 -1 0 -1 0 -1 0 -1 0 -1 0 -1 0 -1 0 -1 0 -1 0 -1 0 -1 0 -1 0 -1 0 -1 0 -1 0 -1 0 -1 0 -1 0 -1 0 -1 0 -1 0 -1 0 -1 0 -1 0 -1 0 -1 0 -1 0 -1 0 -1 0 -1 0 -1 0 -1 0 -1 0 -1 0 -1 0 -1 0 -1 0 -1 0 -1 0 -1 0 -1 0 -1 0 -1 0 -1 0 -1 0 -1 0 -1 0 -1 0 -1 0 -1 0 -1 0 -1 0 -1 0 -1 0 -1 0 -1 0 -1 0 -1 0 -1 0 -1 0 -1 0 -1 0 -1 0 -1 0 -1 0 -1 0 -1 0 -1 0 -1 0 -1 0 -1 0 -1 0 -1 0 -1 0 -1 0 -1 0 -1 0 -1 0 -1 0 -1 0 -1 0 -1 0 -1 0 -1 0 -1 0 -1 0 -1 0 -1 0 -1 0 -1 0 -1 0 -1 0 -1 0 -1 0 -1 0 -1 0 -1 0 -1 0 -1 0 -1 0 -1 0 -1 0 -1 0 -1 0 -1 0 -1 0 -1 0 -1 0 -1 0 -1 0 -1 0 -1 0 -1 0 -1 0 -1 0 -1 0 -1 0 -1 0 -1 0 -1 0 -1 0 -1 0 -1 0 -1 0 -1 0 -1 0 -1 0 -1 0 -1 0 -1 0 -1 0 -1 0 -1 0 -1 0 -1 0 -1 0 -1 0 -1 0 -1 0 -1 0 -1 0 -1 0 -1 0 -1 0 -1 0 -1 0 -1 0 -1 0 -1 0 -1 0 -1 0 -1 0 -1 0 -1 0 -1 0 -1 0 -1 0 -1 0 -1 0 -1 0 -1 0 -1 0 -1 0 -1 0z"/>
<path class="ln" stroke="#db1d28" transform="translate(826.15 653.80) scale(0.5 -0.1)" d="M0 0 l1 0 1 0 1 0 1 0 1 0 1 0 1 0 1 0 1 0 1 0 1 0 1 0 1 0 1 0 1 0 1 0 1 0 1 0 1 0 1 0 1 0 1 0 1 0 1 0 1 0 1 0 1 0 1 0 1 0 1 0 1 0 1 0 1 0 1 0 1 0 1 0 1 0 1 0 1 0 1 0 1 0 1 0 1 0 1 0 1 0 1 0 1 0 1 0 1 0 1 0 1 0 1 0 1 0 1 0 1 0 1 0 1 0 1 0 1 0 1 0 1 0 1 0 1 0 1 0 1 0 1 0 1 0 1 0 1 0 1 0 1 0 1 0 1 0 1 0 1 0 1 0 1 0 1 0 1 0 1 0 1 0 1 0 1 0 1 0 1 0 1 0 1 0 1 0 1 0 1 0 1 0 1 0 1 0 1 0 1 0 1 0 1 0 1 0 1 0 1 0 1 0 1 4 1 5 1 7 1 3 1 5 1-3 1 1 1-6 1 8 1 5 1 14 1-8 1 3 1 8 1 3 1-2 1 4 1-10 1 1 1-1 1-4 1-7 1 2 1 3 1-6 1 0 1-1 1 6 1-2 1-3 1 0 1 14 1 4 1 4 1-5 1 9 1 11 1 3 1 1 1-3 1 6 1-4 1 73 1-49 1 8 1 13 1 45 1 34 1-46 1 44 1-9 1-23 1 18 1-4 1-31 1 47 1-40 1-32 1 25 1 33 1-42 1 46 1 14 1 11 1 23 1-2 1 58 1-4 1 6 1 16 1-14 1 32 1-10 1-8 1 78 1-14 1 39 1 27 1 68 1-7 1 72 1-6 1 71 1-21 1 115 1 58 1 71 1-50 1 21 1 21 1 46 1 11 1 22 1 43 1 19 1 15 1 7 1 37 1 14 1 9 1 32 1 52 1 31 1 110 1-13 1 69 1-12 1 20 1-13 1 94 1 36 1-8 1 40 1 82 1 66 1 43 1 24 1 79 1 52 1-9 1 9 1-22 1 8 1 83 1 3 1 4 1 6 1 43 1 29 1-24 1-31 1-1 1-28 1 3 1-1 1 15 1-30 1-7 1-57 1-15 1 17 1 23 1 23 1 47 1-30 1-14 1-26 1 11 1 36 1 35 1 21 1-15 1-22 1 43 1 6 1 36 1-13 1 19 1-12 1-15 1-18 1 37 1 12 1-10 1-6 1 26 1 2 1 35 1 40 1-55 1 27 1 24 1 17 1 21 1-5 1 13 1 5 1 0 1 28 1-21 1 17 1-15 1 11 1-21 1 6 1 5 1-24 1 8 1-7 1-5 1-2 1-5 1 40 1-23 1 7 1-13 1-13 1 31 1-19 1 12 1-18 1 5 1-35 1 20 1 19 1-22 1 10 1-44 1 38 1 29 1-14 1-18 1-15 1 34 1-9 1 7 1 4 1-26 1 36 1 0 1 3 1 11 1 2 1-3 1 1 1 0 1-10 1 18 1-10 1 5 1 20 1-36 1 3 1 14 1-12 1 5 1-2 1 4 1-10 1 16 1-19 1 11 1-9 1 6 1 12 1 11 1-13 1-3 1 12 1-18 1 13 1 7 1-5 1 4 1-22 1-3 1 28 1-19 1 24 1-6 1-10 1 17 1-7 1 11 1-10 1 25 1-6 1-13 1 11 1-6 1-11 1 1 1 15 1-27 1 9 1 0 1-5 1 15 1-17 1 8 1-20 1 34 1 2 1-1 1-15 1 14 1-5 1 10 1-7 1-8 1 18 1-22 1 6 1-15 1 35 1-15 1 5 1-6 1-25 1 8 1 6 1 9 1-14 1 2 1 10 1-28 1-8 1 14 1-12 1 17 1 20 1-10 1 0 1 21 1-12 1 5 1-4 1 8 1 8 1-13 1 1 1-10 1 16 1-15 1 8 1-15 1-7 1-2 1-6 1-7 1 17 1-27 1 19 1-2 1 5 1-6 1 12 1-5 1-3 1 11 1 9 1-23 1 8 1 3 1-6 1 9 1-10 1 6 1 16 1-8 1-6 1 13 1-15 1-35 1 8 1 25 1-17 1 3 1-11 1-9 1 14 1-5 1 0 1 11 1 21 1 0 1-24 1 9 1 7 1-1 1-10 1 4 1 2 1 7 1 13 1-17 1-9 1-15 1 6 1 5 1-1 1-12 1-22 1 19 1 19 1 0 1-3 1 2 1 7 1 19 1-23 1 9 1 9 1-45 1 11 1 3 1-18 1 11 1 25 1-2 1 4 1-22 1 40 1-11 1 12 1-12 1-1 1-20 1-9 1-4 1-26 1 15 1 3 1-1 1 11 1-4 1 0 1-12 1 21 1 9 1 9 1 6 1 13 1-7 1 16 1 0 1-5 1-6 1-25 1 39 1-21 1 2 1-2 1 14 1 2 1 3 1-12 1-1 1 3 1 0 1 8 1-17 1 30 1-20 1 6 1 1 1-2 1-1 1 8 1-7 1-11 1 3 1 17 1-34 1 5 1 25 1-7 1 19 1-6 1-14 1-8 1 14 1 0 1 7 1-13 1-5 1-13 1 12 1-18 1-7 1 3 1-4 1 4 1-10 1-3 1 13 1 11 1 13 1-11 1 1 1-14 1 33 1-12 1 0 1 12 1-16 1 17 1-17 1 6 1 1 1 3 1-9 1-22 1 18 1-2 1 7 1-16 1-4 1 7 1-4 1 16 1 25 1-24 1-13 1 14 1-15 1 2 1-12 1 23 1-8 1-9 1-19 1 30 1-18 1 29 1-1 1 7 1-14 1 5 1 3 1-21 1 13 1-19 1-2 1 2 1 17 1-17 1 16 1-1 1 16 1 1 1-9 1 0 1-1 1-5 1-24 1 18 1 10 1-22 1 16 1 0 1-7 1 44 1-36 1 0 1-5 1 21 1-10 1 12 1 8 1-5 1 0 1-7 1-7 1-1 1 14 1-33 1-4 1 2 1 6 1 4 1-17 1-21 1-10 1 58 1-18 1 22 1 2 1-6 1-7 1 11 1-9 1-20 1 9 1 2 1 8 1-7 1 18 1-5 1 3 1 31 1-17 1 4 1 5 1-11 1 19 1-13 1-10 1 4 1-11 1 19 1-26 1 24 1 3 1 13 1-28 1 1 1-5 1 11 1 10 1-22 1 4 1-16 1 14 1 2 1 7 1 2 1-15 1-9 1 8 1 6 1 10 1 5 1-7 1-7 1 17 1-8 1-15 1 36 1-12 1-8 1-18 1 3 1 15 1-7 1-5 1-18 1 18 1 7 1-7 1 9 1-16 1 4 1 1 1 6 1 15 1-23 1 11 1-2 1-3 1 2 1-29 1 20 1-8 1-3 1 5 1-15 1 3 1 10 1-5 1-4 1 8 1 2 1 14 1 14 1-6 1 21 1-5 1 10 1-3 1-12 1 20 1-16 1-7 1 18 1-28 1 14 1-8 1-4 1 21 1-1 1-6 1-5 1-23 1 13 1 16 1 10 1-13 1-1 1-5 1-15 1 11 1 19 1-8 1-7 1 0 1 6 1-2 1-1 1-6 1 7 1-31 1 8 1 23 1 10 1-28 1 11 1 7 1 1 1-13 1 21 1-18 1 10 1 8 1-27 1 11 1 13 1 12 1 5 1-10 1-5 1-3 1 21 1-36 1-14 1 18 1 3 1 18 1 0 1-7 1 9 1-10 1 7 1-3 1-8 1-2 1 13 1-12 1 3 1-4 1 2 1-13 1 1 1 3 1 6 1 3 1-3 1-6 1 7 1-4 1 13 1-30 1-1 1 5 1-1 1 9 1-15 1 20 1-18 1 10 1 1 1 12 1 6 1 2 1 10 1 2 1 4 1-15 1 15 1-15 1 4 1-1 1-12 1 12 1-20 1 5 1-15 1 21 1 0 1-10 1 12 1 6 1-5 1-7 1-5 1-11 1 25 1-17 1-16 1-7 1 22 1-9 1 4 1 2 1-3 1 3 1 9 1-8 1 20 1 1 1-6 1 11 1-4 1 7 1-20 1 13 1 3 1 6 1 4 1-4 1-20 1 18 1-8 1-3 1-5 1 4 1 4 1 12 1 3 1-16 1-10 1 20 1-17 1 3 1-12 1-7 1 5 1-4 1 26 1-20 1-9 1 15 1-3 1-12 1-6 1 8 1 23 1-17 1-3 1 5 1 11 1-7 1-10 1 3 1 2 1 5 1-10 1-5 1 35 1-14 1-5 1 9 1-9 1-21 1 12 1-42 1 22 1 25 1-18 1-6 1 6 1 2 1-11 1 25 1-5 1 1 1 10 1-10 1-8 1 8 1-10 1-7 1 39 1-38 1 20 1 0 1 4 1 9 1-13 1-18 1-2 1-17 1 11 1-8 1 4 1 12 1 0 1-18 1 16 1 20 1 4 1 7 1-15 1 12 1 6 1-7 1 13 1-26 1-27 1-1 1 0 1 20 1 4 1-1 1 12 1 2 1 12 1-21 1-5 1-6"/>
<path class="ln" stroke="#2ba02e" transform="translate(826.15 653.80) scale(0.5 -0.1)" d="M0 0 l1 0 1 0 1 0 1 0 1 0 1 0 1 0 1 0 1 0 1 0 1 0 1 0 1 0 1 0 1 0 1 0 1 0 1 0 1 0 1 0 1 0 1 0 1 0 1 0 1 0 1 0 1 0 1 0 1 0 1 0 1 0 1 0 1 0 1 0 1 0 1 0 1 0 1 0 1 0 1 0 1 0 1 0 1 0 1 0 1 0 1 0 1 0 1 0 1 0 1 0 1 0 1 0 1 0 1 0 1 0 1 0 1 0 1 0 1 0 1 0 1 0 1 0 1 0 1 0 1 0 1 0 1 0 1 0 1 0 1 0 1 0 1 0 1 0 1 0 1 0 1 0 1 0 1 0 1 0 1 0 1 0 1 0 1 0 1 0 1 0 1 0 1 0 1 0 1 0 1 0 1 0 1 0 1 0 1 0 1 0 1 0 1 0 1 0 1 0 1 0 1 0 1 0 1 0 1 0 1 0 1 0 1 0 1 0 1 0 1 0 1 0 1 0 1 0 1 0 1 0 1 0 1 0 1 0 1 0 1 0 1 0 1 0 1 0 1 0 1 0 1 0 1 0 1 0 1 0 1 0 1 0 1 0 1 0 1 0 1 0 1 0 1 0 1 0 1 0 1 0 1 0 1 0 1 0 1 0 1 0 1 0 1 0 1 0 1 0 1 0 1 0 1 0 1 0 1 0 1 0 1 0 1 0 1 0 1 0 1 0 1 0 1 0 1 0 1 0 1 0 1 0 1 0 1 0 1 0 1 0 1 0 1 1 1 2 1 3 1 1 1 4 1 0 1 6 1-3 1 4 1-3 1 3 1 5 1 2 1 0 1 2 1 1 1 4 1 6 1-3 1 8 1-2 1 6 1-6 1 11 1-12 1-4 1 3 1-4 1 0 1 3 1 4 1 4 1-5 1 6 1 12 1-4 1-9 1 1 1 33 1-21 1 8 1-14 1-1 1 23 1-7 1 20 1-7 1-7 1-2 1 23 1 6 1 1 1 9 1 1 1 14 1-26 1-4 1 29 1-5 1-10 1 13 1 57 1-23 1 21 1 0 1-53 1 61 1-21 1-24 1 42 1-52 1 18 1 66 1-16 1-26 1 20 1 10 1-28 1 13 1-25 1 17 1-7 1 14 1-11 1-26 1 18 1-43 1 8 1-5 1 0 1 1 1 26 1 10 1 2 1 44 1 5 1-6 1-3 1 6 1 32 1-25 1 36 1 8 1 0 1 0 1 13 1-17 1 14 1 6 1-35 1 61 1-17 1-17 1 32 1 5 1-22 1 10 1-1 1 1 1-21 1 42 1 23 1-27 1 1 1 12 1 18 1 12 1-21 1-4 1 46 1-33 1 32 1-4 1 36 1-17 1-24 1 9 1 25 1 12 1-10 1-38 1 12 1 53 1-15 1-22 1 5 1 18 1-2 1 19 1 0 1-22 1 15 1 22 1-35 1 23 1 9 1 10 1 11 1 46 1-14 1-22 1 2 1-6 1-81 1 30 1 1 1-23 1-31 1 4 1-25 1-44 1 31 1 48 1 41 1 30 1 5 1 44 1 46 1 7 1 30 1 4 1-3 1 8 1 4 1 5 1-29 1 22 1 18 1-21 1 11 1 17 1 28 1 24 1-16 1-8 1 2 1-13 1 7 1-14 1 39 1-17 1 22 1 3 1 23 1 22 1 8 1 41 1-29 1-20 1 19 1 16 1-6 1-38 1 34 1-2 1-10 1 25 1-12 1 20 1-55 1 31 1 5 1 41 1-27 1-18 1 2 1 26 1-46 1-43 1 23 1-27 1 50 1-39 1 2 1 3 1-5 1 3 1-10 1-68 1 55 1 2 1 84 1-61 1 24 1 56 1 30 1 14 1 31 1 40 1 13 1 12 1 14 1-23 1 19 1-8 1-34 1-14 1-5 1-1 1 40 1 20 1-38 1 6 1-11 1-10 1 1 1 15 1-8 1-29 1 32 1-19 1-1 1-4 1 17 1-42 1 62 1-48 1 22 1 13 1-2 1-27 1 5 1 47 1 7 1 12 1 3 1 30 1-1 1 22 1 14 1 27 1-28 1 13 1 47 1 8 1-12 1-8 1 29 1-11 1 19 1-22 1 14 1 28 1-9 1-26 1 22 1 12 1-12 1 39 1-6 1 19 1 2 1 21 1-69 1 40 1 13 1-5 1-45 1-17 1 72 1-18 1 82 1-16 1 10 1-27 1 17 1-29 1 12 1 1 1-40 1-8 1-7 1 24 1-14 1 52 1 39 1-17 1-19 1 0 1 79 1-15 1 70 1-75 1 0 1 26 1 36 1-4 1 15 1-5 1 44 1 9 1-9 1-18 1 50 1 39 1-17 1-30 1 22 1-4 1-16 1 4 1 24 1 2 1-4 1-20 1 37 1 28 1-61 1 26 1-40 1 24 1-37 1 11 1-9 1-17 1 39 1-5 1-20 1 9 1 2 1-16 1 10 1 11 1-14 1-21 1 36 1-4 1 20 1 11 1 24 1-11 1-2 1-23 1-7 1 49 1-21 1 3 1 8 1 2 1 31 1 19 1-1 1-24 1-10 1 0 1 33 1 10 1 11 1 12 1-28 1 19 1 27 1 2 1-10 1-33 1-9 1 2 1-19 1 31 1-21 1-13 1-16 1-20 1-31 1 1 1-23 1-5 1-3 1-11 1 29 1-5 1 31 1-7 1-8 1 57 1 35 1-15 1-10 1 35 1-46 1 60 1 28 1-2 1-9 1 8 1 33 1-29 1-1 1-6 1-12 1 2 1-24 1 34 1 9 1 0 1 12 1-27 1 55 1 58 1-62 1-5 1-41 1-35 1 50 1-28 1-14 1-4 1 6 1-4 1 9 1-17 1 9 1-10 1 26 1 19 1-49 1 12 1-92 1 33 1-3 1-44 1 16 1-27 1-35 1-9 1 29 1 38 1 46 1 42 1 34 1-14 1 17 1-19 1 14 1 3 1 2 1 32 1 9 1-42 1 10 1-4 1 14 1-39 1-26 1-10 1 28 1 18 1-38 1 9 1 31 1-6 1 18 1-24 1 37 1-2 1-49 1 50 1-7 1-27 1 3 1-13 1-5 1 6 1 28 1 12 1 23 1 23 1 3 1 2 1-2 1-15 1 35 1-14 1 16 1-6 1-14 1 8 1 35 1-26 1-1 1 36 1-29 1-20 1-33 1-15 1 39 1-36 1-3 1 20 1 31 1 21 1-2 1 0 1 16 1-8 1 5 1-22 1 30 1-26 1-12 1-51 1 32 1-16 1-18 1-8 1 6 1 18 1-42 1 13 1-35 1-19 1-3 1 54 1 15 1 19 1-8 1-4 1 9 1 12 1-42 1 4 1 34 1-8 1 20 1 2 1-46 1 16 1 48 1 13 1-43 1-24 1 3 1 3 1 23 1 0 1-16 1-16 1-1 1 18 1 30 1-16 1-28 1 44 1-19 1 35 1-20 1 42 1-11 1-1 1-27 1 23 1-31 1 0 1-4 1-42 1 44 1 27 1-5 1-27 1 31 1-53 1-2 1 42 1-56 1 13 1-6 1 23 1 6 1-23 1-20 1-7 1-8 1 2 1-18 1-6 1-19 1 34 1 0 1 4 1 51 1-7 1-9 1 29 1 10 1-1 1 1 1 16 1-17 1-13 1 16 1 32 1-4 1-8 1-25 1 29 1 14 1-25 1-14 1 49 1-10 1 27 1 26 1-27 1 36 1-20 1 28 1 21 1-34 1 17 1-21 1-36 1-26 1-10 1 12 1-56 1-16 1-41 1 43 1 102 1-52 1 12 1 9 1 27 1 20 1 5 1 10 1-6 1-20 1 43 1-51 1-5 1 8 1-11 1-2 1 11 1-68 1 10 1-19 1 41 1-30 1-18 1 6 1 7 1 2 1 70 1 39 1 10 1 6 1-14 1 20 1 7 1-34 1 38 1-41 1 9 1-21 1 32 1-65 1 6 1 16 1 17 1-9 1-33 1-10 1-3 1 13 1-19 1 11 1 4 1 8 1-31 1 14 1 22 1 1 1-13 1-4 1 40 1-8 1-11 1 0 1 5 1 15 1-13 1-18 1 7 1 23 1 21 1-28 1-48 1 30 1 41 1 1 1-54 1-31 1 17 1-7 1-12 1 17 1 17 1-18 1-11 1 21 1 49 1 2 1 12 1-10 1 17 1-30 1 48 1-9 1-18 1 54 1 1 1-34 1-27 1-2 1-26 1-26 1 25 1-13 1-2 1 4 1 48 1-23 1 19 1 3 1 35 1 5 1 4 1 11 1-36 1-8 1 46 1 30 1-50 1-25 1 15 1 11 1-19 1-32 1 15 1 7 1-14 1-39 1 27 1 14 1-25 1 10 1 54 1 42 1-42 1 2 1 29 1-44 1 22 1 2 1-5 1-19 1-15 1 11 1 42 1-14 1 39 1 0 1-16 1 13 1-15 1-8 1-7 1-10"/>
<path class="ln" stroke="#1576b3" transform="translate(826.15 653.80) scale(0.5 -0.1)" d="M0 0 l1 0 1 0 1 0 1 0 1 0 1 0 1 0 1 0 1 0 1 0 1 0 1 0 1 0 1 0 1 0 1 0 1 0 1 0 1 0 1 0 1 0 1 0 1 0 1 0 1 0 1 0 1 0 1 0 1 0 1 0 1 0 1 0 1 0 1 0 1 0 1 0 1 0 1 0 1 0 1 0 1 0 1 0 1 0 1 0 1 0 1 0 1 0 1 0 1 0 1 0 1 0 1 0 1 0 1 0 1 0 1 0 1 0 1 0 1 0 1 0 1 0 1 0 1 0 1 0 1 0 1 0 1 0 1 0 1 0 1 0 1 0 1 0 1 0 1 0 1 0 1 0 1 0 1 0 1 0 1 0 1 0 1 0 1 0 1 0 1 0 1 0 1 0 1 0 1 0 1 0 1 0 1 0 1 0 1 0 1 0 1 0 1 0 1 0 1 0 1 0 1 0 1 0 1 0 1 0 1 0 1 0 1 0 1 0 1 0 1 0 1 0 1 0 1 0 1 0 1 0 1 0 1 0 1 0 1 0 1 0 1 0 1 0 1 0 1 0 1 0 1 0 1 0 1 0 1 0 1 0 1 0 1 0 1 0 1 0 1 0 1 0 1 0 1 0 1 0 1 0 1 0 1 4 1 4 1-4 1 6 1-3 1 8 1-1 1-6 1 3 1 7 1 10 1 1 1-9 1 0 1 6 1 18 1-3 1-2 1 6 1 6 1 5 1 10 1-10 1-10 1 5 1 17 1 14 1-19 1 10 1 16 1 38 1 24 1 6 1-13 1-9 1-5 1-16 1 56 1-5 1 50 1-4 1-27 1-11 1 4 1 2 1-32 1 28 1-8 1-20 1 10 1 8 1-30 1 20 1 77 1 32 1-6 1 29 1-1 1 10 1-1 1 72 1-20 1 51 1-3 1 24 1 63 1-10 1 61 1 25 1-6 1 40 1-5 1 39 1 1 1-5 1-30 1 16 1-52 1 23 1-62 1-29 1 22 1-6 1-6 1 10 1 3 1 59 1 27 1-45 1 43 1-27 1 13 1 43 1 23 1 46 1 94 1 79 1-70 1 28 1-35 1 7 1 35 1 41 1 37 1-42 1-11 1 5 1 85 1 15 1 80 1-11 1 54 1-16 1 13 1-52 1 94 1-28 1 21 1-16 1-12 1 17 1 59 1 46 1-2 1 11 1 4 1 28 1 9 1 11 1-10 1-31 1-2 1 52 1-36 1 23 1-1 1 27 1 2 1 40 1 0 1 5 1 21 1 19 1 45 1-2 1-17 1-13 1 1 1 39 1 35 1 4 1 10 1-15 1 9 1-2 1 3 1 16 1-8 1 44 1-15 1 8 1 4 1-17 1 4 1 1 1 25 1 1 1-8 1 33 1 37 1-29 1 27 1 3 1-20 1 0 1 27 1 10 1 29 1-14 1 20 1 6 1 8 1 16 1-6 1-14 1-5 1-20 1 23 1-29 1 1 1-26 1-38 1-5 1-10 1 21 1-22 1 22 1-24 1 29 1-42 1-9 1 30 1-27 1 28 1-38 1 0 1 10 1 4 1 92 1-19 1 37 1-43 1 81 1-15 1-19 1-3 1-38 1 66 1 80 1-8 1-74 1 30 1 25 1 47 1 26 1 33 1-16 1 17 1 2 1-2 1-7 1 12 1 0 1-37 1 27 1 25 1 0 1-16 1 16 1-13 1 6 1-6 1 6 1-41 1-12 1 26 1-13 1-6 1 2 1 27 1 7 1-32 1 26 1 23 1-36 1 2 1 38 1 0 1-12 1 29 1 17 1 0 1 16 1 25 1-13 1-34 1 32 1 10 1-14 1 27 1-61 1 48 1-20 1 36 1 8 1-46 1-22 1 15 1 12 1-15 1-31 1-22 1-22 1 27 1 9 1 23 1 20 1-20 1 20 1-30 1 10 1 33 1-10 1-11 1-3 1-12 1 27 1-10 1 8 1 1 1 0 1 15 1-24 1 16 1-9 1 33 1-10 1 1 1 19 1-14 1-8 1-37 1 38 1 17 1-14 1 46 1-35 1-3 1 36 1 11 1-6 1 12 1 2 1-13 1 8 1 17 1 21 1-30 1 13 1-20 1-31 1 37 1 8 1 16 1-6 1-17 1 9 1 5 1 9 1-32 1-40 1 0 1 38 1 7 1 5 1-35 1-32 1 21 1 32 1-13 1-19 1 43 1-38 1 17 1-9 1 20 1-5 1 31 1-37 1 53 1-28 1 52 1-3 1-16 1 38 1 4 1-60 1-2 1-38 1 26 1-25 1-30 1-22 1-21 1 34 1-11 1-30 1 40 1-18 1 50 1-46 1 40 1-11 1-3 1 32 1-2 1-23 1 2 1-49 1 42 1-7 1-11 1 8 1 8 1 6 1-9 1 21 1 6 1-37 1 75 1-29 1 44 1-39 1 45 1-41 1 4 1 43 1 7 1 7 1-3 1 27 1-3 1-9 1 38 1-32 1-13 1 27 1-38 1 15 1-13 1-5 1-8 1-42 1-4 1-7 1 27 1 9 1-3 1-3 1 2 1 22 1 4 1-22 1 33 1-20 1 5 1-12 1 25 1-13 1 23 1-4 1 11 1-1 1-23 1 47 1-2 1 15 1-5 1-10 1 3 1 12 1-3 1-37 1 7 1-8 1 1 1 6 1-7 1-5 1 4 1 5 1-26 1 8 1-4 1-16 1 6 1-35 1-31 1-5 1 48 1-7 1 0 1-4 1 3 1-6 1 29 1-16 1 26 1-19 1 30 1-2 1 5 1 31 1 39 1-1 1-1 1 20 1-15 1-52 1 45 1 11 1 10 1 42 1-31 1-13 1 14 1-32 1 32 1-63 1 31 1 13 1-41 1 6 1-8 1 27 1-13 1 9 1-4 1-9 1-17 1-19 1 15 1-10 1 4 1-31 1 29 1-40 1 30 1 16 1-40 1 20 1-14 1 6 1 7 1-26 1 4 1-8 1 30 1-4 1-6 1 0 1 15 1-8 1-7 1 31 1-51 1 17 1-7 1-4 1-30 1 20 1 31 1-38 1 30 1 10 1 7 1 1 1-30 1 24 1-12 1 7 1 31 1-10 1 3 1 23 1 23 1-18 1 8 1-31 1 33 1-24 1 9 1-8 1 17 1 9 1 4 1-3 1 47 1-29 1-16 1 33 1-35 1-26 1-12 1 20 1 3 1-33 1-20 1 34 1 8 1 9 1 4 1 25 1-37 1 44 1 2 1-4 1-26 1-4 1-15 1-15 1-22 1 38 1-30 1-1 1-27 1-25 1 43 1-2 1-3 1 6 1-1 1 24 1 28 1 0 1-40 1 9 1 8 1-23 1 8 1 18 1-43 1 20 1 5 1-3 1 2 1 21 1-15 1-35 1 10 1 29 1-27 1 1 1-15 1 0 1-2 1 1 1 14 1 28 1-34 1 8 1 19 1-33 1 6 1 14 1 22 1-41 1 23 1 51 1-6 1 17 1 1 1 5 1 8 1-26 1 16 1 1 1 1 1-31 1 11 1 0 1-24 1 20 1-4 1 1 1-33 1 65 1-41 1-41 1 44 1-1 1 21 1-14 1 3 1 15 1-35 1 26 1-48 1 11 1-10 1 15 1 14 1 0 1 7 1-4 1 17 1-22 1 20 1-11 1 26 1-40 1 45 1-30 1-4 1 25 1-10 1-3 1 0 1 10 1-29 1 0 1-14 1-6 1 37 1 3 1 2 1 12 1 14 1 4 1-50 1 25 1 16 1 11 1 16 1-20 1 6 1 2 1-23 1 13 1-12 1 15 1-28 1 21 1 8 1 8 1 4 1-3 1 27 1-45 1-1 1 12 1 14 1-34 1 44 1-22 1-22 1 12 1 37 1-7 1-31 1-8 1-7 1 26 1-13 1 14 1-22 1 26 1-1 1 20 1-2 1 5 1-11 1 20 1-9 1-37 1-35 1-20 1-62 1 16 1-11 1 5 1-13 1 21 1 45 1 41 1-7 1 16 1-26 1 17 1 27 1 0 1 30 1-39 1 3 1 8 1-1 1 2 1 24 1-11 1-26 1 24 1-10 1 0 1 13 1-10 1-10 1 33 1 1 1 4 1 8 1-19 1-8 1 24 1-7 1-48 1 29 1-4 1 15 1-22 1 12 1-61 1-20 1 47 1-51 1-40 1-5 1-17 1 12 1 18 1-7 1-22 1 3 1 37 1 23 1 3 1-31 1 40 1 15 1 6 1-1 1 50 1 9 1 13 1-24 1 37 1-26 1-22 1 6 1-6 1-40 1 20 1 33 1-28 1 26 1-7 1 22 1 9 1-28 1 25 1-11 1 20 1 1 1-16 1 29 1-22 1 8 1-8 1 9 1 19 1 2 1-4 1-30 1 22 1-12 1-6 1-31 1 21 1-13 1-21 1-30 1 2 1-5 1 12 1 5 1-14 1-12 1-31 1 22 1-13 1-40"/>
<path class="ln" stroke="#fd7c1a" transform="translate(826.15 653.80) scale(0.5 -0.1)" d="M0 0 l1 0 1 0 1 0 1 0 1 0 1 0 1 0 1 0 1 0 1 0 1 0 1 0 1 0 1 0 1 0 1 0 1 0 1 0 1 0 1 0 1 0 1 0 1 0 1 0 1 0 1 0 1 0 1 0 1 0 1 0 1 0 1 0 1 0 1 0 1 0 1 0 1 0 1 0 1 0 1 0 1 0 1 0 1 0 1 0 1 0 1 0 1 0 1 0 1 0 1 0 1 0 1 0 1 0 1 0 1 0 1 1 1-1 1 1 1-1 1 1 1 0 1 0 1 0 1 0 1 0 1 0 1 0 1 0 1 0 1 0 1 0 1 0 1 0 1 0 1 0 1 0 1 0 1 0 1 0 1 0 1 0 1 0 1 0 1 0 1 0 1 0 1 0 1 0 1 0 1 0 1 0 1 0 1 0 1 0 1 0 1 0 1 0 1 0 1 0 1 0 1 0 1 0 1 0 1 0 1 0 1 0 1 0 1 0 1 0 1 0 1 0 1 0 1 0 1 0 1 0 1 0 1 0 1 0 1 0 1 0 1 0 1 0 1 0 1 0 1 0 1 0 1 0 1 0 1 0 1 0 1 0 1 0 1 0 1 0 1 0 1 0 1 0 1 0 1 1 1 0 1 0 1 0 1 0 1 0 1 0 1 0 1 0 1 0 1-1 1 1 1 0 1 0 1-1 1 1 1 0 1-1 1 1 1 0 1 0 1 0 1 0 1 0 1 0 1 0 1 0 1 0 1 0 1 0 1-1 1 0 1 1 1 0 1-1 1 1 1-1 1 0 1 0 1 0 1 1 1-1 1 0 1 0 1 0 1 0 1 1 1-1 1 0 1 1 1 0 1 0 1 0 1 0 1 0 1 0 1 0 1 0 1 0 1 0 1 0 1 0 1 0 1 0 1 0 1 0 1 0 1 0 1 0 1 0 1 0 1 0 1 0 1 0 1 0 1 0 1 0 1 0 1 0 1 0 1 0 1 0 1 0 1 0 1 0 1 0 1 0 1 0 1 0 1 0 1 0 1 0 1 0 1 0 1 0 1 0 1 0 1 0 1 0 1 0 1 0 1 0 1 0 1 0 1 0 1 0 1 1 1-1 1 0 1 0 1 1 1-1 1 0 1 0 1 0 1 0 1 0 1 0 1 0 1 0 1 0 1 1 1-1 1 1 1-1 1 0 1 1 1-1 1 0 1 1 1 0 1 0 1 0 1-1 1 1 1 0 1 0 1 0 1-1 1 0 1 0 1 0 1 0 1 0 1 1 1 0 1 0 1 0 1 0 1 0 1 0 1 0 1 0 1 0 1 0 1 0 1 0 1-1 1 0 1 1 1-1 1 0 1 0 1 0 1 0 1 0 1 1 1-1 1 0 1 0 1 1 1 0 1 0 1 0 1 0 1 0 1 0 1 0 1 0 1 0 1 0 1 0 1 0 1 0 1 0 1 0 1 0 1 0 1 0 1 0 1 0 1 0 1-1 1 1 1 0 1 0 1 0 1 0 1 0 1 0 1 0 1 0 1 0 1 0 1-1 1 1 1 0 1 0 1 0 1 0 1 0 1 0 1 0 1 1 1-1 1 0 1 1 1 0 1 0 1 0 1 0 1 0 1 0 1 0 1 0 1-1 1 1 1 0 1-1 1 0 1 0 1 0 1 0 1 0 1 0 1 1 1 0 1 0 1 0 1 0 1 0 1-1 1 1 1-1 1 0 1 1 1-1 1 1 1 0 1 0 1 0 1 0 1-1 1 0 1 1 1 0 1-1 1 1 1-1 1 1 1 0 1 0 1 0 1 0 1 0 1 0 1 0 1 0 1 0 1 0 1 0 1 0 1-1 1 1 1 0 1-1 1 1 1 0 1-1 1 1 1 0 1 0 1 0 1 1 1-1 1 0 1 1 1-1 1 1 1-1 1 0 1 0 1 1 1 0 1-1 1 0 1 1 1-1 1 1 1-1 1 0 1 0 1 0 1 1 1 0 1 0 1 0 1 0 1-1 1 1 1-1 1 0 1 1 1-1 1 0 1 1 1 0 1 0 1-1 1 0 1 1 1 0 1-1 1 1 1-1 1 0 1 1 1-1 1 1 1 0 1 0 1 0 1 0 1 0 1 0 1 0 1 0 1 0 1 0 1 0 1 0 1-1 1 1 1-1 1 1 1 0 1 0 1-1 1 0 1 0 1 0 1 0 1 0 1-1 1 1 1 0 1 0 1-1 1 1 1 1 1-1 1-1 1 1 1 1 1 0 1 0 1 2 1-1 1 0 1 0 1 0 1 1 1 0 1-1 1 1 1 1 1-1 1 1 1-1 1 0 1 1 1 2 1-1 1 0 1 1 1-2 1 1 1 0 1 1 1 0 1 1 1 0 1 0 1 0 1 1 1-2 1 1 1 0 1-1 1 1 1 0 1 0 1-1 1 0 1 1 1 1 1 0 1-1 1 0 1 1 1 1 1 0 1 1 1-2 1 0 1 1 1-2 1 0 1 1 1 1 1 0 1 0 1 0 1 1 1 1 1-2 1 3 1-2 1-1 1 2 1 0 1 5 1 0 1 1 1-1 1 2 1-4 1 0 1 8 1-2 1-6 1-2 1 2 1-2 1 4 1-3 1 5 1 1 1-1 1 4 1-1 1 1 1 4 1-2 1 2 1 3 1 0 1-1 1 2 1 0 1-6 1 5 1 1 1-3 1 5 1 1 1 9 1 0 1 5 1-2 1 18 1 2 1-10 1-3 1 4 1-2 1 17 1-29 1 21 1-6 1-9 1-11 1 5 1 5 1 10 1-5 1-19 1 10 1 26 1-4 1-30 1 25 1-10 1 4 1 15 1-7 1-11 1 8 1 9 1-8 1-3 1-18 1 3 1 15 1 13 1-32 1 16 1 5 1 1 1 4 1 6 1 8 1-11 1 27 1-7 1-2 1 0 1-10 1-18 1 6 1 8 1-1 1 6 1 16 1-8 1 35 1 3 1-23 1-1 1 10 1-3 1 2 1-14 1-3 1-6 1 9 1-3 1 5 1-1 1-21 1 12 1-5 1-4 1 6 1 16 1-4 1 15 1-5 1-4 1-16 1 19 1-30 1 21 1-8 1-6 1-12 1 26 1-30 1 24 1 28 1-7 1-13 1 12 1 1 1-17 1-19 1-1 1 5 1 0 1-20 1-5 1 14 1-9 1 3 1 6 1-3 1 10 1-12 1 52 1-6 1-27 1 16 1 8 1-20 1-2 1 14 1 0 1-13 1 18 1 3 1 7 1 9 1-4 1 4 1-13 1-29 1 8 1 10 1 22 1 16 1-41 1 8 1 15 1 42 1 12 1-19 1 10 1 9 1 8 1-23 1 18 1-24 1 38 1-7 1-4 1 9 1-2 1-5 1 0 1-1 1-14 1 9 1-10 1-2 1-19 1-8 1 1 1 20 1 9 1-15 1 20 1 12 1-8 1 9 1 28 1 5 1 9 1 6 1-2 1-3 1-15 1 16 1 24 1-7 1 16 1-5 1 3 1 21 1 22 1 4 1 3 1 2 1-2 1 24 1-11 1-40 1 13 1 7 1 1 1 3 1-10 1 10 1-21 1 31 1-20 1-15 1 3 1 23 1-25 1 2 1 2 1-1 1 5 1-10 1-27 1-8 1 24 1-11 1 22 1 11 1-1 1 11 1 15 1 7 1 1 1 5 1-8 1-24 1 28 1 1 1 3 1-6 1 8 1-4 1 42 1-22 1-15 1-3 1 53 1-18 1 28 1-8 1-20 1 16 1 16 1 0 1-13 1 11 1 24 1-36 1 4 1 4 1 31 1 6 1-10 1-33 1 17 1 15 1-34 1-6 1 2 1-21 1 29 1-19 1 7 1 2 1 12 1 2 1 14 1-16 1 25 1 18 1 25 1-13 1-22 1 0 1 10 1 2 1 23 1-11 1 1 1 40 1 6 1-1 1-10 1 20 1-11 1 14 1 7 1-14 1 0 1 6 1-2 1 20 1-2 1-2 1 7 1-7 1-10 1-6 1 12 1-14 1 4 1-25 1-26 1 28 1-4 1 7 1 14 1-30 1 26 1-26 1 12 1 16 1-12 1-1 1 9 1-3 1-10 1 6 1 16 1-12 1 28 1 30 1-12 1-11 1 4 1 6 1-6 1-5 1 4 1-33 1 19 1-10 1-16 1 1 1-4 1-3 1-11 1-4 1 1 1-2 1 27 1 8 1-15 1 3 1 12 1 24 1-3 1 29 1 2 1 9 1 5 1 6 1 19 1-1 1 0 1-4 1 19 1-17 1 4 1 24 1-26 1 13 1-9 1-11 1 18 1 7 1-14 1-3 1 7 1 10 1-37 1 16 1-15 1 18 1-30 1 14 1-10 1-1 1 4 1 2 1 5 1-1 1-2 1-12 1 4 1-7 1 0 1 5 1-13 1 0 1 17 1 2 1 12 1 5 1 12 1 13 1-21 1 32 1-1 1-8 1-9"/>
<rect x="801.00" y="418.70" width="553.20" height="246.30" fill="none" stroke="#d0d0d0" stroke-width="1.7"/>
<g class="tk">
<text transform="translate(826.1 688.0) scale(1 1.12)" text-anchor="middle">0.0</text>
<text transform="translate(926.3 688.0) scale(1 1.12)" text-anchor="middle">0.2</text>
<text transform="translate(1026.4 688.0) scale(1 1.12)" text-anchor="middle">0.4</text>
<text transform="translate(1126.5 688.0) scale(1 1.12)" text-anchor="middle">0.6</text>
<text transform="translate(1226.6 688.0) scale(1 1.12)" text-anchor="middle">0.8</text>
<text transform="translate(1326.8 688.0) scale(1 1.12)" text-anchor="middle">1.0</text>
<text transform="translate(793.0 661.2) scale(1 1.12)" text-anchor="end">0.00</text>
<text transform="translate(793.0 605.2) scale(1 1.12)" text-anchor="end">0.25</text>
<text transform="translate(793.0 549.2) scale(1 1.12)" text-anchor="end">0.50</text>
<text transform="translate(793.0 493.3) scale(1 1.12)" text-anchor="end">0.75</text>
<text transform="translate(793.0 437.3) scale(1 1.12)" text-anchor="end">1.00</text>
<text transform="translate(1352.7 713.2) scale(1 1.12)" text-anchor="end" style="font-size:20.2px">1e7</text>
</g>
<text class="tt" x="1078.0" y="411.4" text-anchor="middle">3s5z_vs_3s6z (super hard)</text>
</g>
<g>
<path d="M1435.65 418.70V665.00M1535.77 418.70V665.00M1635.89 418.70V665.00M1736.01 418.70V665.00M1836.13 418.70V665.00M1936.25 418.70V665.00M1410.50 653.80H1963.70M1410.50 597.83H1963.70M1410.50 541.85H1963.70M1410.50 485.87H1963.70M1410.50 429.90H1963.70" stroke="#d0d0d0" stroke-width="1.7" fill="none"/>
<path class="bd" fill="#db1d28" transform="translate(1435.65 653.80) scale(1.5 -0.1)" d="M16 0 l1 5 1 15 1 14 1 19 1 38 1 33 1 83 1 96 1 80 1 81 1 44 1 112 1 126 1 90 1 111 1 93 1 130 1 57 1 87 1 57 1 144 1 69 1 55 1 43 1-11 1 65 1-34 1 32 1-2 1-10 1 25 1 54 1-3 1-9 1 36 1 46 1 35 1 14 1-12 1-19 1 25 1-28 1 20 1 17 1 43 1-32 1 23 1 11 1-14 1 34 1-21 1-29 1-1 1 42 1-19 1 66 1-18 1 18 1-51 1 26 1-39 1 30 1 5 1-38 1 24 1 27 1 18 1 8 1 26 1-58 1 34 1 26 1-14 1 35 1-34 1 27 1 3 1 25 1-30 1-8 1 29 1-16 1-10 1-18 1 39 1-13 1 6 1 16 1-6 1-1 1-20 1 28 1 14 1-10 1-3 1 4 1 7 1 10 1-1 1-20 1 24 1-38 1 22 1 5 1 3 1 15 1-16 1-43 1 64 1-20 1-26 1 24 1 38 1-22 1 6 1-3 1-26 1 48 1-30 1 19 1 16 1-43 1 45 1-59 1 32 1-40 1 3 1 33 1 11 1-33 1 13 1-15 1 15 1-25 1 58 1-41 1 10 1-13 1-24 1 51 1 2 1-21 1 7 1 19 1-6 1-17 1-8 1 17 1-37 1 53 1-17 1 16 1-4 1-16 1 22 1 3 1-11 1-1 1 16 1-17 1 15 1-8 1-48 1 11 1 5 1 54 1 3 1-1 1 0 1-16 1 6 1 20 1-36 1 20 1 16 1-6 1-4 1 19 1-4 1 13 1-11 1 0 1 10 1-2 1-4 1 5 1 4 1-7 1-3 1-1 1-6 1 3 1 18 1-13 1 9 1-26 1 4 1 10 1-3 1 15 1-6 1-12 1-6 1 14 1 8 1-6 1 3 1-14 1-7 1 27 1-17 1 8 1 8 1-11 1-8 1 11 1-5 1-13 1-9 1 27 1-32 1 32 1-1 1 7 1 2 1-20 1 15 1-6 1 15 1-12 1-2 1 18 1-22 1 10 1-3 1 4 1 8 1-6 1 4 1-14 1 11 1 4 1-7 1 8 1-11 1 7 1-1 1-11 1 16 1 0 1-2 1-4 1 1 1 1 1-9 1 17 1-15 1 9 1-5 1 4 1 1 1 3 1-7 1-4 1 7 1-4 1-10 1 11 1 3 1 1 1 1 1-7 1 3 1-3 1 6 1-3 1 0 1 3 1-1 1-2 1-1 1 1 1 1 1 0 1-3 1-3 1 24 1-18 1 1 1-5 1 4 1 0 1-8 1 9 1-1 1 2 1-12 1 10 1-8 1 6 1 8 1-6 1 2 1 1 1-8 1 9 1-9 1 6 1-3 1 0 1 3 1-6 1 4 1 1 1-2 1 5 1-3 1-4 0-150 -1-35 -1 50 -1-15 -1-15 -1 2 -1-6 -1-4 -1 40 -1-30 -1 13 -1-14 -1-16 -1 38 -1-42 -1 41 -1-23 -1 37 -1-38 -1-2 -1-10 -1 14 -1 12 -1-21 -1 54 -1-65 -1 76 -1-29 -1-50 -1-4 -1 30 -1 32 -1-13 -1-16 -1 55 -1-36 -1 51 -1-73 -1 59 -1-39 -1-43 -1 14 -1-12 -1 66 -1-3 -1-31 -1-24 -1 15 -1-38 -1 34 -1 28 -1-9 -1-17 -1-34 -1 19 -1 11 -1-1 -1 30 -1-46 -1-8 -1 35 -1-2 -1 2 -1-2 -1 12 -1-45 -1 39 -1-33 -1 33 -1-7 -1-18 -1 2 -1 25 -1-45 -1 54 -1-47 -1 45 -1-13 -1 0 -1 25 -1-15 -1-4 -1 7 -1-31 -1 13 -1-17 -1 0 -1-8 -1 28 -1 37 -1-33 -1-25 -1 23 -1-8 -1-30 -1 16 -1-20 -1 19 -1 16 -1-30 -1 11 -1-14 -1 5 -1 1 -1 3 -1 11 -1-10 -1 20 -1-32 -1 13 -1 21 -1-23 -1-6 -1 23 -1 15 -1-56 -1 19 -1-17 -1 35 -1-23 -1-4 -1-4 -1 9 -1-15 -1 36 -1-17 -1 27 -1-6 -1 40 -1 2 -1-72 -1 0 -1 26 -1-2 -1 5 -1-4 -1-14 -1-43 -1 34 -1-21 -1-13 -1 18 -1 18 -1-37 -1 8 -1 6 -1-2 -1 8 -1-5 -1 19 -1-9 -1 6 -1-6 -1-30 -1 6 -1 4 -1-4 -1 27 -1-22 -1-6 -1-11 -1 29 -1 28 -1-83 -1 10 -1 4 -1-19 -1 14 -1 26 -1-29 -1-13 -1 20 -1 26 -1-7 -1-18 -1 11 -1-40 -1 16 -1 19 -1-26 -1-10 -1 4 -1 12 -1 12 -1-16 -1 19 -1-21 -1 13 -1 26 -1 0 -1-21 -1-33 -1 2 -1 3 -1 1 -1 32 -1-20 -1 16 -1-17 -1 1 -1 59 -1-65 -1 64 -1-70 -1 35 -1-80 -1 70 -1-1 -1-33 -1 2 -1-12 -1-22 -1 24 -1-28 -1 58 -1-24 -1-60 -1 33 -1-3 -1-13 -1-28 -1-4 -1-28 -1 11 -1 60 -1-31 -1 20 -1-2 -1-34 -1 69 -1-85 -1 29 -1-7 -1-46 -1 60 -1-59 -1 14 -1-39 -1 10 -1-33 -1 6 -1 20 -1-25 -1 51 -1 8 -1-82 -1-14 -1 5 -1 60 -1-89 -1-41 -1 29 -1-28 -1 35 -1-37 -1 23 -1-24 -1-78 -1-40 -1-8 -1-8 -1 48 -1-63 -1-75 -1 24 -1-74 -1-102 -1-100 -1-45 -1-28 -1 48 -1-77 -1 27 -1 28 -1-4 -1-5 -1-31 -1-56 -1 78 -1 4 -1-16 -1-204 -1-125 -1-158 -1-110 -1-71 -1-64 -1 16 -1-4 -1-94 -1 82 -1-56 -1 20 -1-121 -1-3 -1-23 -1-55 -1-14 -1-27 -1-21 -1-35 -1-13 -1 0 -1 0 -1 0 -1 0 -1 0 -1 0 -1 0 -1 0 -1 0 -1 0 -1 0 -1 0 -1 0 -1 0 -1 0 -1 0 -1 0z"/>
<path class="bd" fill="#2ba02e" transform="translate(1435.65 653.80) scale(1.5 -0.1)" d="M36 0 l1 3 1 11 1 11 1 13 1 12 1 8 1 13 1 15 1 5 1 0 1 36 1 14 1 18 1 77 1 26 1 19 1 13 1 77 1 24 1-20 1 44 1 15 1 74 1 0 1 62 1 11 1 2 1 44 1 14 1 5 1 52 1-38 1 34 1 82 1-59 1 103 1-8 1 12 1 3 1 18 1 84 1 70 1 11 1-40 1 90 1-31 1-9 1 31 1 62 1-2 1 23 1 73 1 2 1-40 1 28 1 2 1 50 1-7 1 81 1-7 1 31 1 9 1-23 1 19 1-49 1 83 1-11 1 13 1 23 1 10 1 71 1-21 1-15 1 5 1 36 1 39 1-30 1-50 1 99 1 23 1-42 1 26 1 1 1-71 1 25 1-72 1 53 1-31 1 77 1 12 1 28 1-18 1-40 1 29 1-36 1-34 1 97 1-51 1-10 1-19 1 9 1 15 1 31 1 89 1-33 1 2 1-39 1-40 1 52 1-26 1 85 1-81 1 50 1-3 1 18 1-27 1 16 1 34 1-6 1 11 1 12 1-48 1 76 1-55 1 69 1-62 1 53 1-45 1-24 1 96 1-61 1 4 1 60 1 7 1-12 1-44 1-13 1 10 1 1 1 31 1-41 1-4 1-19 1-5 1 10 1 76 1 0 1-10 1 10 1-20 1-16 1-2 1 27 1 50 1-4 1-8 1-32 1-2 1-2 1 64 1 2 1-70 1 30 1 39 1-7 1-25 1 35 1-6 1-27 1 47 1-16 1-32 1-16 1 51 1-2 1 27 1-38 1 14 1-17 1-27 1 68 1 7 1-11 1-34 1-7 1 66 1-27 1 8 1 5 1-62 1 0 1 25 1 7 1-19 1 45 1 1 1-27 1-30 1 50 1-25 1 28 1-11 1-14 1 22 1 10 1-17 1-18 1 16 1 33 1 18 1-62 1 38 1-23 1 1 1-15 1 33 1-14 1 37 1 1 1-12 1 0 1-2 1-16 1 40 1-31 1-18 1 23 1 8 1 1 1-49 1 52 1-59 1 34 1-15 1 4 1-34 1 36 1-4 1 53 1-6 1-4 1-12 1 16 1 6 1 10 1-12 1 20 1-4 1 4 1-27 1 5 1-4 1 9 1-28 1-9 1 28 1-7 1 14 1-25 1 17 1 26 1 13 1-16 1-14 1 20 1 14 1-39 1 6 1 23 1-32 1-21 1 3 1 38 1-1 1-1 1 14 1 4 1 6 1 6 1-8 1-22 1-16 1 54 1-36 1 27 1-3 1-10 1 16 1-5 1 5 1-16 1-5 1-37 1 13 1 31 1-26 1 15 1 15 0-336 -1 0 -1-4 -1 55 -1 19 -1 32 -1-76 -1 68 -1-45 -1-19 -1 109 -1-24 -1 27 -1-21 -1-55 -1 47 -1-38 -1-2 -1-36 -1-10 -1-21 -1-33 -1-35 -1 82 -1-65 -1 12 -1-20 -1 14 -1 81 -1-86 -1 99 -1-53 -1 9 -1 12 -1-82 -1 73 -1 65 -1-94 -1 66 -1-76 -1-21 -1 72 -1-83 -1 3 -1 45 -1-67 -1-8 -1 33 -1 16 -1-12 -1-30 -1-1 -1 1 -1 121 -1-61 -1-49 -1 46 -1-25 -1 107 -1-25 -1-76 -1 67 -1-59 -1-4 -1-42 -1-25 -1 22 -1-9 -1-26 -1 14 -1 9 -1 25 -1-2 -1-90 -1 26 -1 29 -1-23 -1-40 -1-1 -1 0 -1 90 -1-69 -1 95 -1-112 -1 41 -1-21 -1 32 -1 39 -1-70 -1 35 -1-23 -1 97 -1-78 -1 33 -1 19 -1-19 -1-93 -1 107 -1-116 -1 2 -1 0 -1 18 -1 27 -1 59 -1-112 -1 65 -1-24 -1 101 -1-51 -1-76 -1 9 -1 28 -1-29 -1 59 -1-73 -1 41 -1-6 -1-45 -1 166 -1-130 -1-14 -1 65 -1-69 -1-8 -1 40 -1 73 -1-31 -1-81 -1 60 -1-38 -1 52 -1 18 -1-53 -1-60 -1 33 -1 15 -1-53 -1-53 -1 65 -1-50 -1 43 -1 25 -1 16 -1-58 -1 62 -1-52 -1-101 -1-33 -1 107 -1-93 -1 1 -1 27 -1 62 -1-6 -1-11 -1-44 -1 3 -1-8 -1 20 -1-61 -1 75 -1-116 -1 81 -1 35 -1 7 -1-119 -1-29 -1 117 -1-65 -1-35 -1 74 -1-42 -1 9 -1-18 -1 20 -1-6 -1-112 -1-17 -1 36 -1 18 -1-97 -1 53 -1 6 -1-71 -1 39 -1 35 -1-92 -1 30 -1-17 -1 87 -1-49 -1-5 -1 6 -1-77 -1 91 -1 32 -1-140 -1 36 -1-50 -1-22 -1 14 -1 82 -1-45 -1 1 -1-58 -1-55 -1 89 -1-63 -1 14 -1-60 -1 67 -1 52 -1-118 -1 40 -1 11 -1 39 -1 3 -1-98 -1-75 -1-4 -1 19 -1-28 -1-27 -1 6 -1-28 -1-13 -1-56 -1 38 -1-32 -1 71 -1-33 -1-51 -1 51 -1-81 -1 16 -1-52 -1-44 -1 112 -1-25 -1-108 -1-53 -1 59 -1-50 -1 74 -1 10 -1-159 -1 6 -1 20 -1-48 -1 59 -1-85 -1-31 -1 20 -1 85 -1 2 -1-126 -1 78 -1-70 -1 31 -1 33 -1-93 -1 36 -1-15 -1-18 -1-2 -1-42 -1 38 -1-22 -1-50 -1-25 -1 6 -1-29 -1 17 -1 10 -1-43 -1-10 -1-15 -1-28 -1-1 -1 2 -1-24 -1-1 -1-20 -1-10 -1-11 -1 0 -1 0 -1 0 -1 0 -1 0 -1 0 -1 0 -1 0 -1 0 -1 0 -1 0 -1 0 -1 0 -1 0z"/>
<path class="bd" fill="#1576b3" transform="translate(1435.65 653.80) scale(1.5 -0.1)" d="M30 0 l1 28 1 33 1 57 1 63 1 57 1 41 1-9 1 80 1 100 1 1 1 98 1 151 1 108 1 21 1 125 1 55 1 45 1-30 1 27 1 91 1 22 1 10 1 13 1 30 1-76 1 62 1 48 1 9 1 2 1-71 1 73 1-70 1 29 1 13 1 15 1-9 1 71 1 5 1 27 1-41 1 9 1 83 1 51 1 50 1-55 1 25 1-44 1 5 1 36 1 33 1-5 1-68 1 20 1 26 1 30 1 42 1 43 1 1 1-13 1 39 1 52 1-47 1 106 1-13 1-38 1 8 1 76 1-31 1-20 1-12 1 108 1-66 1 47 1 34 1-47 1 19 1 35 1-7 1-6 1 24 1-45 1 33 1 40 1 30 1-14 1-44 1 15 1 42 1-31 1 61 1-7 1-28 1 15 1-16 1 78 1-26 1-61 1 73 1 29 1-29 1 26 1-24 1 42 1-46 1 16 1-27 1 44 1-2 1 5 1-35 1-4 1-24 1 79 1-79 1 85 1-51 1 2 1-30 1-9 1 32 1-26 1 19 1 10 1 14 1-35 1 60 1-67 1 41 1 0 1-15 1 20 1-7 1-25 1 74 1-60 1-1 1 2 1 87 1-54 1 0 1-5 1 40 1-16 1-2 1 30 1-15 1-16 1-12 1 26 1 25 1 3 1-84 1 17 1 33 1 18 1-17 1 3 1 19 1 34 1-85 1 27 1 54 1-13 1-18 1-12 1 7 1 45 1 0 1-33 1-7 1 31 1-15 1-37 1 67 1-53 1 57 1 9 1-11 1-76 1 57 1-8 1 21 1-31 1 28 1-21 1-5 1 23 1-2 1-4 1-21 1 11 1-32 1 49 1 5 1 4 1-3 1-21 1-16 1 5 1 58 1 3 1-10 1-31 1 37 1-68 1-23 1 5 1 65 1-59 1 7 1 65 1 19 1-89 1 63 1-30 1 16 1 12 1 30 1-7 1-20 1-21 1 25 1 18 1-11 1 21 1-29 1 27 1 4 1-4 1-3 1 5 1 12 1-23 1 47 1-37 1-6 1-5 1-8 1-55 1 49 1 29 1-12 1-4 1 37 1-18 1 2 1 6 1-3 1-1 1 9 1-6 1-35 1 7 1 19 1 8 1-15 1 14 1 0 1 39 1-33 1 0 1-24 1 21 1-7 1 4 1 12 1-28 1 22 1 3 1-1 1 2 1-14 1-3 1 21 1-32 1 27 1-24 1 3 1 1 1 30 1-15 1 5 1-17 1 7 1-10 1 9 1-5 1 6 1 7 1-15 1 25 1 5 1-8 1-13 1 9 1-20 1 23 1-10 1-22 1 29 1-20 1 25 1-1 1-13 0-205 -1-90 -1 64 -1-21 -1-30 -1 75 -1-52 -1 7 -1 45 -1-17 -1-43 -1 12 -1-34 -1-43 -1 15 -1 98 -1-35 -1-36 -1-41 -1 81 -1-65 -1-12 -1-17 -1 146 -1-20 -1-16 -1-95 -1 10 -1 47 -1-22 -1-65 -1 27 -1 107 -1-10 -1-28 -1 34 -1-57 -1 27 -1 49 -1-122 -1 58 -1-58 -1-25 -1 20 -1 100 -1-131 -1 113 -1-115 -1 111 -1 21 -1 10 -1-20 -1-31 -1-50 -1 46 -1-82 -1 62 -1-52 -1 116 -1-121 -1 28 -1 51 -1 25 -1-74 -1-49 -1 41 -1 50 -1-59 -1-26 -1 113 -1 30 -1-34 -1-6 -1-50 -1-11 -1 47 -1 10 -1-51 -1-125 -1 40 -1 52 -1-96 -1 69 -1-47 -1-52 -1-6 -1 57 -1-16 -1 15 -1-38 -1 32 -1-43 -1 51 -1-13 -1-52 -1-164 -1-790 -1 967 -1 17 -1-22 -1-35 -1 49 -1 30 -1-114 -1 48 -1-20 -1 26 -1 14 -1 19 -1-61 -1 32 -1-30 -1 78 -1-46 -1 61 -1-35 -1-17 -1 68 -1-78 -1-37 -1 69 -1-37 -1-73 -1 35 -1 0 -1-5 -1 18 -1-20 -1 100 -1-74 -1 63 -1-43 -1-54 -1 62 -1-97 -1-9 -1 59 -1-36 -1-2 -1-53 -1 2 -1-36 -1 67 -1-18 -1-59 -1-35 -1 107 -1-70 -1-62 -1 17 -1-22 -1-72 -1 25 -1-16 -1 32 -1 44 -1-39 -1 1 -1-22 -1-61 -1 25 -1-88 -1-62 -1 41 -1 10 -1-72 -1 71 -1-59 -1 8 -1-36 -1-17 -1-70 -1-30 -1-17 -1 61 -1-81 -1-59 -1-114 -1 101 -1-132 -1 62 -1-38 -1 14 -1-63 -1 80 -1-32 -1-135 -1 6 -1-44 -1 65 -1-83 -1-197 -1-50 -1 94 -1 127 -1-134 -1 38 -1-7 -1-4 -1-58 -1-1 -1 23 -1-20 -1-33 -1-78 -1-9 -1 35 -1 80 -1-138 -1 73 -1 9 -1-84 -1 12 -1-9 -1-22 -1-38 -1 40 -1-105 -1 9 -1-27 -1-28 -1 55 -1-48 -1-35 -1 17 -1-25 -1 57 -1-14 -1-30 -1-3 -1 26 -1-48 -1 37 -1 2 -1-9 -1-35 -1 4 -1 21 -1 5 -1-30 -1 17 -1 4 -1-22 -1 12 -1-20 -1 2 -1 6 -1-9 -1-6 -1 3 -1-3 -1 7 -1-1 -1 5 -1-9 -1 0 -1 1 -1 8 -1-8 -1-2 -1 0 -1-3 -1 0 -1-2 -1 0 -1-1 -1-1 -1 2 -1-4 -1-2 -1-1 -1-1 -1-1 -1-1 -1-1 -1-1 -1-2 -1-1 -1 0 -1 0 -1 0 -1 0 -1 0 -1 0 -1 0 -1 0 -1 0 -1 0 -1 0 -1 0 -1 0 -1 0 -1 0 -1 0 -1 0 -1 0 -1 0 -1 0 -1 0 -1 0 -1 0 -1 0 -1 0 -1 0 -1 0z"/>
<path class="bd" fill="#fd7c1a" transform="translate(1435.65 653.80) scale(1.5 -0.1)" d="M37 2 l1 6 1 7 1 6 1 7 1 5 1 10 1 15 1 39 1 33 1 6 1 11 1 5 1 24 1 35 1-20 1 72 1-19 1 50 1 4 1 18 1 32 1-9 1 32 1 16 1-9 1 61 1 4 1-26 1 5 1 82 1-71 1 87 1-24 1 12 1 54 1 21 1-15 1-16 1 17 1 39 1-41 1-16 1 18 1 39 1 7 1-11 1 81 1-39 1 16 1 61 1-96 1 1 1 41 1 70 1-49 1 80 1-1 1 13 1 17 1 37 1-25 1 28 1-26 1 33 1-22 1-34 1 31 1 50 1 29 1 11 1 7 1 5 1 6 1-6 1 3 1 19 1-45 1 4 1 28 1 29 1-83 1 65 1-44 1 57 1-15 1 45 1-12 1 39 1-20 1-6 1 63 1-58 1 28 1 38 1 19 1 4 1 59 1-79 1 81 1-15 1 13 1 36 1-2 1-22 1 49 1-74 1 2 1 23 1-28 1 25 1 44 1-38 1 41 1 27 1-19 1 71 1-6 1-47 1-21 1 101 1-69 1 49 1 30 1 17 1-87 1 21 1 86 1 7 1-47 1 33 1-57 1 42 1-32 1 25 1-27 1-17 1 39 1-9 1 11 1 83 1-48 1 34 1-34 1 44 1 3 1 39 1-47 1 11 1 3 1 26 1-23 1 62 1 19 1 26 1 15 1 4 1 9 1-30 1 2 1-1 1 5 1 48 1-20 1 21 1 13 1-40 1-29 1 88 1-61 1 43 1-5 1 33 1-42 1-39 1 60 1-9 1-48 1 30 1-13 1 13 1-23 1 59 1 8 1 8 1 22 1-17 1 21 1-16 1 20 1 0 1-66 1 56 1-70 1 44 1-56 1 86 1-28 1-7 1-9 1 37 1 4 1-17 1 1 1 50 1-80 1-12 1 25 1 41 1 36 1-54 1-16 1 64 1-1 1-40 1 18 1-15 1 1 1 11 1 48 1-63 1-18 1 49 1-71 1 10 1 51 1 4 1-5 1 6 1 40 1-54 1 26 1-33 1 84 1-65 1-20 1 18 1 8 1 52 1-11 1-28 1 27 1 38 1-39 1 26 1-16 1-13 1-20 1 60 1-38 1 11 1 23 1-1 1-61 1 54 1 17 1-51 1 46 1-5 1-43 1 92 1-6 1 10 1 19 1-65 1 8 1 31 1 22 1-19 1 6 1 22 1-15 1 7 1-18 1-21 1 36 1 0 1-31 1-2 1-12 1 34 1 19 1-20 1-1 1 36 1-31 1 52 1-21 1 3 1 25 1-35 1-1 1 49 1-57 1 37 1-34 1 33 1-11 0-222 -1-19 -1-9 -1 25 -1 6 -1-36 -1 40 -1 7 -1-54 -1 15 -1-4 -1 14 -1-14 -1-9 -1 4 -1 15 -1 7 -1-62 -1 29 -1-56 -1 20 -1 52 -1-5 -1-90 -1 31 -1-61 -1 12 -1 28 -1-37 -1-26 -1 47 -1-8 -1 12 -1 12 -1 12 -1-67 -1-9 -1 7 -1-17 -1-29 -1-11 -1-7 -1-2 -1-10 -1 25 -1-9 -1 15 -1-9 -1-13 -1 8 -1-18 -1-58 -1-15 -1 77 -1-103 -1-7 -1 29 -1-23 -1-34 -1-9 -1-1 -1 16 -1 24 -1-105 -1 5 -1 16 -1 99 -1 13 -1-97 -1-65 -1-14 -1 40 -1-50 -1 91 -1 14 -1-119 -1 1 -1-37 -1-43 -1-90 -1-24 -1 40 -1 4 -1-47 -1-69 -1 16 -1-37 -1 66 -1-71 -1 69 -1-7 -1-141 -1 45 -1-40 -1 76 -1-15 -1 10 -1-26 -1 36 -1-135 -1 34 -1-8 -1-19 -1 78 -1-48 -1-45 -1-52 -1 86 -1-70 -1 13 -1 19 -1 51 -1-94 -1 47 -1-3 -1-100 -1 71 -1-64 -1 121 -1-18 -1 8 -1-5 -1 19 -1-88 -1 51 -1-110 -1 72 -1-60 -1 27 -1-75 -1 28 -1-79 -1 33 -1 8 -1-60 -1 67 -1-21 -1-51 -1 95 -1-87 -1 63 -1-77 -1 44 -1 61 -1-86 -1-23 -1 8 -1-23 -1-10 -1 35 -1 3 -1-23 -1 120 -1-46 -1-118 -1 74 -1-72 -1 100 -1-8 -1-39 -1-63 -1 74 -1-14 -1-46 -1-40 -1-28 -1 36 -1-46 -1-31 -1-29 -1 0 -1 0 -1 24 -1 27 -1-34 -1-3 -1 117 -1-73 -1 35 -1-5 -1-27 -1 71 -1 36 -1-6 -1 3 -1-53 -1 8 -1 118 -1-10 -1-116 -1 56 -1 67 -1-105 -1 94 -1-42 -1 45 -1-54 -1 59 -1-89 -1 89 -1-78 -1 20 -1 99 -1-27 -1-38 -1-25 -1 44 -1 31 -1 1 -1-105 -1 27 -1-104 -1-25 -1-43 -1 67 -1-51 -1 11 -1-3 -1 35 -1-25 -1 11 -1-121 -1-8 -1 30 -1-24 -1 105 -1-54 -1 77 -1-41 -1 5 -1-38 -1-103 -1 134 -1-77 -1-26 -1 70 -1-15 -1 46 -1-106 -1 33 -1 21 -1-46 -1 29 -1-95 -1 122 -1-28 -1 1 -1-91 -1 0 -1 41 -1-46 -1-29 -1 53 -1-62 -1 18 -1 10 -1-13 -1-7 -1 10 -1-9 -1 3 -1-39 -1-2 -1 1 -1-2 -1-8 -1 0 -1-5 -1-1 -1 0 -1 0 -1 0 -1 0 -1 0 -1 0 -1 0 -1 0 -1 0 -1 0 -1 0 -1 0 -1 0 -1 0 -1 0 -1 0 -1 0 -1 0 -1 0 -1 0 -1 0 -1 0 -1 0 -1 0 -1 0 -1 0 -1 0 -1 0 -1 0z"/>
<path class="ln" stroke="#db1d28" transform="translate(1435.65 653.80) scale(0.5 -0.1)" d="M0 0 l1 0 1 0 1 0 1 0 1 0 1 0 1 0 1 0 1 0 1 0 1 0 1 0 1 0 1 0 1 0 1 0 1 0 1 0 1 0 1 0 1 0 1 0 1 0 1 0 1 0 1 0 1 0 1 0 1 0 1 0 1 0 1 0 1 0 1 0 1 0 1 0 1 0 1 0 1 0 1 0 1 0 1 0 1 0 1 0 1 0 1 0 1 0 1 0 1 0 1 0 1 0 1 0 1 0 1 0 1 0 1 0 1 2 1 5 1 7 1 19 1 14 1-2 1-6 1 18 1-11 1 2 1 2 1 45 1-13 1 49 1 18 1 46 1 31 1-8 1-39 1 55 1-27 1 52 1 32 1 10 1-10 1 41 1 22 1 18 1-34 1 52 1-3 1-38 1-8 1 79 1 24 1 84 1-13 1 61 1 8 1 61 1-95 1 56 1-11 1 119 1 17 1 52 1 14 1-15 1-39 1 16 1 2 1-9 1 59 1-40 1-2 1 67 1 7 1 109 1 45 1 3 1-24 1 6 1 11 1 39 1-36 1 93 1-27 1 4 1 8 1 3 1 34 1-24 1 0 1-2 1-5 1-1 1-2 1 39 1 69 1-68 1 16 1-19 1-14 1 25 1 5 1-75 1 26 1 25 1 17 1 58 1-10 1-38 1-34 1 1 1 133 1 123 1 98 1-95 1 114 1 101 1-23 1 10 1-59 1 21 1-4 1-23 1 2 1-7 1 0 1 1 1 9 1 10 1-26 1 40 1-35 1-1 1 14 1 21 1 8 1 12 1-61 1-2 1 45 1 38 1 15 1 48 1-7 1 9 1-27 1 52 1-4 1 1 1 14 1-5 1-11 1 8 1-55 1 97 1-14 1 35 1 4 1-45 1 43 1 12 1 57 1-13 1 15 1-29 1 83 1-40 1 10 1-13 1-13 1 30 1-32 1 16 1 2 1 6 1 5 1 29 1-12 1-31 1-1 1-32 1-9 1 4 1 72 1-37 1 22 1-22 1 43 1 43 1-42 1 32 1-5 1-19 1 25 1 1 1 60 1-42 1 48 1-37 1-28 1 13 1-24 1 10 1 44 1 35 1-34 1-97 1-4 1 12 1 6 1-47 1 4 1 42 1 47 1-40 1 14 1 26 1-13 1 40 1 7 1-20 1 16 1-3 1-1 1 40 1-10 1-9 1 28 1 31 1-57 1 53 1-26 1-15 1-6 1 27 1-44 1 49 1-13 1-2 1-55 1 22 1 24 1-49 1 16 1-24 1 49 1 39 1-2 1-43 1 19 1-4 1-39 1-1 1-10 1-58 1 38 1 1 1-7 1 3 1 34 1 11 1 36 1-10 1-21 1-4 1 42 1-20 1-13 1 60 1-16 1 3 1 13 1-17 1 14 1-24 1 37 1-52 1 28 1 2 1-16 1 56 1-42 1 19 1 8 1-15 1 22 1-1 1 71 1-23 1-29 1 5 1 42 1-49 1 0 1-5 1-16 1-10 1-7 1-14 1-18 1 5 1 1 1-51 1 15 1-28 1 18 1 0 1-12 1 40 1 10 1-7 1 18 1-9 1 11 1 34 1 19 1-25 1-24 1-9 1-2 1 46 1-61 1-36 1-28 1 49 1-19 1 55 1-23 1 67 1-57 1 69 1-21 1-5 1 13 1 60 1-45 1-15 1 41 1 13 1-5 1-30 1 9 1 47 1-35 1-10 1 23 1 18 1-10 1-34 1 49 1 9 1 1 1-9 1 1 1-41 1 14 1 5 1-23 1-19 1-7 1-8 1 3 1 23 1 10 1-17 1-61 1 77 1-24 1-15 1-5 1 11 1 12 1-38 1-8 1 13 1-23 1 21 1 38 1-9 1-17 1-8 1 46 1-30 1-16 1 5 1 27 1-42 1 2 1 14 1 14 1 33 1 3 1 38 1-30 1-46 1 37 1 25 1 2 1-35 1-25 1 40 1-3 1-20 1 0 1 10 1 42 1 1 1-11 1-10 1-51 1-15 1 27 1-11 1 3 1 35 1-47 1-35 1 77 1-34 1-31 1 2 1 10 1 26 1 17 1-27 1-23 1 25 1 3 1 13 1-21 1-48 1 37 1 33 1 9 1 31 1-35 1 40 1 12 1-17 1-16 1-20 1 14 1-14 1-20 1-2 1-30 1 50 1 28 1-17 1-6 1 38 1-30 1 10 1-24 1 27 1-42 1 15 1 21 1 4 1 30 1 16 1-21 1 7 1 13 1-18 1-17 1-16 1-44 1 38 1-14 1 21 1 15 1 47 1 16 1 18 1-15 1 9 1-20 1-4 1-14 1 14 1-34 1-9 1-18 1 33 1-17 1 16 1-30 1 22 1 1 1-11 1-11 1 9 1 10 1-81 1 30 1-26 1-1 1 5 1-15 1 32 1 7 1 35 1-12 1 24 1-31 1 40 1-29 1 8 1-16 1 0 1 7 1-11 1-10 1 44 1-19 1-4 1 29 1-34 1-27 1 86 1-11 1 3 1-24 1 43 1-17 1-33 1 7 1-15 1-8 1 35 1-25 1-17 1 30 1 36 1-23 1 5 1-13 1 5 1 34 1-36 1 24 1 12 1-43 1 25 1 12 1 28 1-19 1-23 1 52 1-32 1 38 1-40 1-3 1 31 1-27 1 12 1 19 1-37 1 8 1 8 1-22 1 12 1-18 1-6 1 9 1 31 1-13 1 31 1-20 1-6 1-28 1 9 1-3 1 54 1-30 1 36 1-36 1-2 1 15 1-3 1-6 1 32 1-34 1-35 1 25 1 0 1 12 1-30 1-23 1 35 1-14 1-27 1 22 1-2 1 31 1-38 1 22 1-52 1-31 1 23 1 13 1-62 1-41 1 68 1-7 1 37 1-11 1 24 1 19 1-12 1-14 1 61 1 1 1-22 1 10 1-27 1 14 1 30 1-2 1-10 1-4 1 3 1 48 1-15 1-53 1 29 1-35 1 41 1 17 1-24 1-33 1 23 1-4 1-33 1-5 1 35 1 4 1 11 1 7 1 1 1-7 1 26 1-22 1-38 1 13 1 32 1-9 1-30 1-7 1-2 1 3 1 7 1-37 1 23 1-28 1-15 1 9 1 33 1-3 1-22 1 28 1 2 1 0 1 16 1-16 1 24 1-29 1 52 1-60 1-15 1 18 1 1 1-3 1 14 1-4 1-3 1 22 1 9 1 8 1-8 1 27 1-17 1-28 1 27 1-49 1 18 1 6 1 2 1 27 1-12 1 4 1 32 1-17 1 7 1 65 1-76 1-6 1 36 1-18 1-45 1 6 1-27 1-14 1 29 1-5 1-41 1 55 1 8 1-23 1 49 1 40 1-44 1-17 1 6 1 14 1-13 1-3 1 9 1-25 1 39 1 33 1-19 1 31 1 0 1-23 1 6 1 28 1-65 1 28 1 2 1 22 1-46 1 20 1-17 1-5 1-10 1 38 1 15 1-10 1-47 1 31 1 27 1-19 1-6 1 5 1-8 1-8 1 18 1-16 1 6 1-25 1 3 1 15 1-14 1-17 1 36 1-9 1-7 1 3 1 7 1 12 1-32 1 18 1-7 1-6 1 11 1-28 1-14 1 12 1 7 1-20 1 8 1-5 1 1 1 32 1-28 1-8 1 12 1 13 1-7 1-18 1 13 1-18 1 0 1 14 1 18 1 10 1-17 1 29 1 10 1 0 1-16 1-2 1-23 1 26 1-8 1-22 1 5 1-22 1 52 1-4 1 14 1 12 1-25 1 17 1-15 1 4 1-5 1 6 1-11 1 4 1 8 1-17 1 14 1-4 1 22 1-8 1 12 1-9 1-8 1 2 1 0 1-27 1 37 1-4 1-15 1 44 1-1 1 0 1-33 1 22 1 10 1 6 1-19 1 2 1-54 1 20 1 9 1-9 1 6 1 15 1-22 1 16 1 20 1 15 1-17 1-9 1 24 1-14 1-4 1 14 1-22 1 11 1 13 1-34 1 14 1 27 1 7 1-18 1 6 1 3 1-3 1-16 1-11 1 11 1-14 1-5 1 15 1 51 1 4 1-13 1-41 1-4 1 10 1-10 1-41 1 23 1 23 1-4 1 34 1-10 1 1 1 8 1-19 1 16 1-33 1-16 1 23 1-17 1 41 1-44 1-13 1 23 1-3 1 13 1-40 1-46 1-12 1 39 1 32 1-52 1 42 1-28 1 39 1-43 1 76 1-57 1 24 1 38 1-29 1-3 1 18 1 19 1-9 1 20 1-17 1-2 1 15 1-50 1 16 1-8 1 12 1-6 1-10 1-8 1 23 1-10 1-12 1-1 1 12 1-9 1 24 1-43 1 33 1-20 1 19 1 13 1 1 1-3 1-31 1 41 1-21 1-26 1 13 1 58 1-17 1-6 1-2 1-11 1 1 1 24 1-42 1 28 1-37 1-1 1 60 1-92 1 51 1-1 1-9 1 5"/>
<path class="ln" stroke="#2ba02e" transform="translate(1435.65 653.80) scale(0.5 -0.1)" d="M0 0 l1 0 1 0 1 0 1 0 1 0 1 0 1 0 1 0 1 0 1 0 1 0 1 0 1 0 1 0 1 0 1 0 1 0 1 0 1 0 1 0 1 0 1 0 1 0 1 0 1 0 1 0 1 0 1 0 1 0 1 0 1 0 1 0 1 0 1 0 1 0 1 0 1 0 1 0 1 0 1 0 1 0 1 0 1 0 1 0 1 0 1 0 1 0 1 0 1 0 1 0 1 0 1 0 1 0 1 0 1 0 1 0 1 0 1 0 1 0 1 0 1 0 1 0 1 0 1 0 1 0 1 0 1 0 1 0 1 0 1 0 1 0 1 0 1 0 1 0 1 0 1 0 1 0 1 0 1 0 1 0 1 0 1 0 1 0 1 0 1 0 1 0 1 0 1 0 1 0 1 0 1 0 1 0 1 0 1 0 1 0 1 0 1 0 1 0 1 0 1 0 1 0 1 0 1 0 1 0 1 0 1 0 1 0 1 0 1 0 1 0 1 0 1 0 1 0 1 0 1 0 1 0 1 0 1 0 1 0 1 0 1 2 1 2 1 2 1 3 1-2 1 1 1 5 1 9 1 7 1-3 1 7 1 2 1 2 1-5 1-8 1 1 1 12 1 6 1 10 1-3 1 19 1 17 1 5 1-27 1 20 1-26 1 26 1-24 1 11 1-4 1 14 1 18 1 16 1 5 1-52 1 62 1 9 1-10 1 36 1-3 1 18 1 31 1 54 1-18 1 15 1-11 1-21 1 21 1-42 1-29 1 14 1 54 1-5 1 4 1 10 1-15 1 27 1-4 1 32 1-43 1 49 1 17 1 40 1-12 1 20 1-4 1-14 1 21 1-23 1 24 1 30 1 4 1-37 1-21 1-29 1 20 1 1 1 5 1-10 1 5 1 59 1 0 1 18 1-28 1 31 1 4 1 51 1-29 1 7 1-11 1 22 1-9 1 8 1-10 1 16 1-18 1 5 1 28 1 44 1-24 1-20 1 25 1-14 1 40 1-9 1-26 1-2 1 7 1 14 1-11 1 37 1 10 1 1 1 0 1 11 1 18 1 17 1-42 1 29 1 14 1 26 1 1 1 12 1 24 1 11 1-27 1 11 1 4 1-15 1-20 1 11 1 14 1-22 1 15 1-14 1 25 1-3 1 19 1 20 1 9 1-27 1 20 1-7 1 2 1 9 1 34 1-32 1 21 1 48 1 18 1 9 1-28 1-2 1 11 1 28 1 2 1-2 1 6 1-47 1 81 1 4 1 0 1-26 1 37 1 36 1-19 1 7 1-25 1-7 1 9 1-34 1 1 1 32 1-33 1-28 1 14 1 38 1 28 1-9 1 34 1-31 1 54 1 31 1 13 1-21 1-9 1-7 1 46 1-9 1-30 1 38 1 0 1-15 1 5 1-9 1 44 1 22 1-43 1 45 1 35 1 32 1-21 1 54 1-7 1-18 1-7 1-5 1 39 1-1 1 17 1-15 1 29 1-6 1 14 1 40 1-30 1-19 1 21 1-23 1-1 1 1 1 15 1-30 1 4 1 17 1 21 1-35 1 16 1 4 1-3 1-24 1 32 1-3 1-4 1-15 1 2 1-40 1 45 1-6 1 23 1-26 1 1 1-9 1 13 1-2 1 22 1-3 1 5 1 25 1-1 1-5 1 0 1-7 1 35 1-49 1 29 1 12 1-10 1-21 1 33 1-3 1 14 1-10 1 15 1-13 1-57 1 31 1-3 1-16 1-15 1 6 1-32 1 50 1 4 1 4 1 22 1-5 1 4 1 8 1-13 1 19 1-20 1 80 1-26 1 30 1-12 1 1 1 11 1 11 1 29 1-18 1 22 1-38 1 9 1 27 1 31 1 14 1-24 1-9 1 19 1-6 1-19 1 34 1-10 1-44 1 19 1 46 1-32 1-6 1-7 1-7 1 3 1 36 1-31 1 10 1 4 1-10 1 26 1-37 1 26 1 2 1 11 1-7 1 40 1-23 1 20 1 34 1-44 1 12 1 4 1 56 1-13 1-1 1-29 1 3 1-10 1-12 1 5 1-30 1 3 1-8 1 49 1-23 1 21 1-38 1 51 1-15 1-1 1-20 1 19 1-26 1 43 1 2 1 12 1 17 1 16 1 6 1 10 1-24 1 14 1-24 1-6 1 25 1-27 1 39 1 7 1-4 1-15 1 20 1 6 1-2 1-23 1 5 1 22 1-36 1 30 1-28 1-6 1 21 1 35 1-26 1 21 1 2 1-30 1-11 1-33 1 23 1-30 1-21 1-20 1 36 1 12 1 14 1-16 1-9 1-21 1 39 1 33 1-48 1 0 1-52 1 31 1 16 1-5 1-3 1 22 1 37 1-39 1 25 1 8 1 29 1-6 1 3 1 34 1-1 1-11 1 12 1-6 1-5 1-14 1 42 1 22 1-1 1 48 1 10 1-12 1-17 1 27 1-36 1 7 1 16 1-32 1-7 1 14 1 35 1-44 1 63 1-55 1 22 1 21 1-22 1 0 1-6 1-2 1-3 1 38 1-33 1 7 1 17 1-41 1 28 1-9 1-1 1-9 1-58 1 5 1 14 1-48 1 11 1 9 1-9 1-51 1 53 1-12 1 19 1 19 1-8 1-7 1 31 1-64 1 23 1 30 1 10 1-8 1-35 1 43 1 23 1 4 1-1 1-1 1-23 1 24 1-17 1 9 1-27 1 31 1 1 1 19 1 4 1 6 1-5 1-21 1 14 1-20 1 14 1 31 1-40 1-4 1-15 1 2 1-25 1 19 1-48 1 53 1-8 1 7 1 12 1 2 1 20 1 32 1-32 1-20 1 8 1-8 1 31 1-16 1 2 1 9 1 34 1 12 1-39 1 14 1-1 1-11 1-14 1 14 1 13 1 20 1 15 1 29 1-11 1-60 1 13 1 10 1-26 1 23 1-12 1-41 1 12 1 9 1-10 1-27 1 18 1-8 1 27 1-12 1 33 1-12 1-12 1-16 1-14 1 62 1-64 1 4 1-18 1 13 1 64 1-5 1 7 1 42 1-7 1-37 1 16 1 10 1-77 1 27 1 28 1 5 1-12 1 15 1 19 1 17 1-33 1 15 1 11 1-19 1-4 1 15 1-10 1-14 1-10 1 20 1 29 1-11 1-11 1 4 1 53 1-31 1 44 1 14 1-33 1-20 1 9 1 3 1-21 1 52 1 4 1 7 1-12 1 30 1 8 1-7 1-5 1-10 1 5 1 8 1-1 1-37 1-4 1-18 1-22 1-18 1 21 1-8 1-14 1 0 1 9 1 15 1-10 1 32 1-19 1-26 1 21 1-4 1 3 1-21 1 39 1-27 1 12 1-38 1 68 1-6 1 3 1 6 1-6 1 5 1 18 1-26 1 42 1 6 1 11 1 12 1 35 1-36 1 3 1-2 1 11 1-35 1 27 1 12 1 8 1-18 1-41 1 4 1 17 1-30 1-2 1-24 1 8 1-22 1-47 1 15 1-13 1 54 1-32 1 1 1-5 1 14 1-17 1 4 1 6 1-12 1-8 1 13 1-14 1 5 1 0 1 27 1-32 1 10 1-4 1-1 1 17 1-29 1 0 1-20 1-58 1 51 1 16 1-36 1-15 1 25 1 12 1 27 1 2 1-20 1-4 1 13 1 29 1 25 1 0 1 5 1 31 1-39 1 37 1-11 1 19 1-9 1 12 1 16 1-1 1-18 1-8 1 48 1-35 1 56 1-29 1 29 1-12 1 23 1-21 1-18 1 10 1-4 1-25 1-22 1 29 1 6 1 8 1 44 1-30 1 17 1 6 1-17 1-11 1-16 1 5 1-6 1 45 1-41 1 28 1-16 1-10 1-15 1 8 1-20 1 18 1-51 1 58 1-25 1-5 1 10 1-40 1 34 1 16 1-12 1-21 1 5 1 15 1-30 1 10 1-6 1-9 1-1 1 30 1-22 1-22 1 47 1 0 1-19 1 41 1-7 1-10 1-2 1 12 1 23 1-19 1 4 1-6 1-26 1 8 1-14 1 1 1 19 1 2 1 4 1 4 1-26 1 46 1-9 1-30 1 13 1-10 1-26 1 30 1-25 1 0 1 10 1-49 1 26 1 3 1 28 1-20 1-3 1 4 1-10 1 5 1 4 1 27 1 10 1 25 1 0 1 21 1-45 1 15 1 20 1-36 1 10 1-33 1 5 1 12 1 40 1-22 1-28 1 45 1-38 1 0 1 7 1-3 1 18 1 5 1-47 1 47 1-40 1-16 1 25 1-2 1 27 1 16 1 13 1 24 1 4 1 0 1-4 1-6 1 38 1-46 1 26 1-2 1 6 1-25 1-36 1 20 1-32 1 45 1-31 1-17 1-12 1 22 1-13 1 0 1-19 1 10 1 9 1-20 1 65 1-53 1 24 1 28 1-7 1-46 1 35 1-11 1 14 1 22 1-17 1-7 1-21 1 35 1-19 1 23"/>
<path class="ln" stroke="#1576b3" transform="translate(1435.65 653.80) scale(0.5 -0.1)" d="M0 0 l1 0 1 0 1 0 1 0 1 0 1 0 1 0 1 0 1 0 1 0 1 0 1 0 1 0 1 0 1 0 1 0 1 0 1 0 1 0 1 0 1 0 1 0 1 0 1 0 1 0 1 0 1 0 1 0 1 0 1 0 1 0 1 0 1 0 1 0 1 0 1 0 1 0 1 0 1 0 1 0 1 0 1 0 1 0 1 0 1 0 1 0 1 0 1 0 1 0 1 0 1 0 1 0 1 0 1 0 1 0 1 0 1 0 1 0 1 0 1 0 1 0 1 0 1 0 1 0 1 0 1 0 1 0 1 0 1 0 1 0 1 0 1 0 1 0 1 0 1 0 1 0 1 0 1 0 1 0 1 0 1 0 1 0 1 0 1 0 1 0 1 0 1 0 1 0 1 0 1 0 1 0 1 0 1 0 1 0 1 0 1 0 1 0 1 0 1 0 1 0 1 0 1 0 1 0 1 0 1 0 1 0 1 0 1 0 1 0 1 0 1 0 1 0 1 0 1 0 1 0 1 0 1 0 1 0 1 0 1 0 1 0 1 0 1 0 1 0 1 0 1 0 1 0 1 0 1 2 1 0 1 0 1 0 1 0 1 3 1 0 1 0 1 1 1-1 1 3 1-3 1 0 1 2 1-2 1 1 1-1 1 2 1 1 1 0 1 1 1 1 1 3 1 2 1-1 1-1 1 0 1-3 1 1 1 7 1 5 1 5 1-5 1-3 1 14 1-4 1 7 1-1 1-8 1-4 1 12 1 7 1-1 1-20 1 29 1 17 1-25 1 14 1-12 1 24 1-33 1 10 1 5 1-8 1 4 1-6 1-8 1 18 1 2 1 2 1 8 1-10 1-4 1-26 1 29 1 10 1-27 1 6 1-19 1 10 1 33 1 8 1 16 1-6 1-13 1 4 1 33 1 18 1-10 1-36 1-14 1 17 1 8 1 6 1-21 1 5 1 3 1 10 1-2 1 17 1-16 1-14 1 51 1-12 1 30 1-13 1 3 1 53 1 1 1 33 1 13 1-57 1 23 1-19 1 9 1 33 1-50 1 67 1-47 1-17 1-36 1-1 1 22 1-1 1 15 1-34 1 10 1 28 1 11 1-52 1 27 1-48 1 12 1 11 1-4 1-7 1-7 1-46 1 15 1 39 1 109 1 28 1 6 1-1 1 19 1 38 1 14 1 51 1-25 1-16 1 75 1 15 1 45 1 26 1-44 1 0 1 79 1-23 1-4 1 45 1-6 1 9 1-36 1-64 1 42 1-97 1-35 1 37 1-28 1 21 1 61 1 78 1 39 1 0 1 28 1-9 1 46 1-16 1-1 1 85 1 36 1 36 1 44 1-6 1 5 1 121 1 21 1-14 1-35 1-56 1-6 1-1 1 14 1-67 1 5 1 40 1-59 1 37 1 13 1-80 1-2 1-3 1 10 1-15 1-20 1 155 1-50 1 80 1 55 1 21 1 0 1-42 1 55 1-40 1 101 1 0 1 12 1 4 1 65 1 0 1-17 1 11 1-1 1 18 1-18 1 0 1-22 1 3 1 60 1-8 1-1 1-35 1 22 1-22 1 49 1-12 1 34 1 0 1 51 1 24 1-33 1-36 1 19 1 48 1-31 1 86 1-33 1 52 1 13 1 79 1 5 1-44 1 64 1 35 1 30 1-61 1 28 1 2 1 82 1-27 1 48 1-38 1 36 1-17 1-7 1-4 1 7 1 47 1-10 1-22 1 37 1-20 1-1 1-37 1 41 1 60 1-19 1 50 1-22 1-41 1 52 1 54 1 12 1-22 1 18 1 38 1 25 1-9 1 22 1 24 1-44 1 19 1 31 1-36 1 7 1 2 1-49 1 12 1-100 1-101 1-33 1-36 1-147 1-143 1-137 1-183 1-99 1-119 1 224 1 91 1 101 1-44 1 78 1 23 1 154 1 55 1-69 1-29 1-52 1 16 1 44 1 126 1 139 1 65 1-38 1 54 1-60 1 34 1 47 1 17 1-2 1 25 1-15 1-32 1 69 1-16 1-47 1 3 1-13 1 1 1-8 1-19 1 53 1 28 1-49 1 28 1 4 1 34 1-13 1 65 1-23 1-59 1-20 1 10 1-8 1-12 1 4 1-22 1 37 1 1 1 24 1-8 1-31 1 60 1 43 1 5 1-28 1-21 1 29 1 25 1 11 1 11 1 8 1 2 1 4 1 22 1-60 1-9 1 7 1 2 1 7 1 8 1 31 1-46 1-4 1-11 1 38 1 19 1 21 1-40 1-53 1 75 1 45 1-2 1 22 1 21 1 4 1 41 1-1 1 23 1-61 1 7 1-37 1 37 1-9 1-44 1 43 1-26 1 23 1-42 1-53 1-21 1-10 1 2 1 38 1-39 1 17 1 34 1-25 1-58 1 63 1-18 1-14 1-6 1-19 1 37 1 22 1-26 1-1 1 0 1 53 1 3 1 19 1 54 1-48 1-26 1-15 1-26 1 79 1-22 1-8 1 16 1-12 1 13 1 1 1-31 1-107 1 49 1 16 1-9 1-20 1 27 1 35 1-63 1 70 1-50 1 55 1-17 1 62 1 0 1 13 1 24 1-34 1 60 1-7 1-44 1 20 1-40 1-12 1 18 1 5 1 10 1 8 1 19 1-44 1 39 1-19 1 7 1 38 1-19 1-34 1-55 1-25 1-37 1 38 1-3 1-16 1-24 1-2 1 21 1 77 1-16 1 17 1-14 1-17 1-13 1 4 1-40 1 56 1-12 1 14 1-32 1 3 1 10 1 2 1 23 1-7 1 53 1 17 1 31 1-28 1-2 1-17 1 32 1 21 1-40 1 14 1-12 1-8 1 40 1 12 1-41 1 13 1-5 1 49 1 1 1-8 1 65 1-34 1-17 1 2 1 29 1-8 1-2 1-14 1-74 1-4 1 10 1 0 1-9 1 7 1-20 1-77 1 4 1-70 1 126 1 8 1-25 1 25 1 88 1 28 1-60 1 39 1 46 1-24 1 11 1-21 1 29 1-31 1-40 1 37 1-4 1-3 1-5 1-63 1 30 1-8 1 1 1 7 1-18 1 22 1-8 1 44 1-31 1 10 1 26 1 6 1 14 1-30 1 21 1-32 1 1 1-22 1 1 1-45 1 2 1 19 1-28 1-62 1 22 1 5 1-14 1-39 1-21 1-22 1-79 1 6 1-31 1 25 1 27 1 80 1 17 1 28 1 32 1-17 1 13 1-12 1 14 1-14 1-7 1 47 1-19 1 24 1-29 1 50 1 22 1 15 1-5 1-65 1 14 1 36 1 15 1-27 1 62 1-30 1-1 1 39 1 55 1-29 1-15 1-6 1-6 1 11 1-51 1-9 1 18 1 11 1 18 1 13 1 7 1-14 1 35 1 16 1-21 1-8 1-14 1-26 1 3 1-11 1 15 1 15 1-36 1 37 1 31 1-11 1 26 1 9 1 0 1-9 1-4 1-19 1 10 1 4 1-37 1 39 1 6 1 21 1-28 1 38 1 30 1-59 1 40 1-13 1 56 1-69 1 25 1-16 1 8 1-24 1-31 1-45 1 14 1 2 1-42 1 30 1-10 1-12 1-15 1-11 1 53 1 21 1 27 1-38 1 21 1 26 1-24 1-1 1 3 1-15 1-24 1-4 1-12 1 47 1-8 1-52 1 54 1 14 1-11 1-10 1 4 1 93 1-29 1 15 1-46 1-40 1 32 1-26 1-16 1 6 1-16 1-33 1 20 1-12 1 31 1-37 1 8 1 41 1-22 1-16 1 70 1 2 1 54 1-66 1 44 1-19 1 6 1 19 1-19 1-7 1-17 1 64 1-9 1-2 1 16 1-3 1-15 1 45 1-7 1 30 1-27 1 7 1-17 1 10 1-16 1-10 1-3 1-37 1-1 1 20 1-10 1 30 1-19 1-5 1-7 1 20 1-4 1-43 1-24 1-4 1 59 1-17 1-16 1-10 1 7 1 73 1-2 1-8 1 22 1-2 1-10 1-16 1-8 1-24 1 6 1-19 1 8 1 14 1-3 1 4 1-18 1 5 1 20 1-6 1 12 1-36 1 20 1-12 1 16 1-8 1-20 1 29 1-23 1-8 1-15 1 51 1-22 1 12 1-34 1 17 1 11 1-4 1-13 1-41 1 52 1 29 1-5 1-15 1-16 1-20 1 19 1 22 1-22 1-11 1-13 1 40 1-39 1 8 1 36 1 21 1-6 1-26 1-19 1 20 1 6 1-33 1-5 1 28 1 0 1 21 1-15 1 12 1-13 1 20 1-38 1-7 1-24 1 14 1-45 1 66 1-26 1 1 1 12 1-6 1 3 1 17 1-24 1 12 1-15 1 26 1-3 1 22 1 76 1-38 1 1 1 4 1-18 1-5 1 15 1-59 1-2 1-24 1 15 1 24 1 4 1-30 1 77 1-22 1 0 1-26 1-5 1-13 1 17 1 15"/>
<path class="ln" stroke="#fd7c1a" transform="translate(1435.65 653.80) scale(0.5 -0.1)" d="M0 0 l1 0 1 0 1 0 1 0 1 0 1 0 1 0 1 0 1 0 1 0 1 0 1 0 1 0 1 0 1 0 1 0 1 0 1 0 1 0 1 0 1 0 1 0 1 0 1 0 1 0 1 0 1 0 1 0 1 0 1 0 1 0 1 0 1 0 1 0 1 0 1 0 1 0 1 0 1 0 1 0 1 0 1 0 1 0 1 0 1 0 1 0 1 0 1 0 1 0 1 0 1 0 1 0 1 0 1 0 1 0 1 0 1 0 1 0 1 0 1 0 1 0 1 0 1 0 1 0 1 0 1 0 1 0 1 0 1 0 1 0 1 0 1 0 1 0 1 0 1 0 1 0 1 0 1 0 1 0 1 0 1 0 1 0 1 0 1 0 1 0 1 0 1 0 1 0 1 0 1 0 1 0 1 0 1 0 1 0 1 0 1 0 1 0 1 0 1 0 1 0 1 0 1 0 1 0 1 0 1 0 1 0 1 0 1 0 1 0 1 0 1 0 1 0 1 0 1 0 1 0 1 0 1 0 1 0 1 0 1 2 1-2 1 0 1 1 1 5 1 2 1 2 1 5 1 3 1 25 1 0 1 9 1-3 1 2 1 32 1 14 1 18 1 21 1-6 1 9 1 0 1-3 1-19 1 0 1-3 1 0 1-17 1-12 1 30 1 24 1-3 1-9 1 20 1 14 1 20 1-11 1-50 1 28 1-4 1-13 1-1 1-11 1 26 1-1 1 1 1 14 1-51 1 47 1 17 1 32 1 41 1-30 1 3 1-5 1 64 1-3 1-39 1 59 1-6 1 61 1-35 1-22 1-3 1 42 1-21 1 9 1-41 1 32 1-30 1 27 1 11 1 1 1 5 1-4 1-8 1 18 1-22 1 17 1-23 1-6 1-15 1 32 1-30 1 18 1-3 1 1 1 13 1 43 1-10 1-17 1-11 1 22 1 55 1-52 1 6 1-22 1-16 1 56 1-2 1 12 1 26 1-10 1 26 1 26 1-16 1-4 1-3 1 11 1-8 1 6 1-21 1-5 1 39 1-15 1-1 1 44 1-25 1-13 1 23 1-7 1 5 1-32 1 8 1 0 1 15 1 35 1-34 1-7 1 10 1 8 1-19 1-2 1-3 1-2 1 1 1-16 1-8 1 32 1-20 1-9 1-23 1 4 1-33 1 26 1 31 1 0 1-20 1 44 1-10 1 18 1 14 1 27 1-38 1 22 1-33 1-6 1 60 1-20 1-16 1-11 1 19 1-37 1 39 1-10 1-4 1 18 1 30 1-14 1 36 1-22 1 16 1-3 1-22 1 45 1-29 1 12 1 16 1-2 1 20 1 4 1-12 1 32 1 21 1-33 1 25 1-15 1 20 1 1 1 18 1 13 1-15 1 35 1-9 1 17 1-10 1-4 1-14 1 6 1 8 1-28 1 1 1-10 1-20 1-41 1 4 1-24 1 63 1-3 1-22 1-2 1 11 1 7 1 11 1 15 1 4 1 3 1-23 1 31 1-20 1 1 1 6 1-5 1-51 1 44 1 9 1 5 1-5 1-9 1-14 1 19 1 3 1 9 1 28 1 6 1-16 1 30 1-2 1-8 1 11 1 24 1-19 1 11 1 28 1-20 1-25 1-19 1 24 1-14 1-1 1 35 1-37 1 30 1 17 1-12 1-26 1 24 1 18 1 2 1 26 1-53 1 34 1 39 1-14 1 48 1-21 1 10 1-27 1-23 1 85 1-34 1 5 1-56 1 8 1-4 1 13 1-12 1-48 1-14 1-52 1 42 1 11 1 64 1 21 1-35 1 12 1 22 1 12 1 56 1 18 1-6 1 7 1-3 1-11 1 21 1 54 1-57 1 48 1 16 1-4 1-7 1 0 1 4 1-9 1 35 1-32 1-42 1-34 1 12 1-19 1-23 1-7 1 11 1 10 1 7 1 8 1 27 1 17 1 3 1 69 1-53 1-2 1 5 1 17 1 15 1-45 1-51 1 10 1 12 1-7 1 25 1-58 1 19 1 24 1-10 1-4 1-22 1 42 1-28 1-33 1 6 1-25 1 17 1 0 1-6 1 34 1-20 1 31 1-12 1 22 1 3 1 2 1 15 1 5 1-26 1 65 1-23 1-38 1-32 1-9 1 46 1-8 1-40 1-64 1 0 1-28 1 68 1-8 1 14 1 3 1-15 1 48 1 7 1 0 1-35 1-21 1-31 1 29 1 15 1-31 1 1 1 49 1 15 1-3 1 1 1 53 1-44 1 55 1-14 1 17 1-22 1 69 1-24 1 8 1 17 1 10 1-25 1 20 1-19 1 40 1-29 1 6 1 10 1-25 1 14 1 8 1 20 1-5 1 3 1-5 1-16 1-4 1-9 1-44 1 72 1-9 1-44 1-26 1 4 1 6 1 11 1-12 1-9 1 22 1 18 1-20 1-62 1 34 1 8 1-48 1 17 1-27 1 45 1 21 1 0 1 2 1 15 1-11 1 35 1-20 1 32 1 33 1-23 1-19 1 22 1 27 1-22 1 15 1-20 1-37 1 15 1-9 1 7 1-25 1-12 1-49 1 77 1-1 1 8 1 24 1 1 1 6 1 44 1-29 1 16 1 9 1 15 1 10 1-14 1-18 1 20 1 16 1 2 1-15 1 25 1 41 1-19 1 60 1-2 1-14 1 28 1-5 1-1 1 14 1 11 1-45 1-62 1 62 1-59 1 43 1-44 1 44 1-46 1-5 1-12 1 9 1 1 1-6 1 19 1-5 1-23 1 30 1-1 1 4 1-46 1 7 1 1 1 32 1-8 1 24 1 6 1 42 1-38 1 26 1 17 1 37 1-20 1-14 1-19 1-32 1 5 1 12 1-40 1 11 1-34 1-19 1 24 1-19 1 15 1-20 1 23 1-42 1 43 1-5 1 26 1 2 1 5 1 12 1 4 1 2 1-5 1 36 1-15 1-19 1 15 1 10 1 16 1-12 1-20 1 30 1-47 1 24 1 24 1 26 1-2 1 41 1-37 1 25 1-20 1 42 1-17 1 9 1-5 1-16 1-20 1-9 1 6 1 14 1 18 1-40 1-26 1-1 1-1 1 12 1 14 1-37 1-10 1 20 1 24 1-25 1 29 1-3 1 27 1-26 1-24 1 39 1-21 1 12 1-15 1 7 1 14 1-4 1 18 1-19 1 33 1 14 1 23 1-27 1 31 1-26 1 12 1 20 1 20 1-46 1 11 1 39 1-24 1-19 1-9 1 23 1 14 1-27 1 32 1-47 1 3 1-16 1 0 1-31 1 7 1 23 1 8 1 28 1 22 1-4 1 18 1 47 1-13 1 27 1 34 1-12 1-21 1 19 1-55 1 33 1 6 1 14 1-57 1 20 1-3 1 9 1 26 1-53 1 34 1-26 1 8 1 24 1 4 1 25 1 12 1-15 1 25 1-1 1-1 1 43 1-31 1 8 1-35 1 23 1 20 1 5 1 1 1-57 1 26 1-6 1 37 1 4 1-46 1 28 1-24 1 1 1 7 1-46 1 6 1-23 1 33 1-13 1 21 1 14 1 49 1-33 1 80 1-63 1 40 1 1 1 43 1 30 1-5 1-30 1-9 1 11 1-12 1-14 1-29 1 0 1-19 1 4 1-12 1 7 1-2 1 11 1-17 1 23 1 5 1 9 1-6 1-13 1 7 1 10 1 12 1-77 1 55 1-7 1 34 1 42 1 7 1-44 1 7 1 16 1 19 1 42 1-4 1-36 1 4 1 11 1-10 1 45 1-35 1 3 1-8 1-7 1 6 1 3 1-31 1 21 1-8 1 26 1 16 1-25 1-2 1 1 1 37 1 69 1-25 1 8 1 8 1 22 1 24 1-42 1 29 1-9 1-47 1 39 1-17 1 13 1 16 1-44 1-29 1-5 1-2 1 10 1 17 1-16 1 4 1 35 1 6 1 17 1-1 1-44 1 4 1-24 1 35 1 15 1-43 1 30 1 33 1 6 1 36 1-3 1 11 1 8 1-21 1 8 1-19 1 2 1-16 1 0 1 31 1-3 1 98 1-65 1 9 1 21 1 1 1 4 1 30 1-40 1 54 1-26 1 21 1 8 1-13 1 46 1-34 1-11 1-10 1 28 1-25 1 12 1 13 1-23 1-22 1 47 1-56 1 4 1 9 1-20 1-12 1 45 1-41 1 65 1-37 1-16 1-5 1 7 1-23 1 15 1-27 1 29 1-2 1-20 1-2 1 43 1-22 1-7 1 0 1 3 1 3 1 10 1-15 1 45 1-19 1 21 1 18 1-17 1 41 1-14 1-16 1-25 1 23 1 19 1-32 1-3 1-9 1 2 1 41 1-13 1-18 1 43 1-6 1 1 1 20 1-18 1-14 1 38 1 6 1-66 1-9 1 18 1-23 1-9 1 11 1-1 1-18 1 4 1 15 1-50 1 5 1-6 1 36 1 2 1-1 1 2 1-24"/>
<rect x="1410.50" y="418.70" width="553.20" height="246.30" fill="none" stroke="#d0d0d0" stroke-width="1.7"/>
<g class="tk">
<text transform="translate(1435.6 688.0) scale(1 1.12)" text-anchor="middle">0.0</text>
<text transform="translate(1535.8 688.0) scale(1 1.12)" text-anchor="middle">0.2</text>
<text transform="translate(1635.9 688.0) scale(1 1.12)" text-anchor="middle">0.4</text>
<text transform="translate(1736.0 688.0) scale(1 1.12)" text-anchor="middle">0.6</text>
<text transform="translate(1836.1 688.0) scale(1 1.12)" text-anchor="middle">0.8</text>
<text transform="translate(1936.3 688.0) scale(1 1.12)" text-anchor="middle">1.0</text>
<text transform="translate(1402.5 661.2) scale(1 1.12)" text-anchor="end">0.00</text>
<text transform="translate(1402.5 605.2) scale(1 1.12)" text-anchor="end">0.25</text>
<text transform="translate(1402.5 549.2) scale(1 1.12)" text-anchor="end">0.50</text>
<text transform="translate(1402.5 493.3) scale(1 1.12)" text-anchor="end">0.75</text>
<text transform="translate(1402.5 437.3) scale(1 1.12)" text-anchor="end">1.00</text>
<text transform="translate(1962.2 713.2) scale(1 1.12)" text-anchor="end" style="font-size:20.2px">1e7</text>
</g>
<text class="tt" x="1687.5" y="411.4" text-anchor="middle">6h_vs_8z (super hard)</text>
</g>
<g>
<path d="M2044.25 418.70V665.00M2144.37 418.70V665.00M2244.49 418.70V665.00M2344.61 418.70V665.00M2444.73 418.70V665.00M2544.85 418.70V665.00M2019.10 653.80H2572.30M2019.10 597.83H2572.30M2019.10 541.85H2572.30M2019.10 485.87H2572.30M2019.10 429.90H2572.30" stroke="#d0d0d0" stroke-width="1.7" fill="none"/>
<path class="bd" fill="#db1d28" transform="translate(2044.25 653.80) scale(1.5 -0.1)" d="M18 0 l1 14 1 22 1 27 1 19 1 22 1 46 1 70 1 37 1 102 1 89 1 103 1 122 1 115 1 102 1 118 1 107 1 61 1 25 1 73 1 35 1 75 1 47 1 60 1 70 1 50 1 33 1 63 1 28 1 22 1 65 1 5 1 40 1 3 1 12 1 48 1-3 1 11 1 34 1 10 1 5 1 6 1 32 1-7 1 16 1 0 1 20 1-1 1-4 1 8 1 32 1-2 1 12 1-9 1 26 1-3 1 15 1-6 1 19 1 5 1 9 1 9 1-9 1 18 1 3 1 0 1 7 1 12 1-5 1-2 1 9 1-5 1 7 1-5 1 2 1 0 1 15 1-4 1 2 1 2 1 2 1 2 1 1 1 2 1-2 1 1 1-1 1 1 1-4 1 3 1 22 1-6 1 7 1-21 1 17 1-7 1-10 1 0 1 0 1 0 1 21 1-18 1 18 1 0 1 0 1 0 1 0 1-2 1-1 1 3 1-8 1 8 1 0 1-9 1-10 1-1 1 6 1 14 1 0 1-6 1 6 1 0 1 0 1-2 1-16 1 7 1-7 1 0 1 1 1 4 1 10 1-8 1-8 1 6 1-4 1 14 1 2 1-16 1 11 1-5 1 11 1 0 1 0 1-7 1 7 1-3 1 3 1 0 1 0 1 0 1-8 1 8 1-14 1 14 1-10 1 10 1 0 1-15 1 11 1-11 1 9 1-9 1 9 1-9 1 6 1-5 1 4 1-5 1 9 1-10 1 13 1-11 1 0 1 14 1 0 1 0 1-8 1 8 1 0 1 0 1 0 1-3 1-6 1 9 1-11 1 0 1 0 1 8 1 0 1-8 1-1 1 0 1 12 1-12 1 12 1-7 1 3 1-6 1 4 1 6 1 0 1-11 1 0 1 2 1 9 1-11 1 0 1 1 1 3 1 7 1 0 1 0 1-10 1 0 1 1 1-1 1 0 1 10 1-4 1-5 1 7 1 2 1 0 1-10 1 1 1-2 1 1 1 1 1 2 1 1 1 0 1-3 1 9 1 0 1 0 1-8 1 2 1 2 1-4 1 8 1-8 1 1 1 5 1 2 1 0 1 0 1 0 1-7 1 0 1 0 1-2 1 8 1-3 1-1 1 3 1-3 1-2 1 1 1 3 1-3 1 1 1 5 1-1 1-4 1 0 1 0 1 0 1 0 1 0 1 0 1 2 1-1 1-1 1 0 1 5 1 0 1 0 1 0 1 0 1 0 1 0 1-4 1 1 1-1 1 4 1 0 1 0 1 0 1-4 1 0 1 4 1 0 1-2 1 0 1-1 1 1 1 2 1 0 1 0 1 0 1-2 1 2 1 0 1 0 1 0 1 0 1-2 1 2 1 0 1 0 1 0 1-1 1 0 1 0 1 0 1 1 1-1 0-21 -1 0 -1-1 -1 0 -1 1 -1 0 -1 2 -1-3 -1 4 -1-4 -1 0 -1-2 -1 2 -1-2 -1 1 -1 0 -1 1 -1 0 -1 2 -1-1 -1-4 -1 1 -1 0 -1 0 -1 0 -1-1 -1 3 -1-7 -1 5 -1 1 -1 3 -1-5 -1 1 -1 0 -1-2 -1 1 -1 3 -1 2 -1-1 -1-1 -1 2 -1-2 -1-5 -1 2 -1 1 -1-1 -1-1 -1 0 -1 1 -1-1 -1-2 -1 1 -1 1 -1-1 -1 3 -1-5 -1 4 -1-1 -1 2 -1-4 -1-2 -1 4 -1-4 -1 6 -1-4 -1 3 -1-4 -1 1 -1 1 -1-3 -1 0 -1 6 -1-3 -1 4 -1 0 -1-6 -1 1 -1-2 -1 3 -1 1 -1-2 -1 3 -1 0 -1-2 -1 0 -1-4 -1 1 -1 1 -1 4 -1-3 -1-2 -1-4 -1 5 -1-1 -1 6 -1-5 -1-2 -1 4 -1 1 -1-1 -1-3 -1-2 -1 0 -1 1 -1 1 -1-4 -1 6 -1-6 -1 4 -1-1 -1 0 -1 0 -1 6 -1-4 -1-3 -1-1 -1 2 -1 5 -1-9 -1 3 -1-3 -1 8 -1-5 -1-1 -1 1 -1-3 -1 3 -1 0 -1-4 -1 1 -1 3 -1 1 -1-4 -1 2 -1-3 -1 5 -1 1 -1-2 -1-1 -1 3 -1-3 -1-5 -1 7 -1 1 -1-4 -1-2 -1-1 -1 1 -1-1 -1 0 -1-2 -1 2 -1 0 -1-1 -1 5 -1-4 -1 1 -1-2 -1 1 -1 0 -1 2 -1 4 -1 0 -1-4 -1 2 -1 4 -1-9 -1 2 -1-2 -1 2 -1-3 -1-1 -1 3 -1 3 -1 1 -1-7 -1 6 -1-3 -1-1 -1 2 -1-5 -1-2 -1 7 -1 0 -1-3 -1 5 -1-1 -1-2 -1-5 -1 2 -1 0 -1-1 -1 3 -1 6 -1-2 -1-5 -1 7 -1-10 -1 7 -1 6 -1-11 -1-1 -1 2 -1 1 -1 7 -1-5 -1 1 -1-1 -1 2 -1-2 -1-6 -1-5 -1 8 -1-4 -1 6 -1-9 -1-1 -1-4 -1-5 -1-3 -1-3 -1-15 -1 14 -1-14 -1 11 -1-4 -1 2 -1-27 -1 5 -1-12 -1 25 -1-29 -1 23 -1-18 -1 2 -1-3 -1-8 -1-4 -1 15 -1-19 -1-14 -1-19 -1 4 -1 12 -1 13 -1-52 -1 29 -1-8 -1-4 -1-2 -1 12 -1-16 -1-48 -1 13 -1-35 -1-28 -1-18 -1 2 -1 30 -1-46 -1-24 -1-31 -1 2 -1-5 -1-24 -1-33 -1-46 -1-23 -1-27 -1-6 -1-45 -1-4 -1-16 -1-48 -1-8 -1-34 -1 14 -1-41 -1-19 -1-11 -1-18 -1-52 -1-29 -1-40 -1-16 -1-14 -1-32 -1-73 -1-11 -1-54 -1-38 -1-77 -1-41 -1-38 -1-75 -1-56 -1-88 -1-33 -1-117 -1-86 -1-95 -1-69 -1-115 -1-91 -1-81 -1 8 -1-21 -1-10 -1-19 -1-11 -1-16 -1-8 -1 0 -1 0 -1 0 -1 0 -1 0z"/>
<path class="bd" fill="#2ba02e" transform="translate(2044.25 653.80) scale(1.5 -0.1)" d="M8 0 l1 9 1 13 1 13 1 12 1 11 1 23 1 43 1 3 1 47 1 54 1-2 1 61 1 71 1 50 1 57 1 63 1 33 1 68 1 49 1 86 1 44 1 80 1 26 1 61 1 29 1 24 1 103 1 1 1 48 1 12 1 65 1 91 1-9 1 75 1-2 1 40 1 26 1 26 1 40 1 71 1-20 1 32 1 18 1 41 1 26 1-5 1 53 1 17 1-4 1 15 1 43 1 14 1 16 1 19 1-19 1 33 1-9 1 45 1-14 1 38 1-26 1 32 1 14 1 20 1 13 1 25 1-11 1 22 1-24 1 48 1-5 1 9 1 0 1 9 1 13 1-9 1 16 1 5 1 1 1 2 1-1 1 3 1 3 1 34 1-11 1-1 1-4 1 2 1 2 1 17 1-5 1 10 1 6 1-2 1-7 1 1 1 6 1 3 1 11 1 0 1 1 1 2 1-2 1 23 1-27 1 2 1-15 1 0 1 23 1-19 1 14 1 10 1-6 1 6 1 3 1 14 1 3 1-10 1-3 1-1 1-3 1 9 1-10 1 11 1 3 1-3 1 3 1 2 1-3 1 2 1 0 1 3 1-5 1 6 1-1 1 0 1 1 1-10 1 8 1-1 1 0 1 11 1-9 1-2 1-1 1-1 1 3 1-1 1 0 1 3 1-5 1 5 1-3 1 5 1-4 1 2 1 0 1 1 1-4 1 4 1 0 1 0 1 15 1-15 1-1 1 2 1 9 1-9 1 0 1-1 1-5 1-2 1 16 1-10 1 13 1-10 1 8 1 7 1-16 1 14 1-17 1-3 1 3 1 2 1 1 1-2 1 2 1-2 1 2 1 1 1 2 1-2 1-3 1 4 1 1 1 2 1-4 1-5 1 4 1 3 1 0 1 1 1 1 1-9 1 0 1 6 1-3 1 5 1-1 1 1 1 1 1 1 1-2 1 1 1 0 1 1 1-1 1-1 1 2 1 1 1-1 1-3 1 0 1 0 1 1 1 4 1-2 1 1 1 0 1 0 1 10 1-1 1-8 1-2 1-1 1 3 1 1 1-3 1 1 1 0 1 1 1 17 1-17 1-1 1 1 1-1 1-4 1 0 1 2 1 1 1 3 1-1 1 0 1-3 1-6 1 0 1 6 1 8 1-2 1-1 1-6 1 4 1 1 1 1 1 0 1-1 1 2 1-3 1 2 1-1 1 2 1-7 1-2 1 5 1 4 1 0 1 1 1-1 1 0 1 1 1 10 1-5 1-6 1 4 1-1 1-1 1 1 1-1 1-1 1 1 1 1 1-1 1 1 1 1 1 0 1 3 1-3 1-1 1-2 1 1 1 3 1 0 1 0 1 0 1 0 1-1 1 0 1 0 1-3 1-1 1 2 1 2 1-3 1 4 1 1 1 0 1 0 1 0 1 1 1-2 1 1 1-1 1 0 1 1 1 0 1 12 0-68 -1 7 -1-9 -1 4 -1 0 -1-2 -1 11 -1-6 -1-4 -1 10 -1 1 -1-11 -1-2 -1 1 -1-2 -1 0 -1-7 -1 7 -1 3 -1 2 -1-11 -1 4 -1 5 -1-4 -1-4 -1 7 -1 4 -1-5 -1 7 -1 2 -1 0 -1-13 -1-3 -1 11 -1-12 -1 22 -1-7 -1-1 -1 11 -1 0 -1 7 -1-9 -1-10 -1-7 -1 20 -1 0 -1-13 -1-3 -1-5 -1 12 -1-7 -1 5 -1-13 -1 0 -1 3 -1 3 -1 1 -1-12 -1 5 -1-5 -1 14 -1-11 -1 13 -1-9 -1-3 -1 0 -1 1 -1-3 -1 16 -1-11 -1-5 -1-1 -1 5 -1-4 -1 7 -1-8 -1 8 -1-6 -1 5 -1-3 -1 3 -1-5 -1 2 -1 12 -1-18 -1-3 -1 9 -1-10 -1 1 -1 0 -1 24 -1-6 -1-15 -1 7 -1-18 -1 7 -1 18 -1 1 -1-19 -1 25 -1-25 -1 19 -1-20 -1 0 -1 1 -1 7 -1-3 -1 14 -1 0 -1 0 -1 11 -1-28 -1 10 -1-6 -1 0 -1-5 -1 20 -1-18 -1 11 -1-4 -1-7 -1-3 -1 0 -1 12 -1-19 -1 14 -1 0 -1-12 -1 2 -1 13 -1 8 -1-6 -1 6 -1-4 -1-6 -1-6 -1-4 -1-7 -1 3 -1 0 -1 2 -1 3 -1-1 -1 2 -1 2 -1-1 -1 15 -1-13 -1 19 -1-4 -1-4 -1-4 -1 0 -1-6 -1-4 -1 6 -1-5 -1 4 -1 9 -1-6 -1-7 -1-2 -1 17 -1-6 -1-17 -1 20 -1-1 -1-2 -1-1 -1-12 -1 4 -1 6 -1 7 -1-12 -1-7 -1 5 -1-3 -1 1 -1 21 -1-15 -1-2 -1-3 -1-4 -1 24 -1-16 -1 11 -1-9 -1-14 -1-2 -1-2 -1-2 -1 4 -1-1 -1 7 -1-10 -1 14 -1-8 -1 9 -1-1 -1-18 -1 0 -1 1 -1-3 -1 2 -1-8 -1 2 -1-15 -1-5 -1 7 -1 37 -1-28 -1-4 -1-18 -1 9 -1-5 -1-7 -1-4 -1-15 -1-4 -1 11 -1-14 -1 39 -1-36 -1-20 -1-4 -1 9 -1-23 -1 13 -1 5 -1-28 -1 18 -1-10 -1 3 -1-3 -1 7 -1-13 -1 3 -1 12 -1-41 -1 30 -1-47 -1 17 -1-17 -1-12 -1-15 -1-11 -1 1 -1-3 -1 25 -1 3 -1-32 -1-19 -1-10 -1 26 -1-71 -1-6 -1 1 -1-25 -1-1 -1-30 -1-32 -1 33 -1-58 -1-38 -1-9 -1-48 -1-45 -1-11 -1-70 -1-60 -1-41 -1-51 -1-59 -1-51 -1-25 -1-38 -1-27 -1 34 -1-5 -1-55 -1-63 -1 39 -1-11 -1-14 -1 8 -1-61 -1-29 -1-3 -1-20 -1-18 -1-7 -1-31 -1 22 -1-90 -1 9 -1-53 -1-12 -1-74 -1-39 -1 18 -1-69 -1-44 -1-41 -1-17 -1-53 -1-37 -1-39 -1-85 -1 27 -1-54 -1-82 -1-33 -1-43 -1-49 -1-42 -1-4 -1-17 -1-4 -1-5 -1-15 -1-9 -1-8 -1 0 -1 0 -1 0 -1 0 -1 0z"/>
<path class="bd" fill="#1576b3" transform="translate(2044.25 653.80) scale(1.5 -0.1)" d="M26 0 l1 6 1 18 1 23 1 19 1-1 1-8 1 11 1 20 1 80 1 37 1 62 1 75 1 16 1 76 1 59 1 35 1 40 1-10 1 74 1 102 1 22 1 29 1 0 1 87 1-9 1 93 1 9 1 50 1 12 1 20 1-27 1 48 1-29 1 81 1 4 1-26 1 99 1-41 1 30 1 20 1 32 1 14 1 89 1 54 1 12 1 94 1 49 1 19 1 38 1 22 1-62 1 84 1 13 1-10 1 66 1 53 1 11 1 13 1 2 1-15 1-42 1-6 1 71 1 45 1 19 1-26 1 23 1 1 1 70 1 12 1-60 1 13 1 52 1 16 1 28 1-62 1-10 1-8 1 51 1-21 1 52 1 35 1 0 1 7 1-52 1 44 1-33 1 21 1 51 1 5 1 3 1 6 1-57 1-18 1-5 1 28 1 5 1-42 1 28 1-11 1-25 1 25 1 17 1 8 1 19 1-33 1 31 1-37 1 48 1 26 1-53 1 80 1-64 1 37 1-3 1 1 1 62 1-34 1 33 1-7 1-35 1 35 1 33 1-28 1-49 1 56 1-15 1-21 1 17 1 9 1 3 1 8 1 7 1-2 1-5 1-16 1 30 1-4 1-7 1-8 1 14 1-5 1-3 1 11 1-7 1 1 1 6 1 1 1 6 1-2 1-1 1 6 1 0 1 2 1 8 1-8 1-3 1-11 1 17 1-2 1 3 1-2 1-1 1 0 1 6 1 4 1-6 1 8 1 3 1 1 1-3 1 2 1-12 1-5 1 4 1 9 1 5 1 2 1 1 1 2 1-1 1 0 1-5 1 1 1 1 1 5 1-5 1 4 1-4 1 2 1 3 1 5 1-8 1 4 1-4 1-1 1 5 1 3 1-5 1 3 1-4 1-3 1 8 1 0 1 1 1 0 1 0 1-1 1 0 1-1 1 5 1-5 1 10 1 19 1-13 1-4 1-10 1 9 1 2 1-8 1 13 1-5 1 4 1-6 1-7 1 2 1 0 1 0 1 0 1 7 1-7 1 1 1-1 1-3 1 4 1 7 1 8 1-7 1 0 1-6 1-1 1 0 1 0 1 1 1 0 1 1 1 5 1 3 1-8 1-4 1 1 1 11 1-7 1 0 1-1 1 2 1 0 1 0 1 1 1 0 1 0 1 3 1-3 1 0 1-1 1 2 1-1 1 0 1 1 1 6 1-5 1 0 1-1 1-1 1 6 1-5 1 0 1 2 1-2 1 2 1 0 1 1 1-3 1 9 1-4 1 7 1-10 1 0 1 3 1-1 1 11 1-6 1 6 1-3 1-7 1-3 1 5 1 0 1 3 1-7 1 3 1 0 1 2 1-1 1 0 1 1 1 0 1 7 0-46 -1-10 -1-2 -1 3 -1 2 -1 1 -1-7 -1 3 -1-1 -1 6 -1 6 -1-15 -1 9 -1-1 -1 10 -1-20 -1 6 -1-6 -1 9 -1 5 -1-6 -1-1 -1 0 -1-3 -1 6 -1-11 -1-3 -1 9 -1 1 -1 0 -1 4 -1-11 -1-3 -1 5 -1 8 -1-6 -1-2 -1-2 -1-2 -1-6 -1 2 -1 3 -1-1 -1 13 -1 1 -1-1 -1 2 -1-7 -1-3 -1-2 -1 9 -1-15 -1 11 -1-9 -1-1 -1-1 -1 25 -1-23 -1-2 -1 11 -1-8 -1 6 -1 2 -1-12 -1 13 -1-11 -1 2 -1 3 -1-4 -1 12 -1-9 -1-10 -1 23 -1-14 -1-9 -1 7 -1-4 -1 1 -1 0 -1 10 -1-22 -1 3 -1 2 -1 10 -1-9 -1-16 -1 21 -1-9 -1-19 -1-3 -1 5 -1 2 -1-17 -1-1 -1 5 -1 2 -1-32 -1 4 -1-8 -1 32 -1-4 -1-46 -1-75 -1-30 -1 85 -1 38 -1-38 -1 17 -1-29 -1-1 -1 12 -1 23 -1 17 -1-38 -1-6 -1 17 -1 18 -1-9 -1-22 -1-27 -1-12 -1 52 -1-36 -1 32 -1-16 -1-4 -1 49 -1 7 -1-84 -1 52 -1 10 -1-77 -1 52 -1-24 -1-102 -1 90 -1-41 -1 32 -1-36 -1 34 -1-48 -1-37 -1 32 -1 44 -1 3 -1-63 -1 55 -1 23 -1-7 -1-109 -1 78 -1 31 -1-84 -1 52 -1-93 -1 15 -1 24 -1-69 -1 16 -1-28 -1 72 -1 1 -1-93 -1 57 -1-90 -1-10 -1 60 -1-59 -1-13 -1 32 -1 22 -1-58 -1 76 -1-73 -1 20 -1 58 -1-152 -1 120 -1-132 -1 65 -1-74 -1-35 -1-28 -1-53 -1 2 -1-27 -1 81 -1-26 -1-46 -1-44 -1-47 -1 102 -1-17 -1 16 -1-107 -1-3 -1 15 -1 38 -1-131 -1 30 -1 65 -1-52 -1-9 -1-82 -1-50 -1 92 -1-90 -1 38 -1-30 -1-76 -1 91 -1-98 -1 38 -1-126 -1 1 -1-118 -1 22 -1-129 -1-27 -1-39 -1-102 -1 26 -1-16 -1-49 -1-8 -1-117 -1-80 -1-79 -1-63 -1 73 -1-135 -1 42 -1-90 -1 7 -1 67 -1-82 -1-26 -1 14 -1-47 -1 33 -1 22 -1-106 -1 43 -1-33 -1 81 -1-1 -1-107 -1-25 -1 6 -1 18 -1-27 -1 10 -1 12 -1-1 -1-38 -1 24 -1-12 -1 2 -1-4 -1-4 -1-6 -1 7 -1-21 -1 25 -1-11 -1-5 -1 4 -1-14 -1-2 -1-8 -1-6 -1-4 -1 0 -1 0 -1 0 -1 0 -1 0 -1 0 -1 0 -1 0 -1 0 -1 0 -1 0 -1 0 -1 0 -1 0 -1 0 -1 0 -1 0 -1 0 -1 0 -1 0 -1 0 -1 0 -1 0 -1 0 -1 0 -1 0 -1 0 -1 0 -1 0 -1 0 -1 0 -1 0 -1 0 -1 0 -1 0 -1 0 -1 0z"/>
<path class="bd" fill="#fd7c1a" transform="translate(2044.25 653.80) scale(1.5 -0.1)" d="M16 0 l1 4 1 13 1 12 1 16 1 9 1 21 1 4 1 13 1 9 1 22 1-3 1 41 1 43 1 30 1 28 1 21 1 3 1 41 1 111 1 55 1 67 1 57 1 32 1 58 1 14 1 44 1 39 1 43 1 30 1 41 1 7 1 67 1-3 1 38 1 1 1 64 1 12 1-18 1 46 1 40 1 3 1-18 1 55 1 5 1-26 1 36 1 17 1 7 1 36 1-56 1 27 1 70 1-38 1 64 1-31 1 46 1 30 1 4 1 88 1 168 1 116 1 78 1 34 1-54 1 71 1 40 1-16 1 41 1-32 1 27 1 27 1-3 1 34 1-2 1-9 1-4 1 15 1 6 1-22 1 19 1 2 1-56 1 39 1 34 1-26 1-15 1 21 1-10 1-6 1 52 1 16 1-7 1-9 1 15 1 0 1 14 1-7 1 26 1-17 1 12 1 1 1 5 1-4 1 11 1-18 1-13 1 50 1-9 1-4 1-7 1 26 1-6 1-37 1 2 1 33 1-25 1 19 1-42 1 65 1-29 1 9 1-35 1-3 1-20 1 40 1-5 1-6 1 23 1-13 1-3 1-45 1 42 1 36 1-11 1 20 1-29 1-30 1 47 1 2 1 13 1-24 1-5 1-25 1 31 1 2 1 4 1 9 1 1 1-3 1-6 1-15 1-1 1-15 1-5 1-11 1-2 1 40 1-8 1-11 1-15 1 41 1-18 1 20 1 4 1-15 1 14 1 8 1-16 1 19 1-14 1 15 1-8 1 4 1 2 1-2 1 7 1 3 1-17 1 7 1 10 1 4 1-7 1-8 1 11 1-11 1 11 1 1 1-7 1-1 1 3 1-7 1 10 1 32 1-28 1 2 1-4 1-16 1 12 1-5 1 10 1-7 1-4 1 8 1-49 1 46 1 3 1-19 1-22 1 37 1 10 1-1 1 2 1-1 1 1 1-1 1 3 1-2 1 2 1-4 1-4 1 6 1-10 1 16 1-56 1 7 1 11 1 30 1 4 1-5 1 5 1 0 1-2 1-2 1 11 1-18 1 13 1-2 1 5 1-5 1-2 1 11 1-21 1 10 1 8 1-29 1 20 1 10 1-8 1 3 1-2 1 33 1-35 1-5 1-7 1 10 1 1 1-20 1 29 1-6 1 4 1 11 1-8 1 7 1-22 1 21 1-16 1 3 1-3 1 9 1-5 1 2 1 13 1 7 1-16 1 10 1 0 1-7 1 17 1 1 1 37 1-56 1 3 1-1 1-1 1-4 1-12 1 16 1 2 1-19 1 2 1-5 1 23 1-14 1 7 1 7 1 1 1-24 1 19 1-9 1 12 1 0 1 0 1-1 1-13 1 15 1-20 1 0 1 19 1 0 1-5 1-4 1 6 1 21 1-15 1 0 1 0 1 2 1-22 0-67 -1-3 -1-2 -1 7 -1 0 -1-13 -1 29 -1-23 -1-2 -1-5 -1 1 -1 6 -1 4 -1-4 -1-5 -1 6 -1-6 -1 4 -1-5 -1 1 -1 2 -1 0 -1-1 -1-5 -1 1 -1 4 -1-1 -1-2 -1 5 -1 9 -1-17 -1 9 -1-12 -1 17 -1-9 -1 3 -1 16 -1-2 -1-25 -1-5 -1 22 -1 7 -1 7 -1-40 -1 35 -1 4 -1-31 -1-2 -1-1 -1 3 -1-4 -1 3 -1 11 -1-3 -1-5 -1-1 -1 8 -1-12 -1 1 -1-6 -1 3 -1 7 -1-1 -1 1 -1-9 -1 6 -1-7 -1 25 -1 7 -1 6 -1-21 -1-7 -1-7 -1-12 -1-1 -1 3 -1 8 -1-16 -1-18 -1 5 -1-7 -1-4 -1-1 -1-2 -1 13 -1-19 -1 6 -1-7 -1 19 -1-11 -1-9 -1 16 -1-128 -1-342 -1-375 -1 269 -1 272 -1 293 -1 42 -1-4 -1-15 -1-2 -1 24 -1-9 -1 13 -1 8 -1-13 -1-7 -1-16 -1 2 -1-4 -1-3 -1-12 -1 43 -1-33 -1-9 -1 34 -1-23 -1 5 -1-15 -1 34 -1-14 -1 3 -1 11 -1 18 -1-23 -1 2 -1-14 -1-17 -1 22 -1-26 -1 6 -1-10 -1-6 -1-16 -1 11 -1 8 -1-12 -1-10 -1 8 -1-14 -1-3 -1 26 -1 14 -1-26 -1-24 -1 37 -1 12 -1-35 -1-5 -1 26 -1 16 -1-11 -1-51 -1-10 -1 1 -1 26 -1-26 -1 8 -1-11 -1 18 -1 0 -1-3 -1 2 -1 10 -1 10 -1 3 -1 10 -1-26 -1 1 -1 18 -1-10 -1-22 -1 30 -1-35 -1-15 -1-22 -1 17 -1 1 -1-20 -1 5 -1-3 -1-17 -1 35 -1-52 -1 13 -1 17 -1-9 -1-13 -1 3 -1 29 -1-8 -1-64 -1 67 -1-61 -1 57 -1 15 -1-67 -1 30 -1-52 -1 46 -1-55 -1 17 -1-32 -1-8 -1-28 -1-56 -1 17 -1-54 -1-8 -1-3 -1 9 -1-64 -1 22 -1 2 -1-54 -1-22 -1-5 -1-53 -1 69 -1-90 -1 24 -1 3 -1-57 -1-8 -1 48 -1-62 -1-14 -1 39 -1-46 -1-7 -1-39 -1-3 -1 29 -1-67 -1 53 -1-94 -1-8 -1 5 -1-4 -1-56 -1 10 -1-69 -1 5 -1 2 -1-8 -1-84 -1 31 -1-63 -1 35 -1-47 -1 12 -1-104 -1-10 -1 49 -1-112 -1-42 -1 1 -1-62 -1-15 -1-6 -1-56 -1-50 -1-54 -1-13 -1 21 -1-43 -1-54 -1-43 -1-29 -1-35 -1 10 -1-36 -1-71 -1 14 -1-71 -1 4 -1 68 -1-72 -1 9 -1-9 -1 84 -1-64 -1-47 -1-3 -1 13 -1-53 -1-27 -1 65 -1-98 -1 26 -1-32 -1-15 -1 45 -1-38 -1-1 -1-19 -1-8 -1-47 -1-3 -1-11 -1-11 -1 0 -1 0 -1 0 -1 0 -1 0 -1 0 -1 0 -1 0 -1 0 -1 0 -1 0 -1 0 -1 0 -1 0 -1 0 -1 0 -1 0z"/>
<path class="ln" stroke="#db1d28" transform="translate(2044.25 653.80) scale(0.5 -0.1)" d="M0 0 l1 0 1 0 1 0 1 0 1 0 1 0 1 0 1 0 1 0 1 0 1 0 1 0 1 0 1 0 1 0 1 0 1 0 1 0 1 0 1 0 1 0 1 0 1 0 1 0 1 0 1 0 1 0 1 0 1 0 1 0 1 0 1 0 1 0 1 0 1 0 1 0 1 0 1 0 1 0 1 0 1 0 1 0 1 0 1 0 1 0 1 0 1 0 1 0 1 0 1 0 1 0 1 0 1 0 1 0 1 0 1 0 1 0 1 0 1 0 1 0 1 1 1 5 1-2 1-3 1 1 1 13 1 5 1 10 1 12 1 11 1 6 1 9 1-5 1 45 1-15 1-3 1 0 1 7 1 21 1 24 1 9 1-19 1-28 1 76 1-62 1 155 1 54 1-11 1 30 1-17 1 43 1-72 1 27 1-9 1 47 1 102 1-23 1 95 1 17 1 90 1-14 1 42 1 30 1 173 1 69 1 45 1-38 1 0 1 36 1 78 1 20 1-46 1 34 1 41 1 113 1 39 1-55 1 7 1 45 1 11 1 30 1 79 1-20 1-53 1 50 1 23 1 87 1-37 1 22 1-5 1 26 1 43 1 21 1-27 1 45 1 3 1 51 1-82 1 1 1 62 1 10 1 26 1-9 1 45 1 23 1-11 1 26 1 0 1 25 1-23 1 49 1-20 1-16 1-13 1 1 1 49 1-29 1 25 1-35 1 69 1-27 1 66 1 39 1-17 1 26 1 34 1 4 1 1 1 11 1-2 1-1 1-29 1-11 1-25 1 44 1 15 1-2 1 9 1 7 1 3 1 3 1 14 1-24 1 8 1-9 1 36 1 1 1-11 1 20 1 9 1 25 1-39 1 44 1-38 1-10 1 50 1-35 1-17 1 16 1-18 1-1 1-24 1-10 1 27 1 29 1 24 1-17 1 28 1-3 1 67 1 3 1-31 1 17 1-33 1 74 1-24 1-29 1-36 1 68 1-36 1-29 1 26 1-9 1-7 1 48 1 55 1 5 1-45 1-7 1 12 1 2 1 15 1 23 1-20 1 5 1-15 1 14 1-11 1-14 1 9 1 19 1 17 1 16 1-23 1 5 1 3 1 27 1-27 1 5 1 32 1-35 1 21 1 2 1 24 1 2 1 9 1-34 1 9 1 30 1-2 1-37 1 24 1-32 1-3 1 9 1-3 1 3 1-7 1 21 1-3 1-22 1 3 1 2 1 2 1-7 1-15 1-9 1 24 1-2 1-18 1 30 1-24 1 44 1 2 1 2 1 10 1 11 1-8 1-24 1 2 1 8 1 3 1-22 1-1 1 32 1-6 1-11 1 13 1-4 1 15 1-14 1 14 1-21 1 5 1 21 1-5 1-2 1-9 1 17 1-2 1 6 1-12 1-2 1 3 1-12 1-4 1 7 1-16 1 12 1-23 1 23 1 22 1 8 1 13 1 1 1-5 1-2 1-4 1 3 1 8 1-6 1-4 1-12 1 22 1-7 1 3 1-23 1 15 1 1 1 2 1-11 1-4 1-9 1 17 1-9 1 0 1 8 1-6 1 19 1-17 1-3 1-4 1 21 1 7 1-2 1-10 1-6 1-3 1 10 1 11 1 0 1 0 1 0 1 0 1 0 1 0 1 0 1 0 1 0 1 0 1-13 1 13 1-8 1-4 1 10 1 2 1-8 1 5 1 3 1-1 1 1 1-2 1-4 1-2 1-3 1-5 1 16 1-4 1 0 1 4 1-17 1 1 1 7 1 7 1 2 1-21 1 5 1 0 1-7 1 18 1 3 1-12 1 7 1 2 1 5 1-7 1 7 1 0 1 0 1-17 1 11 1-5 1 4 1 7 1-7 1 7 1 0 1 0 1 0 1 0 1 0 1-6 1 4 1-8 1-7 1-2 1-10 1 2 1 16 1-18 1 20 1-18 1-1 1 13 1-14 1-16 1 7 1 6 1 18 1-2 1 3 1 3 1-14 1 21 1-9 1 0 1 1 1-10 1 2 1-11 1-2 1 18 1 1 1 13 1-19 1 1 1-5 1 15 1 5 1-1 1 4 1-1 1-7 1 8 1-20 1 9 1 8 1-3 1-4 1 10 1-11 1-5 1 4 1 12 1 0 1 0 1 0 1 0 1 0 1 0 1 0 1 0 1-7 1 7 1 0 1 0 1 0 1-8 1 5 1 2 1-5 1 6 1 0 1 0 1 0 1 0 1 0 1 0 1 0 1-1 1 1 1-16 1-2 1 10 1-7 1 8 1 7 1-10 1-4 1 0 1-9 1 23 1 0 1-13 1 7 1-4 1 9 1 1 1 0 1-5 1 0 1 5 1-5 1-7 1-9 1 7 1-11 1 21 1-1 1-8 1-3 1 2 1-9 1 17 1 3 1 1 1-18 1 9 1 0 1 5 1 6 1-15 1-10 1 13 1-9 1 12 1 2 1-1 1-17 1 3 1 6 1 6 1-3 1-3 1-5 1 3 1 4 1 8 1-4 1-16 1 2 1 10 1 8 1 3 1-11 1-1 1-9 1 8 1 12 1-19 1 9 1 14 1 0 1 0 1 0 1 0 1 0 1 0 1 0 1 0 1-8 1 0 1-6 1 12 1 2 1 0 1 0 1 0 1 0 1 0 1 0 1 0 1 0 1 0 1 0 1 0 1-3 1 3 1 0 1-9 1-9 1-15 1 33 1-13 1 4 1-2 1-8 1 9 1-1 1-3 1-5 1 8 1 3 1 7 1-2 1-12 1 5 1 7 1-9 1 7 1-6 1-15 1 6 1 6 1 5 1 1 1-5 1-16 1 8 1 21 1-15 1-1 1-6 1 22 1 0 1 0 1 0 1-7 1 0 1 7 1 0 1-4 1 3 1 0 1-9 1 4 1 6 1-6 1 6 1-15 1 15 1-6 1-9 1 15 1 0 1-20 1 6 1 2 1-4 1 3 1-3 1-3 1 10 1 9 1-5 1 5 1-7 1 3 1-11 1 15 1-2 1-16 1 4 1 6 1-6 1 14 1-8 1 1 1 2 1 4 1 1 1 0 1 0 1 0 1 0 1 0 1 0 1 0 1 0 1-13 1 12 1-15 1 4 1 4 1-21 1 4 1 8 1-12 1 10 1-1 1-2 1 0 1 10 1 12 1 0 1-6 1 6 1-4 1-13 1 3 1 3 1-5 1-4 1 18 1 2 1 0 1 0 1 0 1 0 1 0 1 0 1 0 1-17 1 1 1 3 1 1 1-14 1-9 1 0 1 10 1 18 1-10 1 0 1 4 1-1 1-1 1 9 1-1 1-5 1 9 1-3 1-6 1 8 1-2 1 6 1-12 1-8 1-8 1 28 1 0 1-8 1-9 1 17 1 0 1 0 1 0 1 0 1-20 1 11 1-12 1 9 1 6 1-9 1-17 1 28 1-5 1-4 1-7 1 15 1 3 1 2 1-11 1 11 1-14 1-11 1 8 1-8 1 3 1 13 1 7 1-8 1 8 1 2 1 0 1 0 1 0 1 0 1 0 1 0 1 0 1 0 1 0 1-7 1-2 1-5 1-8 1 3 1-2 1 3 1-7 1 0 1 2 1 15 1-22 1 11 1 7 1 11 1-4 1 5 1-4 1 4 1 0 1-5 1 5 1 0 1-2 1-2 1 4 1-5 1-5 1-11 1-10 1-6 1 23 1 8 1-2 1 3 1 2 1 1 1-9 1-1 1 12 1-5 1 0 1-2 1 7 1 0 1 0 1 0 1-1 1-9 1 0 1 0 1 3 1-17 1 9 1-3 1-16 1 9 1 12 1 13 1-6 1-1 1 3 1-11 1 11 1-3 1-1 1-8 1 16 1-21 1 21 1-11 1 8 1 3 1 0 1-4 1 4 1-3 1-11 1 4 1 7 1-8 1 8 1-1 1 4 1-2 1 2 1 0 1 0 1 0 1 0 1 0 1-6 1 6 1 0 1 0 1 0 1-2 1 2 1 0 1 0 1-5 1 5 1-14 1-8 1 8 1-11 1-1 1 15 1 0 1-8 1 8 1-3 1 14 1 0 1-1 1 1 1 0 1 0 1-2 1 2 1 0 1-4 1 4 1-2 1-14 1 0 1 8 1-6 1-16 1 19 1-1 1 12 1-4 1 4 1 0 1-11 1 5 1-13 1 8 1 6 1-1 1 0 1 6 1-16 1 7 1-1 1 2 1-11 1 11 1 8 1 0 1 0 1 0 1 0 1 0 1 0 1 0 1 0 1 0 1-7 1 7 1-7 1 7 1 0 1 0 1 0 1 0 1 0 1 0 1 0 1 0 1 0 1 0 1 0 1 0 1 0 1 0 1-1 1-14 1 4 1 4 1-12 1 19 1 0 1-7 1 7 1-6 1 6 1 0 1 0 1 0 1 0 1-17 1 17 1-12 1-7 1 15 1-11 1 4 1-11 1 4 1-6 1 24 1-9 1-1 1-13 1 21 1-11 1-1"/>
<path class="ln" stroke="#2ba02e" transform="translate(2044.25 653.80) scale(0.5 -0.1)" d="M0 0 l1 0 1 0 1 0 1 0 1 0 1 0 1 0 1 0 1 0 1 0 1 0 1 0 1 0 1 0 1 0 1 0 1 0 1 0 1 0 1 0 1 0 1 0 1 0 1 0 1 0 1 5 1 2 1-1 1 5 1 4 1 6 1-3 1 3 1 7 1 6 1 3 1 1 1-9 1 2 1 14 1 2 1 15 1 2 1 12 1-17 1 24 1-4 1 0 1 11 1 10 1-13 1 18 1 30 1 22 1 18 1-21 1-1 1 21 1-29 1 1 1 73 1-36 1 53 1-43 1 9 1 11 1 7 1 15 1-13 1 2 1 4 1 35 1 138 1-36 1 39 1 10 1 75 1-26 1 6 1 12 1 6 1 36 1-18 1 55 1 45 1 86 1-44 1-28 1 32 1 53 1 48 1-16 1-47 1 18 1 22 1-14 1 14 1-23 1 24 1 2 1-36 1 7 1 1 1 58 1 73 1 6 1-57 1-2 1-47 1 107 1 37 1 32 1 26 1-17 1 17 1-34 1-7 1-2 1 5 1 45 1 15 1-9 1 33 1 12 1 36 1 42 1 10 1-25 1-36 1 7 1-3 1-18 1 6 1 17 1 35 1 2 1 23 1 73 1 21 1-30 1-9 1 41 1-2 1 14 1-23 1 67 1-10 1 7 1 4 1 14 1 16 1 39 1 0 1 73 1-18 1 28 1-17 1-41 1-57 1-53 1-55 1 20 1-1 1-17 1 102 1 68 1 3 1-11 1 51 1-133 1 17 1-7 1-51 1-36 1-2 1-20 1 49 1 28 1 19 1 110 1-82 1 62 1 22 1 76 1-54 1 21 1 3 1-7 1 35 1 17 1 87 1-12 1 22 1-29 1 32 1 43 1 45 1-72 1 126 1-25 1 53 1-19 1 33 1 58 1-25 1 24 1-10 1-19 1 10 1 7 1 6 1 1 1 37 1-24 1-13 1 32 1 41 1 16 1-2 1-6 1 15 1 1 1 18 1 7 1-9 1 15 1 18 1 6 1 1 1 20 1-63 1 78 1 19 1 25 1-6 1 7 1-7 1 27 1 16 1-4 1 0 1-20 1 17 1 24 1-47 1 35 1-57 1 23 1 18 1-56 1 28 1-12 1 18 1 6 1 0 1-6 1 43 1-20 1 31 1-14 1 18 1-21 1 0 1 2 1-29 1 6 1 10 1-5 1-43 1 10 1 35 1-16 1-30 1-3 1 59 1-33 1-16 1 25 1 17 1-10 1 67 1-17 1 2 1 3 1 13 1-18 1 10 1-18 1 21 1-17 1 7 1 3 1-19 1 33 1-22 1 12 1-4 1-15 1 13 1-10 1-18 1 44 1-19 1 1 1 29 1 28 1-26 1-12 1-10 1 0 1 0 1 15 1 6 1 9 1-16 1-15 1-1 1 1 1 14 1-18 1 27 1-25 1 6 1 13 1 24 1-12 1-13 1-14 1-17 1 43 1 31 1-8 1 7 1-4 1 14 1 28 1 19 1-52 1-13 1-16 1 25 1-48 1 28 1-16 1-10 1-6 1-14 1-16 1 13 1-1 1-7 1 19 1 28 1-18 1 19 1 12 1-21 1 39 1 12 1-11 1 6 1-8 1-16 1 15 1 18 1-7 1-6 1 9 1-5 1-17 1 27 1 24 1-20 1-6 1 29 1-13 1 20 1-17 1 0 1-11 1-15 1 10 1-9 1 6 1-22 1-11 1 9 1-4 1 4 1 20 1-12 1 9 1-28 1 28 1-18 1 12 1 10 1 0 1-5 1 15 1-3 1-1 1 17 1-23 1 19 1-4 1 6 1-16 1 19 1-23 1-5 1 28 1-14 1-11 1 19 1-6 1 4 1-27 1 14 1-2 1-11 1 2 1 5 1-15 1 24 1 1 1 12 1-5 1 6 1 16 1-17 1 8 1-1 1-30 1 4 1-26 1-1 1 21 1 0 1-19 1 20 1-6 1 29 1 7 1-21 1 6 1 3 1-13 1 14 1 27 1-12 1 21 1-19 1-20 1 14 1-17 1 4 1-14 1-2 1-1 1 6 1 7 1-5 1 2 1 20 1-8 1 11 1-7 1 18 1-15 1-5 1 17 1-23 1 20 1-16 1-8 1-11 1 8 1-15 1 42 1-40 1-8 1 24 1 16 1-22 1 32 1 0 1-11 1-18 1 16 1 3 1 0 1-5 1-9 1 14 1 4 1-12 1 8 1 11 1-32 1 8 1-6 1 5 1 22 1-20 1 9 1 7 1 0 1 0 1 3 1-5 1 14 1 8 1-18 1-36 1 32 1-24 1-5 1 16 1-2 1 24 1-18 1-5 1 25 1 6 1 1 1 2 1-15 1-9 1 14 1-3 1-17 1-15 1 23 1-29 1 11 1-4 1-15 1-4 1 17 1 0 1-3 1 45 1-16 1-16 1-13 1 13 1 36 1-1 1-23 1-4 1 15 1 6 1-9 1 13 1-19 1 13 1 13 1-22 1 0 1 0 1 4 1 0 1 16 1-25 1-15 1-12 1-2 1 12 1-4 1 2 1-11 1 19 1 15 1-3 1-7 1-23 1-5 1-1 1-4 1 14 1-6 1 2 1 17 1-28 1 33 1-31 1 5 1 9 1 25 1-15 1-8 1 6 1-13 1 16 1-8 1 35 1-40 1 1 1 23 1-10 1 8 1-6 1 2 1-15 1 16 1-15 1 21 1-4 1-8 1 23 1 6 1 7 1-4 1-28 1 18 1-4 1-40 1-1 1 9 1 16 1-13 1 25 1-7 1 5 1-15 1 13 1 13 1-18 1 4 1-23 1 17 1 14 1-14 1 9 1-34 1 11 1 2 1-15 1 9 1 4 1 11 1 3 1 8 1-21 1 5 1 4 1 26 1-4 1 0 1-7 1-5 1-10 1 19 1 8 1-7 1 2 1 2 1-13 1-13 1 3 1 15 1-18 1-25 1 34 1 12 1 0 1 17 1-10 1-11 1 24 1-8 1 20 1-43 1 9 1 12 1-6 1-14 1-6 1-28 1 37 1-13 1 0 1 19 1-25 1 23 1 0 1-13 1 23 1-36 1 2 1-5 1-19 1 40 1-6 1 5 1-5 1 8 1 8 1 14 1-9 1-9 1 9 1 14 1-12 1-1 1-13 1 4 1 2 1 26 1-21 1 21 1-14 1-1 1 26 1-16 1 4 1-5 1-7 1 11 1-40 1 22 1-17 1 16 1-9 1 1 1-6 1 21 1-15 1 32 1-10 1-8 1 16 1-11 1-17 1 0 1 7 1-8 1-10 1 15 1-4 1-9 1-4 1 6 1 18 1 1 1-21 1 24 1-8 1 27 1-17 1 13 1-16 1-1 1 9 1-17 1-7 1 18 1-25 1 7 1-15 1 17 1-13 1 12 1-14 1 4 1-15 1 17 1-10 1 21 1-18 1 7 1-8 1 10 1 14 1-9 1 11 1-9 1 5 1 3 1 6 1 9 1-35 1-3 1-9 1-6 1 5 1-5 1-9 1 1 1-4 1 9 1 31 1-13 1 9 1 24 1-4 1 8 1-5 1 1 1 2 1-1 1 8 1-16 1-10 1 3 1-26 1-19 1 24 1 22 1-25 1 14 1 16 1-4 1-3 1 7 1 7 1-6 1-7 1-2 1 7 1-2 1-12 1 11 1 8 1-7 1-1 1-9 1-7 1 16 1-15 1 2 1 26 1-21 1 17 1 4 1-14 1 24 1-31 1-14 1-9 1-14 1 12 1 29 1 6 1-23 1 15 1 15 1-11 1 15 1-10 1-8 1 7 1-6 1 17 1-38 1 0 1-7 1 28 1-9 1-6 1 2 1-4 1 24 1-6 1 24 1 4 1 1 1-11 1 5 1-9 1-9 1-4 1-1 1-10 1-9 1-7 1 32 1-4 1-7 1 15 1 5 1-12 1 4 1 13 1-10 1 5 1-13 1-15 1 24 1-10 1-2 1 16 1-15 1 2 1 8 1 7 1-16 1-2 1 8 1-8 1 17 1-8 1-19 1 16 1-10 1 5 1 0 1 21 1-29 1 5 1 27 1 8 1-4 1-8 1-13 1 3 1-12 1 13 1 13 1-41 1 16 1-21 1 21 1-11 1 10 1-14 1-9 1 3 1 25 1-13 1 12 1 20 1-32 1 9 1-12 1 7 1 0 1 4 1 10 1 4 1 1 1 18 1-3 1-10 1 3 1-38 1 21 1-17 1-2 1-15 1-21 1 6 1 3 1 15 1-1 1-4 1 16 1 12 1-13 1 3 1-18 1 11 1-4 1 11 1 11 1-22 1-1 1 33 1-25 1 28 1-3 1-1 1 10 1 5 1-15 1-7 1 17 1 2 1-12 1-6 1-5 1 23 1-5 1 2 1-19 1-2 1 5 1-7 1-4 1-5 1-6 1 7 1-2 1-12 1 22 1 10 1 24 1-7 1 2 1 14"/>
<path class="ln" stroke="#1576b3" transform="translate(2044.25 653.80) scale(0.5 -0.1)" d="M0 0 l1 0 1 0 1 0 1 0 1 0 1 0 1 0 1 0 1 0 1 0 1 0 1 0 1 0 1 0 1 0 1 0 1 0 1 0 1 0 1 0 1 0 1 0 1 0 1 0 1 0 1 0 1 0 1 0 1 0 1 0 1 0 1 0 1 0 1 0 1 0 1 0 1 0 1 0 1 0 1 0 1 0 1 0 1 0 1 0 1 0 1 0 1 0 1 0 1 0 1 0 1 0 1 0 1 0 1 0 1 0 1 0 1 0 1 0 1 0 1 0 1 0 1 0 1 0 1 0 1 0 1 0 1 0 1 0 1 0 1 0 1 0 1 0 1 0 1 0 1 0 1 0 1 0 1 0 1 0 1 0 1 0 1 0 1 0 1 0 1 0 1 0 1 0 1 0 1 0 1 0 1 0 1 0 1 0 1 0 1 0 1 0 1 0 1 0 1 0 1 0 1 0 1 0 1 0 1 0 1 0 1 0 1 0 1 0 1 0 1 0 1 0 1 0 1 0 1 0 1 0 1 0 1 0 1 0 1 0 1 0 1 0 1 0 1 0 1 0 1 0 1 0 1 0 1 0 1 0 1 0 1 0 1 0 1 0 1 0 1 0 1 0 1 0 1 0 1 0 1 0 1 1 1 3 1 1 1 4 1 6 1-1 1-2 1 7 1 11 1-2 1-8 1-9 1 11 1-7 1 2 1 9 1 11 1-13 1 6 1-3 1 3 1 2 1-5 1 0 1 3 1-2 1 0 1 6 1-3 1-1 1-4 1 7 1-6 1 8 1-21 1-9 1 22 1 0 1 7 1 7 1 35 1-6 1-9 1 25 1-13 1 50 1-46 1 42 1-24 1 6 1 12 1 0 1 34 1-20 1 13 1 19 1-70 1-20 1 29 1 13 1 67 1-9 1 41 1-20 1 75 1 5 1 4 1-15 1-7 1 35 1 47 1 11 1 26 1-14 1 101 1-47 1-26 1-3 1-37 1 44 1-12 1-7 1-3 1 33 1-6 1 72 1 20 1-18 1-5 1-15 1 62 1 8 1 17 1 84 1 17 1-28 1-11 1 40 1 63 1 48 1-1 1 42 1 43 1-10 1 32 1 21 1-18 1 17 1 16 1-21 1 65 1 27 1-37 1-42 1-49 1-81 1 65 1 18 1-15 1 40 1 30 1 3 1 2 1 31 1-14 1 23 1 33 1 86 1 26 1 24 1 12 1 15 1 49 1-11 1 24 1 12 1 37 1-67 1 30 1 39 1-33 1 15 1 31 1 26 1 51 1 15 1-23 1 2 1 16 1-2 1 21 1 8 1-50 1 24 1 44 1 90 1 45 1-42 1 21 1-25 1 41 1 7 1-21 1-11 1 29 1-25 1 14 1 28 1 10 1 68 1-27 1 15 1-19 1 32 1 0 1 40 1-36 1 42 1-12 1 14 1-12 1 6 1 0 1 21 1-11 1-32 1 26 1 35 1-28 1-37 1 27 1 8 1-13 1 27 1-19 1-4 1-3 1 35 1 35 1-40 1-20 1 33 1-3 1 22 1 6 1-3 1 21 1 7 1-7 1 13 1 24 1 25 1-2 1-26 1-7 1 9 1 59 1-10 1 6 1 4 1 1 1 14 1-2 1 32 1-11 1 45 1-32 1 35 1 15 1 68 1-50 1-17 1-17 1 6 1 21 1-6 1 4 1-6 1-13 1 29 1-36 1 5 1-1 1 18 1-14 1-39 1 10 1-31 1-16 1 55 1-47 1 24 1-5 1 15 1-7 1 17 1 6 1-49 1 35 1 48 1 0 1-15 1-12 1 27 1 1 1 41 1-14 1-33 1 36 1-21 1 8 1 18 1-13 1-19 1 20 1-13 1 15 1-21 1 42 1-38 1 4 1-14 1-20 1 40 1-37 1 23 1-25 1 53 1-4 1 73 1-20 1-14 1 41 1 38 1-11 1 17 1-44 1-47 1 3 1-15 1 39 1-7 1-23 1 0 1 36 1-28 1-44 1 64 1 14 1-34 1-36 1 8 1 6 1 1 1 25 1 5 1-18 1 47 1 46 1-69 1 37 1 12 1-17 1 35 1 1 1-14 1-1 1 29 1 6 1-17 1-18 1 3 1 2 1 18 1 5 1-24 1-13 1 8 1-55 1 33 1 21 1-21 1 26 1 7 1 7 1-34 1-3 1 46 1-8 1-21 1 16 1-1 1-27 1-11 1 13 1-23 1 65 1-26 1-3 1 0 1 57 1-37 1 13 1 11 1-40 1 43 1 2 1-5 1 19 1 22 1-23 1 7 1-16 1 17 1-18 1 14 1-16 1 5 1 5 1-5 1-2 1-9 1 14 1 7 1 1 1 22 1-9 1-15 1-2 1 13 1 0 1 20 1-12 1 8 1 6 1-17 1 14 1 2 1-8 1 10 1 3 1-15 1 29 1-40 1 15 1 7 1-45 1 34 1 3 1-46 1-12 1 17 1 31 1-6 1 26 1-17 1-8 1-12 1 21 1 7 1-2 1-44 1 1 1 13 1 1 1 20 1-13 1-12 1-12 1 4 1 16 1-15 1 26 1-17 1 13 1 1 1-21 1 33 1-6 1 1 1-11 1 40 1-19 1-2 1 19 1-7 1 15 1-14 1-22 1 9 1 26 1-18 1 3 1 7 1 10 1-23 1-15 1-10 1-1 1-3 1 13 1 17 1-28 1 37 1-4 1 0 1-7 1-4 1 1 1 3 1 26 1-12 1 11 1-9 1 1 1 26 1 7 1-35 1 8 1 6 1-5 1 1 1-18 1 27 1-22 1-2 1-4 1-4 1 21 1-12 1-3 1 13 1-3 1-8 1-1 1-4 1 3 1 9 1-16 1 26 1-12 1 12 1-27 1-5 1 12 1 7 1 1 1 2 1-17 1 11 1 23 1-21 1 36 1-3 1-30 1 5 1-6 1 10 1 1 1-13 1-16 1 17 1-1 1-8 1 4 1 0 1-22 1 17 1 7 1-11 1 11 1-2 1-8 1 1 1 20 1-10 1 7 1 4 1 0 1 24 1-28 1 3 1-7 1-15 1 17 1 6 1-14 1-4 1 14 1 12 1 13 1-15 1 16 1-22 1 12 1-6 1 8 1 1 1 0 1-13 1-4 1 3 1 12 1 1 1-4 1-17 1 10 1 1 1-17 1 18 1-21 1 21 1 19 1-19 1 22 1 1 1 2 1 2 1-7 1 24 1-19 1 6 1 0 1 1 1-15 1 10 1 6 1-7 1-16 1 15 1-9 1 10 1-11 1 10 1 3 1 1 1 0 1-20 1 23 1-4 1 5 1-3 1-7 1 5 1-4 1-5 1 13 1-16 1 5 1 5 1-29 1 15 1-2 1-8 1 0 1 10 1-12 1 2 1 5 1 0 1 3 1 8 1 9 1-10 1 4 1-7 1 21 1-7 1-23 1 36 1-23 1-5 1-6 1 13 1-20 1 9 1-2 1 4 1-14 1 4 1 4 1 19 1-15 1 11 1-4 1 13 1-3 1 13 1-2 1-6 1-4 1 3 1-6 1-2 1 8 1-12 1-4 1 9 1 12 1-27 1-5 1 22 1-27 1 20 1-5 1-1 1 3 1 3 1 2 1-1 1-8 1 0 1 10 1-9 1 3 1-3 1-1 1 14 1 5 1-3 1-9 1 15 1 9 1-32 1 11 1-19 1 7 1-15 1 10 1-25 1 19 1 11 1 14 1 10 1-12 1-14 1-2 1 27 1-12 1-6 1-22 1 15 1 9 1 2 1-7 1-2 1 17 1 13 1-21 1 3 1 5 1-3 1 4 1-19 1 3 1 6 1 1 1-11 1 3 1-5 1 20 1-24 1 17 1 13 1-27 1 12 1 0 1 12 1-17 1 15 1 3 1-6 1-5 1-1 1 2 1-16 1 24 1 6 1-15 1-6 1 6 1 0 1 3 1 2 1-5 1 21 1-14 1 10 1-6 1 6 1-15 1 11 1-3 1-17 1 3 1 9 1-5 1-2 1 2 1-2 1 5 1 6 1 7 1-4 1 12 1-24 1 8 1 15 1-23 1-21 1 37 1-15 1-10 1-2 1 13 1-5 1-10 1 19 1-9 1 21 1-12 1 12 1 2 1-14 1 10 1-3 1-21 1 8 1-8 1 28 1-20 1 10 1 6 1-3 1-2 1 12 1-11 1-14 1-10 1 5 1 5 1 4 1 22 1-13 1 5 1-10 1 17 1-17 1-3 1-1 1 24 1-6 1-15 1 15 1 5 1 1 1 0 1 0 1 0 1-3 1 0 1-9 1 1 1 4 1-3 1-20 1 11 1 3 1 8 1 6 1-9 1 3 1 8 1-2 1-3 1-3 1-7 1-17 1 6 1 9 1-6 1 0 1 0 1 1 1-2 1 12 1-24 1 7 1 14 1-4 1-13 1 8 1-5 1 10 1-14 1-4 1 12 1 14 1-13 1 24 1 0"/>
<path class="ln" stroke="#fd7c1a" transform="translate(2044.25 653.80) scale(0.5 -0.1)" d="M0 0 l1 0 1 0 1 0 1 0 1 0 1 0 1 0 1 0 1 0 1 0 1 0 1 0 1 0 1 0 1 0 1 0 1 0 1 0 1 0 1 0 1 0 1 0 1 0 1 0 1 0 1 0 1 0 1 0 1 0 1 0 1 0 1 0 1 0 1 0 1 0 1 0 1 0 1 0 1 0 1 0 1 0 1 0 1 0 1 0 1 0 1 0 1 0 1 0 1 0 1 0 1 0 1 0 1 0 1 0 1 3 1-1 1-1 1 2 1 1 1-1 1 2 1 11 1 19 1-4 1-1 1-6 1 24 1-16 1 6 1 8 1 30 1-19 1 6 1-10 1 19 1 19 1-2 1-27 1 19 1 13 1-17 1 14 1 20 1 30 1-4 1 4 1 26 1-16 1 21 1 21 1 30 1-50 1-15 1 51 1-11 1 43 1-17 1-39 1 8 1 20 1-29 1-10 1-28 1 3 1-32 1 79 1 1 1 16 1-17 1 11 1 48 1 49 1 19 1 101 1-12 1 13 1-44 1 52 1 44 1 27 1-3 1-36 1 24 1 19 1-7 1-13 1-13 1 17 1 18 1-22 1-28 1 6 1 41 1-50 1 16 1 41 1 30 1-8 1 1 1 25 1-47 1 14 1 41 1-21 1 5 1 50 1-36 1 64 1-23 1 12 1 13 1 24 1 29 1 68 1-44 1 4 1-4 1-94 1-21 1-15 1-17 1-60 1 18 1 11 1-6 1-38 1 24 1-15 1-9 1-1 1 7 1-28 1 27 1-62 1 7 1 3 1 35 1 11 1 97 1-41 1-1 1-20 1-6 1 34 1 10 1 3 1-32 1-12 1-16 1 78 1 40 1 5 1 29 1 59 1 128 1 57 1 4 1-42 1-8 1-19 1 7 1 11 1-8 1 41 1-58 1 22 1-84 1 15 1-1 1 107 1 68 1 90 1 16 1-7 1 7 1-15 1-124 1-93 1 1 1-31 1 1 1 41 1 100 1 12 1-2 1 13 1-67 1 24 1 32 1 184 1 133 1 168 1-97 1 14 1 14 1-48 1 72 1-17 1 1 1-12 1-25 1 2 1-39 1 21 1-27 1 50 1 4 1 7 1 0 1 40 1 39 1-17 1 16 1-2 1 24 1 2 1 24 1-37 1-32 1 38 1 22 1 13 1-24 1-8 1-8 1 87 1-71 1 24 1 43 1 10 1-39 1 31 1-33 1-5 1 12 1 22 1-9 1 25 1-3 1 11 1 15 1 16 1-25 1 6 1 8 1-12 1 49 1-30 1-4 1 31 1 23 1 26 1-12 1-2 1 5 1 27 1-9 1-28 1-22 1 6 1 27 1 69 1-13 1 22 1-44 1 39 1-24 1-5 1-21 1 11 1 15 1-24 1 5 1 16 1 4 1 37 1 21 1-38 1 51 1 0 1-13 1-6 1 15 1 18 1-53 1 67 1-44 1-21 1-21 1 25 1 25 1 9 1-14 1 1 1 21 1 20 1 7 1 4 1-16 1-51 1 4 1 4 1 24 1-7 1-9 1 28 1-41 1 12 1-2 1 13 1-43 1 54 1-52 1-12 1 32 1-11 1 17 1 15 1-21 1 1 1 50 1-39 1 52 1-12 1 36 1-42 1 28 1-9 1 24 1-86 1-33 1 71 1 43 1 1 1-46 1 41 1 5 1 46 1-19 1 36 1 11 1-9 1-19 1 13 1-6 1 5 1 15 1 0 1 8 1-12 1-9 1 31 1-22 1 43 1-11 1 6 1-22 1-1 1 62 1-25 1 24 1 17 1-20 1 24 1-20 1 40 1 27 1-12 1 20 1-76 1 26 1 24 1-23 1-3 1 7 1 1 1 22 1-14 1 15 1-30 1 37 1-31 1-5 1 7 1 35 1 29 1-15 1 6 1-17 1 23 1-12 1 0 1 10 1-75 1 42 1-38 1-15 1-22 1 7 1 11 1 1 1 4 1-9 1 30 1-1 1 16 1-13 1 1 1 25 1 12 1-34 1 9 1-1 1 27 1-32 1 12 1 7 1-23 1-19 1-1 1 7 1-47 1 36 1-1 1-12 1 16 1 7 1 7 1-27 1-4 1-2 1 42 1-12 1-52 1 37 1 32 1-2 1 8 1-5 1-18 1 17 1 41 1 19 1-13 1 4 1-11 1 15 1 3 1-13 1-16 1 19 1 4 1 9 1-40 1 40 1-21 1-23 1 18 1-58 1 70 1 12 1-5 1-31 1 37 1-26 1-17 1 40 1 1 1-30 1 8 1 4 1-38 1 13 1-6 1-3 1-19 1 45 1-33 1 27 1-15 1-2 1-7 1-2 1-2 1 44 1 7 1-2 1-17 1-12 1 32 1-3 1 0 1 24 1 0 1-6 1-4 1 23 1-8 1 29 1 10 1-54 1 45 1-19 1 17 1 0 1-21 1-3 1 41 1 5 1-1 1 4 1-41 1 70 1-36 1 3 1-36 1 6 1-5 1 20 1 23 1-4 1-14 1 22 1-36 1 42 1-26 1-10 1-33 1 4 1 15 1-12 1-12 1 25 1 16 1-37 1-19 1 82 1-22 1-11 1 4 1-32 1 22 1 17 1-22 1 18 1 1 1-27 1-2 1 4 1 4 1-1 1-33 1 23 1 23 1-7 1-7 1 11 1 10 1 11 1 12 1-30 1-12 1 2 1 28 1-14 1-5 1 0 1 14 1-29 1 16 1 4 1-35 1 26 1-2 1-10 1 0 1 46 1-4 1-21 1-2 1 14 1-10 1 21 1 6 1-8 1 46 1-1 1-31 1-9 1 2 1-13 1 21 1 4 1-35 1-8 1 13 1 0 1-22 1-6 1 37 1-12 1 12 1 25 1 17 1-61 1 50 1-19 1 4 1-40 1 13 1-21 1 25 1-66 1 38 1 7 1 3 1-13 1-49 1 18 1-24 1 55 1-19 1 55 1 20 1-76 1 45 1-51 1-10 1-8 1 21 1-7 1-26 1 23 1 45 1-18 1-17 1 30 1-8 1 32 1-15 1 1 1 14 1 31 1-5 1 17 1-7 1-39 1 27 1-13 1 7 1-38 1 13 1 27 1-28 1 21 1-32 1-20 1 20 1-9 1 39 1-35 1 26 1-44 1 25 1 13 1 4 1-13 1-4 1-16 1-17 1-33 1-178 1-112 1-33 1 160 1-39 1-34 1-95 1-87 1-92 1 220 1 51 1 84 1-17 1 26 1-1 1 192 1 2 1 23 1 11 1-36 1 38 1 20 1-7 1-24 1-32 1 24 1-13 1 14 1-25 1 18 1 39 1-11 1-20 1 5 1 20 1-20 1 0 1 8 1-37 1 18 1-14 1 25 1 37 1-21 1 22 1-18 1-7 1 7 1-18 1-5 1-2 1-24 1 22 1-29 1 29 1 11 1 16 1-33 1 10 1 6 1 9 1-7 1-11 1-23 1-20 1 30 1-11 1 7 1-14 1 3 1-11 1-16 1 21 1 10 1 4 1-34 1 17 1 25 1-23 1 20 1 33 1-36 1 13 1 41 1-11 1 7 1 2 1-2 1 8 1 42 1-77 1 4 1 24 1-15 1 5 1-29 1 11 1 53 1-50 1 12 1-25 1 22 1-47 1 39 1 5 1-32 1-34 1 32 1 21 1 1 1 0 1-45 1 16 1 40 1-30 1-13 1 3 1 1 1 23 1-17 1 25 1-5 1-9 1 12 1-26 1-8 1 21 1 21 1-45 1 21 1 16 1-19 1-16 1 17 1 13 1 0 1-10 1 4 1 7 1 25 1-22 1-13 1 12 1-20 1 34 1 19 1-28 1 4 1 19 1-15 1 49 1-58 1-9 1 37 1 14 1 25 1-32 1 15 1-22 1 27 1-9 1 15 1-29 1 24 1 5 1 3 1-7 1-16 1-2 1 19 1 13 1 27 1-24 1-2 1 4 1 10 1 23 1-66 1 17 1-12 1 14 1-6 1 0 1-3 1-34 1-14 1-2 1-11 1 9 1-50 1 10 1 44 1-38 1 21 1 22 1 2 1 7 1 0 1 35 1-5 1-2 1-42 1 31 1-45 1 26 1-33 1-13 1 13 1 13 1-9 1-9 1 15 1-21 1 12 1-37 1 28 1 1 1 27 1-10 1-1 1 11 1 29 1 9 1-49 1 31 1-42 1-1 1-12 1 13 1-34 1 34 1 7 1 12 1-4 1 17 1 39 1-42 1-30 1 32 1-45 1 11 1 22 1-5 1-6 1 31 1 22 1-51 1 8 1 1 1-37 1 24 1-18 1 15 1-2 1 5 1-2 1 38 1-32 1 14 1 16 1 2 1-19 1 39 1 1 1-32 1-11 1 24 1-22 1 27 1-10 1 14 1-15 1 17 1-2 1-14 1 53 1-42 1 38 1-16 1 19 1-11 1-19 1 16 1 12 1-29 1-14 1-24 1-5 1-4 1-7"/>
<rect x="2019.10" y="418.70" width="553.20" height="246.30" fill="none" stroke="#d0d0d0" stroke-width="1.7"/>
<g class="tk">
<text transform="translate(2044.2 688.0) scale(1 1.12)" text-anchor="middle">0.0</text>
<text transform="translate(2144.4 688.0) scale(1 1.12)" text-anchor="middle">0.2</text>
<text transform="translate(2244.5 688.0) scale(1 1.12)" text-anchor="middle">0.4</text>
<text transform="translate(2344.6 688.0) scale(1 1.12)" text-anchor="middle">0.6</text>
<text transform="translate(2444.7 688.0) scale(1 1.12)" text-anchor="middle">0.8</text>
<text transform="translate(2544.9 688.0) scale(1 1.12)" text-anchor="middle">1.0</text>
<text transform="translate(2011.1 661.2) scale(1 1.12)" text-anchor="end">0.00</text>
<text transform="translate(2011.1 605.2) scale(1 1.12)" text-anchor="end">0.25</text>
<text transform="translate(2011.1 549.2) scale(1 1.12)" text-anchor="end">0.50</text>
<text transform="translate(2011.1 493.3) scale(1 1.12)" text-anchor="end">0.75</text>
<text transform="translate(2011.1 437.3) scale(1 1.12)" text-anchor="end">1.00</text>
<text transform="translate(2570.8 713.2) scale(1 1.12)" text-anchor="end" style="font-size:20.2px">1e7</text>
</g>
<text class="tt" x="2296.1" y="411.4" text-anchor="middle">27m_vs_30m (super hard)</text>
</g>
<line x1="851.7" y1="39.3" x2="915.1" y2="39.3" stroke="#db1d28" stroke-width="9.1" stroke-linecap="round"/>
<text class="lg" x="941.2" y="50.5">HPN-QMIX</text>
<line x1="1165.2" y1="39.3" x2="1228.1" y2="39.3" stroke="#2ba02e" stroke-width="9.1" stroke-linecap="round"/>
<text class="lg" x="1253.8" y="50.5">QMIX</text>
<line x1="1401.7" y1="39.3" x2="1464.4" y2="39.3" stroke="#1576b3" stroke-width="9.1" stroke-linecap="round"/>
<text class="lg" x="1491.2" y="50.5">HPN-VDN</text>
<line x1="1700.6" y1="39.3" x2="1763.3" y2="39.3" stroke="#fd7c1a" stroke-width="9.1" stroke-linecap="round"/>
<text class="lg" x="1789.4" y="50.5">VDN</text>
<text class="lb" x="1371.6" y="751.3" text-anchor="middle">Environment Step</text>
<text class="lb" transform="translate(102.8 383) rotate(-90)" text-anchor="middle">Median Test Win %</text>
<defs><filter id="ws" x="-5%" y="-25%" width="112%" height="160%"><feDropShadow dx="6" dy="6" stdDeviation="0" flood-color="#000" flood-opacity="0.32"/></filter></defs>
<text filter="url(#ws)" font-weight="400" style="fill:#fff"><tspan font-size="80" x="2183.5 2265.7" y="688.5 688.5">知乎</tspan><tspan font-size="76" x="2350 2373.3 2450.9 2527.8" y="686 680.2 686.1 686.6"> @比里</tspan></text>
</svg></body></html>
